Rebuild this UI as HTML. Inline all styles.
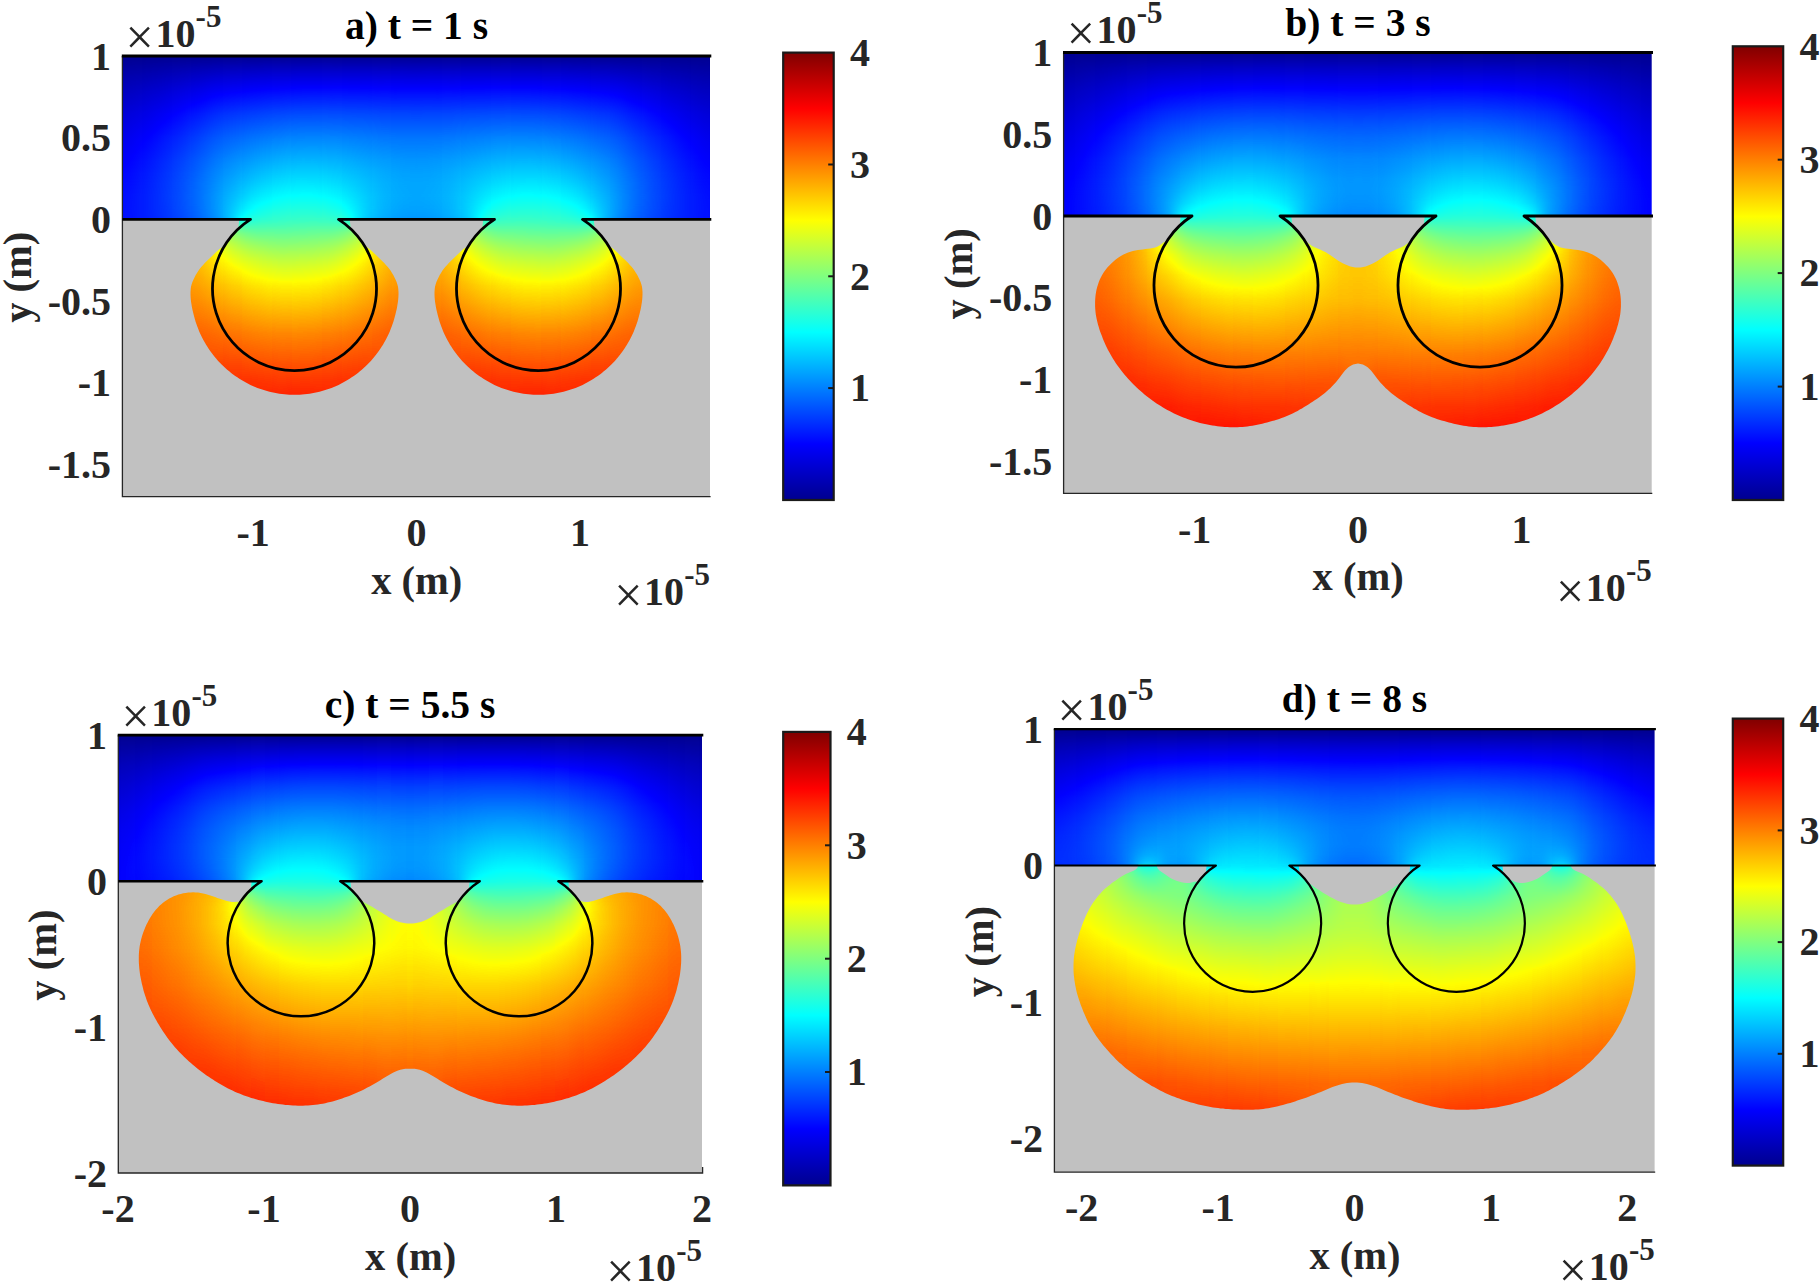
<!DOCTYPE html><html><head><meta charset="utf-8"><title>figure</title><style>html,body{margin:0;padding:0;background:#fff}svg{display:block}text{font-family:"Liberation Serif",serif;font-weight:bold;fill:#262626}</style></head><body>
<svg width="1820" height="1284" viewBox="0 0 1820 1284">
<defs><filter id="jt" x="-5%" y="-5%" width="110%" height="110%" color-interpolation-filters="sRGB"><feGaussianBlur stdDeviation="4 0"/><feComponentTransfer><feFuncR type="table" tableValues="0 0 0 0 .5"/><feFuncG type="table" tableValues="0 0 .5 1 1"/><feFuncB type="table" tableValues=".56 1 1 1 .5"/></feComponentTransfer></filter><filter id="jl" x="-5%" y="-5%" width="110%" height="110%" color-interpolation-filters="sRGB"><feGaussianBlur stdDeviation="5 0"/><feComponentTransfer><feFuncR type="table" tableValues="0 0 .5 1 1 1 .5"/><feFuncG type="table" tableValues=".5 1 1 1 .5 0 0"/><feFuncB type="table" tableValues="1 1 .5 0 0 0 0"/></feComponentTransfer></filter><linearGradient id="cbg" x1="0" x2="0" y1="1" y2="0"><stop offset="0" stop-color="#00008f"/><stop offset=".125" stop-color="#0000ff"/><stop offset=".375" stop-color="#00ffff"/><stop offset=".625" stop-color="#ffff00"/><stop offset=".875" stop-color="#ff0000"/><stop offset="1" stop-color="#800000"/></linearGradient></defs>
<rect width="1820" height="1284" fill="#fff"/>
<g id="panel-a">
<defs><linearGradient id="a0" x2="0" y2="1"><stop offset="0" stop-color="#000000"/><stop offset=".002" stop-color="#010101"/><stop offset=".039" stop-color="#060606"/><stop offset=".1" stop-color="#0e0e0e"/><stop offset=".162" stop-color="#161616"/><stop offset=".223" stop-color="#1d1d1d"/><stop offset=".357" stop-color="#2a2a2a"/><stop offset=".504" stop-color="#363636"/><stop offset=".639" stop-color="#3e3e3e"/><stop offset=".712" stop-color="#424242"/><stop offset=".774" stop-color="#444444"/><stop offset=".859" stop-color="#464646"/><stop offset=".933" stop-color="#474747"/><stop offset=".969" stop-color="#474747"/><stop offset="1" stop-color="#474747"/></linearGradient><linearGradient id="a1" x2="0" y2="1"><stop offset="0" stop-color="#000000"/><stop offset=".002" stop-color="#010101"/><stop offset=".039" stop-color="#060606"/><stop offset=".1" stop-color="#0f0f0f"/><stop offset=".162" stop-color="#161616"/><stop offset=".223" stop-color="#1d1d1d"/><stop offset=".357" stop-color="#2a2a2a"/><stop offset=".504" stop-color="#363636"/><stop offset=".639" stop-color="#3e3e3e"/><stop offset=".712" stop-color="#414141"/><stop offset=".774" stop-color="#444444"/><stop offset=".859" stop-color="#464646"/><stop offset=".933" stop-color="#474747"/><stop offset=".969" stop-color="#484848"/><stop offset="1" stop-color="#484848"/></linearGradient><linearGradient id="a2" x2="0" y2="1"><stop offset="0" stop-color="#000000"/><stop offset=".002" stop-color="#010101"/><stop offset=".039" stop-color="#070707"/><stop offset=".1" stop-color="#0e0e0e"/><stop offset=".162" stop-color="#161616"/><stop offset=".223" stop-color="#1d1d1d"/><stop offset=".357" stop-color="#2a2a2a"/><stop offset=".504" stop-color="#353535"/><stop offset=".639" stop-color="#3e3e3e"/><stop offset=".712" stop-color="#424242"/><stop offset=".774" stop-color="#444444"/><stop offset=".859" stop-color="#464646"/><stop offset=".933" stop-color="#474747"/><stop offset=".969" stop-color="#474747"/><stop offset="1" stop-color="#474747"/></linearGradient><linearGradient id="a3" x2="0" y2="1"><stop offset="0" stop-color="#000000"/><stop offset=".002" stop-color="#010101"/><stop offset=".039" stop-color="#060606"/><stop offset=".1" stop-color="#101010"/><stop offset=".162" stop-color="#171717"/><stop offset=".223" stop-color="#1e1e1e"/><stop offset=".357" stop-color="#2d2d2d"/><stop offset=".504" stop-color="#393939"/><stop offset=".639" stop-color="#414141"/><stop offset=".712" stop-color="#444444"/><stop offset=".774" stop-color="#464646"/><stop offset=".859" stop-color="#494949"/><stop offset=".933" stop-color="#4a4a4a"/><stop offset=".969" stop-color="#494949"/><stop offset="1" stop-color="#494949"/></linearGradient><linearGradient id="a4" x2="0" y2="1"><stop offset="0" stop-color="#000000"/><stop offset=".002" stop-color="#010101"/><stop offset=".039" stop-color="#070707"/><stop offset=".1" stop-color="#101010"/><stop offset=".162" stop-color="#191919"/><stop offset=".223" stop-color="#202020"/><stop offset=".357" stop-color="#2f2f2f"/><stop offset=".504" stop-color="#3c3c3c"/><stop offset=".639" stop-color="#444444"/><stop offset=".712" stop-color="#484848"/><stop offset=".774" stop-color="#4a4a4a"/><stop offset=".859" stop-color="#4c4c4c"/><stop offset=".933" stop-color="#4c4c4c"/><stop offset=".969" stop-color="#4c4c4c"/><stop offset="1" stop-color="#4c4c4c"/></linearGradient><linearGradient id="a5" x2="0" y2="1"><stop offset="0" stop-color="#000000"/><stop offset=".002" stop-color="#010101"/><stop offset=".039" stop-color="#070707"/><stop offset=".1" stop-color="#111111"/><stop offset=".162" stop-color="#191919"/><stop offset=".223" stop-color="#222222"/><stop offset=".357" stop-color="#313131"/><stop offset=".504" stop-color="#3e3e3e"/><stop offset=".639" stop-color="#474747"/><stop offset=".712" stop-color="#4a4a4a"/><stop offset=".774" stop-color="#4c4c4c"/><stop offset=".859" stop-color="#4e4e4e"/><stop offset=".933" stop-color="#4e4e4e"/><stop offset=".969" stop-color="#4e4e4e"/><stop offset="1" stop-color="#4d4d4d"/></linearGradient><linearGradient id="a6" x2="0" y2="1"><stop offset="0" stop-color="#000000"/><stop offset=".002" stop-color="#010101"/><stop offset=".039" stop-color="#080808"/><stop offset=".1" stop-color="#121212"/><stop offset=".162" stop-color="#1c1c1c"/><stop offset=".223" stop-color="#242424"/><stop offset=".357" stop-color="#333333"/><stop offset=".504" stop-color="#414141"/><stop offset=".639" stop-color="#4a4a4a"/><stop offset=".712" stop-color="#4e4e4e"/><stop offset=".774" stop-color="#505050"/><stop offset=".859" stop-color="#515151"/><stop offset=".933" stop-color="#515151"/><stop offset=".969" stop-color="#515151"/><stop offset="1" stop-color="#505050"/></linearGradient><linearGradient id="a7" x2="0" y2="1"><stop offset="0" stop-color="#000000"/><stop offset=".002" stop-color="#010101"/><stop offset=".039" stop-color="#080808"/><stop offset=".1" stop-color="#131313"/><stop offset=".162" stop-color="#1d1d1d"/><stop offset=".223" stop-color="#262626"/><stop offset=".357" stop-color="#373737"/><stop offset=".504" stop-color="#444444"/><stop offset=".639" stop-color="#4e4e4e"/><stop offset=".712" stop-color="#515151"/><stop offset=".774" stop-color="#535353"/><stop offset=".859" stop-color="#555555"/><stop offset=".933" stop-color="#555555"/><stop offset=".969" stop-color="#535353"/><stop offset="1" stop-color="#535353"/></linearGradient><linearGradient id="a8" x2="0" y2="1"><stop offset="0" stop-color="#000000"/><stop offset=".002" stop-color="#010101"/><stop offset=".039" stop-color="#090909"/><stop offset=".1" stop-color="#141414"/><stop offset=".162" stop-color="#1e1e1e"/><stop offset=".223" stop-color="#272727"/><stop offset=".357" stop-color="#393939"/><stop offset=".504" stop-color="#484848"/><stop offset=".639" stop-color="#525252"/><stop offset=".712" stop-color="#555555"/><stop offset=".774" stop-color="#585858"/><stop offset=".859" stop-color="#585858"/><stop offset=".933" stop-color="#585858"/><stop offset=".969" stop-color="#585858"/><stop offset="1" stop-color="#565656"/></linearGradient><linearGradient id="a9" x2="0" y2="1"><stop offset="0" stop-color="#000000"/><stop offset=".002" stop-color="#010101"/><stop offset=".039" stop-color="#090909"/><stop offset=".1" stop-color="#151515"/><stop offset=".162" stop-color="#202020"/><stop offset=".223" stop-color="#2a2a2a"/><stop offset=".357" stop-color="#3c3c3c"/><stop offset=".504" stop-color="#4c4c4c"/><stop offset=".639" stop-color="#555555"/><stop offset=".712" stop-color="#5a5a5a"/><stop offset=".774" stop-color="#5b5b5b"/><stop offset=".859" stop-color="#5d5d5d"/><stop offset=".933" stop-color="#5b5b5b"/><stop offset=".969" stop-color="#5a5a5a"/><stop offset="1" stop-color="#595959"/></linearGradient><linearGradient id="a10" x2="0" y2="1"><stop offset="0" stop-color="#000000"/><stop offset=".002" stop-color="#010101"/><stop offset=".039" stop-color="#0a0a0a"/><stop offset=".1" stop-color="#161616"/><stop offset=".162" stop-color="#222222"/><stop offset=".223" stop-color="#2c2c2c"/><stop offset=".357" stop-color="#3f3f3f"/><stop offset=".504" stop-color="#4f4f4f"/><stop offset=".639" stop-color="#5a5a5a"/><stop offset=".712" stop-color="#5d5d5d"/><stop offset=".774" stop-color="#606060"/><stop offset=".859" stop-color="#616161"/><stop offset=".933" stop-color="#606060"/><stop offset=".969" stop-color="#5f5f5f"/><stop offset="1" stop-color="#5e5e5e"/></linearGradient><linearGradient id="a11" x2="0" y2="1"><stop offset="0" stop-color="#000000"/><stop offset=".002" stop-color="#020202"/><stop offset=".039" stop-color="#0a0a0a"/><stop offset=".1" stop-color="#181818"/><stop offset=".162" stop-color="#232323"/><stop offset=".223" stop-color="#2e2e2e"/><stop offset=".357" stop-color="#424242"/><stop offset=".504" stop-color="#535353"/><stop offset=".639" stop-color="#5e5e5e"/><stop offset=".712" stop-color="#626262"/><stop offset=".774" stop-color="#646464"/><stop offset=".859" stop-color="#656565"/><stop offset=".933" stop-color="#656565"/><stop offset=".969" stop-color="#636363"/><stop offset="1" stop-color="#616161"/></linearGradient><linearGradient id="a12" x2="0" y2="1"><stop offset="0" stop-color="#000000"/><stop offset=".002" stop-color="#010101"/><stop offset=".039" stop-color="#0a0a0a"/><stop offset=".1" stop-color="#181818"/><stop offset=".162" stop-color="#252525"/><stop offset=".223" stop-color="#313131"/><stop offset=".357" stop-color="#454545"/><stop offset=".504" stop-color="#565656"/><stop offset=".639" stop-color="#626262"/><stop offset=".712" stop-color="#676767"/><stop offset=".774" stop-color="#696969"/><stop offset=".859" stop-color="#6a6a6a"/><stop offset=".933" stop-color="#696969"/><stop offset=".969" stop-color="#676767"/><stop offset="1" stop-color="#666666"/></linearGradient><linearGradient id="a13" x2="0" y2="1"><stop offset="0" stop-color="#000000"/><stop offset=".002" stop-color="#010101"/><stop offset=".039" stop-color="#0b0b0b"/><stop offset=".1" stop-color="#1a1a1a"/><stop offset=".162" stop-color="#272727"/><stop offset=".223" stop-color="#323232"/><stop offset=".357" stop-color="#494949"/><stop offset=".504" stop-color="#5b5b5b"/><stop offset=".639" stop-color="#676767"/><stop offset=".712" stop-color="#6b6b6b"/><stop offset=".774" stop-color="#6e6e6e"/><stop offset=".859" stop-color="#707070"/><stop offset=".933" stop-color="#6e6e6e"/><stop offset=".969" stop-color="#6d6d6d"/><stop offset="1" stop-color="#6a6a6a"/></linearGradient><linearGradient id="a14" x2="0" y2="1"><stop offset="0" stop-color="#000000"/><stop offset=".002" stop-color="#020202"/><stop offset=".039" stop-color="#0c0c0c"/><stop offset=".1" stop-color="#1b1b1b"/><stop offset=".162" stop-color="#282828"/><stop offset=".223" stop-color="#353535"/><stop offset=".357" stop-color="#4b4b4b"/><stop offset=".504" stop-color="#5e5e5e"/><stop offset=".639" stop-color="#6b6b6b"/><stop offset=".712" stop-color="#707070"/><stop offset=".774" stop-color="#737373"/><stop offset=".859" stop-color="#747474"/><stop offset=".933" stop-color="#737373"/><stop offset=".969" stop-color="#727272"/><stop offset="1" stop-color="#707070"/></linearGradient><linearGradient id="a15" x2="0" y2="1"><stop offset="0" stop-color="#000000"/><stop offset=".002" stop-color="#010101"/><stop offset=".039" stop-color="#0c0c0c"/><stop offset=".1" stop-color="#1c1c1c"/><stop offset=".162" stop-color="#2a2a2a"/><stop offset=".223" stop-color="#363636"/><stop offset=".357" stop-color="#4e4e4e"/><stop offset=".504" stop-color="#626262"/><stop offset=".639" stop-color="#707070"/><stop offset=".712" stop-color="#757575"/><stop offset=".774" stop-color="#797979"/><stop offset=".859" stop-color="#7b7b7b"/><stop offset=".933" stop-color="#7a7a7a"/><stop offset=".969" stop-color="#787878"/><stop offset="1" stop-color="#767676"/></linearGradient><linearGradient id="a16" x2="0" y2="1"><stop offset="0" stop-color="#000000"/><stop offset=".002" stop-color="#020202"/><stop offset=".039" stop-color="#0c0c0c"/><stop offset=".1" stop-color="#1d1d1d"/><stop offset=".162" stop-color="#2c2c2c"/><stop offset=".223" stop-color="#393939"/><stop offset=".357" stop-color="#515151"/><stop offset=".504" stop-color="#676767"/><stop offset=".639" stop-color="#747474"/><stop offset=".712" stop-color="#7b7b7b"/><stop offset=".774" stop-color="#7e7e7e"/><stop offset=".859" stop-color="#818181"/><stop offset=".933" stop-color="#818181"/><stop offset=".969" stop-color="#7f7f7f"/><stop offset="1" stop-color="#7d7d7d"/></linearGradient><linearGradient id="a17" x2="0" y2="1"><stop offset="0" stop-color="#000000"/><stop offset=".002" stop-color="#020202"/><stop offset=".039" stop-color="#0d0d0d"/><stop offset=".1" stop-color="#1e1e1e"/><stop offset=".162" stop-color="#2e2e2e"/><stop offset=".223" stop-color="#3c3c3c"/><stop offset=".357" stop-color="#555555"/><stop offset=".504" stop-color="#6a6a6a"/><stop offset=".639" stop-color="#7a7a7a"/><stop offset=".712" stop-color="#808080"/><stop offset=".774" stop-color="#848484"/><stop offset=".859" stop-color="#888888"/><stop offset=".933" stop-color="#888888"/><stop offset=".969" stop-color="#868686"/><stop offset="1" stop-color="#848484"/></linearGradient><linearGradient id="a18" x2="0" y2="1"><stop offset="0" stop-color="#000000"/><stop offset=".002" stop-color="#010101"/><stop offset=".039" stop-color="#0e0e0e"/><stop offset=".1" stop-color="#1f1f1f"/><stop offset=".162" stop-color="#2f2f2f"/><stop offset=".223" stop-color="#3d3d3d"/><stop offset=".357" stop-color="#575757"/><stop offset=".504" stop-color="#6e6e6e"/><stop offset=".639" stop-color="#7e7e7e"/><stop offset=".712" stop-color="#858585"/><stop offset=".774" stop-color="#8a8a8a"/><stop offset=".859" stop-color="#8f8f8f"/><stop offset=".933" stop-color="#909090"/><stop offset=".969" stop-color="#8f8f8f"/><stop offset="1" stop-color="#8d8d8d"/></linearGradient><linearGradient id="a19" x2="0" y2="1"><stop offset="0" stop-color="#000000"/><stop offset=".002" stop-color="#020202"/><stop offset=".039" stop-color="#0e0e0e"/><stop offset=".1" stop-color="#202020"/><stop offset=".162" stop-color="#303030"/><stop offset=".223" stop-color="#3e3e3e"/><stop offset=".357" stop-color="#5a5a5a"/><stop offset=".504" stop-color="#707070"/><stop offset=".639" stop-color="#818181"/><stop offset=".712" stop-color="#898989"/><stop offset=".774" stop-color="#8f8f8f"/><stop offset=".859" stop-color="#969696"/><stop offset=".933" stop-color="#999999"/><stop offset=".969" stop-color="#999999"/><stop offset="1" stop-color="#979797"/></linearGradient><linearGradient id="a20" x2="0" y2="1"><stop offset="0" stop-color="#000000"/><stop offset=".002" stop-color="#020202"/><stop offset=".039" stop-color="#0e0e0e"/><stop offset=".1" stop-color="#212121"/><stop offset=".162" stop-color="#313131"/><stop offset=".223" stop-color="#404040"/><stop offset=".357" stop-color="#5a5a5a"/><stop offset=".504" stop-color="#737373"/><stop offset=".639" stop-color="#858585"/><stop offset=".712" stop-color="#8d8d8d"/><stop offset=".774" stop-color="#939393"/><stop offset=".859" stop-color="#9c9c9c"/><stop offset=".933" stop-color="#a2a2a2"/><stop offset=".969" stop-color="#a4a4a4"/><stop offset="1" stop-color="#a3a3a3"/></linearGradient><linearGradient id="a21" x2="0" y2="1"><stop offset="0" stop-color="#000000"/><stop offset=".002" stop-color="#020202"/><stop offset=".039" stop-color="#0e0e0e"/><stop offset=".1" stop-color="#212121"/><stop offset=".162" stop-color="#313131"/><stop offset=".223" stop-color="#404040"/><stop offset=".357" stop-color="#5c5c5c"/><stop offset=".504" stop-color="#747474"/><stop offset=".639" stop-color="#878787"/><stop offset=".712" stop-color="#909090"/><stop offset=".774" stop-color="#989898"/><stop offset=".859" stop-color="#a1a1a1"/><stop offset=".933" stop-color="#aaaaaa"/><stop offset=".969" stop-color="#afafaf"/><stop offset="1" stop-color="#b4b4b4"/></linearGradient><linearGradient id="a22" x2="0" y2="1"><stop offset="0" stop-color="#000000"/><stop offset=".002" stop-color="#020202"/><stop offset=".039" stop-color="#0f0f0f"/><stop offset=".1" stop-color="#212121"/><stop offset=".162" stop-color="#323232"/><stop offset=".223" stop-color="#414141"/><stop offset=".357" stop-color="#5d5d5d"/><stop offset=".504" stop-color="#767676"/><stop offset=".639" stop-color="#8a8a8a"/><stop offset=".712" stop-color="#949494"/><stop offset=".774" stop-color="#9c9c9c"/><stop offset=".859" stop-color="#a7a7a7"/><stop offset=".933" stop-color="#b4b4b4"/><stop offset=".969" stop-color="#bdbdbd"/><stop offset="1" stop-color="#c8c8c8"/></linearGradient><linearGradient id="a23" x2="0" y2="1"><stop offset="0" stop-color="#000000"/><stop offset=".002" stop-color="#010101"/><stop offset=".039" stop-color="#0e0e0e"/><stop offset=".1" stop-color="#222222"/><stop offset=".162" stop-color="#333333"/><stop offset=".223" stop-color="#424242"/><stop offset=".357" stop-color="#5f5f5f"/><stop offset=".504" stop-color="#797979"/><stop offset=".639" stop-color="#8d8d8d"/><stop offset=".712" stop-color="#979797"/><stop offset=".774" stop-color="#a0a0a0"/><stop offset=".859" stop-color="#aeaeae"/><stop offset=".933" stop-color="#bbbbbb"/><stop offset=".969" stop-color="#c5c5c5"/><stop offset="1" stop-color="#cecece"/></linearGradient><linearGradient id="a24" x2="0" y2="1"><stop offset="0" stop-color="#000000"/><stop offset=".002" stop-color="#020202"/><stop offset=".039" stop-color="#0f0f0f"/><stop offset=".1" stop-color="#222222"/><stop offset=".162" stop-color="#343434"/><stop offset=".223" stop-color="#434343"/><stop offset=".357" stop-color="#5f5f5f"/><stop offset=".504" stop-color="#7a7a7a"/><stop offset=".639" stop-color="#8f8f8f"/><stop offset=".712" stop-color="#9b9b9b"/><stop offset=".774" stop-color="#a4a4a4"/><stop offset=".859" stop-color="#b2b2b2"/><stop offset=".933" stop-color="#c1c1c1"/><stop offset=".969" stop-color="#c9c9c9"/><stop offset="1" stop-color="#d2d2d2"/></linearGradient><linearGradient id="a25" x2="0" y2="1"><stop offset="0" stop-color="#000000"/><stop offset=".002" stop-color="#020202"/><stop offset=".039" stop-color="#0f0f0f"/><stop offset=".1" stop-color="#232323"/><stop offset=".162" stop-color="#343434"/><stop offset=".223" stop-color="#434343"/><stop offset=".357" stop-color="#616161"/><stop offset=".504" stop-color="#7c7c7c"/><stop offset=".639" stop-color="#929292"/><stop offset=".712" stop-color="#9d9d9d"/><stop offset=".774" stop-color="#a7a7a7"/><stop offset=".859" stop-color="#b6b6b6"/><stop offset=".933" stop-color="#c5c5c5"/><stop offset=".969" stop-color="#cdcdcd"/><stop offset="1" stop-color="#d4d4d4"/></linearGradient><linearGradient id="a26" x2="0" y2="1"><stop offset="0" stop-color="#000000"/><stop offset=".002" stop-color="#020202"/><stop offset=".039" stop-color="#101010"/><stop offset=".1" stop-color="#232323"/><stop offset=".162" stop-color="#343434"/><stop offset=".223" stop-color="#454545"/><stop offset=".357" stop-color="#626262"/><stop offset=".504" stop-color="#7d7d7d"/><stop offset=".639" stop-color="#949494"/><stop offset=".712" stop-color="#a0a0a0"/><stop offset=".774" stop-color="#aaaaaa"/><stop offset=".859" stop-color="#b9b9b9"/><stop offset=".933" stop-color="#c7c7c7"/><stop offset=".969" stop-color="#cfcfcf"/><stop offset="1" stop-color="#d6d6d6"/></linearGradient><linearGradient id="a27" x2="0" y2="1"><stop offset="0" stop-color="#000000"/><stop offset=".002" stop-color="#020202"/><stop offset=".039" stop-color="#0f0f0f"/><stop offset=".1" stop-color="#242424"/><stop offset=".162" stop-color="#363636"/><stop offset=".223" stop-color="#454545"/><stop offset=".357" stop-color="#636363"/><stop offset=".504" stop-color="#7f7f7f"/><stop offset=".639" stop-color="#959595"/><stop offset=".712" stop-color="#a2a2a2"/><stop offset=".774" stop-color="#acacac"/><stop offset=".859" stop-color="#bbbbbb"/><stop offset=".933" stop-color="#cacaca"/><stop offset=".969" stop-color="#d2d2d2"/><stop offset="1" stop-color="#d8d8d8"/></linearGradient><linearGradient id="a28" x2="0" y2="1"><stop offset="0" stop-color="#000000"/><stop offset=".002" stop-color="#020202"/><stop offset=".039" stop-color="#101010"/><stop offset=".1" stop-color="#242424"/><stop offset=".162" stop-color="#353535"/><stop offset=".223" stop-color="#454545"/><stop offset=".357" stop-color="#646464"/><stop offset=".504" stop-color="#7f7f7f"/><stop offset=".639" stop-color="#979797"/><stop offset=".712" stop-color="#a3a3a3"/><stop offset=".774" stop-color="#aeaeae"/><stop offset=".859" stop-color="#bebebe"/><stop offset=".933" stop-color="#cbcbcb"/><stop offset=".969" stop-color="#d2d2d2"/><stop offset="1" stop-color="#d8d8d8"/></linearGradient><linearGradient id="a29" x2="0" y2="1"><stop offset="0" stop-color="#000000"/><stop offset=".002" stop-color="#020202"/><stop offset=".039" stop-color="#0f0f0f"/><stop offset=".1" stop-color="#242424"/><stop offset=".162" stop-color="#363636"/><stop offset=".223" stop-color="#464646"/><stop offset=".357" stop-color="#646464"/><stop offset=".504" stop-color="#818181"/><stop offset=".639" stop-color="#999999"/><stop offset=".712" stop-color="#a5a5a5"/><stop offset=".774" stop-color="#b0b0b0"/><stop offset=".859" stop-color="#bfbfbf"/><stop offset=".933" stop-color="#cdcdcd"/><stop offset=".969" stop-color="#d4d4d4"/><stop offset="1" stop-color="#dadada"/></linearGradient><linearGradient id="a30" x2="0" y2="1"><stop offset="0" stop-color="#000000"/><stop offset=".002" stop-color="#020202"/><stop offset=".039" stop-color="#101010"/><stop offset=".1" stop-color="#242424"/><stop offset=".162" stop-color="#363636"/><stop offset=".223" stop-color="#464646"/><stop offset=".357" stop-color="#656565"/><stop offset=".504" stop-color="#828282"/><stop offset=".639" stop-color="#999999"/><stop offset=".712" stop-color="#a6a6a6"/><stop offset=".774" stop-color="#b0b0b0"/><stop offset=".859" stop-color="#c0c0c0"/><stop offset=".933" stop-color="#cdcdcd"/><stop offset=".969" stop-color="#d4d4d4"/><stop offset="1" stop-color="#dadada"/></linearGradient><linearGradient id="a31" x2="0" y2="1"><stop offset="0" stop-color="#000000"/><stop offset=".002" stop-color="#020202"/><stop offset=".039" stop-color="#101010"/><stop offset=".1" stop-color="#242424"/><stop offset=".162" stop-color="#373737"/><stop offset=".223" stop-color="#474747"/><stop offset=".357" stop-color="#666666"/><stop offset=".504" stop-color="#828282"/><stop offset=".639" stop-color="#9a9a9a"/><stop offset=".712" stop-color="#a7a7a7"/><stop offset=".774" stop-color="#b2b2b2"/><stop offset=".859" stop-color="#c0c0c0"/><stop offset=".933" stop-color="#cfcfcf"/><stop offset=".969" stop-color="#d5d5d5"/><stop offset="1" stop-color="#dadada"/></linearGradient><linearGradient id="a32" x2="0" y2="1"><stop offset="0" stop-color="#000000"/><stop offset=".002" stop-color="#020202"/><stop offset=".039" stop-color="#101010"/><stop offset=".1" stop-color="#252525"/><stop offset=".162" stop-color="#373737"/><stop offset=".223" stop-color="#474747"/><stop offset=".357" stop-color="#666666"/><stop offset=".504" stop-color="#828282"/><stop offset=".639" stop-color="#9b9b9b"/><stop offset=".712" stop-color="#a7a7a7"/><stop offset=".774" stop-color="#b2b2b2"/><stop offset=".859" stop-color="#c1c1c1"/><stop offset=".933" stop-color="#cecece"/><stop offset=".969" stop-color="#d5d5d5"/><stop offset="1" stop-color="#dbdbdb"/></linearGradient><linearGradient id="a33" x2="0" y2="1"><stop offset="0" stop-color="#000000"/><stop offset=".002" stop-color="#030303"/><stop offset=".039" stop-color="#101010"/><stop offset=".1" stop-color="#252525"/><stop offset=".162" stop-color="#373737"/><stop offset=".223" stop-color="#474747"/><stop offset=".357" stop-color="#666666"/><stop offset=".504" stop-color="#838383"/><stop offset=".639" stop-color="#9a9a9a"/><stop offset=".712" stop-color="#a7a7a7"/><stop offset=".774" stop-color="#b1b1b1"/><stop offset=".859" stop-color="#c1c1c1"/><stop offset=".933" stop-color="#cecece"/><stop offset=".969" stop-color="#d6d6d6"/><stop offset="1" stop-color="#dbdbdb"/></linearGradient><linearGradient id="a34" x2="0" y2="1"><stop offset="0" stop-color="#000000"/><stop offset=".002" stop-color="#020202"/><stop offset=".039" stop-color="#101010"/><stop offset=".1" stop-color="#252525"/><stop offset=".162" stop-color="#373737"/><stop offset=".223" stop-color="#484848"/><stop offset=".357" stop-color="#666666"/><stop offset=".504" stop-color="#838383"/><stop offset=".639" stop-color="#9b9b9b"/><stop offset=".712" stop-color="#a7a7a7"/><stop offset=".774" stop-color="#b2b2b2"/><stop offset=".859" stop-color="#c1c1c1"/><stop offset=".933" stop-color="#cecece"/><stop offset=".969" stop-color="#d5d5d5"/><stop offset="1" stop-color="#dbdbdb"/></linearGradient><linearGradient id="a35" x2="0" y2="1"><stop offset="0" stop-color="#000000"/><stop offset=".002" stop-color="#020202"/><stop offset=".039" stop-color="#101010"/><stop offset=".1" stop-color="#252525"/><stop offset=".162" stop-color="#373737"/><stop offset=".223" stop-color="#474747"/><stop offset=".357" stop-color="#666666"/><stop offset=".504" stop-color="#838383"/><stop offset=".639" stop-color="#9a9a9a"/><stop offset=".712" stop-color="#a7a7a7"/><stop offset=".774" stop-color="#b0b0b0"/><stop offset=".859" stop-color="#bfbfbf"/><stop offset=".933" stop-color="#cecece"/><stop offset=".969" stop-color="#d4d4d4"/><stop offset="1" stop-color="#dbdbdb"/></linearGradient><linearGradient id="a36" x2="0" y2="1"><stop offset="0" stop-color="#000000"/><stop offset=".002" stop-color="#020202"/><stop offset=".039" stop-color="#111111"/><stop offset=".1" stop-color="#252525"/><stop offset=".162" stop-color="#373737"/><stop offset=".223" stop-color="#484848"/><stop offset=".357" stop-color="#676767"/><stop offset=".504" stop-color="#828282"/><stop offset=".639" stop-color="#999999"/><stop offset=".712" stop-color="#a5a5a5"/><stop offset=".774" stop-color="#b0b0b0"/><stop offset=".859" stop-color="#bebebe"/><stop offset=".933" stop-color="#cccccc"/><stop offset=".969" stop-color="#d4d4d4"/><stop offset="1" stop-color="#dadada"/></linearGradient><linearGradient id="a37" x2="0" y2="1"><stop offset="0" stop-color="#000000"/><stop offset=".002" stop-color="#020202"/><stop offset=".039" stop-color="#101010"/><stop offset=".1" stop-color="#252525"/><stop offset=".162" stop-color="#373737"/><stop offset=".223" stop-color="#474747"/><stop offset=".357" stop-color="#666666"/><stop offset=".504" stop-color="#838383"/><stop offset=".639" stop-color="#999999"/><stop offset=".712" stop-color="#a5a5a5"/><stop offset=".774" stop-color="#aeaeae"/><stop offset=".859" stop-color="#bdbdbd"/><stop offset=".933" stop-color="#cacaca"/><stop offset=".969" stop-color="#d2d2d2"/><stop offset="1" stop-color="#dadada"/></linearGradient><linearGradient id="a38" x2="0" y2="1"><stop offset="0" stop-color="#000000"/><stop offset=".002" stop-color="#020202"/><stop offset=".039" stop-color="#101010"/><stop offset=".1" stop-color="#242424"/><stop offset=".162" stop-color="#383838"/><stop offset=".223" stop-color="#484848"/><stop offset=".357" stop-color="#666666"/><stop offset=".504" stop-color="#828282"/><stop offset=".639" stop-color="#989898"/><stop offset=".712" stop-color="#a3a3a3"/><stop offset=".774" stop-color="#adadad"/><stop offset=".859" stop-color="#bababa"/><stop offset=".933" stop-color="#c8c8c8"/><stop offset=".969" stop-color="#d0d0d0"/><stop offset="1" stop-color="#d8d8d8"/></linearGradient><linearGradient id="a39" x2="0" y2="1"><stop offset="0" stop-color="#000000"/><stop offset=".002" stop-color="#020202"/><stop offset=".039" stop-color="#101010"/><stop offset=".1" stop-color="#252525"/><stop offset=".162" stop-color="#373737"/><stop offset=".223" stop-color="#474747"/><stop offset=".357" stop-color="#666666"/><stop offset=".504" stop-color="#818181"/><stop offset=".639" stop-color="#979797"/><stop offset=".712" stop-color="#a2a2a2"/><stop offset=".774" stop-color="#aaaaaa"/><stop offset=".859" stop-color="#b7b7b7"/><stop offset=".933" stop-color="#c4c4c4"/><stop offset=".969" stop-color="#cccccc"/><stop offset="1" stop-color="#d5d5d5"/></linearGradient><linearGradient id="a40" x2="0" y2="1"><stop offset="0" stop-color="#000000"/><stop offset=".002" stop-color="#020202"/><stop offset=".039" stop-color="#101010"/><stop offset=".1" stop-color="#252525"/><stop offset=".162" stop-color="#373737"/><stop offset=".223" stop-color="#474747"/><stop offset=".357" stop-color="#656565"/><stop offset=".504" stop-color="#818181"/><stop offset=".639" stop-color="#969696"/><stop offset=".712" stop-color="#9f9f9f"/><stop offset=".774" stop-color="#a8a8a8"/><stop offset=".859" stop-color="#b3b3b3"/><stop offset=".933" stop-color="#bdbdbd"/><stop offset=".969" stop-color="#c5c5c5"/><stop offset="1" stop-color="#cdcdcd"/></linearGradient><linearGradient id="a41" x2="0" y2="1"><stop offset="0" stop-color="#000000"/><stop offset=".002" stop-color="#020202"/><stop offset=".039" stop-color="#101010"/><stop offset=".1" stop-color="#252525"/><stop offset=".162" stop-color="#373737"/><stop offset=".223" stop-color="#474747"/><stop offset=".357" stop-color="#656565"/><stop offset=".504" stop-color="#7f7f7f"/><stop offset=".639" stop-color="#949494"/><stop offset=".712" stop-color="#9e9e9e"/><stop offset=".774" stop-color="#a5a5a5"/><stop offset=".859" stop-color="#aeaeae"/><stop offset=".933" stop-color="#b6b6b6"/><stop offset=".969" stop-color="#b9b9b9"/><stop offset="1" stop-color="#bbbbbb"/></linearGradient><linearGradient id="a42" x2="0" y2="1"><stop offset="0" stop-color="#000000"/><stop offset=".002" stop-color="#020202"/><stop offset=".039" stop-color="#101010"/><stop offset=".1" stop-color="#252525"/><stop offset=".162" stop-color="#363636"/><stop offset=".223" stop-color="#474747"/><stop offset=".357" stop-color="#656565"/><stop offset=".504" stop-color="#808080"/><stop offset=".639" stop-color="#929292"/><stop offset=".712" stop-color="#9c9c9c"/><stop offset=".774" stop-color="#a2a2a2"/><stop offset=".859" stop-color="#aaaaaa"/><stop offset=".933" stop-color="#aeaeae"/><stop offset=".969" stop-color="#afafaf"/><stop offset="1" stop-color="#adadad"/></linearGradient><linearGradient id="a43" x2="0" y2="1"><stop offset="0" stop-color="#000000"/><stop offset=".002" stop-color="#020202"/><stop offset=".039" stop-color="#101010"/><stop offset=".1" stop-color="#242424"/><stop offset=".162" stop-color="#373737"/><stop offset=".223" stop-color="#474747"/><stop offset=".357" stop-color="#656565"/><stop offset=".504" stop-color="#7e7e7e"/><stop offset=".639" stop-color="#929292"/><stop offset=".712" stop-color="#999999"/><stop offset=".774" stop-color="#9f9f9f"/><stop offset=".859" stop-color="#a5a5a5"/><stop offset=".933" stop-color="#a7a7a7"/><stop offset=".969" stop-color="#a6a6a6"/><stop offset="1" stop-color="#a4a4a4"/></linearGradient><linearGradient id="a44" x2="0" y2="1"><stop offset="0" stop-color="#000000"/><stop offset=".002" stop-color="#030303"/><stop offset=".039" stop-color="#101010"/><stop offset=".1" stop-color="#252525"/><stop offset=".162" stop-color="#373737"/><stop offset=".223" stop-color="#464646"/><stop offset=".357" stop-color="#646464"/><stop offset=".504" stop-color="#7e7e7e"/><stop offset=".639" stop-color="#8f8f8f"/><stop offset=".712" stop-color="#989898"/><stop offset=".774" stop-color="#9d9d9d"/><stop offset=".859" stop-color="#a1a1a1"/><stop offset=".933" stop-color="#a2a2a2"/><stop offset=".969" stop-color="#a0a0a0"/><stop offset="1" stop-color="#9e9e9e"/></linearGradient><linearGradient id="a45" x2="0" y2="1"><stop offset="0" stop-color="#000000"/><stop offset=".002" stop-color="#020202"/><stop offset=".039" stop-color="#101010"/><stop offset=".1" stop-color="#242424"/><stop offset=".162" stop-color="#363636"/><stop offset=".223" stop-color="#464646"/><stop offset=".357" stop-color="#646464"/><stop offset=".504" stop-color="#7d7d7d"/><stop offset=".639" stop-color="#8f8f8f"/><stop offset=".712" stop-color="#969696"/><stop offset=".774" stop-color="#9a9a9a"/><stop offset=".859" stop-color="#9e9e9e"/><stop offset=".933" stop-color="#9d9d9d"/><stop offset=".969" stop-color="#9b9b9b"/><stop offset="1" stop-color="#989898"/></linearGradient><linearGradient id="a46" x2="0" y2="1"><stop offset="0" stop-color="#000000"/><stop offset=".002" stop-color="#020202"/><stop offset=".039" stop-color="#101010"/><stop offset=".1" stop-color="#252525"/><stop offset=".162" stop-color="#363636"/><stop offset=".223" stop-color="#474747"/><stop offset=".357" stop-color="#636363"/><stop offset=".504" stop-color="#7c7c7c"/><stop offset=".639" stop-color="#8d8d8d"/><stop offset=".712" stop-color="#949494"/><stop offset=".774" stop-color="#989898"/><stop offset=".859" stop-color="#9a9a9a"/><stop offset=".933" stop-color="#999999"/><stop offset=".969" stop-color="#979797"/><stop offset="1" stop-color="#949494"/></linearGradient><linearGradient id="a47" x2="0" y2="1"><stop offset="0" stop-color="#000000"/><stop offset=".002" stop-color="#020202"/><stop offset=".039" stop-color="#101010"/><stop offset=".1" stop-color="#242424"/><stop offset=".162" stop-color="#373737"/><stop offset=".223" stop-color="#464646"/><stop offset=".357" stop-color="#636363"/><stop offset=".504" stop-color="#7c7c7c"/><stop offset=".639" stop-color="#8d8d8d"/><stop offset=".712" stop-color="#929292"/><stop offset=".774" stop-color="#969696"/><stop offset=".859" stop-color="#989898"/><stop offset=".933" stop-color="#969696"/><stop offset=".969" stop-color="#949494"/><stop offset="1" stop-color="#929292"/></linearGradient><linearGradient id="a48" x2="0" y2="1"><stop offset="0" stop-color="#000000"/><stop offset=".002" stop-color="#020202"/><stop offset=".039" stop-color="#101010"/><stop offset=".1" stop-color="#242424"/><stop offset=".162" stop-color="#363636"/><stop offset=".223" stop-color="#454545"/><stop offset=".357" stop-color="#636363"/><stop offset=".504" stop-color="#7b7b7b"/><stop offset=".639" stop-color="#8b8b8b"/><stop offset=".712" stop-color="#929292"/><stop offset=".774" stop-color="#959595"/><stop offset=".859" stop-color="#969696"/><stop offset=".933" stop-color="#949494"/><stop offset=".969" stop-color="#919191"/><stop offset="1" stop-color="#8e8e8e"/></linearGradient><linearGradient id="a49" x2="0" y2="1"><stop offset="0" stop-color="#000000"/><stop offset=".002" stop-color="#020202"/><stop offset=".039" stop-color="#101010"/><stop offset=".1" stop-color="#252525"/><stop offset=".162" stop-color="#363636"/><stop offset=".223" stop-color="#464646"/><stop offset=".357" stop-color="#636363"/><stop offset=".504" stop-color="#7b7b7b"/><stop offset=".639" stop-color="#8b8b8b"/><stop offset=".712" stop-color="#909090"/><stop offset=".774" stop-color="#939393"/><stop offset=".859" stop-color="#959595"/><stop offset=".933" stop-color="#929292"/><stop offset=".969" stop-color="#909090"/><stop offset="1" stop-color="#8d8d8d"/></linearGradient><linearGradient id="a50" x2="0" y2="1"><stop offset="0" stop-color="#000000"/><stop offset=".002" stop-color="#020202"/><stop offset=".039" stop-color="#101010"/><stop offset=".1" stop-color="#242424"/><stop offset=".162" stop-color="#363636"/><stop offset=".223" stop-color="#464646"/><stop offset=".357" stop-color="#636363"/><stop offset=".504" stop-color="#7b7b7b"/><stop offset=".639" stop-color="#8a8a8a"/><stop offset=".712" stop-color="#909090"/><stop offset=".774" stop-color="#939393"/><stop offset=".859" stop-color="#949494"/><stop offset=".933" stop-color="#919191"/><stop offset=".969" stop-color="#8e8e8e"/><stop offset="1" stop-color="#8c8c8c"/></linearGradient><linearGradient id="a51" x2="0" y2="1"><stop offset="0" stop-color="#000000"/><stop offset=".002" stop-color="#020202"/><stop offset=".039" stop-color="#0f0f0f"/><stop offset=".1" stop-color="#242424"/><stop offset=".162" stop-color="#363636"/><stop offset=".223" stop-color="#464646"/><stop offset=".357" stop-color="#626262"/><stop offset=".504" stop-color="#7b7b7b"/><stop offset=".639" stop-color="#8a8a8a"/><stop offset=".712" stop-color="#909090"/><stop offset=".774" stop-color="#939393"/><stop offset=".859" stop-color="#939393"/><stop offset=".933" stop-color="#919191"/><stop offset=".969" stop-color="#8e8e8e"/><stop offset="1" stop-color="#8b8b8b"/></linearGradient><linearGradient id="a11b" x2="0" y2="1"><stop offset=".018" stop-color="#868686"/><stop offset=".045" stop-color="#898989"/><stop offset=".062" stop-color="#8b8b8b"/><stop offset=".08" stop-color="#8c8c8c"/><stop offset=".098" stop-color="#8e8e8e"/><stop offset=".116" stop-color="#8e8e8e"/><stop offset=".151" stop-color="#919191"/><stop offset=".187" stop-color="#939393"/><stop offset=".205" stop-color="#949494"/><stop offset=".24" stop-color="#969696"/><stop offset=".294" stop-color="#979797"/><stop offset=".347" stop-color="#989898"/><stop offset=".383" stop-color="#9c9c9c"/><stop offset=".419" stop-color="#9c9c9c"/><stop offset=".615" stop-color="#a2a2a2"/><stop offset="1" stop-color="#b0b0b0"/></linearGradient><linearGradient id="a12b" x2="0" y2="1"><stop offset=".016" stop-color="#828282"/><stop offset=".04" stop-color="#848484"/><stop offset=".055" stop-color="#868686"/><stop offset=".071" stop-color="#878787"/><stop offset=".087" stop-color="#888888"/><stop offset=".103" stop-color="#8b8b8b"/><stop offset=".135" stop-color="#8d8d8d"/><stop offset=".166" stop-color="#909090"/><stop offset=".182" stop-color="#919191"/><stop offset=".214" stop-color="#939393"/><stop offset=".261" stop-color="#979797"/><stop offset=".309" stop-color="#979797"/><stop offset=".34" stop-color="#989898"/><stop offset=".372" stop-color="#9c9c9c"/><stop offset=".546" stop-color="#a2a2a2"/><stop offset=".926" stop-color="#b2b2b2"/><stop offset="1" stop-color="#b4b4b4"/></linearGradient><linearGradient id="a13b" x2="0" y2="1"><stop offset=".015" stop-color="#7e7e7e"/><stop offset=".036" stop-color="#7f7f7f"/><stop offset=".051" stop-color="#808080"/><stop offset=".065" stop-color="#828282"/><stop offset=".08" stop-color="#848484"/><stop offset=".095" stop-color="#858585"/><stop offset=".124" stop-color="#898989"/><stop offset=".153" stop-color="#8c8c8c"/><stop offset=".167" stop-color="#8d8d8d"/><stop offset=".196" stop-color="#909090"/><stop offset=".24" stop-color="#939393"/><stop offset=".284" stop-color="#979797"/><stop offset=".313" stop-color="#979797"/><stop offset=".342" stop-color="#989898"/><stop offset=".502" stop-color="#a2a2a2"/><stop offset=".851" stop-color="#b2b2b2"/><stop offset="1" stop-color="#b8b8b8"/></linearGradient><linearGradient id="a14b" x2="0" y2="1"><stop offset=".014" stop-color="#7a7a7a"/><stop offset=".034" stop-color="#7f7f7f"/><stop offset=".048" stop-color="#7f7f7f"/><stop offset=".062" stop-color="#7f7f7f"/><stop offset=".076" stop-color="#808080"/><stop offset=".089" stop-color="#818181"/><stop offset=".117" stop-color="#848484"/><stop offset=".144" stop-color="#878787"/><stop offset=".158" stop-color="#898989"/><stop offset=".185" stop-color="#8c8c8c"/><stop offset=".227" stop-color="#909090"/><stop offset=".268" stop-color="#939393"/><stop offset=".295" stop-color="#969696"/><stop offset=".323" stop-color="#979797"/><stop offset=".474" stop-color="#a0a0a0"/><stop offset=".803" stop-color="#b4b4b4"/><stop offset="1" stop-color="#bbbbbb"/></linearGradient><linearGradient id="a15b" x2="0" y2="1"><stop offset=".013" stop-color="#676767"/><stop offset=".033" stop-color="#6d6d6d"/><stop offset=".046" stop-color="#747474"/><stop offset=".059" stop-color="#7b7b7b"/><stop offset=".073" stop-color="#7f7f7f"/><stop offset=".086" stop-color="#7f7f7f"/><stop offset=".112" stop-color="#7f7f7f"/><stop offset=".139" stop-color="#828282"/><stop offset=".152" stop-color="#848484"/><stop offset=".178" stop-color="#878787"/><stop offset=".218" stop-color="#8c8c8c"/><stop offset=".257" stop-color="#909090"/><stop offset=".284" stop-color="#929292"/><stop offset=".31" stop-color="#959595"/><stop offset=".456" stop-color="#9e9e9e"/><stop offset=".772" stop-color="#b3b3b3"/><stop offset=".997" stop-color="#bcbcbc"/><stop offset="1" stop-color="#bcbcbc"/></linearGradient><linearGradient id="a16b" x2="0" y2="1"><stop offset=".013" stop-color="#676767"/><stop offset=".032" stop-color="#696969"/><stop offset=".044" stop-color="#696969"/><stop offset=".057" stop-color="#696969"/><stop offset=".069" stop-color="#6c6c6c"/><stop offset=".082" stop-color="#747474"/><stop offset=".107" stop-color="#7f7f7f"/><stop offset=".132" stop-color="#7f7f7f"/><stop offset=".145" stop-color="#808080"/><stop offset=".17" stop-color="#838383"/><stop offset=".208" stop-color="#878787"/><stop offset=".246" stop-color="#8c8c8c"/><stop offset=".271" stop-color="#8e8e8e"/><stop offset=".296" stop-color="#909090"/><stop offset=".435" stop-color="#9b9b9b"/><stop offset=".738" stop-color="#b3b3b3"/><stop offset=".952" stop-color="#bdbdbd"/><stop offset="1" stop-color="#bebebe"/></linearGradient><linearGradient id="a17b" x2="0" y2="1"><stop offset=".012" stop-color="#5a5a5a"/><stop offset=".031" stop-color="#646464"/><stop offset=".043" stop-color="#666666"/><stop offset=".055" stop-color="#686868"/><stop offset=".067" stop-color="#696969"/><stop offset=".08" stop-color="#686868"/><stop offset=".104" stop-color="#6d6d6d"/><stop offset=".128" stop-color="#7c7c7c"/><stop offset=".141" stop-color="#7c7c7c"/><stop offset=".165" stop-color="#7f7f7f"/><stop offset=".202" stop-color="#838383"/><stop offset=".239" stop-color="#878787"/><stop offset=".263" stop-color="#8a8a8a"/><stop offset=".288" stop-color="#8c8c8c"/><stop offset=".422" stop-color="#989898"/><stop offset=".716" stop-color="#b1b1b1"/><stop offset=".924" stop-color="#bebebe"/><stop offset=".997" stop-color="#c0c0c0"/><stop offset="1" stop-color="#c0c0c0"/></linearGradient><linearGradient id="a18b" x2="0" y2="1"><stop offset=".012" stop-color="#4b4b4b"/><stop offset=".03" stop-color="#515151"/><stop offset=".042" stop-color="#5c5c5c"/><stop offset=".054" stop-color="#626262"/><stop offset=".066" stop-color="#646464"/><stop offset=".078" stop-color="#676767"/><stop offset=".102" stop-color="#696969"/><stop offset=".126" stop-color="#6b6b6b"/><stop offset=".138" stop-color="#727272"/><stop offset=".162" stop-color="#767676"/><stop offset=".198" stop-color="#7d7d7d"/><stop offset=".234" stop-color="#818181"/><stop offset=".258" stop-color="#848484"/><stop offset=".282" stop-color="#878787"/><stop offset=".414" stop-color="#959595"/><stop offset=".703" stop-color="#b0b0b0"/><stop offset=".907" stop-color="#bfbfbf"/><stop offset=".979" stop-color="#c1c1c1"/><stop offset="1" stop-color="#c1c1c1"/></linearGradient><linearGradient id="a19b" x2="0" y2="1"><stop offset=".012" stop-color="#424242"/><stop offset=".029" stop-color="#494949"/><stop offset=".041" stop-color="#515151"/><stop offset=".053" stop-color="#525252"/><stop offset=".064" stop-color="#5a5a5a"/><stop offset=".076" stop-color="#606060"/><stop offset=".1" stop-color="#646464"/><stop offset=".123" stop-color="#686868"/><stop offset=".135" stop-color="#696969"/><stop offset=".158" stop-color="#707070"/><stop offset=".193" stop-color="#767676"/><stop offset=".229" stop-color="#7d7d7d"/><stop offset=".252" stop-color="#808080"/><stop offset=".275" stop-color="#838383"/><stop offset=".404" stop-color="#939393"/><stop offset=".686" stop-color="#afafaf"/><stop offset=".885" stop-color="#c0c0c0"/><stop offset=".955" stop-color="#c2c2c2"/><stop offset="1" stop-color="#c2c2c2"/></linearGradient><linearGradient id="a20b" x2="0" y2="1"><stop offset=".011" stop-color="#2f2f2f"/><stop offset=".029" stop-color="#454545"/><stop offset=".04" stop-color="#454545"/><stop offset=".052" stop-color="#515151"/><stop offset=".063" stop-color="#525252"/><stop offset=".075" stop-color="#565656"/><stop offset=".098" stop-color="#5f5f5f"/><stop offset=".12" stop-color="#646464"/><stop offset=".132" stop-color="#666666"/><stop offset=".155" stop-color="#6b6b6b"/><stop offset=".189" stop-color="#737373"/><stop offset=".224" stop-color="#787878"/><stop offset=".247" stop-color="#7d7d7d"/><stop offset=".27" stop-color="#808080"/><stop offset=".396" stop-color="#909090"/><stop offset=".671" stop-color="#aeaeae"/><stop offset=".866" stop-color="#bfbfbf"/><stop offset=".935" stop-color="#c2c2c2"/><stop offset="1" stop-color="#c4c4c4"/></linearGradient><linearGradient id="a21b" x2="0" y2="1"><stop offset=".011" stop-color="#2c2c2c"/><stop offset=".028" stop-color="#3c3c3c"/><stop offset=".04" stop-color="#434343"/><stop offset=".051" stop-color="#444444"/><stop offset=".062" stop-color="#4d4d4d"/><stop offset=".074" stop-color="#505050"/><stop offset=".096" stop-color="#585858"/><stop offset=".119" stop-color="#5f5f5f"/><stop offset=".13" stop-color="#626262"/><stop offset=".153" stop-color="#686868"/><stop offset=".187" stop-color="#6e6e6e"/><stop offset=".221" stop-color="#757575"/><stop offset=".244" stop-color="#797979"/><stop offset=".266" stop-color="#7d7d7d"/><stop offset=".391" stop-color="#8f8f8f"/><stop offset=".663" stop-color="#adadad"/><stop offset=".855" stop-color="#bfbfbf"/><stop offset=".923" stop-color="#c3c3c3"/><stop offset="1" stop-color="#c4c4c4"/></linearGradient><linearGradient id="a22b" x2="0" y2="1"><stop offset=".011" stop-color="#303030"/><stop offset=".028" stop-color="#383838"/><stop offset=".039" stop-color="#3e3e3e"/><stop offset=".05" stop-color="#434343"/><stop offset=".061" stop-color="#484848"/><stop offset=".072" stop-color="#4c4c4c"/><stop offset=".095" stop-color="#545454"/><stop offset=".117" stop-color="#5a5a5a"/><stop offset=".128" stop-color="#5d5d5d"/><stop offset=".151" stop-color="#626262"/><stop offset=".184" stop-color="#6b6b6b"/><stop offset=".217" stop-color="#727272"/><stop offset=".24" stop-color="#757575"/><stop offset=".262" stop-color="#7a7a7a"/><stop offset=".385" stop-color="#8d8d8d"/><stop offset=".652" stop-color="#acacac"/><stop offset=".842" stop-color="#bfbfbf"/><stop offset=".909" stop-color="#c4c4c4"/><stop offset=".987" stop-color="#c5c5c5"/><stop offset="1" stop-color="#c5c5c5"/></linearGradient><linearGradient id="a23b" x2="0" y2="1"><stop offset=".011" stop-color="#343434"/><stop offset=".028" stop-color="#3a3a3a"/><stop offset=".039" stop-color="#3e3e3e"/><stop offset=".05" stop-color="#424242"/><stop offset=".061" stop-color="#464646"/><stop offset=".072" stop-color="#4a4a4a"/><stop offset=".094" stop-color="#515151"/><stop offset=".116" stop-color="#575757"/><stop offset=".127" stop-color="#5a5a5a"/><stop offset=".149" stop-color="#606060"/><stop offset=".182" stop-color="#676767"/><stop offset=".216" stop-color="#6e6e6e"/><stop offset=".238" stop-color="#737373"/><stop offset=".26" stop-color="#777777"/><stop offset=".381" stop-color="#8a8a8a"/><stop offset=".647" stop-color="#ababab"/><stop offset=".835" stop-color="#bdbdbd"/><stop offset=".901" stop-color="#c4c4c4"/><stop offset=".978" stop-color="#c5c5c5"/><stop offset="1" stop-color="#c6c6c6"/></linearGradient><linearGradient id="a24b" x2="0" y2="1"><stop offset=".011" stop-color="#373737"/><stop offset=".027" stop-color="#3c3c3c"/><stop offset=".038" stop-color="#3f3f3f"/><stop offset=".049" stop-color="#434343"/><stop offset=".06" stop-color="#464646"/><stop offset=".071" stop-color="#494949"/><stop offset=".093" stop-color="#4f4f4f"/><stop offset=".115" stop-color="#555555"/><stop offset=".126" stop-color="#585858"/><stop offset=".148" stop-color="#5e5e5e"/><stop offset=".18" stop-color="#656565"/><stop offset=".213" stop-color="#6c6c6c"/><stop offset=".235" stop-color="#717171"/><stop offset=".257" stop-color="#757575"/><stop offset=".377" stop-color="#898989"/><stop offset=".64" stop-color="#aaaaaa"/><stop offset=".826" stop-color="#bdbdbd"/><stop offset=".891" stop-color="#c3c3c3"/><stop offset=".968" stop-color="#c7c7c7"/><stop offset="1" stop-color="#c6c6c6"/></linearGradient><linearGradient id="a25b" x2="0" y2="1"><stop offset=".011" stop-color="#393939"/><stop offset=".027" stop-color="#3d3d3d"/><stop offset=".038" stop-color="#404040"/><stop offset=".049" stop-color="#434343"/><stop offset=".06" stop-color="#464646"/><stop offset=".071" stop-color="#484848"/><stop offset=".092" stop-color="#4e4e4e"/><stop offset=".114" stop-color="#545454"/><stop offset=".125" stop-color="#575757"/><stop offset=".147" stop-color="#5c5c5c"/><stop offset=".179" stop-color="#646464"/><stop offset=".212" stop-color="#6b6b6b"/><stop offset=".234" stop-color="#6f6f6f"/><stop offset=".256" stop-color="#737373"/><stop offset=".375" stop-color="#888888"/><stop offset=".636" stop-color="#a9a9a9"/><stop offset=".821" stop-color="#bdbdbd"/><stop offset=".886" stop-color="#c3c3c3"/><stop offset=".963" stop-color="#c7c7c7"/><stop offset="1" stop-color="#c7c7c7"/></linearGradient><linearGradient id="a26b" x2="0" y2="1"><stop offset=".011" stop-color="#393939"/><stop offset=".027" stop-color="#3e3e3e"/><stop offset=".038" stop-color="#414141"/><stop offset=".049" stop-color="#434343"/><stop offset=".06" stop-color="#454545"/><stop offset=".07" stop-color="#494949"/><stop offset=".092" stop-color="#4e4e4e"/><stop offset=".114" stop-color="#535353"/><stop offset=".125" stop-color="#565656"/><stop offset=".146" stop-color="#5b5b5b"/><stop offset=".179" stop-color="#626262"/><stop offset=".211" stop-color="#696969"/><stop offset=".233" stop-color="#6d6d6d"/><stop offset=".255" stop-color="#717171"/><stop offset=".374" stop-color="#868686"/><stop offset=".634" stop-color="#a9a9a9"/><stop offset=".818" stop-color="#bcbcbc"/><stop offset=".883" stop-color="#c2c2c2"/><stop offset=".959" stop-color="#c7c7c7"/><stop offset="1" stop-color="#c7c7c7"/></linearGradient><linearGradient id="a27b" x2="0" y2="1"><stop offset=".011" stop-color="#3b3b3b"/><stop offset=".027" stop-color="#3e3e3e"/><stop offset=".038" stop-color="#414141"/><stop offset=".049" stop-color="#434343"/><stop offset=".059" stop-color="#474747"/><stop offset=".07" stop-color="#494949"/><stop offset=".092" stop-color="#4e4e4e"/><stop offset=".113" stop-color="#535353"/><stop offset=".124" stop-color="#555555"/><stop offset=".146" stop-color="#5a5a5a"/><stop offset=".178" stop-color="#616161"/><stop offset=".21" stop-color="#686868"/><stop offset=".232" stop-color="#6d6d6d"/><stop offset=".254" stop-color="#717171"/><stop offset=".372" stop-color="#858585"/><stop offset=".631" stop-color="#a8a8a8"/><stop offset=".815" stop-color="#bcbcbc"/><stop offset=".88" stop-color="#c3c3c3"/><stop offset=".955" stop-color="#c8c8c8"/><stop offset="1" stop-color="#c8c8c8"/></linearGradient><linearGradient id="a28b" x2="0" y2="1"><stop offset=".011" stop-color="#3b3b3b"/><stop offset=".027" stop-color="#3f3f3f"/><stop offset=".038" stop-color="#414141"/><stop offset=".049" stop-color="#444444"/><stop offset=".059" stop-color="#464646"/><stop offset=".07" stop-color="#494949"/><stop offset=".092" stop-color="#4e4e4e"/><stop offset=".113" stop-color="#535353"/><stop offset=".124" stop-color="#555555"/><stop offset=".146" stop-color="#5a5a5a"/><stop offset=".178" stop-color="#616161"/><stop offset=".21" stop-color="#676767"/><stop offset=".232" stop-color="#6b6b6b"/><stop offset=".254" stop-color="#707070"/><stop offset=".372" stop-color="#858585"/><stop offset=".631" stop-color="#a8a8a8"/><stop offset=".814" stop-color="#bcbcbc"/><stop offset=".879" stop-color="#c1c1c1"/><stop offset=".955" stop-color="#c8c8c8"/><stop offset="1" stop-color="#c8c8c8"/></linearGradient><linearGradient id="a29b" x2="0" y2="1"><stop offset=".011" stop-color="#3c3c3c"/><stop offset=".027" stop-color="#404040"/><stop offset=".038" stop-color="#424242"/><stop offset=".049" stop-color="#454545"/><stop offset=".059" stop-color="#474747"/><stop offset=".07" stop-color="#494949"/><stop offset=".092" stop-color="#4e4e4e"/><stop offset=".113" stop-color="#525252"/><stop offset=".124" stop-color="#555555"/><stop offset=".146" stop-color="#595959"/><stop offset=".178" stop-color="#606060"/><stop offset=".21" stop-color="#676767"/><stop offset=".232" stop-color="#6c6c6c"/><stop offset=".254" stop-color="#6f6f6f"/><stop offset=".372" stop-color="#848484"/><stop offset=".631" stop-color="#a8a8a8"/><stop offset=".814" stop-color="#bbbbbb"/><stop offset=".879" stop-color="#c2c2c2"/><stop offset=".955" stop-color="#c8c8c8"/><stop offset="1" stop-color="#c8c8c8"/></linearGradient><linearGradient id="a30b" x2="0" y2="1"><stop offset=".011" stop-color="#3d3d3d"/><stop offset=".027" stop-color="#404040"/><stop offset=".038" stop-color="#424242"/><stop offset=".049" stop-color="#444444"/><stop offset=".059" stop-color="#474747"/><stop offset=".07" stop-color="#494949"/><stop offset=".092" stop-color="#4e4e4e"/><stop offset=".113" stop-color="#535353"/><stop offset=".124" stop-color="#555555"/><stop offset=".146" stop-color="#5a5a5a"/><stop offset=".178" stop-color="#616161"/><stop offset=".21" stop-color="#676767"/><stop offset=".232" stop-color="#6b6b6b"/><stop offset=".254" stop-color="#6f6f6f"/><stop offset=".372" stop-color="#848484"/><stop offset=".631" stop-color="#a8a8a8"/><stop offset=".814" stop-color="#bcbcbc"/><stop offset=".879" stop-color="#c2c2c2"/><stop offset=".955" stop-color="#c9c9c9"/><stop offset="1" stop-color="#c9c9c9"/></linearGradient><linearGradient id="a31b" x2="0" y2="1"><stop offset=".011" stop-color="#3c3c3c"/><stop offset=".027" stop-color="#404040"/><stop offset=".038" stop-color="#434343"/><stop offset=".049" stop-color="#454545"/><stop offset=".059" stop-color="#474747"/><stop offset=".07" stop-color="#494949"/><stop offset=".092" stop-color="#4e4e4e"/><stop offset=".113" stop-color="#535353"/><stop offset=".124" stop-color="#555555"/><stop offset=".146" stop-color="#595959"/><stop offset=".178" stop-color="#606060"/><stop offset=".21" stop-color="#676767"/><stop offset=".232" stop-color="#6b6b6b"/><stop offset=".254" stop-color="#707070"/><stop offset=".372" stop-color="#848484"/><stop offset=".631" stop-color="#a7a7a7"/><stop offset=".814" stop-color="#bbbbbb"/><stop offset=".879" stop-color="#c2c2c2"/><stop offset=".955" stop-color="#c9c9c9"/><stop offset="1" stop-color="#c9c9c9"/></linearGradient><linearGradient id="a32b" x2="0" y2="1"><stop offset=".011" stop-color="#3d3d3d"/><stop offset=".027" stop-color="#404040"/><stop offset=".038" stop-color="#434343"/><stop offset=".049" stop-color="#454545"/><stop offset=".059" stop-color="#474747"/><stop offset=".07" stop-color="#4a4a4a"/><stop offset=".092" stop-color="#4e4e4e"/><stop offset=".113" stop-color="#535353"/><stop offset=".124" stop-color="#555555"/><stop offset=".146" stop-color="#5b5b5b"/><stop offset=".178" stop-color="#616161"/><stop offset=".21" stop-color="#686868"/><stop offset=".232" stop-color="#6c6c6c"/><stop offset=".254" stop-color="#6f6f6f"/><stop offset=".372" stop-color="#858585"/><stop offset=".631" stop-color="#a8a8a8"/><stop offset=".814" stop-color="#bcbcbc"/><stop offset=".879" stop-color="#c2c2c2"/><stop offset=".955" stop-color="#c8c8c8"/><stop offset="1" stop-color="#c9c9c9"/></linearGradient><linearGradient id="a33b" x2="0" y2="1"><stop offset=".011" stop-color="#3d3d3d"/><stop offset=".027" stop-color="#414141"/><stop offset=".038" stop-color="#434343"/><stop offset=".049" stop-color="#454545"/><stop offset=".059" stop-color="#484848"/><stop offset=".07" stop-color="#4a4a4a"/><stop offset=".092" stop-color="#4f4f4f"/><stop offset=".113" stop-color="#545454"/><stop offset=".124" stop-color="#565656"/><stop offset=".146" stop-color="#5a5a5a"/><stop offset=".178" stop-color="#616161"/><stop offset=".21" stop-color="#686868"/><stop offset=".232" stop-color="#6c6c6c"/><stop offset=".254" stop-color="#717171"/><stop offset=".372" stop-color="#848484"/><stop offset=".631" stop-color="#a8a8a8"/><stop offset=".814" stop-color="#bbbbbb"/><stop offset=".879" stop-color="#c2c2c2"/><stop offset=".955" stop-color="#c9c9c9"/><stop offset="1" stop-color="#c8c8c8"/></linearGradient><linearGradient id="a34b" x2="0" y2="1"><stop offset=".011" stop-color="#3d3d3d"/><stop offset=".027" stop-color="#414141"/><stop offset=".038" stop-color="#434343"/><stop offset=".049" stop-color="#464646"/><stop offset=".059" stop-color="#484848"/><stop offset=".07" stop-color="#4b4b4b"/><stop offset=".092" stop-color="#4f4f4f"/><stop offset=".113" stop-color="#545454"/><stop offset=".124" stop-color="#575757"/><stop offset=".146" stop-color="#5b5b5b"/><stop offset=".178" stop-color="#626262"/><stop offset=".21" stop-color="#686868"/><stop offset=".232" stop-color="#6d6d6d"/><stop offset=".254" stop-color="#717171"/><stop offset=".372" stop-color="#868686"/><stop offset=".631" stop-color="#a8a8a8"/><stop offset=".815" stop-color="#bcbcbc"/><stop offset=".879" stop-color="#c2c2c2"/><stop offset=".955" stop-color="#c8c8c8"/><stop offset="1" stop-color="#c8c8c8"/></linearGradient><linearGradient id="a35b" x2="0" y2="1"><stop offset=".011" stop-color="#3d3d3d"/><stop offset=".027" stop-color="#404040"/><stop offset=".038" stop-color="#434343"/><stop offset=".049" stop-color="#464646"/><stop offset=".059" stop-color="#484848"/><stop offset=".07" stop-color="#4b4b4b"/><stop offset=".092" stop-color="#505050"/><stop offset=".113" stop-color="#555555"/><stop offset=".124" stop-color="#575757"/><stop offset=".146" stop-color="#5c5c5c"/><stop offset=".178" stop-color="#636363"/><stop offset=".211" stop-color="#6a6a6a"/><stop offset=".232" stop-color="#6e6e6e"/><stop offset=".254" stop-color="#727272"/><stop offset=".373" stop-color="#868686"/><stop offset=".632" stop-color="#a9a9a9"/><stop offset=".816" stop-color="#bdbdbd"/><stop offset=".88" stop-color="#c2c2c2"/><stop offset=".956" stop-color="#c7c7c7"/><stop offset="1" stop-color="#c8c8c8"/></linearGradient><linearGradient id="a36b" x2="0" y2="1"><stop offset=".011" stop-color="#3d3d3d"/><stop offset=".027" stop-color="#414141"/><stop offset=".038" stop-color="#434343"/><stop offset=".049" stop-color="#464646"/><stop offset=".06" stop-color="#494949"/><stop offset=".071" stop-color="#4b4b4b"/><stop offset=".092" stop-color="#515151"/><stop offset=".114" stop-color="#555555"/><stop offset=".125" stop-color="#585858"/><stop offset=".147" stop-color="#5e5e5e"/><stop offset=".179" stop-color="#656565"/><stop offset=".212" stop-color="#6b6b6b"/><stop offset=".233" stop-color="#6f6f6f"/><stop offset=".255" stop-color="#737373"/><stop offset=".374" stop-color="#888888"/><stop offset=".635" stop-color="#aaaaaa"/><stop offset=".819" stop-color="#bcbcbc"/><stop offset=".885" stop-color="#c3c3c3"/><stop offset=".96" stop-color="#c8c8c8"/><stop offset="1" stop-color="#c8c8c8"/></linearGradient><linearGradient id="a37b" x2="0" y2="1"><stop offset=".011" stop-color="#3c3c3c"/><stop offset=".027" stop-color="#404040"/><stop offset=".038" stop-color="#434343"/><stop offset=".049" stop-color="#464646"/><stop offset=".06" stop-color="#484848"/><stop offset=".071" stop-color="#4b4b4b"/><stop offset=".093" stop-color="#515151"/><stop offset=".114" stop-color="#575757"/><stop offset=".125" stop-color="#5a5a5a"/><stop offset=".147" stop-color="#5e5e5e"/><stop offset=".18" stop-color="#656565"/><stop offset=".213" stop-color="#6c6c6c"/><stop offset=".234" stop-color="#707070"/><stop offset=".256" stop-color="#757575"/><stop offset=".376" stop-color="#888888"/><stop offset=".638" stop-color="#aaaaaa"/><stop offset=".823" stop-color="#bdbdbd"/><stop offset=".889" stop-color="#c3c3c3"/><stop offset=".965" stop-color="#c7c7c7"/><stop offset="1" stop-color="#c7c7c7"/></linearGradient><linearGradient id="a38b" x2="0" y2="1"><stop offset=".011" stop-color="#3b3b3b"/><stop offset=".027" stop-color="#404040"/><stop offset=".038" stop-color="#434343"/><stop offset=".049" stop-color="#464646"/><stop offset=".06" stop-color="#4a4a4a"/><stop offset=".071" stop-color="#4d4d4d"/><stop offset=".093" stop-color="#525252"/><stop offset=".115" stop-color="#585858"/><stop offset=".126" stop-color="#5b5b5b"/><stop offset=".148" stop-color="#606060"/><stop offset=".181" stop-color="#686868"/><stop offset=".214" stop-color="#6f6f6f"/><stop offset=".236" stop-color="#737373"/><stop offset=".258" stop-color="#777777"/><stop offset=".379" stop-color="#8b8b8b"/><stop offset=".642" stop-color="#ababab"/><stop offset=".828" stop-color="#bebebe"/><stop offset=".894" stop-color="#c4c4c4"/><stop offset=".971" stop-color="#c6c6c6"/><stop offset="1" stop-color="#c6c6c6"/></linearGradient><linearGradient id="a39b" x2="0" y2="1"><stop offset=".011" stop-color="#393939"/><stop offset=".028" stop-color="#3e3e3e"/><stop offset=".039" stop-color="#434343"/><stop offset=".05" stop-color="#464646"/><stop offset=".061" stop-color="#4a4a4a"/><stop offset=".072" stop-color="#4e4e4e"/><stop offset=".094" stop-color="#555555"/><stop offset=".117" stop-color="#5b5b5b"/><stop offset=".128" stop-color="#5d5d5d"/><stop offset=".15" stop-color="#636363"/><stop offset=".183" stop-color="#6a6a6a"/><stop offset=".216" stop-color="#717171"/><stop offset=".239" stop-color="#757575"/><stop offset=".261" stop-color="#797979"/><stop offset=".383" stop-color="#8c8c8c"/><stop offset=".649" stop-color="#ababab"/><stop offset=".838" stop-color="#bebebe"/><stop offset=".905" stop-color="#c4c4c4"/><stop offset=".982" stop-color="#c6c6c6"/><stop offset="1" stop-color="#c6c6c6"/></linearGradient><linearGradient id="a40b" x2="0" y2="1"><stop offset=".011" stop-color="#353535"/><stop offset=".028" stop-color="#3f3f3f"/><stop offset=".039" stop-color="#424242"/><stop offset=".05" stop-color="#484848"/><stop offset=".062" stop-color="#4c4c4c"/><stop offset=".073" stop-color="#515151"/><stop offset=".095" stop-color="#585858"/><stop offset=".118" stop-color="#5e5e5e"/><stop offset=".129" stop-color="#616161"/><stop offset=".151" stop-color="#676767"/><stop offset=".185" stop-color="#6e6e6e"/><stop offset=".219" stop-color="#747474"/><stop offset=".241" stop-color="#797979"/><stop offset=".263" stop-color="#7c7c7c"/><stop offset=".387" stop-color="#8e8e8e"/><stop offset=".656" stop-color="#adadad"/><stop offset=".846" stop-color="#bfbfbf"/><stop offset=".913" stop-color="#c4c4c4"/><stop offset=".992" stop-color="#c5c5c5"/><stop offset="1" stop-color="#c5c5c5"/></linearGradient><linearGradient id="a41b" x2="0" y2="1"><stop offset=".011" stop-color="#3d3d3d"/><stop offset=".028" stop-color="#424242"/><stop offset=".04" stop-color="#434343"/><stop offset=".051" stop-color="#4c4c4c"/><stop offset=".063" stop-color="#555555"/><stop offset=".074" stop-color="#575757"/><stop offset=".097" stop-color="#5e5e5e"/><stop offset=".12" stop-color="#646464"/><stop offset=".131" stop-color="#666666"/><stop offset=".154" stop-color="#6b6b6b"/><stop offset=".188" stop-color="#727272"/><stop offset=".222" stop-color="#787878"/><stop offset=".245" stop-color="#7b7b7b"/><stop offset=".268" stop-color="#7f7f7f"/><stop offset=".393" stop-color="#909090"/><stop offset=".667" stop-color="#aeaeae"/><stop offset=".861" stop-color="#bfbfbf"/><stop offset=".929" stop-color="#c3c3c3"/><stop offset="1" stop-color="#c4c4c4"/></linearGradient><linearGradient id="a42b" x2="0" y2="1"><stop offset=".012" stop-color="#424242"/><stop offset=".029" stop-color="#434343"/><stop offset=".04" stop-color="#4e4e4e"/><stop offset=".052" stop-color="#5a5a5a"/><stop offset=".064" stop-color="#5b5b5b"/><stop offset=".075" stop-color="#5b5b5b"/><stop offset=".098" stop-color="#656565"/><stop offset=".121" stop-color="#686868"/><stop offset=".133" stop-color="#6b6b6b"/><stop offset=".156" stop-color="#6f6f6f"/><stop offset=".191" stop-color="#767676"/><stop offset=".225" stop-color="#7c7c7c"/><stop offset=".248" stop-color="#808080"/><stop offset=".271" stop-color="#838383"/><stop offset=".398" stop-color="#939393"/><stop offset=".676" stop-color="#afafaf"/><stop offset=".872" stop-color="#c0c0c0"/><stop offset=".941" stop-color="#c2c2c2"/><stop offset="1" stop-color="#c3c3c3"/></linearGradient><linearGradient id="a43b" x2="0" y2="1"><stop offset=".012" stop-color="#3f3f3f"/><stop offset=".03" stop-color="#575757"/><stop offset=".041" stop-color="#5b5b5b"/><stop offset=".053" stop-color="#5b5b5b"/><stop offset=".065" stop-color="#5e5e5e"/><stop offset=".077" stop-color="#676767"/><stop offset=".1" stop-color="#6b6b6b"/><stop offset=".124" stop-color="#6f6f6f"/><stop offset=".136" stop-color="#707070"/><stop offset=".159" stop-color="#787878"/><stop offset=".195" stop-color="#7d7d7d"/><stop offset=".23" stop-color="#828282"/><stop offset=".254" stop-color="#848484"/><stop offset=".278" stop-color="#878787"/><stop offset=".407" stop-color="#959595"/><stop offset=".691" stop-color="#b0b0b0"/><stop offset=".892" stop-color="#c0c0c0"/><stop offset=".963" stop-color="#c1c1c1"/><stop offset="1" stop-color="#c2c2c2"/></linearGradient><linearGradient id="a44b" x2="0" y2="1"><stop offset=".012" stop-color="#5b5b5b"/><stop offset=".03" stop-color="#5a5a5a"/><stop offset=".042" stop-color="#5f5f5f"/><stop offset=".055" stop-color="#696969"/><stop offset=".067" stop-color="#6c6c6c"/><stop offset=".079" stop-color="#6d6d6d"/><stop offset=".103" stop-color="#6f6f6f"/><stop offset=".127" stop-color="#767676"/><stop offset=".139" stop-color="#7a7a7a"/><stop offset=".164" stop-color="#7d7d7d"/><stop offset=".2" stop-color="#828282"/><stop offset=".236" stop-color="#868686"/><stop offset=".261" stop-color="#898989"/><stop offset=".285" stop-color="#8c8c8c"/><stop offset=".418" stop-color="#989898"/><stop offset=".709" stop-color="#b1b1b1"/><stop offset=".915" stop-color="#bfbfbf"/><stop offset=".988" stop-color="#c1c1c1"/><stop offset="1" stop-color="#c1c1c1"/></linearGradient><linearGradient id="a45b" x2="0" y2="1"><stop offset=".012" stop-color="#5a5a5a"/><stop offset=".031" stop-color="#6b6b6b"/><stop offset=".044" stop-color="#6e6e6e"/><stop offset=".056" stop-color="#6e6e6e"/><stop offset=".069" stop-color="#6f6f6f"/><stop offset=".081" stop-color="#717171"/><stop offset=".106" stop-color="#7a7a7a"/><stop offset=".131" stop-color="#7d7d7d"/><stop offset=".144" stop-color="#7e7e7e"/><stop offset=".168" stop-color="#828282"/><stop offset=".206" stop-color="#878787"/><stop offset=".243" stop-color="#8c8c8c"/><stop offset=".268" stop-color="#8e8e8e"/><stop offset=".293" stop-color="#909090"/><stop offset=".431" stop-color="#9b9b9b"/><stop offset=".73" stop-color="#b3b3b3"/><stop offset=".942" stop-color="#bebebe"/><stop offset="1" stop-color="#bfbfbf"/></linearGradient><linearGradient id="a46b" x2="0" y2="1"><stop offset=".013" stop-color="#6e6e6e"/><stop offset=".032" stop-color="#6f6f6f"/><stop offset=".045" stop-color="#717171"/><stop offset=".058" stop-color="#767676"/><stop offset=".071" stop-color="#7a7a7a"/><stop offset=".084" stop-color="#7d7d7d"/><stop offset=".11" stop-color="#7f7f7f"/><stop offset=".135" stop-color="#828282"/><stop offset=".148" stop-color="#848484"/><stop offset=".174" stop-color="#878787"/><stop offset=".213" stop-color="#8b8b8b"/><stop offset=".251" stop-color="#8f8f8f"/><stop offset=".277" stop-color="#939393"/><stop offset=".303" stop-color="#949494"/><stop offset=".445" stop-color="#9e9e9e"/><stop offset=".754" stop-color="#b4b4b4"/><stop offset=".973" stop-color="#bcbcbc"/><stop offset="1" stop-color="#bebebe"/></linearGradient><linearGradient id="a47b" x2="0" y2="1"><stop offset=".013" stop-color="#747474"/><stop offset=".033" stop-color="#7b7b7b"/><stop offset=".047" stop-color="#7d7d7d"/><stop offset=".06" stop-color="#7d7d7d"/><stop offset=".074" stop-color="#7f7f7f"/><stop offset=".087" stop-color="#808080"/><stop offset=".114" stop-color="#838383"/><stop offset=".14" stop-color="#878787"/><stop offset=".154" stop-color="#898989"/><stop offset=".181" stop-color="#8c8c8c"/><stop offset=".221" stop-color="#909090"/><stop offset=".261" stop-color="#949494"/><stop offset=".287" stop-color="#959595"/><stop offset=".314" stop-color="#989898"/><stop offset=".461" stop-color="#a0a0a0"/><stop offset=".782" stop-color="#b5b5b5"/><stop offset="1" stop-color="#bcbcbc"/></linearGradient><linearGradient id="a48b" x2="0" y2="1"><stop offset=".014" stop-color="#7d7d7d"/><stop offset=".035" stop-color="#7e7e7e"/><stop offset=".049" stop-color="#808080"/><stop offset=".064" stop-color="#828282"/><stop offset=".078" stop-color="#838383"/><stop offset=".092" stop-color="#868686"/><stop offset=".12" stop-color="#898989"/><stop offset=".148" stop-color="#8c8c8c"/><stop offset=".162" stop-color="#8d8d8d"/><stop offset=".191" stop-color="#8f8f8f"/><stop offset=".233" stop-color="#939393"/><stop offset=".275" stop-color="#969696"/><stop offset=".304" stop-color="#999999"/><stop offset=".332" stop-color="#9a9a9a"/><stop offset=".487" stop-color="#a3a3a3"/><stop offset=".826" stop-color="#b4b4b4"/><stop offset="1" stop-color="#bababa"/></linearGradient><linearGradient id="a49b" x2="0" y2="1"><stop offset=".015" stop-color="#818181"/><stop offset=".038" stop-color="#848484"/><stop offset=".053" stop-color="#858585"/><stop offset=".068" stop-color="#878787"/><stop offset=".083" stop-color="#898989"/><stop offset=".098" stop-color="#8a8a8a"/><stop offset=".128" stop-color="#8d8d8d"/><stop offset=".158" stop-color="#8f8f8f"/><stop offset=".173" stop-color="#919191"/><stop offset=".203" stop-color="#949494"/><stop offset=".248" stop-color="#979797"/><stop offset=".293" stop-color="#9a9a9a"/><stop offset=".323" stop-color="#9a9a9a"/><stop offset=".353" stop-color="#9a9a9a"/><stop offset=".518" stop-color="#a4a4a4"/><stop offset=".879" stop-color="#b3b3b3"/><stop offset="1" stop-color="#b6b6b6"/></linearGradient><linearGradient id="a50b" x2="0" y2="1"><stop offset=".017" stop-color="#868686"/><stop offset=".042" stop-color="#898989"/><stop offset=".059" stop-color="#8a8a8a"/><stop offset=".075" stop-color="#8c8c8c"/><stop offset=".092" stop-color="#8d8d8d"/><stop offset=".109" stop-color="#8e8e8e"/><stop offset=".142" stop-color="#919191"/><stop offset=".176" stop-color="#949494"/><stop offset=".193" stop-color="#949494"/><stop offset=".226" stop-color="#969696"/><stop offset=".276" stop-color="#999999"/><stop offset=".327" stop-color="#9a9a9a"/><stop offset=".36" stop-color="#9b9b9b"/><stop offset=".394" stop-color="#9d9d9d"/><stop offset=".578" stop-color="#a4a4a4"/><stop offset=".98" stop-color="#b1b1b1"/><stop offset="1" stop-color="#b2b2b2"/></linearGradient><linearGradient id="a51b" x2="0" y2="1"><stop offset=".02" stop-color="#8a8a8a"/><stop offset=".049" stop-color="#8c8c8c"/><stop offset=".068" stop-color="#8e8e8e"/><stop offset=".088" stop-color="#8f8f8f"/><stop offset=".107" stop-color="#909090"/><stop offset=".127" stop-color="#919191"/><stop offset=".166" stop-color="#949494"/><stop offset=".205" stop-color="#969696"/><stop offset=".224" stop-color="#979797"/><stop offset=".263" stop-color="#999999"/><stop offset=".322" stop-color="#9b9b9b"/><stop offset=".38" stop-color="#9b9b9b"/><stop offset=".419" stop-color="#9a9a9a"/><stop offset=".458" stop-color="#9d9d9d"/><stop offset=".673" stop-color="#a4a4a4"/><stop offset="1" stop-color="#adadad"/></linearGradient><clipPath id="cla"><path d="M221.5,247.6L219.5,249.1L217.6,250.8L215.7,252.4L213.9,254.2L212.1,256.0L210.3,257.8L208.4,259.5L206.6,261.3L204.8,263.1L203.1,264.9L201.4,266.8L199.8,268.7L198.4,270.8L197.0,272.9L195.7,275.1L194.5,277.4L193.4,279.7L192.4,282.0L191.6,284.4L191.0,286.8L190.7,289.3L190.5,291.9L190.5,294.4L190.6,296.9L190.8,299.5L191.1,302.0L191.5,304.5L191.9,307.0L192.4,309.4L193.0,311.9L193.6,314.4L194.2,316.8L194.9,319.3L195.6,321.7L196.4,324.1L197.3,326.5L198.2,328.8L199.1,331.2L200.1,333.5L201.2,335.8L202.3,338.0L203.5,340.3L204.8,342.5L206.1,344.7L207.4,346.8L208.8,348.9L210.2,351.0L211.7,353.1L213.2,355.1L214.8,357.0L216.5,359.0L218.1,360.9L219.9,362.7L221.6,364.5L223.5,366.3L225.3,368.0L227.2,369.7L229.2,371.3L231.1,372.9L233.1,374.4L235.2,375.9L237.3,377.3L239.4,378.7L241.5,380.1L243.7,381.3L245.9,382.6L248.2,383.7L250.4,384.9L252.7,385.9L255.1,386.9L257.4,387.9L259.8,388.7L262.2,389.6L264.6,390.3L267.0,391.0L269.5,391.7L271.9,392.3L274.4,392.8L276.9,393.3L279.4,393.7L281.9,394.0L284.4,394.3L286.9,394.5L289.4,394.7L292.0,394.8L294.5,394.8L297.0,394.8L299.6,394.7L302.1,394.5L304.6,394.3L307.1,394.0L309.6,393.7L312.1,393.3L314.6,392.8L317.1,392.3L319.5,391.7L322.0,391.0L324.4,390.3L326.8,389.6L329.2,388.7L331.6,387.9L333.9,386.9L336.3,385.9L338.6,384.9L340.8,383.7L343.1,382.6L345.3,381.3L347.5,380.1L349.6,378.7L351.7,377.3L353.8,375.9L355.9,374.4L357.9,372.9L359.9,371.3L361.8,369.7L363.7,368.0L365.6,366.3L367.4,364.5L369.1,362.7L370.9,360.9L372.5,359.0L374.2,357.0L375.8,355.1L377.3,353.1L378.8,351.0L380.2,348.9L381.6,346.8L383.0,344.7L384.2,342.5L385.5,340.3L386.7,338.0L387.8,335.8L388.9,333.5L389.9,331.2L390.8,328.8L391.7,326.5L392.6,324.1L393.4,321.7L394.1,319.3L394.8,316.8L395.4,314.4L396.0,311.9L396.6,309.4L397.1,307.0L397.5,304.5L397.9,302.0L398.2,299.5L398.4,296.9L398.5,294.4L398.5,291.9L398.3,289.3L398.0,286.8L397.4,284.4L396.6,282.0L395.6,279.7L394.5,277.4L393.3,275.1L392.0,272.9L390.7,270.8L389.2,268.7L387.6,266.8L385.9,264.9L384.2,263.1L382.4,261.3L380.6,259.5L378.8,257.8L377.0,256.0L375.2,254.2L373.3,252.4L371.5,250.8L369.5,249.1L367.5,247.6L364.6,246.1L363.2,243.7L361.6,241.4L360.0,239.2L358.3,237.0L356.5,234.9L354.7,232.9L352.8,230.9L350.8,228.9L349.6,218.2L239.4,218.2L238.2,228.9L236.2,230.9L234.3,232.9L232.5,234.9L230.7,237.0L229.0,239.2L227.4,241.4L225.8,243.7L224.4,246.1L223.0,248.4Z M465.5,247.6L463.5,249.1L461.5,250.8L459.7,252.4L457.8,254.2L456.0,256.0L454.2,257.8L452.4,259.5L450.6,261.3L448.8,263.1L447.1,264.9L445.4,266.8L443.8,268.7L442.3,270.8L441.0,272.9L439.7,275.1L438.5,277.4L437.4,279.7L436.4,282.0L435.6,284.4L435.0,286.8L434.7,289.3L434.5,291.9L434.5,294.4L434.6,296.9L434.8,299.5L435.1,302.0L435.5,304.5L435.9,307.0L436.4,309.4L437.0,311.9L437.6,314.4L438.2,316.8L438.9,319.3L439.6,321.7L440.4,324.1L441.3,326.5L442.2,328.8L443.1,331.2L444.1,333.5L445.2,335.8L446.3,338.0L447.5,340.3L448.8,342.5L450.0,344.7L451.4,346.8L452.8,348.9L454.2,351.0L455.7,353.1L457.2,355.1L458.8,357.0L460.5,359.0L462.1,360.9L463.9,362.7L465.6,364.5L467.4,366.3L469.3,368.0L471.2,369.7L473.1,371.3L475.1,372.9L477.1,374.4L479.2,375.9L481.3,377.3L483.4,378.7L485.5,380.1L487.7,381.3L489.9,382.6L492.2,383.7L494.4,384.9L496.7,385.9L499.1,386.9L501.4,387.9L503.8,388.7L506.2,389.6L508.6,390.3L511.0,391.0L513.5,391.7L515.9,392.3L518.4,392.8L520.9,393.3L523.4,393.7L525.9,394.0L528.4,394.3L530.9,394.5L533.4,394.7L536.0,394.8L538.5,394.8L541.0,394.8L543.6,394.7L546.1,394.5L548.6,394.3L551.1,394.0L553.6,393.7L556.1,393.3L558.6,392.8L561.1,392.3L563.5,391.7L566.0,391.0L568.4,390.3L570.8,389.6L573.2,388.7L575.6,387.9L577.9,386.9L580.3,385.9L582.6,384.9L584.8,383.7L587.1,382.6L589.3,381.3L591.5,380.1L593.6,378.7L595.7,377.3L597.8,375.9L599.9,374.4L601.9,372.9L603.8,371.3L605.8,369.7L607.7,368.0L609.5,366.3L611.4,364.5L613.1,362.7L614.9,360.9L616.5,359.0L618.2,357.0L619.8,355.1L621.3,353.1L622.8,351.0L624.2,348.9L625.6,346.8L626.9,344.7L628.2,342.5L629.5,340.3L630.7,338.0L631.8,335.8L632.9,333.5L633.9,331.2L634.8,328.8L635.7,326.5L636.6,324.1L637.4,321.7L638.1,319.3L638.8,316.8L639.4,314.4L640.0,311.9L640.6,309.4L641.1,307.0L641.5,304.5L641.9,302.0L642.2,299.5L642.4,296.9L642.5,294.4L642.5,291.9L642.3,289.3L642.0,286.8L641.4,284.4L640.6,282.0L639.6,279.7L638.5,277.4L637.3,275.1L636.0,272.9L634.6,270.8L633.2,268.7L631.6,266.8L629.9,264.9L628.2,263.1L626.4,261.3L624.6,259.5L622.7,257.8L620.9,256.0L619.1,254.2L617.3,252.4L615.4,250.8L613.5,249.1L611.5,247.6L608.6,246.1L607.2,243.7L605.6,241.4L604.0,239.2L602.3,237.0L600.5,234.9L598.7,232.9L596.8,230.9L594.8,228.9L593.6,218.2L483.4,218.2L482.2,228.9L480.2,230.9L478.3,232.9L476.5,234.9L474.7,237.0L473.0,239.2L471.4,241.4L469.8,243.7L468.4,246.1L467.0,248.4Z"/></clipPath><clipPath id="cta"><rect x="122.4" y="56" width="587.6" height="163.4"/></clipPath></defs>
<rect x="122.4" y="219.4" width="587.6" height="277.3" fill="#c1c1c1"/>
<g clip-path="url(#cta)"><g filter="url(#jt)"><g id="Ta"><rect x="110.63" y="56" width="6.48" height="163.4" fill="url(#a0)"/><rect x="116.51" y="56" width="6.48" height="163.4" fill="url(#a1)"/><rect x="122.40" y="56" width="6.48" height="163.4" fill="url(#a2)"/><rect x="128.28" y="56" width="6.48" height="163.4" fill="url(#a3)"/><rect x="134.16" y="56" width="6.48" height="163.4" fill="url(#a4)"/><rect x="140.04" y="56" width="6.48" height="163.4" fill="url(#a5)"/><rect x="145.92" y="56" width="6.48" height="163.4" fill="url(#a6)"/><rect x="151.81" y="56" width="6.48" height="163.4" fill="url(#a7)"/><rect x="157.69" y="56" width="6.48" height="163.4" fill="url(#a8)"/><rect x="163.57" y="56" width="6.48" height="163.4" fill="url(#a9)"/><rect x="169.45" y="56" width="6.48" height="163.4" fill="url(#a10)"/><rect x="175.33" y="56" width="6.48" height="163.4" fill="url(#a11)"/><rect x="181.22" y="56" width="6.48" height="163.4" fill="url(#a12)"/><rect x="187.10" y="56" width="6.48" height="163.4" fill="url(#a13)"/><rect x="192.98" y="56" width="6.48" height="163.4" fill="url(#a14)"/><rect x="198.86" y="56" width="6.48" height="163.4" fill="url(#a15)"/><rect x="204.75" y="56" width="6.48" height="163.4" fill="url(#a16)"/><rect x="210.63" y="56" width="6.48" height="163.4" fill="url(#a17)"/><rect x="216.51" y="56" width="6.48" height="163.4" fill="url(#a18)"/><rect x="222.39" y="56" width="6.48" height="163.4" fill="url(#a19)"/><rect x="228.27" y="56" width="6.48" height="163.4" fill="url(#a20)"/><rect x="234.16" y="56" width="6.48" height="163.4" fill="url(#a21)"/><rect x="240.04" y="56" width="6.48" height="163.4" fill="url(#a22)"/><rect x="245.92" y="56" width="6.48" height="163.4" fill="url(#a23)"/><rect x="251.80" y="56" width="6.48" height="163.4" fill="url(#a24)"/><rect x="257.68" y="56" width="6.48" height="163.4" fill="url(#a25)"/><rect x="263.57" y="56" width="6.48" height="163.4" fill="url(#a26)"/><rect x="269.45" y="56" width="6.48" height="163.4" fill="url(#a27)"/><rect x="275.33" y="56" width="6.48" height="163.4" fill="url(#a28)"/><rect x="281.21" y="56" width="6.48" height="163.4" fill="url(#a29)"/><rect x="287.09" y="56" width="6.48" height="163.4" fill="url(#a30)"/><rect x="292.98" y="56" width="6.48" height="163.4" fill="url(#a31)"/><rect x="298.86" y="56" width="6.48" height="163.4" fill="url(#a32)"/><rect x="304.74" y="56" width="6.48" height="163.4" fill="url(#a33)"/><rect x="310.62" y="56" width="6.48" height="163.4" fill="url(#a34)"/><rect x="316.50" y="56" width="6.48" height="163.4" fill="url(#a35)"/><rect x="322.39" y="56" width="6.48" height="163.4" fill="url(#a36)"/><rect x="328.27" y="56" width="6.48" height="163.4" fill="url(#a37)"/><rect x="334.15" y="56" width="6.48" height="163.4" fill="url(#a38)"/><rect x="340.03" y="56" width="6.48" height="163.4" fill="url(#a39)"/><rect x="345.92" y="56" width="6.48" height="163.4" fill="url(#a40)"/><rect x="351.80" y="56" width="6.48" height="163.4" fill="url(#a41)"/><rect x="357.68" y="56" width="6.48" height="163.4" fill="url(#a42)"/><rect x="363.56" y="56" width="6.48" height="163.4" fill="url(#a43)"/><rect x="369.44" y="56" width="6.48" height="163.4" fill="url(#a44)"/><rect x="375.33" y="56" width="6.48" height="163.4" fill="url(#a45)"/><rect x="381.21" y="56" width="6.48" height="163.4" fill="url(#a46)"/><rect x="387.09" y="56" width="6.48" height="163.4" fill="url(#a47)"/><rect x="392.97" y="56" width="6.48" height="163.4" fill="url(#a48)"/><rect x="398.85" y="56" width="6.48" height="163.4" fill="url(#a49)"/><rect x="404.74" y="56" width="6.48" height="163.4" fill="url(#a50)"/><rect x="410.62" y="56" width="6.48" height="163.4" fill="url(#a51)"/></g><use href="#Ta" transform="translate(833.00,0) scale(-1,1)"/></g></g>
<g clip-path="url(#cla)"><g filter="url(#jl)"><g id="La"><rect x="175.33" y="217.4" width="6.48" height="112.3" fill="url(#a11b)"/><rect x="181.22" y="217.4" width="6.48" height="126.4" fill="url(#a12b)"/><rect x="187.10" y="217.4" width="6.48" height="137.4" fill="url(#a13b)"/><rect x="192.98" y="217.4" width="6.48" height="145.7" fill="url(#a14b)"/><rect x="198.86" y="217.4" width="6.48" height="151.5" fill="url(#a15b)"/><rect x="204.75" y="217.4" width="6.48" height="158.6" fill="url(#a16b)"/><rect x="210.63" y="217.4" width="6.48" height="163.5" fill="url(#a17b)"/><rect x="216.51" y="217.4" width="6.48" height="166.5" fill="url(#a18b)"/><rect x="222.39" y="217.4" width="6.48" height="170.7" fill="url(#a19b)"/><rect x="228.27" y="217.4" width="6.48" height="174.3" fill="url(#a20b)"/><rect x="234.16" y="217.4" width="6.48" height="176.5" fill="url(#a21b)"/><rect x="240.04" y="217.4" width="6.48" height="179.3" fill="url(#a22b)"/><rect x="245.92" y="217.4" width="6.48" height="180.9" fill="url(#a23b)"/><rect x="251.80" y="217.4" width="6.48" height="182.9" fill="url(#a24b)"/><rect x="257.68" y="217.4" width="6.48" height="183.9" fill="url(#a25b)"/><rect x="263.57" y="217.4" width="6.48" height="184.6" fill="url(#a26b)"/><rect x="269.45" y="217.4" width="6.48" height="185.3" fill="url(#a27b)"/><rect x="275.33" y="217.4" width="6.48" height="185.4" fill="url(#a28b)"/><rect x="281.21" y="217.4" width="6.48" height="185.4" fill="url(#a29b)"/><rect x="287.09" y="217.4" width="6.48" height="185.4" fill="url(#a30b)"/><rect x="292.98" y="217.4" width="6.48" height="185.4" fill="url(#a31b)"/><rect x="298.86" y="217.4" width="6.48" height="185.4" fill="url(#a32b)"/><rect x="304.74" y="217.4" width="6.48" height="185.4" fill="url(#a33b)"/><rect x="310.62" y="217.4" width="6.48" height="185.4" fill="url(#a34b)"/><rect x="316.50" y="217.4" width="6.48" height="185.1" fill="url(#a35b)"/><rect x="322.39" y="217.4" width="6.48" height="184.3" fill="url(#a36b)"/><rect x="328.27" y="217.4" width="6.48" height="183.4" fill="url(#a37b)"/><rect x="334.15" y="217.4" width="6.48" height="182.3" fill="url(#a38b)"/><rect x="340.03" y="217.4" width="6.48" height="180.2" fill="url(#a39b)"/><rect x="345.92" y="217.4" width="6.48" height="178.5" fill="url(#a40b)"/><rect x="351.80" y="217.4" width="6.48" height="175.5" fill="url(#a41b)"/><rect x="357.68" y="217.4" width="6.48" height="173.2" fill="url(#a42b)"/><rect x="363.56" y="217.4" width="6.48" height="169.3" fill="url(#a43b)"/><rect x="369.44" y="217.4" width="6.48" height="165" fill="url(#a44b)"/><rect x="375.33" y="217.4" width="6.48" height="160.3" fill="url(#a45b)"/><rect x="381.21" y="217.4" width="6.48" height="155.1" fill="url(#a46b)"/><rect x="387.09" y="217.4" width="6.48" height="149.6" fill="url(#a47b)"/><rect x="392.97" y="217.4" width="6.48" height="141.6" fill="url(#a48b)"/><rect x="398.85" y="217.4" width="6.48" height="133.1" fill="url(#a49b)"/><rect x="404.74" y="217.4" width="6.48" height="119.4" fill="url(#a50b)"/><rect x="410.62" y="217.4" width="6.48" height="102.5" fill="url(#a51b)"/></g><use href="#La" transform="translate(833.00,0) scale(-1,1)"/></g></g>
<path d="M122.4,56.0V496.7H710.6" fill="none" stroke="#262626" stroke-width="1.3"/>
<path d="M121.8,56.0H711.3" stroke="#000" stroke-width="3.0" fill="none"/>
<path d="M122.4,219.4L250.5,219.4A82.0,82.0 0 1 0 338.5,219.4L494.5,219.4A82.0,82.0 0 1 0 582.5,219.4L711.3,219.4" stroke="#000" stroke-width="2.8" fill="none" stroke-linejoin="round"/>
<rect x="783.2" y="52.6" width="50.5" height="447.4" fill="url(#cbg)" stroke="#1a1a1a" stroke-width="2.2"/><path d="M828.2,388.1H833.7" stroke="#1a1a1a" stroke-width="2"/><path d="M828.2,276.3H833.7" stroke="#1a1a1a" stroke-width="2"/><path d="M828.2,164.5H833.7" stroke="#1a1a1a" stroke-width="2"/>
</g>
<g id="panel-b">
<defs><linearGradient id="b0" x2="0" y2="1"><stop offset="0" stop-color="#000000"/><stop offset=".002" stop-color="#010101"/><stop offset=".039" stop-color="#050505"/><stop offset=".1" stop-color="#0c0c0c"/><stop offset=".162" stop-color="#131313"/><stop offset=".235" stop-color="#1a1a1a"/><stop offset=".37" stop-color="#262626"/><stop offset=".443" stop-color="#2c2c2c"/><stop offset=".517" stop-color="#313131"/><stop offset=".651" stop-color="#383838"/><stop offset=".774" stop-color="#3d3d3d"/><stop offset=".847" stop-color="#3f3f3f"/><stop offset=".92" stop-color="#404040"/><stop offset=".969" stop-color="#404040"/><stop offset="1" stop-color="#404040"/></linearGradient><linearGradient id="b1" x2="0" y2="1"><stop offset="0" stop-color="#000000"/><stop offset=".002" stop-color="#010101"/><stop offset=".039" stop-color="#050505"/><stop offset=".1" stop-color="#0d0d0d"/><stop offset=".162" stop-color="#131313"/><stop offset=".235" stop-color="#1a1a1a"/><stop offset=".37" stop-color="#262626"/><stop offset=".443" stop-color="#2b2b2b"/><stop offset=".517" stop-color="#303030"/><stop offset=".651" stop-color="#383838"/><stop offset=".774" stop-color="#3d3d3d"/><stop offset=".847" stop-color="#3f3f3f"/><stop offset=".92" stop-color="#404040"/><stop offset=".969" stop-color="#414141"/><stop offset="1" stop-color="#414141"/></linearGradient><linearGradient id="b2" x2="0" y2="1"><stop offset="0" stop-color="#000000"/><stop offset=".002" stop-color="#000000"/><stop offset=".039" stop-color="#060606"/><stop offset=".1" stop-color="#0c0c0c"/><stop offset=".162" stop-color="#131313"/><stop offset=".235" stop-color="#1a1a1a"/><stop offset=".37" stop-color="#262626"/><stop offset=".443" stop-color="#2c2c2c"/><stop offset=".517" stop-color="#313131"/><stop offset=".651" stop-color="#383838"/><stop offset=".774" stop-color="#3d3d3d"/><stop offset=".847" stop-color="#3f3f3f"/><stop offset=".92" stop-color="#404040"/><stop offset=".969" stop-color="#404040"/><stop offset="1" stop-color="#404040"/></linearGradient><linearGradient id="b3" x2="0" y2="1"><stop offset="0" stop-color="#000000"/><stop offset=".002" stop-color="#010101"/><stop offset=".039" stop-color="#050505"/><stop offset=".1" stop-color="#0d0d0d"/><stop offset=".162" stop-color="#141414"/><stop offset=".235" stop-color="#1c1c1c"/><stop offset=".37" stop-color="#282828"/><stop offset=".443" stop-color="#2e2e2e"/><stop offset=".517" stop-color="#333333"/><stop offset=".651" stop-color="#3c3c3c"/><stop offset=".774" stop-color="#404040"/><stop offset=".847" stop-color="#424242"/><stop offset=".92" stop-color="#434343"/><stop offset=".969" stop-color="#434343"/><stop offset="1" stop-color="#434343"/></linearGradient><linearGradient id="b4" x2="0" y2="1"><stop offset="0" stop-color="#000000"/><stop offset=".002" stop-color="#010101"/><stop offset=".039" stop-color="#060606"/><stop offset=".1" stop-color="#0e0e0e"/><stop offset=".162" stop-color="#151515"/><stop offset=".235" stop-color="#1e1e1e"/><stop offset=".37" stop-color="#2b2b2b"/><stop offset=".443" stop-color="#313131"/><stop offset=".517" stop-color="#373737"/><stop offset=".651" stop-color="#3e3e3e"/><stop offset=".774" stop-color="#434343"/><stop offset=".847" stop-color="#444444"/><stop offset=".92" stop-color="#454545"/><stop offset=".969" stop-color="#454545"/><stop offset="1" stop-color="#444444"/></linearGradient><linearGradient id="b5" x2="0" y2="1"><stop offset="0" stop-color="#000000"/><stop offset=".002" stop-color="#010101"/><stop offset=".039" stop-color="#070707"/><stop offset=".1" stop-color="#0f0f0f"/><stop offset=".162" stop-color="#171717"/><stop offset=".235" stop-color="#202020"/><stop offset=".37" stop-color="#2e2e2e"/><stop offset=".443" stop-color="#343434"/><stop offset=".517" stop-color="#393939"/><stop offset=".651" stop-color="#414141"/><stop offset=".774" stop-color="#464646"/><stop offset=".847" stop-color="#484848"/><stop offset=".92" stop-color="#484848"/><stop offset=".969" stop-color="#474747"/><stop offset="1" stop-color="#474747"/></linearGradient><linearGradient id="b6" x2="0" y2="1"><stop offset="0" stop-color="#000000"/><stop offset=".002" stop-color="#010101"/><stop offset=".039" stop-color="#070707"/><stop offset=".1" stop-color="#101010"/><stop offset=".162" stop-color="#191919"/><stop offset=".235" stop-color="#222222"/><stop offset=".37" stop-color="#303030"/><stop offset=".443" stop-color="#373737"/><stop offset=".517" stop-color="#3d3d3d"/><stop offset=".651" stop-color="#464646"/><stop offset=".774" stop-color="#4a4a4a"/><stop offset=".847" stop-color="#4b4b4b"/><stop offset=".92" stop-color="#4b4b4b"/><stop offset=".969" stop-color="#4b4b4b"/><stop offset="1" stop-color="#4a4a4a"/></linearGradient><linearGradient id="b7" x2="0" y2="1"><stop offset="0" stop-color="#000000"/><stop offset=".002" stop-color="#010101"/><stop offset=".039" stop-color="#070707"/><stop offset=".1" stop-color="#111111"/><stop offset=".162" stop-color="#1a1a1a"/><stop offset=".235" stop-color="#232323"/><stop offset=".37" stop-color="#333333"/><stop offset=".443" stop-color="#3a3a3a"/><stop offset=".517" stop-color="#404040"/><stop offset=".651" stop-color="#484848"/><stop offset=".774" stop-color="#4d4d4d"/><stop offset=".847" stop-color="#4e4e4e"/><stop offset=".92" stop-color="#4f4f4f"/><stop offset=".969" stop-color="#4d4d4d"/><stop offset="1" stop-color="#4d4d4d"/></linearGradient><linearGradient id="b8" x2="0" y2="1"><stop offset="0" stop-color="#000000"/><stop offset=".002" stop-color="#010101"/><stop offset=".039" stop-color="#070707"/><stop offset=".1" stop-color="#121212"/><stop offset=".162" stop-color="#1b1b1b"/><stop offset=".235" stop-color="#262626"/><stop offset=".37" stop-color="#353535"/><stop offset=".443" stop-color="#3d3d3d"/><stop offset=".517" stop-color="#434343"/><stop offset=".651" stop-color="#4d4d4d"/><stop offset=".774" stop-color="#525252"/><stop offset=".847" stop-color="#535353"/><stop offset=".92" stop-color="#515151"/><stop offset=".969" stop-color="#515151"/><stop offset="1" stop-color="#4f4f4f"/></linearGradient><linearGradient id="b9" x2="0" y2="1"><stop offset="0" stop-color="#000000"/><stop offset=".002" stop-color="#010101"/><stop offset=".039" stop-color="#090909"/><stop offset=".1" stop-color="#131313"/><stop offset=".162" stop-color="#1d1d1d"/><stop offset=".235" stop-color="#282828"/><stop offset=".37" stop-color="#393939"/><stop offset=".443" stop-color="#404040"/><stop offset=".517" stop-color="#474747"/><stop offset=".651" stop-color="#505050"/><stop offset=".774" stop-color="#555555"/><stop offset=".847" stop-color="#565656"/><stop offset=".92" stop-color="#565656"/><stop offset=".969" stop-color="#545454"/><stop offset="1" stop-color="#535353"/></linearGradient><linearGradient id="b10" x2="0" y2="1"><stop offset="0" stop-color="#000000"/><stop offset=".002" stop-color="#010101"/><stop offset=".039" stop-color="#080808"/><stop offset=".1" stop-color="#141414"/><stop offset=".162" stop-color="#1f1f1f"/><stop offset=".235" stop-color="#292929"/><stop offset=".37" stop-color="#3b3b3b"/><stop offset=".443" stop-color="#434343"/><stop offset=".517" stop-color="#4b4b4b"/><stop offset=".651" stop-color="#545454"/><stop offset=".774" stop-color="#595959"/><stop offset=".847" stop-color="#5b5b5b"/><stop offset=".92" stop-color="#5a5a5a"/><stop offset=".969" stop-color="#595959"/><stop offset="1" stop-color="#575757"/></linearGradient><linearGradient id="b11" x2="0" y2="1"><stop offset="0" stop-color="#000000"/><stop offset=".002" stop-color="#010101"/><stop offset=".039" stop-color="#090909"/><stop offset=".1" stop-color="#151515"/><stop offset=".162" stop-color="#202020"/><stop offset=".235" stop-color="#2c2c2c"/><stop offset=".37" stop-color="#3f3f3f"/><stop offset=".443" stop-color="#474747"/><stop offset=".517" stop-color="#4e4e4e"/><stop offset=".651" stop-color="#595959"/><stop offset=".774" stop-color="#5e5e5e"/><stop offset=".847" stop-color="#5f5f5f"/><stop offset=".92" stop-color="#5e5e5e"/><stop offset=".969" stop-color="#5c5c5c"/><stop offset="1" stop-color="#5b5b5b"/></linearGradient><linearGradient id="b12" x2="0" y2="1"><stop offset="0" stop-color="#000000"/><stop offset=".002" stop-color="#010101"/><stop offset=".039" stop-color="#0a0a0a"/><stop offset=".1" stop-color="#171717"/><stop offset=".162" stop-color="#212121"/><stop offset=".235" stop-color="#2f2f2f"/><stop offset=".37" stop-color="#414141"/><stop offset=".443" stop-color="#4b4b4b"/><stop offset=".517" stop-color="#525252"/><stop offset=".651" stop-color="#5d5d5d"/><stop offset=".774" stop-color="#636363"/><stop offset=".847" stop-color="#636363"/><stop offset=".92" stop-color="#636363"/><stop offset=".969" stop-color="#616161"/><stop offset="1" stop-color="#5f5f5f"/></linearGradient><linearGradient id="b13" x2="0" y2="1"><stop offset="0" stop-color="#000000"/><stop offset=".002" stop-color="#010101"/><stop offset=".039" stop-color="#0a0a0a"/><stop offset=".1" stop-color="#171717"/><stop offset=".162" stop-color="#242424"/><stop offset=".235" stop-color="#303030"/><stop offset=".37" stop-color="#454545"/><stop offset=".443" stop-color="#4d4d4d"/><stop offset=".517" stop-color="#555555"/><stop offset=".651" stop-color="#616161"/><stop offset=".774" stop-color="#686868"/><stop offset=".847" stop-color="#696969"/><stop offset=".92" stop-color="#686868"/><stop offset=".969" stop-color="#666666"/><stop offset="1" stop-color="#656565"/></linearGradient><linearGradient id="b14" x2="0" y2="1"><stop offset="0" stop-color="#000000"/><stop offset=".002" stop-color="#020202"/><stop offset=".039" stop-color="#0a0a0a"/><stop offset=".1" stop-color="#181818"/><stop offset=".162" stop-color="#252525"/><stop offset=".235" stop-color="#323232"/><stop offset=".37" stop-color="#474747"/><stop offset=".443" stop-color="#515151"/><stop offset=".517" stop-color="#5a5a5a"/><stop offset=".651" stop-color="#666666"/><stop offset=".774" stop-color="#6c6c6c"/><stop offset=".847" stop-color="#6f6f6f"/><stop offset=".92" stop-color="#6e6e6e"/><stop offset=".969" stop-color="#6c6c6c"/><stop offset="1" stop-color="#696969"/></linearGradient><linearGradient id="b15" x2="0" y2="1"><stop offset="0" stop-color="#000000"/><stop offset=".002" stop-color="#010101"/><stop offset=".039" stop-color="#0b0b0b"/><stop offset=".1" stop-color="#191919"/><stop offset=".162" stop-color="#262626"/><stop offset=".235" stop-color="#353535"/><stop offset=".37" stop-color="#4b4b4b"/><stop offset=".443" stop-color="#555555"/><stop offset=".517" stop-color="#5e5e5e"/><stop offset=".651" stop-color="#6a6a6a"/><stop offset=".774" stop-color="#737373"/><stop offset=".847" stop-color="#747474"/><stop offset=".92" stop-color="#747474"/><stop offset=".969" stop-color="#727272"/><stop offset="1" stop-color="#707070"/></linearGradient><linearGradient id="b16" x2="0" y2="1"><stop offset="0" stop-color="#000000"/><stop offset=".002" stop-color="#010101"/><stop offset=".039" stop-color="#0b0b0b"/><stop offset=".1" stop-color="#1b1b1b"/><stop offset=".162" stop-color="#282828"/><stop offset=".235" stop-color="#373737"/><stop offset=".37" stop-color="#4d4d4d"/><stop offset=".443" stop-color="#585858"/><stop offset=".517" stop-color="#616161"/><stop offset=".651" stop-color="#6f6f6f"/><stop offset=".774" stop-color="#777777"/><stop offset=".847" stop-color="#7b7b7b"/><stop offset=".92" stop-color="#7b7b7b"/><stop offset=".969" stop-color="#787878"/><stop offset="1" stop-color="#767676"/></linearGradient><linearGradient id="b17" x2="0" y2="1"><stop offset="0" stop-color="#000000"/><stop offset=".002" stop-color="#020202"/><stop offset=".039" stop-color="#0c0c0c"/><stop offset=".1" stop-color="#1b1b1b"/><stop offset=".162" stop-color="#2a2a2a"/><stop offset=".235" stop-color="#393939"/><stop offset=".37" stop-color="#515151"/><stop offset=".443" stop-color="#5c5c5c"/><stop offset=".517" stop-color="#656565"/><stop offset=".651" stop-color="#747474"/><stop offset=".774" stop-color="#7e7e7e"/><stop offset=".847" stop-color="#818181"/><stop offset=".92" stop-color="#828282"/><stop offset=".969" stop-color="#818181"/><stop offset="1" stop-color="#7e7e7e"/></linearGradient><linearGradient id="b18" x2="0" y2="1"><stop offset="0" stop-color="#000000"/><stop offset=".002" stop-color="#010101"/><stop offset=".039" stop-color="#0c0c0c"/><stop offset=".1" stop-color="#1d1d1d"/><stop offset=".162" stop-color="#2b2b2b"/><stop offset=".235" stop-color="#3a3a3a"/><stop offset=".37" stop-color="#535353"/><stop offset=".443" stop-color="#5e5e5e"/><stop offset=".517" stop-color="#696969"/><stop offset=".651" stop-color="#787878"/><stop offset=".774" stop-color="#838383"/><stop offset=".847" stop-color="#878787"/><stop offset=".92" stop-color="#898989"/><stop offset=".969" stop-color="#888888"/><stop offset="1" stop-color="#868686"/></linearGradient><linearGradient id="b19" x2="0" y2="1"><stop offset="0" stop-color="#000000"/><stop offset=".002" stop-color="#020202"/><stop offset=".039" stop-color="#0c0c0c"/><stop offset=".1" stop-color="#1d1d1d"/><stop offset=".162" stop-color="#2c2c2c"/><stop offset=".235" stop-color="#3c3c3c"/><stop offset=".37" stop-color="#555555"/><stop offset=".443" stop-color="#616161"/><stop offset=".517" stop-color="#6a6a6a"/><stop offset=".651" stop-color="#7b7b7b"/><stop offset=".774" stop-color="#878787"/><stop offset=".847" stop-color="#8d8d8d"/><stop offset=".92" stop-color="#909090"/><stop offset=".969" stop-color="#909090"/><stop offset="1" stop-color="#8e8e8e"/></linearGradient><linearGradient id="b20" x2="0" y2="1"><stop offset="0" stop-color="#000000"/><stop offset=".002" stop-color="#010101"/><stop offset=".039" stop-color="#0d0d0d"/><stop offset=".1" stop-color="#1d1d1d"/><stop offset=".162" stop-color="#2c2c2c"/><stop offset=".235" stop-color="#3d3d3d"/><stop offset=".37" stop-color="#565656"/><stop offset=".443" stop-color="#626262"/><stop offset=".517" stop-color="#6d6d6d"/><stop offset=".651" stop-color="#7f7f7f"/><stop offset=".774" stop-color="#8b8b8b"/><stop offset=".847" stop-color="#939393"/><stop offset=".92" stop-color="#9a9a9a"/><stop offset=".969" stop-color="#9c9c9c"/><stop offset="1" stop-color="#9c9c9c"/></linearGradient><linearGradient id="b21" x2="0" y2="1"><stop offset="0" stop-color="#000000"/><stop offset=".002" stop-color="#020202"/><stop offset=".039" stop-color="#0d0d0d"/><stop offset=".1" stop-color="#1e1e1e"/><stop offset=".162" stop-color="#2d2d2d"/><stop offset=".235" stop-color="#3d3d3d"/><stop offset=".37" stop-color="#585858"/><stop offset=".443" stop-color="#646464"/><stop offset=".517" stop-color="#707070"/><stop offset=".651" stop-color="#818181"/><stop offset=".774" stop-color="#919191"/><stop offset=".847" stop-color="#999999"/><stop offset=".92" stop-color="#a3a3a3"/><stop offset=".969" stop-color="#ababab"/><stop offset="1" stop-color="#b2b2b2"/></linearGradient><linearGradient id="b22" x2="0" y2="1"><stop offset="0" stop-color="#000000"/><stop offset=".002" stop-color="#010101"/><stop offset=".039" stop-color="#0d0d0d"/><stop offset=".1" stop-color="#1e1e1e"/><stop offset=".162" stop-color="#2e2e2e"/><stop offset=".235" stop-color="#3f3f3f"/><stop offset=".37" stop-color="#595959"/><stop offset=".443" stop-color="#656565"/><stop offset=".517" stop-color="#717171"/><stop offset=".651" stop-color="#858585"/><stop offset=".774" stop-color="#959595"/><stop offset=".847" stop-color="#9f9f9f"/><stop offset=".92" stop-color="#ababab"/><stop offset=".969" stop-color="#b7b7b7"/><stop offset="1" stop-color="#c2c2c2"/></linearGradient><linearGradient id="b23" x2="0" y2="1"><stop offset="0" stop-color="#000000"/><stop offset=".002" stop-color="#020202"/><stop offset=".039" stop-color="#0d0d0d"/><stop offset=".1" stop-color="#1f1f1f"/><stop offset=".162" stop-color="#2e2e2e"/><stop offset=".235" stop-color="#3f3f3f"/><stop offset=".37" stop-color="#5a5a5a"/><stop offset=".443" stop-color="#676767"/><stop offset=".517" stop-color="#737373"/><stop offset=".651" stop-color="#878787"/><stop offset=".774" stop-color="#999999"/><stop offset=".847" stop-color="#a5a5a5"/><stop offset=".92" stop-color="#b2b2b2"/><stop offset=".969" stop-color="#bfbfbf"/><stop offset="1" stop-color="#c8c8c8"/></linearGradient><linearGradient id="b24" x2="0" y2="1"><stop offset="0" stop-color="#000000"/><stop offset=".002" stop-color="#020202"/><stop offset=".039" stop-color="#0d0d0d"/><stop offset=".1" stop-color="#1f1f1f"/><stop offset=".162" stop-color="#2f2f2f"/><stop offset=".235" stop-color="#404040"/><stop offset=".37" stop-color="#5b5b5b"/><stop offset=".443" stop-color="#696969"/><stop offset=".517" stop-color="#757575"/><stop offset=".651" stop-color="#8a8a8a"/><stop offset=".774" stop-color="#9c9c9c"/><stop offset=".847" stop-color="#a9a9a9"/><stop offset=".92" stop-color="#b7b7b7"/><stop offset=".969" stop-color="#c3c3c3"/><stop offset="1" stop-color="#cbcbcb"/></linearGradient><linearGradient id="b25" x2="0" y2="1"><stop offset="0" stop-color="#000000"/><stop offset=".002" stop-color="#010101"/><stop offset=".039" stop-color="#0e0e0e"/><stop offset=".1" stop-color="#1f1f1f"/><stop offset=".162" stop-color="#303030"/><stop offset=".235" stop-color="#414141"/><stop offset=".37" stop-color="#5d5d5d"/><stop offset=".443" stop-color="#6a6a6a"/><stop offset=".517" stop-color="#767676"/><stop offset=".651" stop-color="#8c8c8c"/><stop offset=".774" stop-color="#a0a0a0"/><stop offset=".847" stop-color="#acacac"/><stop offset=".92" stop-color="#bbbbbb"/><stop offset=".969" stop-color="#c6c6c6"/><stop offset="1" stop-color="#cecece"/></linearGradient><linearGradient id="b26" x2="0" y2="1"><stop offset="0" stop-color="#000000"/><stop offset=".002" stop-color="#020202"/><stop offset=".039" stop-color="#0d0d0d"/><stop offset=".1" stop-color="#202020"/><stop offset=".162" stop-color="#2f2f2f"/><stop offset=".235" stop-color="#414141"/><stop offset=".37" stop-color="#5d5d5d"/><stop offset=".443" stop-color="#6b6b6b"/><stop offset=".517" stop-color="#787878"/><stop offset=".651" stop-color="#8e8e8e"/><stop offset=".774" stop-color="#a2a2a2"/><stop offset=".847" stop-color="#afafaf"/><stop offset=".92" stop-color="#bebebe"/><stop offset=".969" stop-color="#c8c8c8"/><stop offset="1" stop-color="#cfcfcf"/></linearGradient><linearGradient id="b27" x2="0" y2="1"><stop offset="0" stop-color="#000000"/><stop offset=".002" stop-color="#020202"/><stop offset=".039" stop-color="#0e0e0e"/><stop offset=".1" stop-color="#202020"/><stop offset=".162" stop-color="#313131"/><stop offset=".235" stop-color="#424242"/><stop offset=".37" stop-color="#5f5f5f"/><stop offset=".443" stop-color="#6c6c6c"/><stop offset=".517" stop-color="#7a7a7a"/><stop offset=".651" stop-color="#909090"/><stop offset=".774" stop-color="#a5a5a5"/><stop offset=".847" stop-color="#b2b2b2"/><stop offset=".92" stop-color="#bfbfbf"/><stop offset=".969" stop-color="#c9c9c9"/><stop offset="1" stop-color="#cfcfcf"/></linearGradient><linearGradient id="b28" x2="0" y2="1"><stop offset="0" stop-color="#000000"/><stop offset=".002" stop-color="#020202"/><stop offset=".039" stop-color="#0e0e0e"/><stop offset=".1" stop-color="#202020"/><stop offset=".162" stop-color="#313131"/><stop offset=".235" stop-color="#434343"/><stop offset=".37" stop-color="#5f5f5f"/><stop offset=".443" stop-color="#6d6d6d"/><stop offset=".517" stop-color="#7a7a7a"/><stop offset=".651" stop-color="#919191"/><stop offset=".774" stop-color="#a6a6a6"/><stop offset=".847" stop-color="#b3b3b3"/><stop offset=".92" stop-color="#c1c1c1"/><stop offset=".969" stop-color="#cacaca"/><stop offset="1" stop-color="#d0d0d0"/></linearGradient><linearGradient id="b29" x2="0" y2="1"><stop offset="0" stop-color="#000000"/><stop offset=".002" stop-color="#010101"/><stop offset=".039" stop-color="#0e0e0e"/><stop offset=".1" stop-color="#212121"/><stop offset=".162" stop-color="#313131"/><stop offset=".235" stop-color="#434343"/><stop offset=".37" stop-color="#606060"/><stop offset=".443" stop-color="#6e6e6e"/><stop offset=".517" stop-color="#7b7b7b"/><stop offset=".651" stop-color="#939393"/><stop offset=".774" stop-color="#a7a7a7"/><stop offset=".847" stop-color="#b4b4b4"/><stop offset=".92" stop-color="#c2c2c2"/><stop offset=".969" stop-color="#cbcbcb"/><stop offset="1" stop-color="#d1d1d1"/></linearGradient><linearGradient id="b30" x2="0" y2="1"><stop offset="0" stop-color="#000000"/><stop offset=".002" stop-color="#020202"/><stop offset=".039" stop-color="#0e0e0e"/><stop offset=".1" stop-color="#202020"/><stop offset=".162" stop-color="#313131"/><stop offset=".235" stop-color="#434343"/><stop offset=".37" stop-color="#606060"/><stop offset=".443" stop-color="#6f6f6f"/><stop offset=".517" stop-color="#7c7c7c"/><stop offset=".651" stop-color="#939393"/><stop offset=".774" stop-color="#a9a9a9"/><stop offset=".847" stop-color="#b6b6b6"/><stop offset=".92" stop-color="#c3c3c3"/><stop offset=".969" stop-color="#cccccc"/><stop offset="1" stop-color="#d1d1d1"/></linearGradient><linearGradient id="b31" x2="0" y2="1"><stop offset="0" stop-color="#000000"/><stop offset=".002" stop-color="#020202"/><stop offset=".039" stop-color="#0e0e0e"/><stop offset=".1" stop-color="#212121"/><stop offset=".162" stop-color="#323232"/><stop offset=".235" stop-color="#444444"/><stop offset=".37" stop-color="#616161"/><stop offset=".443" stop-color="#6f6f6f"/><stop offset=".517" stop-color="#7c7c7c"/><stop offset=".651" stop-color="#949494"/><stop offset=".774" stop-color="#a8a8a8"/><stop offset=".847" stop-color="#b5b5b5"/><stop offset=".92" stop-color="#c3c3c3"/><stop offset=".969" stop-color="#cccccc"/><stop offset="1" stop-color="#d2d2d2"/></linearGradient><linearGradient id="b32" x2="0" y2="1"><stop offset="0" stop-color="#000000"/><stop offset=".002" stop-color="#020202"/><stop offset=".039" stop-color="#0e0e0e"/><stop offset=".1" stop-color="#212121"/><stop offset=".162" stop-color="#313131"/><stop offset=".235" stop-color="#444444"/><stop offset=".37" stop-color="#616161"/><stop offset=".443" stop-color="#6f6f6f"/><stop offset=".517" stop-color="#7d7d7d"/><stop offset=".651" stop-color="#949494"/><stop offset=".774" stop-color="#a9a9a9"/><stop offset=".847" stop-color="#b6b6b6"/><stop offset=".92" stop-color="#c2c2c2"/><stop offset=".969" stop-color="#cbcbcb"/><stop offset="1" stop-color="#d1d1d1"/></linearGradient><linearGradient id="b33" x2="0" y2="1"><stop offset="0" stop-color="#000000"/><stop offset=".002" stop-color="#020202"/><stop offset=".039" stop-color="#0f0f0f"/><stop offset=".1" stop-color="#212121"/><stop offset=".162" stop-color="#323232"/><stop offset=".235" stop-color="#444444"/><stop offset=".37" stop-color="#616161"/><stop offset=".443" stop-color="#707070"/><stop offset=".517" stop-color="#7d7d7d"/><stop offset=".651" stop-color="#949494"/><stop offset=".774" stop-color="#a9a9a9"/><stop offset=".847" stop-color="#b6b6b6"/><stop offset=".92" stop-color="#c3c3c3"/><stop offset=".969" stop-color="#cccccc"/><stop offset="1" stop-color="#d1d1d1"/></linearGradient><linearGradient id="b34" x2="0" y2="1"><stop offset="0" stop-color="#000000"/><stop offset=".002" stop-color="#010101"/><stop offset=".039" stop-color="#0e0e0e"/><stop offset=".1" stop-color="#212121"/><stop offset=".162" stop-color="#323232"/><stop offset=".235" stop-color="#444444"/><stop offset=".37" stop-color="#626262"/><stop offset=".443" stop-color="#6f6f6f"/><stop offset=".517" stop-color="#7d7d7d"/><stop offset=".651" stop-color="#949494"/><stop offset=".774" stop-color="#a8a8a8"/><stop offset=".847" stop-color="#b4b4b4"/><stop offset=".92" stop-color="#c2c2c2"/><stop offset=".969" stop-color="#cbcbcb"/><stop offset="1" stop-color="#d1d1d1"/></linearGradient><linearGradient id="b35" x2="0" y2="1"><stop offset="0" stop-color="#000000"/><stop offset=".002" stop-color="#020202"/><stop offset=".039" stop-color="#0e0e0e"/><stop offset=".1" stop-color="#212121"/><stop offset=".162" stop-color="#323232"/><stop offset=".235" stop-color="#454545"/><stop offset=".37" stop-color="#616161"/><stop offset=".443" stop-color="#707070"/><stop offset=".517" stop-color="#7d7d7d"/><stop offset=".651" stop-color="#949494"/><stop offset=".774" stop-color="#a8a8a8"/><stop offset=".847" stop-color="#b4b4b4"/><stop offset=".92" stop-color="#c1c1c1"/><stop offset=".969" stop-color="#cacaca"/><stop offset="1" stop-color="#d0d0d0"/></linearGradient><linearGradient id="b36" x2="0" y2="1"><stop offset="0" stop-color="#000000"/><stop offset=".002" stop-color="#020202"/><stop offset=".039" stop-color="#0f0f0f"/><stop offset=".1" stop-color="#222222"/><stop offset=".162" stop-color="#323232"/><stop offset=".235" stop-color="#444444"/><stop offset=".37" stop-color="#616161"/><stop offset=".443" stop-color="#6f6f6f"/><stop offset=".517" stop-color="#7d7d7d"/><stop offset=".651" stop-color="#939393"/><stop offset=".774" stop-color="#a6a6a6"/><stop offset=".847" stop-color="#b3b3b3"/><stop offset=".92" stop-color="#c0c0c0"/><stop offset=".969" stop-color="#cacaca"/><stop offset="1" stop-color="#d0d0d0"/></linearGradient><linearGradient id="b37" x2="0" y2="1"><stop offset="0" stop-color="#000000"/><stop offset=".002" stop-color="#020202"/><stop offset=".039" stop-color="#0e0e0e"/><stop offset=".1" stop-color="#212121"/><stop offset=".162" stop-color="#333333"/><stop offset=".235" stop-color="#444444"/><stop offset=".37" stop-color="#626262"/><stop offset=".443" stop-color="#707070"/><stop offset=".517" stop-color="#7c7c7c"/><stop offset=".651" stop-color="#929292"/><stop offset=".774" stop-color="#a5a5a5"/><stop offset=".847" stop-color="#b0b0b0"/><stop offset=".92" stop-color="#bdbdbd"/><stop offset=".969" stop-color="#c7c7c7"/><stop offset="1" stop-color="#cecece"/></linearGradient><linearGradient id="b38" x2="0" y2="1"><stop offset="0" stop-color="#000000"/><stop offset=".002" stop-color="#020202"/><stop offset=".039" stop-color="#0e0e0e"/><stop offset=".1" stop-color="#212121"/><stop offset=".162" stop-color="#323232"/><stop offset=".235" stop-color="#444444"/><stop offset=".37" stop-color="#616161"/><stop offset=".443" stop-color="#6e6e6e"/><stop offset=".517" stop-color="#7b7b7b"/><stop offset=".651" stop-color="#909090"/><stop offset=".774" stop-color="#a3a3a3"/><stop offset=".847" stop-color="#aeaeae"/><stop offset=".92" stop-color="#bbbbbb"/><stop offset=".969" stop-color="#c5c5c5"/><stop offset="1" stop-color="#cdcdcd"/></linearGradient><linearGradient id="b39" x2="0" y2="1"><stop offset="0" stop-color="#000000"/><stop offset=".002" stop-color="#010101"/><stop offset=".039" stop-color="#0e0e0e"/><stop offset=".1" stop-color="#212121"/><stop offset=".162" stop-color="#323232"/><stop offset=".235" stop-color="#444444"/><stop offset=".37" stop-color="#606060"/><stop offset=".443" stop-color="#6f6f6f"/><stop offset=".517" stop-color="#7b7b7b"/><stop offset=".651" stop-color="#909090"/><stop offset=".774" stop-color="#a1a1a1"/><stop offset=".847" stop-color="#ababab"/><stop offset=".92" stop-color="#b6b6b6"/><stop offset=".969" stop-color="#c1c1c1"/><stop offset="1" stop-color="#c9c9c9"/></linearGradient><linearGradient id="b40" x2="0" y2="1"><stop offset="0" stop-color="#000000"/><stop offset=".002" stop-color="#020202"/><stop offset=".039" stop-color="#0f0f0f"/><stop offset=".1" stop-color="#212121"/><stop offset=".162" stop-color="#313131"/><stop offset=".235" stop-color="#444444"/><stop offset=".37" stop-color="#616161"/><stop offset=".443" stop-color="#6e6e6e"/><stop offset=".517" stop-color="#7b7b7b"/><stop offset=".651" stop-color="#8e8e8e"/><stop offset=".774" stop-color="#9e9e9e"/><stop offset=".847" stop-color="#a7a7a7"/><stop offset=".92" stop-color="#b0b0b0"/><stop offset=".969" stop-color="#b8b8b8"/><stop offset="1" stop-color="#c0c0c0"/></linearGradient><linearGradient id="b41" x2="0" y2="1"><stop offset="0" stop-color="#000000"/><stop offset=".002" stop-color="#020202"/><stop offset=".039" stop-color="#0e0e0e"/><stop offset=".1" stop-color="#212121"/><stop offset=".162" stop-color="#323232"/><stop offset=".235" stop-color="#444444"/><stop offset=".37" stop-color="#606060"/><stop offset=".443" stop-color="#6d6d6d"/><stop offset=".517" stop-color="#797979"/><stop offset=".651" stop-color="#8d8d8d"/><stop offset=".774" stop-color="#9b9b9b"/><stop offset=".847" stop-color="#a3a3a3"/><stop offset=".92" stop-color="#aaaaaa"/><stop offset=".969" stop-color="#adadad"/><stop offset="1" stop-color="#aeaeae"/></linearGradient><linearGradient id="b42" x2="0" y2="1"><stop offset="0" stop-color="#000000"/><stop offset=".002" stop-color="#020202"/><stop offset=".039" stop-color="#0e0e0e"/><stop offset=".1" stop-color="#212121"/><stop offset=".162" stop-color="#323232"/><stop offset=".235" stop-color="#444444"/><stop offset=".37" stop-color="#5f5f5f"/><stop offset=".443" stop-color="#6d6d6d"/><stop offset=".517" stop-color="#797979"/><stop offset=".651" stop-color="#8b8b8b"/><stop offset=".774" stop-color="#999999"/><stop offset=".847" stop-color="#9e9e9e"/><stop offset=".92" stop-color="#a3a3a3"/><stop offset=".969" stop-color="#a3a3a3"/><stop offset="1" stop-color="#a2a2a2"/></linearGradient><linearGradient id="b43" x2="0" y2="1"><stop offset="0" stop-color="#000000"/><stop offset=".002" stop-color="#020202"/><stop offset=".039" stop-color="#0e0e0e"/><stop offset=".1" stop-color="#212121"/><stop offset=".162" stop-color="#313131"/><stop offset=".235" stop-color="#434343"/><stop offset=".37" stop-color="#606060"/><stop offset=".443" stop-color="#6c6c6c"/><stop offset=".517" stop-color="#787878"/><stop offset=".651" stop-color="#8a8a8a"/><stop offset=".774" stop-color="#959595"/><stop offset=".847" stop-color="#9b9b9b"/><stop offset=".92" stop-color="#9c9c9c"/><stop offset=".969" stop-color="#9c9c9c"/><stop offset="1" stop-color="#999999"/></linearGradient><linearGradient id="b44" x2="0" y2="1"><stop offset="0" stop-color="#000000"/><stop offset=".002" stop-color="#010101"/><stop offset=".039" stop-color="#0f0f0f"/><stop offset=".1" stop-color="#212121"/><stop offset=".162" stop-color="#323232"/><stop offset=".235" stop-color="#434343"/><stop offset=".37" stop-color="#5e5e5e"/><stop offset=".443" stop-color="#6c6c6c"/><stop offset=".517" stop-color="#777777"/><stop offset=".651" stop-color="#888888"/><stop offset=".774" stop-color="#939393"/><stop offset=".847" stop-color="#979797"/><stop offset=".92" stop-color="#989898"/><stop offset=".969" stop-color="#969696"/><stop offset="1" stop-color="#939393"/></linearGradient><linearGradient id="b45" x2="0" y2="1"><stop offset="0" stop-color="#000000"/><stop offset=".002" stop-color="#020202"/><stop offset=".039" stop-color="#0e0e0e"/><stop offset=".1" stop-color="#212121"/><stop offset=".162" stop-color="#313131"/><stop offset=".235" stop-color="#434343"/><stop offset=".37" stop-color="#5f5f5f"/><stop offset=".443" stop-color="#6b6b6b"/><stop offset=".517" stop-color="#767676"/><stop offset=".651" stop-color="#878787"/><stop offset=".774" stop-color="#919191"/><stop offset=".847" stop-color="#939393"/><stop offset=".92" stop-color="#939393"/><stop offset=".969" stop-color="#909090"/><stop offset="1" stop-color="#8e8e8e"/></linearGradient><linearGradient id="b46" x2="0" y2="1"><stop offset="0" stop-color="#000000"/><stop offset=".002" stop-color="#020202"/><stop offset=".039" stop-color="#0e0e0e"/><stop offset=".1" stop-color="#202020"/><stop offset=".162" stop-color="#313131"/><stop offset=".235" stop-color="#434343"/><stop offset=".37" stop-color="#5e5e5e"/><stop offset=".443" stop-color="#6b6b6b"/><stop offset=".517" stop-color="#767676"/><stop offset=".651" stop-color="#868686"/><stop offset=".774" stop-color="#8f8f8f"/><stop offset=".847" stop-color="#919191"/><stop offset=".92" stop-color="#909090"/><stop offset=".969" stop-color="#8d8d8d"/><stop offset="1" stop-color="#8a8a8a"/></linearGradient><linearGradient id="b47" x2="0" y2="1"><stop offset="0" stop-color="#000000"/><stop offset=".002" stop-color="#020202"/><stop offset=".039" stop-color="#0e0e0e"/><stop offset=".1" stop-color="#212121"/><stop offset=".162" stop-color="#313131"/><stop offset=".235" stop-color="#434343"/><stop offset=".37" stop-color="#5e5e5e"/><stop offset=".443" stop-color="#6a6a6a"/><stop offset=".517" stop-color="#757575"/><stop offset=".651" stop-color="#848484"/><stop offset=".774" stop-color="#8c8c8c"/><stop offset=".847" stop-color="#8f8f8f"/><stop offset=".92" stop-color="#8d8d8d"/><stop offset=".969" stop-color="#8a8a8a"/><stop offset="1" stop-color="#888888"/></linearGradient><linearGradient id="b48" x2="0" y2="1"><stop offset="0" stop-color="#000000"/><stop offset=".002" stop-color="#010101"/><stop offset=".039" stop-color="#0e0e0e"/><stop offset=".1" stop-color="#202020"/><stop offset=".162" stop-color="#313131"/><stop offset=".235" stop-color="#424242"/><stop offset=".37" stop-color="#5e5e5e"/><stop offset=".443" stop-color="#6a6a6a"/><stop offset=".517" stop-color="#757575"/><stop offset=".651" stop-color="#848484"/><stop offset=".774" stop-color="#8c8c8c"/><stop offset=".847" stop-color="#8c8c8c"/><stop offset=".92" stop-color="#8b8b8b"/><stop offset=".969" stop-color="#888888"/><stop offset="1" stop-color="#858585"/></linearGradient><linearGradient id="b49" x2="0" y2="1"><stop offset="0" stop-color="#000000"/><stop offset=".002" stop-color="#020202"/><stop offset=".039" stop-color="#0e0e0e"/><stop offset=".1" stop-color="#212121"/><stop offset=".162" stop-color="#313131"/><stop offset=".235" stop-color="#434343"/><stop offset=".37" stop-color="#5d5d5d"/><stop offset=".443" stop-color="#6a6a6a"/><stop offset=".517" stop-color="#747474"/><stop offset=".651" stop-color="#838383"/><stop offset=".774" stop-color="#8a8a8a"/><stop offset=".847" stop-color="#8c8c8c"/><stop offset=".92" stop-color="#898989"/><stop offset=".969" stop-color="#868686"/><stop offset="1" stop-color="#838383"/></linearGradient><linearGradient id="b50" x2="0" y2="1"><stop offset="0" stop-color="#000000"/><stop offset=".002" stop-color="#020202"/><stop offset=".039" stop-color="#0e0e0e"/><stop offset=".1" stop-color="#202020"/><stop offset=".162" stop-color="#313131"/><stop offset=".235" stop-color="#424242"/><stop offset=".37" stop-color="#5e5e5e"/><stop offset=".443" stop-color="#6a6a6a"/><stop offset=".517" stop-color="#747474"/><stop offset=".651" stop-color="#838383"/><stop offset=".774" stop-color="#8a8a8a"/><stop offset=".847" stop-color="#8a8a8a"/><stop offset=".92" stop-color="#898989"/><stop offset=".969" stop-color="#858585"/><stop offset="1" stop-color="#838383"/></linearGradient><linearGradient id="b51" x2="0" y2="1"><stop offset="0" stop-color="#000000"/><stop offset=".002" stop-color="#020202"/><stop offset=".039" stop-color="#0e0e0e"/><stop offset=".1" stop-color="#212121"/><stop offset=".162" stop-color="#313131"/><stop offset=".235" stop-color="#424242"/><stop offset=".37" stop-color="#5d5d5d"/><stop offset=".443" stop-color="#696969"/><stop offset=".517" stop-color="#747474"/><stop offset=".651" stop-color="#838383"/><stop offset=".774" stop-color="#8a8a8a"/><stop offset=".847" stop-color="#8b8b8b"/><stop offset=".92" stop-color="#888888"/><stop offset=".969" stop-color="#858585"/><stop offset="1" stop-color="#828282"/></linearGradient><linearGradient id="b4b" x2="0" y2="1"><stop offset=".018" stop-color="#aaaaaa"/><stop offset=".046" stop-color="#ababab"/><stop offset=".065" stop-color="#ababab"/><stop offset=".083" stop-color="#ababab"/><stop offset=".102" stop-color="#aaaaaa"/><stop offset=".12" stop-color="#ababab"/><stop offset=".138" stop-color="#ababab"/><stop offset=".157" stop-color="#ababab"/><stop offset=".194" stop-color="#acacac"/><stop offset=".231" stop-color="#acacac"/><stop offset=".268" stop-color="#ababab"/><stop offset=".378" stop-color="#afafaf"/><stop offset=".563" stop-color="#b2b2b2"/><stop offset=".784" stop-color="#b6b6b6"/><stop offset="1" stop-color="#bababa"/></linearGradient><linearGradient id="b5b" x2="0" y2="1"><stop offset=".015" stop-color="#a7a7a7"/><stop offset=".038" stop-color="#a9a9a9"/><stop offset=".054" stop-color="#aaaaaa"/><stop offset=".069" stop-color="#aaaaaa"/><stop offset=".085" stop-color="#ababab"/><stop offset=".1" stop-color="#aaaaaa"/><stop offset=".115" stop-color="#aaaaaa"/><stop offset=".131" stop-color="#ababab"/><stop offset=".161" stop-color="#aaaaaa"/><stop offset=".192" stop-color="#ababab"/><stop offset=".223" stop-color="#acacac"/><stop offset=".315" stop-color="#afafaf"/><stop offset=".469" stop-color="#b2b2b2"/><stop offset=".653" stop-color="#b6b6b6"/><stop offset="1" stop-color="#bebebe"/></linearGradient><linearGradient id="b6b" x2="0" y2="1"><stop offset=".014" stop-color="#a6a6a6"/><stop offset=".035" stop-color="#a6a6a6"/><stop offset=".049" stop-color="#a6a6a6"/><stop offset=".064" stop-color="#a7a7a7"/><stop offset=".078" stop-color="#a7a7a7"/><stop offset=".092" stop-color="#a9a9a9"/><stop offset=".106" stop-color="#aaaaaa"/><stop offset=".12" stop-color="#aaaaaa"/><stop offset=".148" stop-color="#ababab"/><stop offset=".176" stop-color="#ababab"/><stop offset=".205" stop-color="#ababab"/><stop offset=".289" stop-color="#acacac"/><stop offset=".431" stop-color="#b1b1b1"/><stop offset=".6" stop-color="#b5b5b5"/><stop offset=".981" stop-color="#bfbfbf"/><stop offset="1" stop-color="#c0c0c0"/></linearGradient><linearGradient id="b7b" x2="0" y2="1"><stop offset=".013" stop-color="#a7a7a7"/><stop offset=".033" stop-color="#a7a7a7"/><stop offset=".046" stop-color="#a7a7a7"/><stop offset=".059" stop-color="#a7a7a7"/><stop offset=".072" stop-color="#a7a7a7"/><stop offset=".085" stop-color="#a6a6a6"/><stop offset=".098" stop-color="#a7a7a7"/><stop offset=".111" stop-color="#a8a8a8"/><stop offset=".138" stop-color="#a9a9a9"/><stop offset=".164" stop-color="#aaaaaa"/><stop offset=".19" stop-color="#aaaaaa"/><stop offset=".269" stop-color="#acacac"/><stop offset=".4" stop-color="#b0b0b0"/><stop offset=".557" stop-color="#b6b6b6"/><stop offset=".91" stop-color="#c0c0c0"/><stop offset="1" stop-color="#c2c2c2"/></linearGradient><linearGradient id="b8b" x2="0" y2="1"><stop offset=".012" stop-color="#a6a6a6"/><stop offset=".031" stop-color="#a5a5a5"/><stop offset=".043" stop-color="#a6a6a6"/><stop offset=".056" stop-color="#a6a6a6"/><stop offset=".068" stop-color="#a6a6a6"/><stop offset=".081" stop-color="#a7a7a7"/><stop offset=".093" stop-color="#a7a7a7"/><stop offset=".106" stop-color="#a6a6a6"/><stop offset=".13" stop-color="#a6a6a6"/><stop offset=".155" stop-color="#a7a7a7"/><stop offset=".18" stop-color="#a9a9a9"/><stop offset=".255" stop-color="#ababab"/><stop offset=".379" stop-color="#afafaf"/><stop offset=".528" stop-color="#b3b3b3"/><stop offset=".863" stop-color="#c0c0c0"/><stop offset="1" stop-color="#c4c4c4"/></linearGradient><linearGradient id="b9b" x2="0" y2="1"><stop offset=".012" stop-color="#a2a2a2"/><stop offset=".03" stop-color="#a4a4a4"/><stop offset=".041" stop-color="#a4a4a4"/><stop offset=".053" stop-color="#a4a4a4"/><stop offset=".065" stop-color="#a5a5a5"/><stop offset=".077" stop-color="#a5a5a5"/><stop offset=".089" stop-color="#a5a5a5"/><stop offset=".101" stop-color="#a6a6a6"/><stop offset=".124" stop-color="#a7a7a7"/><stop offset=".148" stop-color="#a7a7a7"/><stop offset=".172" stop-color="#a7a7a7"/><stop offset=".243" stop-color="#aaaaaa"/><stop offset=".361" stop-color="#adadad"/><stop offset=".503" stop-color="#b2b2b2"/><stop offset=".823" stop-color="#c1c1c1"/><stop offset=".965" stop-color="#c4c4c4"/><stop offset="1" stop-color="#c5c5c5"/></linearGradient><linearGradient id="b10b" x2="0" y2="1"><stop offset=".011" stop-color="#a2a2a2"/><stop offset=".029" stop-color="#a2a2a2"/><stop offset=".04" stop-color="#a2a2a2"/><stop offset=".052" stop-color="#a3a3a3"/><stop offset=".063" stop-color="#a2a2a2"/><stop offset=".074" stop-color="#a3a3a3"/><stop offset=".086" stop-color="#a3a3a3"/><stop offset=".097" stop-color="#a3a3a3"/><stop offset=".12" stop-color="#a4a4a4"/><stop offset=".143" stop-color="#a5a5a5"/><stop offset=".166" stop-color="#a5a5a5"/><stop offset=".235" stop-color="#a7a7a7"/><stop offset=".349" stop-color="#ababab"/><stop offset=".487" stop-color="#b0b0b0"/><stop offset=".796" stop-color="#c0c0c0"/><stop offset=".934" stop-color="#c5c5c5"/><stop offset=".98" stop-color="#c6c6c6"/><stop offset="1" stop-color="#c6c6c6"/></linearGradient><linearGradient id="b11b" x2="0" y2="1"><stop offset=".011" stop-color="#a2a2a2"/><stop offset=".028" stop-color="#a2a2a2"/><stop offset=".039" stop-color="#a3a3a3"/><stop offset=".05" stop-color="#a2a2a2"/><stop offset=".061" stop-color="#a3a3a3"/><stop offset=".072" stop-color="#a2a2a2"/><stop offset=".083" stop-color="#a2a2a2"/><stop offset=".094" stop-color="#a3a3a3"/><stop offset=".116" stop-color="#a2a2a2"/><stop offset=".138" stop-color="#a3a3a3"/><stop offset=".16" stop-color="#a4a4a4"/><stop offset=".226" stop-color="#a6a6a6"/><stop offset=".336" stop-color="#a8a8a8"/><stop offset=".468" stop-color="#adadad"/><stop offset=".765" stop-color="#bebebe"/><stop offset=".897" stop-color="#c5c5c5"/><stop offset=".941" stop-color="#c5c5c5"/><stop offset="1" stop-color="#c7c7c7"/></linearGradient><linearGradient id="b12b" x2="0" y2="1"><stop offset=".011" stop-color="#9e9e9e"/><stop offset=".027" stop-color="#9d9d9d"/><stop offset=".037" stop-color="#9e9e9e"/><stop offset=".048" stop-color="#9f9f9f"/><stop offset=".059" stop-color="#9e9e9e"/><stop offset=".07" stop-color="#9e9e9e"/><stop offset=".08" stop-color="#a0a0a0"/><stop offset=".091" stop-color="#a0a0a0"/><stop offset=".112" stop-color="#a0a0a0"/><stop offset=".134" stop-color="#a1a1a1"/><stop offset=".155" stop-color="#a1a1a1"/><stop offset=".22" stop-color="#a3a3a3"/><stop offset=".327" stop-color="#a5a5a5"/><stop offset=".455" stop-color="#ababab"/><stop offset=".744" stop-color="#bebebe"/><stop offset=".873" stop-color="#c5c5c5"/><stop offset=".916" stop-color="#c7c7c7"/><stop offset="1" stop-color="#c8c8c8"/></linearGradient><linearGradient id="b13b" x2="0" y2="1"><stop offset=".01" stop-color="#9c9c9c"/><stop offset=".026" stop-color="#9c9c9c"/><stop offset=".037" stop-color="#9c9c9c"/><stop offset=".047" stop-color="#9c9c9c"/><stop offset=".057" stop-color="#9c9c9c"/><stop offset=".068" stop-color="#9e9e9e"/><stop offset=".078" stop-color="#9e9e9e"/><stop offset=".089" stop-color="#9d9d9d"/><stop offset=".11" stop-color="#9e9e9e"/><stop offset=".131" stop-color="#9e9e9e"/><stop offset=".151" stop-color="#9f9f9f"/><stop offset=".214" stop-color="#9f9f9f"/><stop offset=".319" stop-color="#a2a2a2"/><stop offset=".444" stop-color="#a9a9a9"/><stop offset=".726" stop-color="#bbbbbb"/><stop offset=".851" stop-color="#c5c5c5"/><stop offset=".893" stop-color="#c6c6c6"/><stop offset="1" stop-color="#c9c9c9"/></linearGradient><linearGradient id="b14b" x2="0" y2="1"><stop offset=".01" stop-color="#959595"/><stop offset=".026" stop-color="#969696"/><stop offset=".036" stop-color="#959595"/><stop offset=".046" stop-color="#959595"/><stop offset=".056" stop-color="#979797"/><stop offset=".066" stop-color="#969696"/><stop offset=".077" stop-color="#969696"/><stop offset=".087" stop-color="#979797"/><stop offset=".107" stop-color="#989898"/><stop offset=".128" stop-color="#999999"/><stop offset=".148" stop-color="#9a9a9a"/><stop offset=".209" stop-color="#9b9b9b"/><stop offset=".311" stop-color="#9f9f9f"/><stop offset=".434" stop-color="#a6a6a6"/><stop offset=".709" stop-color="#bbbbbb"/><stop offset=".832" stop-color="#c4c4c4"/><stop offset=".873" stop-color="#c7c7c7"/><stop offset=".985" stop-color="#cacaca"/><stop offset="1" stop-color="#cacaca"/></linearGradient><linearGradient id="b15b" x2="0" y2="1"><stop offset=".01" stop-color="#7d7d7d"/><stop offset=".025" stop-color="#858585"/><stop offset=".035" stop-color="#8a8a8a"/><stop offset=".045" stop-color="#919191"/><stop offset=".055" stop-color="#939393"/><stop offset=".065" stop-color="#939393"/><stop offset=".075" stop-color="#939393"/><stop offset=".086" stop-color="#939393"/><stop offset=".106" stop-color="#959595"/><stop offset=".126" stop-color="#959595"/><stop offset=".146" stop-color="#959595"/><stop offset=".206" stop-color="#979797"/><stop offset=".307" stop-color="#9b9b9b"/><stop offset=".428" stop-color="#a4a4a4"/><stop offset=".699" stop-color="#b9b9b9"/><stop offset=".82" stop-color="#c2c2c2"/><stop offset=".86" stop-color="#c6c6c6"/><stop offset=".971" stop-color="#cacaca"/><stop offset="1" stop-color="#cacaca"/></linearGradient><linearGradient id="b16b" x2="0" y2="1"><stop offset=".01" stop-color="#666666"/><stop offset=".025" stop-color="#686868"/><stop offset=".035" stop-color="#6f6f6f"/><stop offset=".044" stop-color="#727272"/><stop offset=".054" stop-color="#797979"/><stop offset=".064" stop-color="#7e7e7e"/><stop offset=".074" stop-color="#818181"/><stop offset=".084" stop-color="#848484"/><stop offset=".104" stop-color="#8a8a8a"/><stop offset=".123" stop-color="#8a8a8a"/><stop offset=".143" stop-color="#8c8c8c"/><stop offset=".202" stop-color="#909090"/><stop offset=".301" stop-color="#979797"/><stop offset=".419" stop-color="#a1a1a1"/><stop offset=".686" stop-color="#b8b8b8"/><stop offset=".804" stop-color="#c2c2c2"/><stop offset=".844" stop-color="#c5c5c5"/><stop offset=".952" stop-color="#cacaca"/><stop offset="1" stop-color="#cbcbcb"/></linearGradient><linearGradient id="b17b" x2="0" y2="1"><stop offset=".01" stop-color="#575757"/><stop offset=".024" stop-color="#636363"/><stop offset=".034" stop-color="#646464"/><stop offset=".044" stop-color="#676767"/><stop offset=".053" stop-color="#676767"/><stop offset=".063" stop-color="#6c6c6c"/><stop offset=".073" stop-color="#707070"/><stop offset=".082" stop-color="#747474"/><stop offset=".102" stop-color="#797979"/><stop offset=".121" stop-color="#818181"/><stop offset=".141" stop-color="#858585"/><stop offset=".199" stop-color="#8a8a8a"/><stop offset=".296" stop-color="#939393"/><stop offset=".412" stop-color="#9f9f9f"/><stop offset=".674" stop-color="#b7b7b7"/><stop offset=".79" stop-color="#c0c0c0"/><stop offset=".829" stop-color="#c3c3c3"/><stop offset=".936" stop-color="#cccccc"/><stop offset="1" stop-color="#cccccc"/></linearGradient><linearGradient id="b18b" x2="0" y2="1"><stop offset=".01" stop-color="#3a3a3a"/><stop offset=".024" stop-color="#4f4f4f"/><stop offset=".034" stop-color="#5e5e5e"/><stop offset=".043" stop-color="#606060"/><stop offset=".053" stop-color="#646464"/><stop offset=".062" stop-color="#666666"/><stop offset=".072" stop-color="#676767"/><stop offset=".082" stop-color="#686868"/><stop offset=".101" stop-color="#737373"/><stop offset=".12" stop-color="#767676"/><stop offset=".139" stop-color="#7b7b7b"/><stop offset=".197" stop-color="#858585"/><stop offset=".293" stop-color="#909090"/><stop offset=".408" stop-color="#9c9c9c"/><stop offset=".667" stop-color="#b5b5b5"/><stop offset=".782" stop-color="#c0c0c0"/><stop offset=".82" stop-color="#c3c3c3"/><stop offset=".926" stop-color="#cbcbcb"/><stop offset="1" stop-color="#cccccc"/></linearGradient><linearGradient id="b19b" x2="0" y2="1"><stop offset=".009" stop-color="#414141"/><stop offset=".024" stop-color="#414141"/><stop offset=".033" stop-color="#4a4a4a"/><stop offset=".043" stop-color="#575757"/><stop offset=".052" stop-color="#5d5d5d"/><stop offset=".061" stop-color="#5f5f5f"/><stop offset=".071" stop-color="#636363"/><stop offset=".08" stop-color="#656565"/><stop offset=".099" stop-color="#686868"/><stop offset=".118" stop-color="#707070"/><stop offset=".137" stop-color="#747474"/><stop offset=".194" stop-color="#7f7f7f"/><stop offset=".289" stop-color="#8d8d8d"/><stop offset=".402" stop-color="#9b9b9b"/><stop offset=".657" stop-color="#b5b5b5"/><stop offset=".771" stop-color="#bfbfbf"/><stop offset=".809" stop-color="#c3c3c3"/><stop offset=".913" stop-color="#cbcbcb"/><stop offset="1" stop-color="#cdcdcd"/></linearGradient><linearGradient id="b20b" x2="0" y2="1"><stop offset=".009" stop-color="#2c2c2c"/><stop offset=".023" stop-color="#414141"/><stop offset=".033" stop-color="#414141"/><stop offset=".042" stop-color="#454545"/><stop offset=".052" stop-color="#535353"/><stop offset=".061" stop-color="#575757"/><stop offset=".07" stop-color="#595959"/><stop offset=".08" stop-color="#5d5d5d"/><stop offset=".098" stop-color="#626262"/><stop offset=".117" stop-color="#686868"/><stop offset=".136" stop-color="#6d6d6d"/><stop offset=".192" stop-color="#7a7a7a"/><stop offset=".286" stop-color="#8a8a8a"/><stop offset=".399" stop-color="#989898"/><stop offset=".652" stop-color="#b3b3b3"/><stop offset=".765" stop-color="#bebebe"/><stop offset=".802" stop-color="#c1c1c1"/><stop offset=".905" stop-color="#cbcbcb"/><stop offset=".999" stop-color="#cccccc"/><stop offset="1" stop-color="#cdcdcd"/></linearGradient><linearGradient id="b21b" x2="0" y2="1"><stop offset=".009" stop-color="#282828"/><stop offset=".023" stop-color="#363636"/><stop offset=".032" stop-color="#3f3f3f"/><stop offset=".042" stop-color="#414141"/><stop offset=".051" stop-color="#464646"/><stop offset=".06" stop-color="#4e4e4e"/><stop offset=".07" stop-color="#525252"/><stop offset=".079" stop-color="#555555"/><stop offset=".097" stop-color="#5c5c5c"/><stop offset=".116" stop-color="#626262"/><stop offset=".135" stop-color="#686868"/><stop offset=".19" stop-color="#757575"/><stop offset=".283" stop-color="#868686"/><stop offset=".394" stop-color="#969696"/><stop offset=".645" stop-color="#b2b2b2"/><stop offset=".756" stop-color="#bdbdbd"/><stop offset=".793" stop-color="#c0c0c0"/><stop offset=".895" stop-color="#c9c9c9"/><stop offset=".988" stop-color="#cecece"/><stop offset="1" stop-color="#cdcdcd"/></linearGradient><linearGradient id="b22b" x2="0" y2="1"><stop offset=".009" stop-color="#2d2d2d"/><stop offset=".023" stop-color="#343434"/><stop offset=".032" stop-color="#393939"/><stop offset=".042" stop-color="#3e3e3e"/><stop offset=".051" stop-color="#444444"/><stop offset=".06" stop-color="#484848"/><stop offset=".069" stop-color="#4c4c4c"/><stop offset=".078" stop-color="#505050"/><stop offset=".097" stop-color="#575757"/><stop offset=".115" stop-color="#5d5d5d"/><stop offset=".134" stop-color="#626262"/><stop offset=".189" stop-color="#717171"/><stop offset=".281" stop-color="#828282"/><stop offset=".392" stop-color="#939393"/><stop offset=".641" stop-color="#b1b1b1"/><stop offset=".752" stop-color="#bcbcbc"/><stop offset=".789" stop-color="#c0c0c0"/><stop offset=".89" stop-color="#c9c9c9"/><stop offset=".982" stop-color="#cecece"/><stop offset="1" stop-color="#cecece"/></linearGradient><linearGradient id="b23b" x2="0" y2="1"><stop offset=".009" stop-color="#313131"/><stop offset=".023" stop-color="#373737"/><stop offset=".032" stop-color="#3b3b3b"/><stop offset=".041" stop-color="#3e3e3e"/><stop offset=".05" stop-color="#424242"/><stop offset=".059" stop-color="#464646"/><stop offset=".069" stop-color="#4a4a4a"/><stop offset=".078" stop-color="#4d4d4d"/><stop offset=".096" stop-color="#535353"/><stop offset=".114" stop-color="#595959"/><stop offset=".133" stop-color="#5f5f5f"/><stop offset=".188" stop-color="#6d6d6d"/><stop offset=".279" stop-color="#808080"/><stop offset=".389" stop-color="#929292"/><stop offset=".636" stop-color="#b0b0b0"/><stop offset=".746" stop-color="#bbbbbb"/><stop offset=".782" stop-color="#bfbfbf"/><stop offset=".883" stop-color="#c9c9c9"/><stop offset=".975" stop-color="#cdcdcd"/><stop offset="1" stop-color="#cecece"/></linearGradient><linearGradient id="b24b" x2="0" y2="1"><stop offset=".009" stop-color="#323232"/><stop offset=".023" stop-color="#373737"/><stop offset=".032" stop-color="#3a3a3a"/><stop offset=".041" stop-color="#3e3e3e"/><stop offset=".05" stop-color="#414141"/><stop offset=".059" stop-color="#444444"/><stop offset=".068" stop-color="#474747"/><stop offset=".077" stop-color="#4b4b4b"/><stop offset=".096" stop-color="#515151"/><stop offset=".114" stop-color="#575757"/><stop offset=".132" stop-color="#5c5c5c"/><stop offset=".187" stop-color="#6a6a6a"/><stop offset=".278" stop-color="#7e7e7e"/><stop offset=".387" stop-color="#8f8f8f"/><stop offset=".633" stop-color="#afafaf"/><stop offset=".743" stop-color="#bbbbbb"/><stop offset=".779" stop-color="#bebebe"/><stop offset=".88" stop-color="#c8c8c8"/><stop offset=".971" stop-color="#cecece"/><stop offset="1" stop-color="#cecece"/></linearGradient><linearGradient id="b25b" x2="0" y2="1"><stop offset=".009" stop-color="#343434"/><stop offset=".023" stop-color="#383838"/><stop offset=".032" stop-color="#3c3c3c"/><stop offset=".041" stop-color="#3f3f3f"/><stop offset=".05" stop-color="#414141"/><stop offset=".059" stop-color="#444444"/><stop offset=".068" stop-color="#474747"/><stop offset=".077" stop-color="#4a4a4a"/><stop offset=".095" stop-color="#505050"/><stop offset=".114" stop-color="#545454"/><stop offset=".132" stop-color="#5a5a5a"/><stop offset=".186" stop-color="#686868"/><stop offset=".277" stop-color="#7b7b7b"/><stop offset=".386" stop-color="#8e8e8e"/><stop offset=".631" stop-color="#aeaeae"/><stop offset=".74" stop-color="#b9b9b9"/><stop offset=".777" stop-color="#bebebe"/><stop offset=".877" stop-color="#c7c7c7"/><stop offset=".967" stop-color="#cfcfcf"/><stop offset="1" stop-color="#cecece"/></linearGradient><linearGradient id="b26b" x2="0" y2="1"><stop offset=".009" stop-color="#353535"/><stop offset=".023" stop-color="#393939"/><stop offset=".032" stop-color="#3b3b3b"/><stop offset=".041" stop-color="#3e3e3e"/><stop offset=".05" stop-color="#414141"/><stop offset=".059" stop-color="#444444"/><stop offset=".068" stop-color="#474747"/><stop offset=".077" stop-color="#494949"/><stop offset=".095" stop-color="#4e4e4e"/><stop offset=".113" stop-color="#545454"/><stop offset=".131" stop-color="#585858"/><stop offset=".186" stop-color="#666666"/><stop offset=".276" stop-color="#7a7a7a"/><stop offset=".385" stop-color="#8d8d8d"/><stop offset=".629" stop-color="#adadad"/><stop offset=".738" stop-color="#b9b9b9"/><stop offset=".774" stop-color="#bcbcbc"/><stop offset=".873" stop-color="#c7c7c7"/><stop offset=".964" stop-color="#cecece"/><stop offset="1" stop-color="#cecece"/></linearGradient><linearGradient id="b27b" x2="0" y2="1"><stop offset=".009" stop-color="#353535"/><stop offset=".023" stop-color="#393939"/><stop offset=".032" stop-color="#3c3c3c"/><stop offset=".041" stop-color="#3e3e3e"/><stop offset=".05" stop-color="#414141"/><stop offset=".059" stop-color="#444444"/><stop offset=".068" stop-color="#464646"/><stop offset=".077" stop-color="#484848"/><stop offset=".095" stop-color="#4e4e4e"/><stop offset=".113" stop-color="#525252"/><stop offset=".131" stop-color="#575757"/><stop offset=".185" stop-color="#656565"/><stop offset=".276" stop-color="#787878"/><stop offset=".384" stop-color="#8b8b8b"/><stop offset=".628" stop-color="#acacac"/><stop offset=".737" stop-color="#b9b9b9"/><stop offset=".773" stop-color="#bdbdbd"/><stop offset=".872" stop-color="#c6c6c6"/><stop offset=".963" stop-color="#cecece"/><stop offset="1" stop-color="#cecece"/></linearGradient><linearGradient id="b28b" x2="0" y2="1"><stop offset=".009" stop-color="#363636"/><stop offset=".023" stop-color="#3a3a3a"/><stop offset=".032" stop-color="#3c3c3c"/><stop offset=".041" stop-color="#3f3f3f"/><stop offset=".05" stop-color="#414141"/><stop offset=".059" stop-color="#434343"/><stop offset=".068" stop-color="#454545"/><stop offset=".077" stop-color="#484848"/><stop offset=".095" stop-color="#4d4d4d"/><stop offset=".113" stop-color="#525252"/><stop offset=".131" stop-color="#575757"/><stop offset=".185" stop-color="#646464"/><stop offset=".276" stop-color="#777777"/><stop offset=".384" stop-color="#8b8b8b"/><stop offset=".628" stop-color="#acacac"/><stop offset=".737" stop-color="#b8b8b8"/><stop offset=".773" stop-color="#bbbbbb"/><stop offset=".872" stop-color="#c6c6c6"/><stop offset=".963" stop-color="#cdcdcd"/><stop offset="1" stop-color="#cecece"/></linearGradient><linearGradient id="b29b" x2="0" y2="1"><stop offset=".009" stop-color="#363636"/><stop offset=".023" stop-color="#3a3a3a"/><stop offset=".032" stop-color="#3c3c3c"/><stop offset=".041" stop-color="#3e3e3e"/><stop offset=".05" stop-color="#414141"/><stop offset=".059" stop-color="#434343"/><stop offset=".068" stop-color="#464646"/><stop offset=".077" stop-color="#484848"/><stop offset=".095" stop-color="#4c4c4c"/><stop offset=".113" stop-color="#515151"/><stop offset=".131" stop-color="#565656"/><stop offset=".185" stop-color="#636363"/><stop offset=".276" stop-color="#767676"/><stop offset=".384" stop-color="#898989"/><stop offset=".628" stop-color="#ababab"/><stop offset=".737" stop-color="#b7b7b7"/><stop offset=".773" stop-color="#bbbbbb"/><stop offset=".872" stop-color="#c5c5c5"/><stop offset=".963" stop-color="#cecece"/><stop offset="1" stop-color="#cecece"/></linearGradient><linearGradient id="b30b" x2="0" y2="1"><stop offset=".009" stop-color="#373737"/><stop offset=".023" stop-color="#3a3a3a"/><stop offset=".032" stop-color="#3c3c3c"/><stop offset=".041" stop-color="#3f3f3f"/><stop offset=".05" stop-color="#404040"/><stop offset=".059" stop-color="#434343"/><stop offset=".068" stop-color="#454545"/><stop offset=".077" stop-color="#484848"/><stop offset=".095" stop-color="#4d4d4d"/><stop offset=".113" stop-color="#515151"/><stop offset=".131" stop-color="#555555"/><stop offset=".185" stop-color="#626262"/><stop offset=".276" stop-color="#767676"/><stop offset=".384" stop-color="#898989"/><stop offset=".628" stop-color="#aaaaaa"/><stop offset=".737" stop-color="#b7b7b7"/><stop offset=".773" stop-color="#bbbbbb"/><stop offset=".872" stop-color="#c5c5c5"/><stop offset=".963" stop-color="#cecece"/><stop offset="1" stop-color="#cecece"/></linearGradient><linearGradient id="b31b" x2="0" y2="1"><stop offset=".009" stop-color="#363636"/><stop offset=".023" stop-color="#393939"/><stop offset=".032" stop-color="#3c3c3c"/><stop offset=".041" stop-color="#3e3e3e"/><stop offset=".05" stop-color="#414141"/><stop offset=".059" stop-color="#434343"/><stop offset=".068" stop-color="#464646"/><stop offset=".077" stop-color="#484848"/><stop offset=".095" stop-color="#4c4c4c"/><stop offset=".113" stop-color="#515151"/><stop offset=".131" stop-color="#555555"/><stop offset=".185" stop-color="#626262"/><stop offset=".276" stop-color="#757575"/><stop offset=".384" stop-color="#898989"/><stop offset=".628" stop-color="#ababab"/><stop offset=".737" stop-color="#b6b6b6"/><stop offset=".773" stop-color="#bbbbbb"/><stop offset=".872" stop-color="#c5c5c5"/><stop offset=".963" stop-color="#cecece"/><stop offset="1" stop-color="#cdcdcd"/></linearGradient><linearGradient id="b32b" x2="0" y2="1"><stop offset=".009" stop-color="#373737"/><stop offset=".023" stop-color="#3a3a3a"/><stop offset=".032" stop-color="#3c3c3c"/><stop offset=".041" stop-color="#3f3f3f"/><stop offset=".05" stop-color="#414141"/><stop offset=".059" stop-color="#444444"/><stop offset=".068" stop-color="#454545"/><stop offset=".077" stop-color="#484848"/><stop offset=".095" stop-color="#4c4c4c"/><stop offset=".113" stop-color="#515151"/><stop offset=".131" stop-color="#565656"/><stop offset=".185" stop-color="#626262"/><stop offset=".276" stop-color="#757575"/><stop offset=".384" stop-color="#888888"/><stop offset=".628" stop-color="#a9a9a9"/><stop offset=".737" stop-color="#b7b7b7"/><stop offset=".773" stop-color="#bababa"/><stop offset=".872" stop-color="#c4c4c4"/><stop offset=".963" stop-color="#cccccc"/><stop offset="1" stop-color="#cdcdcd"/></linearGradient><linearGradient id="b33b" x2="0" y2="1"><stop offset=".009" stop-color="#363636"/><stop offset=".023" stop-color="#3a3a3a"/><stop offset=".032" stop-color="#3d3d3d"/><stop offset=".041" stop-color="#3e3e3e"/><stop offset=".05" stop-color="#414141"/><stop offset=".059" stop-color="#434343"/><stop offset=".068" stop-color="#464646"/><stop offset=".077" stop-color="#474747"/><stop offset=".095" stop-color="#4d4d4d"/><stop offset=".113" stop-color="#515151"/><stop offset=".131" stop-color="#555555"/><stop offset=".185" stop-color="#626262"/><stop offset=".276" stop-color="#757575"/><stop offset=".384" stop-color="#888888"/><stop offset=".628" stop-color="#aaaaaa"/><stop offset=".737" stop-color="#b5b5b5"/><stop offset=".773" stop-color="#b9b9b9"/><stop offset=".872" stop-color="#c4c4c4"/><stop offset=".963" stop-color="#cccccc"/><stop offset="1" stop-color="#cccccc"/></linearGradient><linearGradient id="b34b" x2="0" y2="1"><stop offset=".009" stop-color="#363636"/><stop offset=".023" stop-color="#3a3a3a"/><stop offset=".032" stop-color="#3c3c3c"/><stop offset=".041" stop-color="#3f3f3f"/><stop offset=".05" stop-color="#414141"/><stop offset=".059" stop-color="#434343"/><stop offset=".068" stop-color="#464646"/><stop offset=".077" stop-color="#484848"/><stop offset=".095" stop-color="#4c4c4c"/><stop offset=".113" stop-color="#515151"/><stop offset=".131" stop-color="#565656"/><stop offset=".185" stop-color="#636363"/><stop offset=".276" stop-color="#757575"/><stop offset=".384" stop-color="#888888"/><stop offset=".628" stop-color="#a9a9a9"/><stop offset=".737" stop-color="#b6b6b6"/><stop offset=".773" stop-color="#bababa"/><stop offset=".872" stop-color="#c4c4c4"/><stop offset=".963" stop-color="#cccccc"/><stop offset="1" stop-color="#cccccc"/></linearGradient><linearGradient id="b35b" x2="0" y2="1"><stop offset=".009" stop-color="#363636"/><stop offset=".023" stop-color="#3a3a3a"/><stop offset=".032" stop-color="#3c3c3c"/><stop offset=".041" stop-color="#3e3e3e"/><stop offset=".05" stop-color="#414141"/><stop offset=".059" stop-color="#444444"/><stop offset=".068" stop-color="#454545"/><stop offset=".077" stop-color="#494949"/><stop offset=".095" stop-color="#4e4e4e"/><stop offset=".113" stop-color="#525252"/><stop offset=".131" stop-color="#565656"/><stop offset=".186" stop-color="#636363"/><stop offset=".276" stop-color="#767676"/><stop offset=".385" stop-color="#888888"/><stop offset=".63" stop-color="#a9a9a9"/><stop offset=".738" stop-color="#b6b6b6"/><stop offset=".775" stop-color="#bababa"/><stop offset=".874" stop-color="#c4c4c4"/><stop offset=".965" stop-color="#cbcbcb"/><stop offset="1" stop-color="#cbcbcb"/></linearGradient><linearGradient id="b36b" x2="0" y2="1"><stop offset=".009" stop-color="#363636"/><stop offset=".023" stop-color="#393939"/><stop offset=".032" stop-color="#3c3c3c"/><stop offset=".041" stop-color="#3f3f3f"/><stop offset=".05" stop-color="#414141"/><stop offset=".059" stop-color="#434343"/><stop offset=".068" stop-color="#474747"/><stop offset=".077" stop-color="#494949"/><stop offset=".095" stop-color="#4d4d4d"/><stop offset=".114" stop-color="#535353"/><stop offset=".132" stop-color="#585858"/><stop offset=".186" stop-color="#646464"/><stop offset=".277" stop-color="#777777"/><stop offset=".386" stop-color="#898989"/><stop offset=".631" stop-color="#a9a9a9"/><stop offset=".74" stop-color="#b5b5b5"/><stop offset=".777" stop-color="#b9b9b9"/><stop offset=".877" stop-color="#c3c3c3"/><stop offset=".968" stop-color="#cbcbcb"/><stop offset="1" stop-color="#cbcbcb"/></linearGradient><linearGradient id="b37b" x2="0" y2="1"><stop offset=".009" stop-color="#343434"/><stop offset=".023" stop-color="#393939"/><stop offset=".032" stop-color="#3b3b3b"/><stop offset=".041" stop-color="#3e3e3e"/><stop offset=".05" stop-color="#414141"/><stop offset=".059" stop-color="#444444"/><stop offset=".069" stop-color="#474747"/><stop offset=".078" stop-color="#494949"/><stop offset=".096" stop-color="#4f4f4f"/><stop offset=".114" stop-color="#535353"/><stop offset=".133" stop-color="#585858"/><stop offset=".187" stop-color="#666666"/><stop offset=".279" stop-color="#777777"/><stop offset=".388" stop-color="#898989"/><stop offset=".635" stop-color="#a9a9a9"/><stop offset=".745" stop-color="#b5b5b5"/><stop offset=".781" stop-color="#b9b9b9"/><stop offset=".882" stop-color="#c4c4c4"/><stop offset=".973" stop-color="#cacaca"/><stop offset="1" stop-color="#cacaca"/></linearGradient><linearGradient id="b38b" x2="0" y2="1"><stop offset=".009" stop-color="#343434"/><stop offset=".023" stop-color="#383838"/><stop offset=".032" stop-color="#3c3c3c"/><stop offset=".041" stop-color="#3f3f3f"/><stop offset=".051" stop-color="#424242"/><stop offset=".06" stop-color="#454545"/><stop offset=".069" stop-color="#474747"/><stop offset=".078" stop-color="#4b4b4b"/><stop offset=".096" stop-color="#515151"/><stop offset=".115" stop-color="#565656"/><stop offset=".133" stop-color="#5b5b5b"/><stop offset=".188" stop-color="#676767"/><stop offset=".28" stop-color="#797979"/><stop offset=".39" stop-color="#8a8a8a"/><stop offset=".638" stop-color="#a9a9a9"/><stop offset=".749" stop-color="#b6b6b6"/><stop offset=".785" stop-color="#b9b9b9"/><stop offset=".886" stop-color="#c4c4c4"/><stop offset=".978" stop-color="#c9c9c9"/><stop offset="1" stop-color="#c9c9c9"/></linearGradient><linearGradient id="b39b" x2="0" y2="1"><stop offset=".009" stop-color="#313131"/><stop offset=".023" stop-color="#373737"/><stop offset=".032" stop-color="#3b3b3b"/><stop offset=".042" stop-color="#3e3e3e"/><stop offset=".051" stop-color="#434343"/><stop offset=".06" stop-color="#464646"/><stop offset=".069" stop-color="#4a4a4a"/><stop offset=".079" stop-color="#4d4d4d"/><stop offset=".097" stop-color="#525252"/><stop offset=".115" stop-color="#585858"/><stop offset=".134" stop-color="#5d5d5d"/><stop offset=".189" stop-color="#6a6a6a"/><stop offset=".282" stop-color="#7b7b7b"/><stop offset=".393" stop-color="#8b8b8b"/><stop offset=".642" stop-color="#aaaaaa"/><stop offset=".753" stop-color="#b5b5b5"/><stop offset=".79" stop-color="#b9b9b9"/><stop offset=".891" stop-color="#c3c3c3"/><stop offset=".984" stop-color="#c8c8c8"/><stop offset="1" stop-color="#c8c8c8"/></linearGradient><linearGradient id="b40b" x2="0" y2="1"><stop offset=".009" stop-color="#2d2d2d"/><stop offset=".023" stop-color="#373737"/><stop offset=".033" stop-color="#3b3b3b"/><stop offset=".042" stop-color="#414141"/><stop offset=".051" stop-color="#464646"/><stop offset=".061" stop-color="#4a4a4a"/><stop offset=".07" stop-color="#4d4d4d"/><stop offset=".079" stop-color="#505050"/><stop offset=".098" stop-color="#575757"/><stop offset=".117" stop-color="#5c5c5c"/><stop offset=".135" stop-color="#606060"/><stop offset=".191" stop-color="#6d6d6d"/><stop offset=".284" stop-color="#7c7c7c"/><stop offset=".396" stop-color="#8c8c8c"/><stop offset=".648" stop-color="#a9a9a9"/><stop offset=".76" stop-color="#b5b5b5"/><stop offset=".797" stop-color="#bababa"/><stop offset=".9" stop-color="#c4c4c4"/><stop offset=".993" stop-color="#c8c8c8"/><stop offset="1" stop-color="#c8c8c8"/></linearGradient><linearGradient id="b41b" x2="0" y2="1"><stop offset=".009" stop-color="#383838"/><stop offset=".023" stop-color="#3b3b3b"/><stop offset=".033" stop-color="#3a3a3a"/><stop offset=".042" stop-color="#464646"/><stop offset=".052" stop-color="#4b4b4b"/><stop offset=".061" stop-color="#4d4d4d"/><stop offset=".07" stop-color="#545454"/><stop offset=".08" stop-color="#565656"/><stop offset=".099" stop-color="#5b5b5b"/><stop offset=".117" stop-color="#606060"/><stop offset=".136" stop-color="#656565"/><stop offset=".193" stop-color="#707070"/><stop offset=".287" stop-color="#7f7f7f"/><stop offset=".399" stop-color="#8d8d8d"/><stop offset=".653" stop-color="#aaaaaa"/><stop offset=".766" stop-color="#b6b6b6"/><stop offset=".803" stop-color="#b9b9b9"/><stop offset=".907" stop-color="#c3c3c3"/><stop offset="1" stop-color="#c7c7c7"/></linearGradient><linearGradient id="b42b" x2="0" y2="1"><stop offset=".01" stop-color="#3b3b3b"/><stop offset=".024" stop-color="#3b3b3b"/><stop offset=".033" stop-color="#474747"/><stop offset=".043" stop-color="#4c4c4c"/><stop offset=".052" stop-color="#525252"/><stop offset=".062" stop-color="#595959"/><stop offset=".071" stop-color="#5b5b5b"/><stop offset=".081" stop-color="#5e5e5e"/><stop offset=".1" stop-color="#606060"/><stop offset=".119" stop-color="#666666"/><stop offset=".138" stop-color="#696969"/><stop offset=".195" stop-color="#747474"/><stop offset=".29" stop-color="#818181"/><stop offset=".404" stop-color="#8e8e8e"/><stop offset=".661" stop-color="#a9a9a9"/><stop offset=".775" stop-color="#b5b5b5"/><stop offset=".813" stop-color="#b9b9b9"/><stop offset=".918" stop-color="#c4c4c4"/><stop offset="1" stop-color="#c5c5c5"/></linearGradient><linearGradient id="b43b" x2="0" y2="1"><stop offset=".01" stop-color="#353535"/><stop offset=".024" stop-color="#474747"/><stop offset=".034" stop-color="#545454"/><stop offset=".043" stop-color="#595959"/><stop offset=".053" stop-color="#5d5d5d"/><stop offset=".062" stop-color="#5f5f5f"/><stop offset=".072" stop-color="#606060"/><stop offset=".082" stop-color="#616161"/><stop offset=".101" stop-color="#686868"/><stop offset=".12" stop-color="#6c6c6c"/><stop offset=".139" stop-color="#707070"/><stop offset=".197" stop-color="#787878"/><stop offset=".293" stop-color="#838383"/><stop offset=".408" stop-color="#8f8f8f"/><stop offset=".667" stop-color="#aaaaaa"/><stop offset=".783" stop-color="#b6b6b6"/><stop offset=".821" stop-color="#bababa"/><stop offset=".927" stop-color="#c3c3c3"/><stop offset="1" stop-color="#c4c4c4"/></linearGradient><linearGradient id="b44b" x2="0" y2="1"><stop offset=".01" stop-color="#494949"/><stop offset=".024" stop-color="#5b5b5b"/><stop offset=".034" stop-color="#5e5e5e"/><stop offset=".044" stop-color="#616161"/><stop offset=".054" stop-color="#616161"/><stop offset=".063" stop-color="#656565"/><stop offset=".073" stop-color="#686868"/><stop offset=".083" stop-color="#6b6b6b"/><stop offset=".103" stop-color="#6f6f6f"/><stop offset=".122" stop-color="#747474"/><stop offset=".142" stop-color="#787878"/><stop offset=".2" stop-color="#7d7d7d"/><stop offset=".298" stop-color="#868686"/><stop offset=".415" stop-color="#919191"/><stop offset=".678" stop-color="#aaaaaa"/><stop offset=".796" stop-color="#b6b6b6"/><stop offset=".835" stop-color="#bababa"/><stop offset=".942" stop-color="#c1c1c1"/><stop offset="1" stop-color="#c3c3c3"/></linearGradient><linearGradient id="b45b" x2="0" y2="1"><stop offset=".01" stop-color="#606060"/><stop offset=".025" stop-color="#616161"/><stop offset=".035" stop-color="#656565"/><stop offset=".045" stop-color="#686868"/><stop offset=".055" stop-color="#6c6c6c"/><stop offset=".065" stop-color="#6d6d6d"/><stop offset=".075" stop-color="#727272"/><stop offset=".085" stop-color="#737373"/><stop offset=".104" stop-color="#7a7a7a"/><stop offset=".124" stop-color="#7b7b7b"/><stop offset=".144" stop-color="#7d7d7d"/><stop offset=".204" stop-color="#828282"/><stop offset=".303" stop-color="#888888"/><stop offset=".423" stop-color="#919191"/><stop offset=".691" stop-color="#ababab"/><stop offset=".811" stop-color="#b6b6b6"/><stop offset=".85" stop-color="#bababa"/><stop offset=".96" stop-color="#c1c1c1"/><stop offset="1" stop-color="#c1c1c1"/></linearGradient><linearGradient id="b46b" x2="0" y2="1"><stop offset=".01" stop-color="#686868"/><stop offset=".025" stop-color="#6d6d6d"/><stop offset=".035" stop-color="#737373"/><stop offset=".045" stop-color="#777777"/><stop offset=".055" stop-color="#797979"/><stop offset=".066" stop-color="#7c7c7c"/><stop offset=".076" stop-color="#7d7d7d"/><stop offset=".086" stop-color="#7e7e7e"/><stop offset=".106" stop-color="#7f7f7f"/><stop offset=".126" stop-color="#818181"/><stop offset=".146" stop-color="#838383"/><stop offset=".207" stop-color="#868686"/><stop offset=".307" stop-color="#8a8a8a"/><stop offset=".428" stop-color="#939393"/><stop offset=".7" stop-color="#aaaaaa"/><stop offset=".821" stop-color="#b6b6b6"/><stop offset=".862" stop-color="#bababa"/><stop offset=".973" stop-color="#bfbfbf"/><stop offset="1" stop-color="#c0c0c0"/></linearGradient><linearGradient id="b47b" x2="0" y2="1"><stop offset=".01" stop-color="#797979"/><stop offset=".026" stop-color="#7d7d7d"/><stop offset=".036" stop-color="#7e7e7e"/><stop offset=".046" stop-color="#7f7f7f"/><stop offset=".057" stop-color="#7f7f7f"/><stop offset=".067" stop-color="#818181"/><stop offset=".077" stop-color="#828282"/><stop offset=".087" stop-color="#828282"/><stop offset=".108" stop-color="#848484"/><stop offset=".129" stop-color="#858585"/><stop offset=".149" stop-color="#868686"/><stop offset=".211" stop-color="#898989"/><stop offset=".314" stop-color="#8d8d8d"/><stop offset=".437" stop-color="#949494"/><stop offset=".715" stop-color="#ababab"/><stop offset=".839" stop-color="#b7b7b7"/><stop offset=".88" stop-color="#bababa"/><stop offset=".993" stop-color="#bebebe"/><stop offset="1" stop-color="#bfbfbf"/></linearGradient><linearGradient id="b48b" x2="0" y2="1"><stop offset=".011" stop-color="#818181"/><stop offset=".026" stop-color="#838383"/><stop offset=".037" stop-color="#838383"/><stop offset=".047" stop-color="#848484"/><stop offset=".058" stop-color="#858585"/><stop offset=".068" stop-color="#848484"/><stop offset=".079" stop-color="#858585"/><stop offset=".089" stop-color="#868686"/><stop offset=".111" stop-color="#878787"/><stop offset=".132" stop-color="#888888"/><stop offset=".153" stop-color="#888888"/><stop offset=".216" stop-color="#8b8b8b"/><stop offset=".321" stop-color="#8f8f8f"/><stop offset=".447" stop-color="#959595"/><stop offset=".732" stop-color="#ababab"/><stop offset=".858" stop-color="#b7b7b7"/><stop offset=".9" stop-color="#b9b9b9"/><stop offset="1" stop-color="#bdbdbd"/></linearGradient><linearGradient id="b49b" x2="0" y2="1"><stop offset=".011" stop-color="#858585"/><stop offset=".027" stop-color="#868686"/><stop offset=".038" stop-color="#878787"/><stop offset=".049" stop-color="#878787"/><stop offset=".059" stop-color="#878787"/><stop offset=".07" stop-color="#888888"/><stop offset=".081" stop-color="#888888"/><stop offset=".092" stop-color="#888888"/><stop offset=".113" stop-color="#888888"/><stop offset=".135" stop-color="#888888"/><stop offset=".157" stop-color="#8a8a8a"/><stop offset=".221" stop-color="#8f8f8f"/><stop offset=".329" stop-color="#919191"/><stop offset=".459" stop-color="#959595"/><stop offset=".75" stop-color="#ababab"/><stop offset=".88" stop-color="#b6b6b6"/><stop offset=".923" stop-color="#b8b8b8"/><stop offset="1" stop-color="#bbbbbb"/></linearGradient><linearGradient id="b50b" x2="0" y2="1"><stop offset=".011" stop-color="#878787"/><stop offset=".028" stop-color="#888888"/><stop offset=".039" stop-color="#878787"/><stop offset=".05" stop-color="#888888"/><stop offset=".061" stop-color="#888888"/><stop offset=".072" stop-color="#888888"/><stop offset=".083" stop-color="#888888"/><stop offset=".094" stop-color="#888888"/><stop offset=".117" stop-color="#8b8b8b"/><stop offset=".139" stop-color="#8d8d8d"/><stop offset=".161" stop-color="#8f8f8f"/><stop offset=".228" stop-color="#919191"/><stop offset=".339" stop-color="#919191"/><stop offset=".472" stop-color="#959595"/><stop offset=".772" stop-color="#ababab"/><stop offset=".905" stop-color="#b3b3b3"/><stop offset=".949" stop-color="#b7b7b7"/><stop offset="1" stop-color="#b9b9b9"/></linearGradient><linearGradient id="b51b" x2="0" y2="1"><stop offset=".012" stop-color="#888888"/><stop offset=".029" stop-color="#888888"/><stop offset=".041" stop-color="#888888"/><stop offset=".052" stop-color="#878787"/><stop offset=".064" stop-color="#888888"/><stop offset=".075" stop-color="#8a8a8a"/><stop offset=".087" stop-color="#8c8c8c"/><stop offset=".099" stop-color="#8d8d8d"/><stop offset=".122" stop-color="#8f8f8f"/><stop offset=".145" stop-color="#909090"/><stop offset=".168" stop-color="#919191"/><stop offset=".238" stop-color="#929292"/><stop offset=".354" stop-color="#929292"/><stop offset=".493" stop-color="#969696"/><stop offset=".806" stop-color="#ababab"/><stop offset=".945" stop-color="#b1b1b1"/><stop offset=".991" stop-color="#b7b7b7"/><stop offset="1" stop-color="#b7b7b7"/></linearGradient><clipPath id="clb"><path d="M1180.9,214.8L1179.7,225.5L1177.9,227.3L1176.1,229.1L1174.4,231.0L1172.8,232.9L1171.2,234.9L1169.7,236.9L1168.2,239.0L1166.8,241.1L1163.8,242.2L1161.9,243.8L1159.8,245.3L1157.6,246.4L1155.3,247.4L1152.9,248.0L1150.4,248.5L1147.9,248.8L1145.4,249.1L1142.9,249.4L1140.4,249.7L1137.9,250.1L1135.4,250.5L1132.9,251.1L1130.5,251.7L1128.1,252.5L1125.8,253.5L1123.5,254.5L1121.3,255.8L1119.2,257.1L1117.1,258.6L1115.1,260.1L1113.2,261.7L1111.3,263.5L1109.6,265.2L1107.8,267.1L1106.2,269.0L1104.7,271.0L1103.3,273.1L1102.0,275.3L1100.8,277.5L1099.7,279.8L1098.8,282.1L1098.0,284.5L1097.2,286.9L1096.6,289.3L1096.1,291.8L1095.7,294.3L1095.4,296.8L1095.2,299.3L1095.1,301.8L1095.1,304.3L1095.1,306.8L1095.3,309.4L1095.5,311.9L1095.8,314.4L1096.2,316.8L1096.7,319.3L1097.3,321.8L1097.9,324.2L1098.6,326.6L1099.3,329.0L1100.1,331.4L1101.0,333.8L1101.9,336.1L1102.8,338.5L1103.7,340.8L1104.7,343.1L1105.8,345.4L1106.9,347.7L1108.0,349.9L1109.2,352.1L1110.4,354.3L1111.7,356.5L1113.0,358.7L1114.3,360.8L1115.7,362.9L1117.1,365.0L1118.6,367.0L1120.1,369.0L1121.6,371.0L1123.2,373.0L1124.8,374.9L1126.4,376.8L1128.1,378.7L1129.8,380.6L1131.6,382.4L1133.3,384.2L1135.1,386.0L1136.9,387.7L1138.8,389.4L1140.6,391.1L1142.6,392.7L1144.5,394.4L1146.4,395.9L1148.4,397.5L1150.4,399.0L1152.4,400.5L1154.5,402.0L1156.6,403.4L1158.7,404.8L1160.8,406.1L1163.0,407.4L1165.1,408.7L1167.3,409.9L1169.5,411.1L1171.8,412.3L1174.0,413.4L1176.3,414.5L1178.6,415.5L1180.9,416.5L1183.3,417.4L1185.6,418.3L1188.0,419.2L1190.3,420.0L1192.7,420.8L1195.1,421.5L1197.6,422.2L1200.0,422.9L1202.4,423.5L1204.9,424.0L1207.4,424.5L1209.8,425.0L1212.3,425.4L1214.8,425.8L1217.3,426.2L1219.8,426.5L1222.3,426.7L1224.8,427.0L1227.3,427.1L1229.8,427.2L1232.3,427.3L1234.8,427.3L1237.4,427.2L1239.9,427.1L1242.4,427.0L1244.9,426.7L1247.4,426.5L1249.9,426.1L1252.4,425.7L1254.9,425.3L1257.3,424.8L1259.8,424.3L1262.2,423.7L1264.7,423.1L1267.1,422.5L1269.5,421.8L1272.0,421.1L1274.4,420.4L1276.8,419.7L1279.2,418.9L1281.6,418.1L1283.9,417.2L1286.3,416.3L1288.6,415.3L1290.9,414.3L1293.1,413.2L1295.4,412.1L1297.6,410.9L1299.8,409.6L1302.0,408.4L1304.1,407.1L1306.3,405.8L1308.4,404.4L1310.5,403.1L1312.6,401.7L1314.7,400.3L1316.8,398.9L1318.9,397.5L1320.9,396.0L1322.9,394.5L1324.9,392.9L1326.8,391.3L1328.7,389.6L1330.5,387.9L1332.3,386.1L1334.0,384.3L1335.7,382.4L1337.3,380.5L1338.9,378.5L1340.4,376.5L1341.9,374.5L1343.4,372.5L1345.0,370.5L1346.8,368.7L1348.7,367.1L1350.8,365.7L1353.1,364.6L1355.5,363.9L1358.0,363.6L1360.5,363.9L1362.9,364.6L1365.2,365.7L1367.3,367.1L1369.2,368.7L1371.0,370.5L1372.6,372.5L1374.1,374.5L1375.6,376.5L1377.1,378.5L1378.7,380.5L1380.3,382.4L1382.0,384.3L1383.7,386.1L1385.5,387.9L1387.3,389.6L1389.2,391.3L1391.1,392.9L1393.1,394.5L1395.1,396.0L1397.1,397.5L1399.2,398.9L1401.3,400.3L1403.4,401.7L1405.5,403.1L1407.6,404.4L1409.7,405.8L1411.9,407.1L1414.0,408.4L1416.2,409.6L1418.4,410.9L1420.6,412.1L1422.9,413.2L1425.1,414.3L1427.4,415.3L1429.7,416.3L1432.1,417.2L1434.4,418.1L1436.8,418.9L1439.2,419.7L1441.6,420.4L1444.0,421.1L1446.5,421.8L1448.9,422.5L1451.3,423.1L1453.8,423.7L1456.2,424.3L1458.7,424.8L1461.1,425.3L1463.6,425.7L1466.1,426.1L1468.6,426.5L1471.1,426.7L1473.6,427.0L1476.1,427.1L1478.6,427.2L1481.2,427.3L1483.7,427.3L1486.2,427.2L1488.7,427.1L1491.2,427.0L1493.7,426.7L1496.2,426.5L1498.7,426.2L1501.2,425.8L1503.7,425.4L1506.2,425.0L1508.6,424.5L1511.1,424.0L1513.6,423.5L1516.0,422.9L1518.4,422.2L1520.9,421.5L1523.3,420.8L1525.7,420.0L1528.0,419.2L1530.4,418.3L1532.7,417.4L1535.1,416.5L1537.4,415.5L1539.7,414.5L1542.0,413.4L1544.2,412.3L1546.5,411.1L1548.7,409.9L1550.9,408.7L1553.0,407.4L1555.2,406.1L1557.3,404.8L1559.4,403.4L1561.5,402.0L1563.6,400.5L1565.6,399.0L1567.6,397.5L1569.6,395.9L1571.5,394.4L1573.4,392.7L1575.4,391.1L1577.2,389.4L1579.1,387.7L1580.9,386.0L1582.7,384.2L1584.4,382.4L1586.2,380.6L1587.9,378.7L1589.6,376.8L1591.2,374.9L1592.8,373.0L1594.4,371.0L1595.9,369.0L1597.4,367.0L1598.9,365.0L1600.3,362.9L1601.7,360.8L1603.0,358.7L1604.3,356.5L1605.6,354.3L1606.8,352.1L1608.0,349.9L1609.1,347.7L1610.2,345.4L1611.3,343.1L1612.3,340.8L1613.2,338.5L1614.1,336.1L1615.0,333.8L1615.9,331.4L1616.7,329.0L1617.4,326.6L1618.1,324.2L1618.7,321.8L1619.3,319.3L1619.8,316.8L1620.2,314.4L1620.5,311.9L1620.7,309.4L1620.9,306.8L1620.9,304.3L1620.9,301.8L1620.8,299.3L1620.6,296.8L1620.3,294.3L1619.9,291.8L1619.4,289.3L1618.8,286.9L1618.0,284.5L1617.2,282.1L1616.3,279.8L1615.2,277.5L1614.0,275.3L1612.7,273.1L1611.3,271.0L1609.8,269.0L1608.2,267.1L1606.4,265.2L1604.7,263.5L1602.8,261.7L1600.9,260.1L1598.9,258.6L1596.8,257.1L1594.7,255.8L1592.5,254.5L1590.2,253.5L1587.9,252.5L1585.5,251.7L1583.1,251.1L1580.6,250.5L1578.1,250.1L1575.6,249.7L1573.1,249.4L1570.6,249.1L1568.1,248.8L1565.6,248.5L1563.1,248.0L1560.7,247.4L1558.4,246.4L1556.2,245.3L1554.1,243.8L1552.2,242.2L1550.5,240.3L1547.8,239.0L1546.3,236.9L1544.8,234.9L1543.2,232.9L1541.6,231.0L1539.9,229.1L1538.1,227.3L1536.3,225.5L1535.1,214.8L1424.9,214.8L1423.7,225.5L1421.9,227.3L1420.1,229.1L1418.4,231.0L1416.8,233.0L1415.2,234.9L1413.6,237.0L1412.2,239.0L1410.8,241.2L1408.4,242.7L1406.3,244.3L1404.2,245.7L1401.9,246.9L1399.6,248.1L1397.2,249.1L1394.9,250.1L1392.5,251.2L1390.2,252.3L1388.0,253.7L1385.9,255.1L1383.8,256.6L1381.6,258.1L1379.5,259.6L1377.3,260.9L1375.1,262.2L1372.8,263.5L1370.5,264.6L1368.1,265.6L1365.7,266.5L1363.2,267.1L1360.6,267.5L1358.0,267.5L1355.4,267.5L1352.8,267.1L1350.3,266.5L1347.9,265.6L1345.5,264.6L1343.2,263.5L1340.9,262.2L1338.7,260.9L1336.5,259.6L1334.4,258.1L1332.2,256.6L1330.1,255.1L1328.0,253.7L1325.8,252.3L1323.5,251.2L1321.1,250.1L1318.8,249.1L1316.4,248.1L1314.1,246.9L1311.8,245.7L1309.7,244.3L1307.6,242.7L1305.8,240.8L1303.8,239.0L1302.4,237.0L1300.8,234.9L1299.2,233.0L1297.6,231.0L1295.9,229.1L1294.1,227.3L1292.3,225.5L1291.1,214.8Z"/></clipPath><clipPath id="ctb"><rect x="1063.6" y="52.6" width="588.1" height="163.4"/></clipPath></defs>
<rect x="1063.6" y="216" width="588.1" height="277.3" fill="#c1c1c1"/>
<g clip-path="url(#ctb)"><g filter="url(#jt)"><g id="Tb"><rect x="1051.83" y="52.6" width="6.49" height="163.4" fill="url(#b0)"/><rect x="1057.71" y="52.6" width="6.49" height="163.4" fill="url(#b1)"/><rect x="1063.60" y="52.6" width="6.49" height="163.4" fill="url(#b2)"/><rect x="1069.49" y="52.6" width="6.49" height="163.4" fill="url(#b3)"/><rect x="1075.38" y="52.6" width="6.49" height="163.4" fill="url(#b4)"/><rect x="1081.27" y="52.6" width="6.49" height="163.4" fill="url(#b5)"/><rect x="1087.15" y="52.6" width="6.49" height="163.4" fill="url(#b6)"/><rect x="1093.04" y="52.6" width="6.49" height="163.4" fill="url(#b7)"/><rect x="1098.93" y="52.6" width="6.49" height="163.4" fill="url(#b8)"/><rect x="1104.82" y="52.6" width="6.49" height="163.4" fill="url(#b9)"/><rect x="1110.71" y="52.6" width="6.49" height="163.4" fill="url(#b10)"/><rect x="1116.59" y="52.6" width="6.49" height="163.4" fill="url(#b11)"/><rect x="1122.48" y="52.6" width="6.49" height="163.4" fill="url(#b12)"/><rect x="1128.37" y="52.6" width="6.49" height="163.4" fill="url(#b13)"/><rect x="1134.26" y="52.6" width="6.49" height="163.4" fill="url(#b14)"/><rect x="1140.15" y="52.6" width="6.49" height="163.4" fill="url(#b15)"/><rect x="1146.03" y="52.6" width="6.49" height="163.4" fill="url(#b16)"/><rect x="1151.92" y="52.6" width="6.49" height="163.4" fill="url(#b17)"/><rect x="1157.81" y="52.6" width="6.49" height="163.4" fill="url(#b18)"/><rect x="1163.70" y="52.6" width="6.49" height="163.4" fill="url(#b19)"/><rect x="1169.59" y="52.6" width="6.49" height="163.4" fill="url(#b20)"/><rect x="1175.47" y="52.6" width="6.49" height="163.4" fill="url(#b21)"/><rect x="1181.36" y="52.6" width="6.49" height="163.4" fill="url(#b22)"/><rect x="1187.25" y="52.6" width="6.49" height="163.4" fill="url(#b23)"/><rect x="1193.14" y="52.6" width="6.49" height="163.4" fill="url(#b24)"/><rect x="1199.03" y="52.6" width="6.49" height="163.4" fill="url(#b25)"/><rect x="1204.91" y="52.6" width="6.49" height="163.4" fill="url(#b26)"/><rect x="1210.80" y="52.6" width="6.49" height="163.4" fill="url(#b27)"/><rect x="1216.69" y="52.6" width="6.49" height="163.4" fill="url(#b28)"/><rect x="1222.58" y="52.6" width="6.49" height="163.4" fill="url(#b29)"/><rect x="1228.46" y="52.6" width="6.49" height="163.4" fill="url(#b30)"/><rect x="1234.35" y="52.6" width="6.49" height="163.4" fill="url(#b31)"/><rect x="1240.24" y="52.6" width="6.49" height="163.4" fill="url(#b32)"/><rect x="1246.13" y="52.6" width="6.49" height="163.4" fill="url(#b33)"/><rect x="1252.02" y="52.6" width="6.49" height="163.4" fill="url(#b34)"/><rect x="1257.90" y="52.6" width="6.49" height="163.4" fill="url(#b35)"/><rect x="1263.79" y="52.6" width="6.49" height="163.4" fill="url(#b36)"/><rect x="1269.68" y="52.6" width="6.49" height="163.4" fill="url(#b37)"/><rect x="1275.57" y="52.6" width="6.49" height="163.4" fill="url(#b38)"/><rect x="1281.46" y="52.6" width="6.49" height="163.4" fill="url(#b39)"/><rect x="1287.34" y="52.6" width="6.49" height="163.4" fill="url(#b40)"/><rect x="1293.23" y="52.6" width="6.49" height="163.4" fill="url(#b41)"/><rect x="1299.12" y="52.6" width="6.49" height="163.4" fill="url(#b42)"/><rect x="1305.01" y="52.6" width="6.49" height="163.4" fill="url(#b43)"/><rect x="1310.90" y="52.6" width="6.49" height="163.4" fill="url(#b44)"/><rect x="1316.78" y="52.6" width="6.49" height="163.4" fill="url(#b45)"/><rect x="1322.67" y="52.6" width="6.49" height="163.4" fill="url(#b46)"/><rect x="1328.56" y="52.6" width="6.49" height="163.4" fill="url(#b47)"/><rect x="1334.45" y="52.6" width="6.49" height="163.4" fill="url(#b48)"/><rect x="1340.34" y="52.6" width="6.49" height="163.4" fill="url(#b49)"/><rect x="1346.22" y="52.6" width="6.49" height="163.4" fill="url(#b50)"/><rect x="1352.11" y="52.6" width="6.49" height="163.4" fill="url(#b51)"/></g><use href="#Tb" transform="translate(2716.00,0) scale(-1,1)"/></g></g>
<g clip-path="url(#clb)"><g filter="url(#jl)"><g id="Lb"><rect x="1075.38" y="214" width="6.49" height="108.4" fill="url(#b4b)"/><rect x="1081.27" y="214" width="6.49" height="130.1" fill="url(#b5b)"/><rect x="1087.15" y="214" width="6.49" height="141.7" fill="url(#b6b)"/><rect x="1093.04" y="214" width="6.49" height="152.7" fill="url(#b7b)"/><rect x="1098.93" y="214" width="6.49" height="161" fill="url(#b8b)"/><rect x="1104.82" y="214" width="6.49" height="168.9" fill="url(#b9b)"/><rect x="1110.71" y="214" width="6.49" height="174.6" fill="url(#b10b)"/><rect x="1116.59" y="214" width="6.49" height="181.7" fill="url(#b11b)"/><rect x="1122.48" y="214" width="6.49" height="186.7" fill="url(#b12b)"/><rect x="1128.37" y="214" width="6.49" height="191.5" fill="url(#b13b)"/><rect x="1134.26" y="214" width="6.49" height="196" fill="url(#b14b)"/><rect x="1140.15" y="214" width="6.49" height="198.8" fill="url(#b15b)"/><rect x="1146.03" y="214" width="6.49" height="202.7" fill="url(#b16b)"/><rect x="1151.92" y="214" width="6.49" height="206.3" fill="url(#b17b)"/><rect x="1157.81" y="214" width="6.49" height="208.5" fill="url(#b18b)"/><rect x="1163.70" y="214" width="6.49" height="211.4" fill="url(#b19b)"/><rect x="1169.59" y="214" width="6.49" height="213.2" fill="url(#b20b)"/><rect x="1175.47" y="214" width="6.49" height="215.5" fill="url(#b21b)"/><rect x="1181.36" y="214" width="6.49" height="216.9" fill="url(#b22b)"/><rect x="1187.25" y="214" width="6.49" height="218.5" fill="url(#b23b)"/><rect x="1193.14" y="214" width="6.49" height="219.4" fill="url(#b24b)"/><rect x="1199.03" y="214" width="6.49" height="220.2" fill="url(#b25b)"/><rect x="1204.91" y="214" width="6.49" height="221" fill="url(#b26b)"/><rect x="1210.80" y="214" width="6.49" height="221.2" fill="url(#b27b)"/><rect x="1216.69" y="214" width="6.49" height="221.3" fill="url(#b28b)"/><rect x="1222.58" y="214" width="6.49" height="221.3" fill="url(#b29b)"/><rect x="1228.46" y="214" width="6.49" height="221.3" fill="url(#b30b)"/><rect x="1234.35" y="214" width="6.49" height="221.3" fill="url(#b31b)"/><rect x="1240.24" y="214" width="6.49" height="221.3" fill="url(#b32b)"/><rect x="1246.13" y="214" width="6.49" height="221.3" fill="url(#b33b)"/><rect x="1252.02" y="214" width="6.49" height="221.2" fill="url(#b34b)"/><rect x="1257.90" y="214" width="6.49" height="220.7" fill="url(#b35b)"/><rect x="1263.79" y="214" width="6.49" height="220.1" fill="url(#b36b)"/><rect x="1269.68" y="214" width="6.49" height="218.8" fill="url(#b37b)"/><rect x="1275.57" y="214" width="6.49" height="217.7" fill="url(#b38b)"/><rect x="1281.46" y="214" width="6.49" height="216.5" fill="url(#b39b)"/><rect x="1287.34" y="214" width="6.49" height="214.4" fill="url(#b40b)"/><rect x="1293.23" y="214" width="6.49" height="212.9" fill="url(#b41b)"/><rect x="1299.12" y="214" width="6.49" height="210.3" fill="url(#b42b)"/><rect x="1305.01" y="214" width="6.49" height="208.3" fill="url(#b43b)"/><rect x="1310.90" y="214" width="6.49" height="204.9" fill="url(#b44b)"/><rect x="1316.78" y="214" width="6.49" height="201.1" fill="url(#b45b)"/><rect x="1322.67" y="214" width="6.49" height="198.4" fill="url(#b46b)"/><rect x="1328.56" y="214" width="6.49" height="194.3" fill="url(#b47b)"/><rect x="1334.45" y="214" width="6.49" height="190" fill="url(#b48b)"/><rect x="1340.34" y="214" width="6.49" height="185.3" fill="url(#b49b)"/><rect x="1346.22" y="214" width="6.49" height="180.1" fill="url(#b50b)"/><rect x="1352.11" y="214" width="6.49" height="172.5" fill="url(#b51b)"/></g><use href="#Lb" transform="translate(2716.00,0) scale(-1,1)"/></g></g>
<path d="M1063.6,52.6V493.3H1652.3" fill="none" stroke="#262626" stroke-width="1.3"/>
<path d="M1063.0,52.6H1653.0" stroke="#000" stroke-width="3.0" fill="none"/>
<path d="M1063.6,216.0L1192.0,216.0A82.0,82.0 0 1 0 1280.0,216.0L1436.0,216.0A82.0,82.0 0 1 0 1524.0,216.0L1653.0,216.0" stroke="#000" stroke-width="2.8" fill="none" stroke-linejoin="round"/>
<rect x="1732.8" y="46.3" width="50.4" height="453.7" fill="url(#cbg)" stroke="#1a1a1a" stroke-width="2.2"/><path d="M1777.7,386.6H1783.2" stroke="#1a1a1a" stroke-width="2"/><path d="M1777.7,273.1H1783.2" stroke="#1a1a1a" stroke-width="2"/><path d="M1777.7,159.7H1783.2" stroke="#1a1a1a" stroke-width="2"/>
</g>
<g id="panel-c">
<defs><linearGradient id="c0" x2="0" y2="1"><stop offset="0" stop-color="#000000"/><stop offset=".048" stop-color="#060606"/><stop offset=".103" stop-color="#0d0d0d"/><stop offset=".158" stop-color="#131313"/><stop offset=".226" stop-color="#1a1a1a"/><stop offset=".295" stop-color="#212121"/><stop offset=".363" stop-color="#262626"/><stop offset=".5" stop-color="#303030"/><stop offset=".568" stop-color="#343434"/><stop offset=".637" stop-color="#373737"/><stop offset=".76" stop-color="#3c3c3c"/><stop offset=".842" stop-color="#3e3e3e"/><stop offset=".911" stop-color="#3e3e3e"/><stop offset=".966" stop-color="#3f3f3f"/><stop offset="1" stop-color="#3f3f3f"/></linearGradient><linearGradient id="c1" x2="0" y2="1"><stop offset="0" stop-color="#000000"/><stop offset=".048" stop-color="#060606"/><stop offset=".103" stop-color="#0d0d0d"/><stop offset=".158" stop-color="#131313"/><stop offset=".226" stop-color="#1a1a1a"/><stop offset=".295" stop-color="#202020"/><stop offset=".363" stop-color="#272727"/><stop offset=".5" stop-color="#303030"/><stop offset=".568" stop-color="#343434"/><stop offset=".637" stop-color="#373737"/><stop offset=".76" stop-color="#3b3b3b"/><stop offset=".842" stop-color="#3d3d3d"/><stop offset=".911" stop-color="#3f3f3f"/><stop offset=".966" stop-color="#3e3e3e"/><stop offset="1" stop-color="#3e3e3e"/></linearGradient><linearGradient id="c2" x2="0" y2="1"><stop offset="0" stop-color="#000000"/><stop offset=".048" stop-color="#070707"/><stop offset=".103" stop-color="#0d0d0d"/><stop offset=".158" stop-color="#131313"/><stop offset=".226" stop-color="#1a1a1a"/><stop offset=".295" stop-color="#212121"/><stop offset=".363" stop-color="#262626"/><stop offset=".5" stop-color="#303030"/><stop offset=".568" stop-color="#343434"/><stop offset=".637" stop-color="#383838"/><stop offset=".76" stop-color="#3c3c3c"/><stop offset=".842" stop-color="#3e3e3e"/><stop offset=".911" stop-color="#3e3e3e"/><stop offset=".966" stop-color="#3f3f3f"/><stop offset="1" stop-color="#3f3f3f"/></linearGradient><linearGradient id="c3" x2="0" y2="1"><stop offset="0" stop-color="#000000"/><stop offset=".048" stop-color="#060606"/><stop offset=".103" stop-color="#0d0d0d"/><stop offset=".158" stop-color="#151515"/><stop offset=".226" stop-color="#1c1c1c"/><stop offset=".295" stop-color="#222222"/><stop offset=".363" stop-color="#282828"/><stop offset=".5" stop-color="#323232"/><stop offset=".568" stop-color="#363636"/><stop offset=".637" stop-color="#3a3a3a"/><stop offset=".76" stop-color="#3e3e3e"/><stop offset=".842" stop-color="#3f3f3f"/><stop offset=".911" stop-color="#404040"/><stop offset=".966" stop-color="#404040"/><stop offset="1" stop-color="#404040"/></linearGradient><linearGradient id="c4" x2="0" y2="1"><stop offset="0" stop-color="#000000"/><stop offset=".048" stop-color="#070707"/><stop offset=".103" stop-color="#0f0f0f"/><stop offset=".158" stop-color="#151515"/><stop offset=".226" stop-color="#1e1e1e"/><stop offset=".295" stop-color="#252525"/><stop offset=".363" stop-color="#2c2c2c"/><stop offset=".5" stop-color="#363636"/><stop offset=".568" stop-color="#3a3a3a"/><stop offset=".637" stop-color="#3c3c3c"/><stop offset=".76" stop-color="#414141"/><stop offset=".842" stop-color="#424242"/><stop offset=".911" stop-color="#434343"/><stop offset=".966" stop-color="#424242"/><stop offset="1" stop-color="#414141"/></linearGradient><linearGradient id="c5" x2="0" y2="1"><stop offset="0" stop-color="#000000"/><stop offset=".048" stop-color="#080808"/><stop offset=".103" stop-color="#101010"/><stop offset=".158" stop-color="#171717"/><stop offset=".226" stop-color="#1f1f1f"/><stop offset=".295" stop-color="#272727"/><stop offset=".363" stop-color="#2d2d2d"/><stop offset=".5" stop-color="#383838"/><stop offset=".568" stop-color="#3c3c3c"/><stop offset=".637" stop-color="#404040"/><stop offset=".76" stop-color="#434343"/><stop offset=".842" stop-color="#454545"/><stop offset=".911" stop-color="#444444"/><stop offset=".966" stop-color="#434343"/><stop offset="1" stop-color="#434343"/></linearGradient><linearGradient id="c6" x2="0" y2="1"><stop offset="0" stop-color="#000000"/><stop offset=".048" stop-color="#080808"/><stop offset=".103" stop-color="#101010"/><stop offset=".158" stop-color="#191919"/><stop offset=".226" stop-color="#222222"/><stop offset=".295" stop-color="#292929"/><stop offset=".363" stop-color="#303030"/><stop offset=".5" stop-color="#3b3b3b"/><stop offset=".568" stop-color="#404040"/><stop offset=".637" stop-color="#434343"/><stop offset=".76" stop-color="#474747"/><stop offset=".842" stop-color="#474747"/><stop offset=".911" stop-color="#474747"/><stop offset=".966" stop-color="#464646"/><stop offset="1" stop-color="#454545"/></linearGradient><linearGradient id="c7" x2="0" y2="1"><stop offset="0" stop-color="#000000"/><stop offset=".048" stop-color="#090909"/><stop offset=".103" stop-color="#121212"/><stop offset=".158" stop-color="#1a1a1a"/><stop offset=".226" stop-color="#232323"/><stop offset=".295" stop-color="#2c2c2c"/><stop offset=".363" stop-color="#333333"/><stop offset=".5" stop-color="#3f3f3f"/><stop offset=".568" stop-color="#424242"/><stop offset=".637" stop-color="#464646"/><stop offset=".76" stop-color="#4a4a4a"/><stop offset=".842" stop-color="#4a4a4a"/><stop offset=".911" stop-color="#494949"/><stop offset=".966" stop-color="#484848"/><stop offset="1" stop-color="#464646"/></linearGradient><linearGradient id="c8" x2="0" y2="1"><stop offset="0" stop-color="#000000"/><stop offset=".048" stop-color="#090909"/><stop offset=".103" stop-color="#131313"/><stop offset=".158" stop-color="#1b1b1b"/><stop offset=".226" stop-color="#262626"/><stop offset=".295" stop-color="#2e2e2e"/><stop offset=".363" stop-color="#363636"/><stop offset=".5" stop-color="#424242"/><stop offset=".568" stop-color="#474747"/><stop offset=".637" stop-color="#4a4a4a"/><stop offset=".76" stop-color="#4d4d4d"/><stop offset=".842" stop-color="#4e4e4e"/><stop offset=".911" stop-color="#4d4d4d"/><stop offset=".966" stop-color="#4b4b4b"/><stop offset="1" stop-color="#4a4a4a"/></linearGradient><linearGradient id="c9" x2="0" y2="1"><stop offset="0" stop-color="#000000"/><stop offset=".048" stop-color="#0a0a0a"/><stop offset=".103" stop-color="#141414"/><stop offset=".158" stop-color="#1e1e1e"/><stop offset=".226" stop-color="#272727"/><stop offset=".295" stop-color="#313131"/><stop offset=".363" stop-color="#393939"/><stop offset=".5" stop-color="#454545"/><stop offset=".568" stop-color="#494949"/><stop offset=".637" stop-color="#4d4d4d"/><stop offset=".76" stop-color="#505050"/><stop offset=".842" stop-color="#515151"/><stop offset=".911" stop-color="#4f4f4f"/><stop offset=".966" stop-color="#4e4e4e"/><stop offset="1" stop-color="#4c4c4c"/></linearGradient><linearGradient id="c10" x2="0" y2="1"><stop offset="0" stop-color="#000000"/><stop offset=".048" stop-color="#0a0a0a"/><stop offset=".103" stop-color="#151515"/><stop offset=".158" stop-color="#1e1e1e"/><stop offset=".226" stop-color="#2a2a2a"/><stop offset=".295" stop-color="#333333"/><stop offset=".363" stop-color="#3b3b3b"/><stop offset=".5" stop-color="#484848"/><stop offset=".568" stop-color="#4e4e4e"/><stop offset=".637" stop-color="#515151"/><stop offset=".76" stop-color="#555555"/><stop offset=".842" stop-color="#545454"/><stop offset=".911" stop-color="#535353"/><stop offset=".966" stop-color="#505050"/><stop offset="1" stop-color="#4e4e4e"/></linearGradient><linearGradient id="c11" x2="0" y2="1"><stop offset="0" stop-color="#000000"/><stop offset=".048" stop-color="#0b0b0b"/><stop offset=".103" stop-color="#161616"/><stop offset=".158" stop-color="#212121"/><stop offset=".226" stop-color="#2b2b2b"/><stop offset=".295" stop-color="#363636"/><stop offset=".363" stop-color="#3e3e3e"/><stop offset=".5" stop-color="#4c4c4c"/><stop offset=".568" stop-color="#515151"/><stop offset=".637" stop-color="#545454"/><stop offset=".76" stop-color="#585858"/><stop offset=".842" stop-color="#585858"/><stop offset=".911" stop-color="#565656"/><stop offset=".966" stop-color="#535353"/><stop offset="1" stop-color="#515151"/></linearGradient><linearGradient id="c12" x2="0" y2="1"><stop offset="0" stop-color="#000000"/><stop offset=".048" stop-color="#0b0b0b"/><stop offset=".103" stop-color="#171717"/><stop offset=".158" stop-color="#212121"/><stop offset=".226" stop-color="#2e2e2e"/><stop offset=".295" stop-color="#373737"/><stop offset=".363" stop-color="#414141"/><stop offset=".5" stop-color="#4f4f4f"/><stop offset=".568" stop-color="#545454"/><stop offset=".637" stop-color="#585858"/><stop offset=".76" stop-color="#5b5b5b"/><stop offset=".842" stop-color="#5b5b5b"/><stop offset=".911" stop-color="#595959"/><stop offset=".966" stop-color="#575757"/><stop offset="1" stop-color="#555555"/></linearGradient><linearGradient id="c13" x2="0" y2="1"><stop offset="0" stop-color="#000000"/><stop offset=".048" stop-color="#0c0c0c"/><stop offset=".103" stop-color="#181818"/><stop offset=".158" stop-color="#242424"/><stop offset=".226" stop-color="#303030"/><stop offset=".295" stop-color="#3b3b3b"/><stop offset=".363" stop-color="#444444"/><stop offset=".5" stop-color="#535353"/><stop offset=".568" stop-color="#585858"/><stop offset=".637" stop-color="#5c5c5c"/><stop offset=".76" stop-color="#606060"/><stop offset=".842" stop-color="#5f5f5f"/><stop offset=".911" stop-color="#5d5d5d"/><stop offset=".966" stop-color="#5a5a5a"/><stop offset="1" stop-color="#575757"/></linearGradient><linearGradient id="c14" x2="0" y2="1"><stop offset="0" stop-color="#000000"/><stop offset=".048" stop-color="#0c0c0c"/><stop offset=".103" stop-color="#1a1a1a"/><stop offset=".158" stop-color="#252525"/><stop offset=".226" stop-color="#323232"/><stop offset=".295" stop-color="#3e3e3e"/><stop offset=".363" stop-color="#484848"/><stop offset=".5" stop-color="#575757"/><stop offset=".568" stop-color="#5c5c5c"/><stop offset=".637" stop-color="#616161"/><stop offset=".76" stop-color="#646464"/><stop offset=".842" stop-color="#646464"/><stop offset=".911" stop-color="#626262"/><stop offset=".966" stop-color="#5e5e5e"/><stop offset="1" stop-color="#5c5c5c"/></linearGradient><linearGradient id="c15" x2="0" y2="1"><stop offset="0" stop-color="#000000"/><stop offset=".048" stop-color="#0e0e0e"/><stop offset=".103" stop-color="#1b1b1b"/><stop offset=".158" stop-color="#272727"/><stop offset=".226" stop-color="#353535"/><stop offset=".295" stop-color="#404040"/><stop offset=".363" stop-color="#4b4b4b"/><stop offset=".5" stop-color="#5b5b5b"/><stop offset=".568" stop-color="#616161"/><stop offset=".637" stop-color="#656565"/><stop offset=".76" stop-color="#696969"/><stop offset=".842" stop-color="#696969"/><stop offset=".911" stop-color="#666666"/><stop offset=".966" stop-color="#636363"/><stop offset="1" stop-color="#606060"/></linearGradient><linearGradient id="c16" x2="0" y2="1"><stop offset="0" stop-color="#000000"/><stop offset=".048" stop-color="#0d0d0d"/><stop offset=".103" stop-color="#1c1c1c"/><stop offset=".158" stop-color="#292929"/><stop offset=".226" stop-color="#373737"/><stop offset=".295" stop-color="#444444"/><stop offset=".363" stop-color="#4e4e4e"/><stop offset=".5" stop-color="#5e5e5e"/><stop offset=".568" stop-color="#656565"/><stop offset=".637" stop-color="#6a6a6a"/><stop offset=".76" stop-color="#6f6f6f"/><stop offset=".842" stop-color="#6e6e6e"/><stop offset=".911" stop-color="#6c6c6c"/><stop offset=".966" stop-color="#686868"/><stop offset="1" stop-color="#656565"/></linearGradient><linearGradient id="c17" x2="0" y2="1"><stop offset="0" stop-color="#000000"/><stop offset=".048" stop-color="#0f0f0f"/><stop offset=".103" stop-color="#1c1c1c"/><stop offset=".158" stop-color="#2a2a2a"/><stop offset=".226" stop-color="#383838"/><stop offset=".295" stop-color="#454545"/><stop offset=".363" stop-color="#505050"/><stop offset=".5" stop-color="#626262"/><stop offset=".568" stop-color="#686868"/><stop offset=".637" stop-color="#6d6d6d"/><stop offset=".76" stop-color="#727272"/><stop offset=".842" stop-color="#737373"/><stop offset=".911" stop-color="#707070"/><stop offset=".966" stop-color="#6d6d6d"/><stop offset="1" stop-color="#6a6a6a"/></linearGradient><linearGradient id="c18" x2="0" y2="1"><stop offset="0" stop-color="#000000"/><stop offset=".048" stop-color="#0e0e0e"/><stop offset=".103" stop-color="#1e1e1e"/><stop offset=".158" stop-color="#2b2b2b"/><stop offset=".226" stop-color="#3a3a3a"/><stop offset=".295" stop-color="#474747"/><stop offset=".363" stop-color="#525252"/><stop offset=".5" stop-color="#646464"/><stop offset=".568" stop-color="#6b6b6b"/><stop offset=".637" stop-color="#717171"/><stop offset=".76" stop-color="#777777"/><stop offset=".842" stop-color="#787878"/><stop offset=".911" stop-color="#777777"/><stop offset=".966" stop-color="#737373"/><stop offset="1" stop-color="#707070"/></linearGradient><linearGradient id="c19" x2="0" y2="1"><stop offset="0" stop-color="#000000"/><stop offset=".048" stop-color="#0f0f0f"/><stop offset=".103" stop-color="#1e1e1e"/><stop offset=".158" stop-color="#2c2c2c"/><stop offset=".226" stop-color="#3b3b3b"/><stop offset=".295" stop-color="#484848"/><stop offset=".363" stop-color="#545454"/><stop offset=".5" stop-color="#676767"/><stop offset=".568" stop-color="#6f6f6f"/><stop offset=".637" stop-color="#747474"/><stop offset=".76" stop-color="#7c7c7c"/><stop offset=".842" stop-color="#7d7d7d"/><stop offset=".911" stop-color="#7c7c7c"/><stop offset=".966" stop-color="#7a7a7a"/><stop offset="1" stop-color="#777777"/></linearGradient><linearGradient id="c20" x2="0" y2="1"><stop offset="0" stop-color="#000000"/><stop offset=".048" stop-color="#0f0f0f"/><stop offset=".103" stop-color="#1f1f1f"/><stop offset=".158" stop-color="#2c2c2c"/><stop offset=".226" stop-color="#3c3c3c"/><stop offset=".295" stop-color="#4a4a4a"/><stop offset=".363" stop-color="#565656"/><stop offset=".5" stop-color="#6a6a6a"/><stop offset=".568" stop-color="#717171"/><stop offset=".637" stop-color="#787878"/><stop offset=".76" stop-color="#808080"/><stop offset=".842" stop-color="#848484"/><stop offset=".911" stop-color="#848484"/><stop offset=".966" stop-color="#818181"/><stop offset="1" stop-color="#7e7e7e"/></linearGradient><linearGradient id="c21" x2="0" y2="1"><stop offset="0" stop-color="#000000"/><stop offset=".048" stop-color="#101010"/><stop offset=".103" stop-color="#1f1f1f"/><stop offset=".158" stop-color="#2e2e2e"/><stop offset=".226" stop-color="#3e3e3e"/><stop offset=".295" stop-color="#4b4b4b"/><stop offset=".363" stop-color="#575757"/><stop offset=".5" stop-color="#6b6b6b"/><stop offset=".568" stop-color="#747474"/><stop offset=".637" stop-color="#7b7b7b"/><stop offset=".76" stop-color="#868686"/><stop offset=".842" stop-color="#898989"/><stop offset=".911" stop-color="#8b8b8b"/><stop offset=".966" stop-color="#8a8a8a"/><stop offset="1" stop-color="#878787"/></linearGradient><linearGradient id="c22" x2="0" y2="1"><stop offset="0" stop-color="#000000"/><stop offset=".048" stop-color="#0f0f0f"/><stop offset=".103" stop-color="#202020"/><stop offset=".158" stop-color="#2e2e2e"/><stop offset=".226" stop-color="#3e3e3e"/><stop offset=".295" stop-color="#4d4d4d"/><stop offset=".363" stop-color="#595959"/><stop offset=".5" stop-color="#6e6e6e"/><stop offset=".568" stop-color="#767676"/><stop offset=".637" stop-color="#7f7f7f"/><stop offset=".76" stop-color="#8a8a8a"/><stop offset=".842" stop-color="#919191"/><stop offset=".911" stop-color="#949494"/><stop offset=".966" stop-color="#949494"/><stop offset="1" stop-color="#939393"/></linearGradient><linearGradient id="c23" x2="0" y2="1"><stop offset="0" stop-color="#000000"/><stop offset=".048" stop-color="#111111"/><stop offset=".103" stop-color="#212121"/><stop offset=".158" stop-color="#303030"/><stop offset=".226" stop-color="#404040"/><stop offset=".295" stop-color="#4e4e4e"/><stop offset=".363" stop-color="#5b5b5b"/><stop offset=".5" stop-color="#717171"/><stop offset=".568" stop-color="#7a7a7a"/><stop offset=".637" stop-color="#818181"/><stop offset=".76" stop-color="#8f8f8f"/><stop offset=".842" stop-color="#969696"/><stop offset=".911" stop-color="#9d9d9d"/><stop offset=".966" stop-color="#a2a2a2"/><stop offset="1" stop-color="#a2a2a2"/></linearGradient><linearGradient id="c24" x2="0" y2="1"><stop offset="0" stop-color="#000000"/><stop offset=".048" stop-color="#101010"/><stop offset=".103" stop-color="#212121"/><stop offset=".158" stop-color="#303030"/><stop offset=".226" stop-color="#404040"/><stop offset=".295" stop-color="#4f4f4f"/><stop offset=".363" stop-color="#5c5c5c"/><stop offset=".5" stop-color="#727272"/><stop offset=".568" stop-color="#7c7c7c"/><stop offset=".637" stop-color="#858585"/><stop offset=".76" stop-color="#939393"/><stop offset=".842" stop-color="#9d9d9d"/><stop offset=".911" stop-color="#a6a6a6"/><stop offset=".966" stop-color="#afafaf"/><stop offset="1" stop-color="#b9b9b9"/></linearGradient><linearGradient id="c25" x2="0" y2="1"><stop offset="0" stop-color="#000000"/><stop offset=".048" stop-color="#111111"/><stop offset=".103" stop-color="#222222"/><stop offset=".158" stop-color="#303030"/><stop offset=".226" stop-color="#424242"/><stop offset=".295" stop-color="#505050"/><stop offset=".363" stop-color="#5e5e5e"/><stop offset=".5" stop-color="#757575"/><stop offset=".568" stop-color="#7f7f7f"/><stop offset=".637" stop-color="#888888"/><stop offset=".76" stop-color="#989898"/><stop offset=".842" stop-color="#a3a3a3"/><stop offset=".911" stop-color="#adadad"/><stop offset=".966" stop-color="#b9b9b9"/><stop offset="1" stop-color="#c4c4c4"/></linearGradient><linearGradient id="c26" x2="0" y2="1"><stop offset="0" stop-color="#000000"/><stop offset=".048" stop-color="#111111"/><stop offset=".103" stop-color="#222222"/><stop offset=".158" stop-color="#323232"/><stop offset=".226" stop-color="#434343"/><stop offset=".295" stop-color="#525252"/><stop offset=".363" stop-color="#5f5f5f"/><stop offset=".5" stop-color="#767676"/><stop offset=".568" stop-color="#818181"/><stop offset=".637" stop-color="#8b8b8b"/><stop offset=".76" stop-color="#9c9c9c"/><stop offset=".842" stop-color="#a8a8a8"/><stop offset=".911" stop-color="#b3b3b3"/><stop offset=".966" stop-color="#bfbfbf"/><stop offset="1" stop-color="#c8c8c8"/></linearGradient><linearGradient id="c27" x2="0" y2="1"><stop offset="0" stop-color="#000000"/><stop offset=".048" stop-color="#111111"/><stop offset=".103" stop-color="#222222"/><stop offset=".158" stop-color="#323232"/><stop offset=".226" stop-color="#434343"/><stop offset=".295" stop-color="#535353"/><stop offset=".363" stop-color="#616161"/><stop offset=".5" stop-color="#787878"/><stop offset=".568" stop-color="#828282"/><stop offset=".637" stop-color="#8d8d8d"/><stop offset=".76" stop-color="#9e9e9e"/><stop offset=".842" stop-color="#ababab"/><stop offset=".911" stop-color="#b7b7b7"/><stop offset=".966" stop-color="#c2c2c2"/><stop offset="1" stop-color="#c9c9c9"/></linearGradient><linearGradient id="c28" x2="0" y2="1"><stop offset="0" stop-color="#000000"/><stop offset=".048" stop-color="#111111"/><stop offset=".103" stop-color="#232323"/><stop offset=".158" stop-color="#333333"/><stop offset=".226" stop-color="#444444"/><stop offset=".295" stop-color="#535353"/><stop offset=".363" stop-color="#616161"/><stop offset=".5" stop-color="#7a7a7a"/><stop offset=".568" stop-color="#858585"/><stop offset=".637" stop-color="#8f8f8f"/><stop offset=".76" stop-color="#a1a1a1"/><stop offset=".842" stop-color="#aeaeae"/><stop offset=".911" stop-color="#bababa"/><stop offset=".966" stop-color="#c4c4c4"/><stop offset="1" stop-color="#cbcbcb"/></linearGradient><linearGradient id="c29" x2="0" y2="1"><stop offset="0" stop-color="#000000"/><stop offset=".048" stop-color="#121212"/><stop offset=".103" stop-color="#242424"/><stop offset=".158" stop-color="#333333"/><stop offset=".226" stop-color="#454545"/><stop offset=".295" stop-color="#545454"/><stop offset=".363" stop-color="#626262"/><stop offset=".5" stop-color="#7b7b7b"/><stop offset=".568" stop-color="#868686"/><stop offset=".637" stop-color="#909090"/><stop offset=".76" stop-color="#a4a4a4"/><stop offset=".842" stop-color="#b0b0b0"/><stop offset=".911" stop-color="#bcbcbc"/><stop offset=".966" stop-color="#c6c6c6"/><stop offset="1" stop-color="#cccccc"/></linearGradient><linearGradient id="c30" x2="0" y2="1"><stop offset="0" stop-color="#000000"/><stop offset=".048" stop-color="#111111"/><stop offset=".103" stop-color="#232323"/><stop offset=".158" stop-color="#343434"/><stop offset=".226" stop-color="#454545"/><stop offset=".295" stop-color="#555555"/><stop offset=".363" stop-color="#636363"/><stop offset=".5" stop-color="#7c7c7c"/><stop offset=".568" stop-color="#878787"/><stop offset=".637" stop-color="#929292"/><stop offset=".76" stop-color="#a5a5a5"/><stop offset=".842" stop-color="#b2b2b2"/><stop offset=".911" stop-color="#bdbdbd"/><stop offset=".966" stop-color="#c6c6c6"/><stop offset="1" stop-color="#cccccc"/></linearGradient><linearGradient id="c31" x2="0" y2="1"><stop offset="0" stop-color="#000000"/><stop offset=".048" stop-color="#121212"/><stop offset=".103" stop-color="#242424"/><stop offset=".158" stop-color="#343434"/><stop offset=".226" stop-color="#464646"/><stop offset=".295" stop-color="#565656"/><stop offset=".363" stop-color="#646464"/><stop offset=".5" stop-color="#7d7d7d"/><stop offset=".568" stop-color="#888888"/><stop offset=".637" stop-color="#939393"/><stop offset=".76" stop-color="#a6a6a6"/><stop offset=".842" stop-color="#b3b3b3"/><stop offset=".911" stop-color="#bebebe"/><stop offset=".966" stop-color="#c7c7c7"/><stop offset="1" stop-color="#cccccc"/></linearGradient><linearGradient id="c32" x2="0" y2="1"><stop offset="0" stop-color="#000000"/><stop offset=".048" stop-color="#121212"/><stop offset=".103" stop-color="#252525"/><stop offset=".158" stop-color="#343434"/><stop offset=".226" stop-color="#464646"/><stop offset=".295" stop-color="#565656"/><stop offset=".363" stop-color="#646464"/><stop offset=".5" stop-color="#7d7d7d"/><stop offset=".568" stop-color="#898989"/><stop offset=".637" stop-color="#949494"/><stop offset=".76" stop-color="#a6a6a6"/><stop offset=".842" stop-color="#b3b3b3"/><stop offset=".911" stop-color="#bebebe"/><stop offset=".966" stop-color="#c6c6c6"/><stop offset="1" stop-color="#cccccc"/></linearGradient><linearGradient id="c33" x2="0" y2="1"><stop offset="0" stop-color="#000000"/><stop offset=".048" stop-color="#121212"/><stop offset=".103" stop-color="#242424"/><stop offset=".158" stop-color="#343434"/><stop offset=".226" stop-color="#464646"/><stop offset=".295" stop-color="#565656"/><stop offset=".363" stop-color="#656565"/><stop offset=".5" stop-color="#7e7e7e"/><stop offset=".568" stop-color="#898989"/><stop offset=".637" stop-color="#949494"/><stop offset=".76" stop-color="#a7a7a7"/><stop offset=".842" stop-color="#b4b4b4"/><stop offset=".911" stop-color="#bebebe"/><stop offset=".966" stop-color="#c7c7c7"/><stop offset="1" stop-color="#cccccc"/></linearGradient><linearGradient id="c34" x2="0" y2="1"><stop offset="0" stop-color="#000000"/><stop offset=".048" stop-color="#131313"/><stop offset=".103" stop-color="#242424"/><stop offset=".158" stop-color="#353535"/><stop offset=".226" stop-color="#474747"/><stop offset=".295" stop-color="#575757"/><stop offset=".363" stop-color="#656565"/><stop offset=".5" stop-color="#7e7e7e"/><stop offset=".568" stop-color="#8a8a8a"/><stop offset=".637" stop-color="#949494"/><stop offset=".76" stop-color="#a7a7a7"/><stop offset=".842" stop-color="#b3b3b3"/><stop offset=".911" stop-color="#bebebe"/><stop offset=".966" stop-color="#c7c7c7"/><stop offset="1" stop-color="#cccccc"/></linearGradient><linearGradient id="c35" x2="0" y2="1"><stop offset="0" stop-color="#000000"/><stop offset=".048" stop-color="#121212"/><stop offset=".103" stop-color="#252525"/><stop offset=".158" stop-color="#353535"/><stop offset=".226" stop-color="#474747"/><stop offset=".295" stop-color="#575757"/><stop offset=".363" stop-color="#656565"/><stop offset=".5" stop-color="#7e7e7e"/><stop offset=".568" stop-color="#898989"/><stop offset=".637" stop-color="#949494"/><stop offset=".76" stop-color="#a7a7a7"/><stop offset=".842" stop-color="#b3b3b3"/><stop offset=".911" stop-color="#bdbdbd"/><stop offset=".966" stop-color="#c6c6c6"/><stop offset="1" stop-color="#cbcbcb"/></linearGradient><linearGradient id="c36" x2="0" y2="1"><stop offset="0" stop-color="#000000"/><stop offset=".048" stop-color="#121212"/><stop offset=".103" stop-color="#252525"/><stop offset=".158" stop-color="#353535"/><stop offset=".226" stop-color="#474747"/><stop offset=".295" stop-color="#565656"/><stop offset=".363" stop-color="#656565"/><stop offset=".5" stop-color="#7e7e7e"/><stop offset=".568" stop-color="#898989"/><stop offset=".637" stop-color="#949494"/><stop offset=".76" stop-color="#a5a5a5"/><stop offset=".842" stop-color="#b2b2b2"/><stop offset=".911" stop-color="#bdbdbd"/><stop offset=".966" stop-color="#c5c5c5"/><stop offset="1" stop-color="#cacaca"/></linearGradient><linearGradient id="c37" x2="0" y2="1"><stop offset="0" stop-color="#000000"/><stop offset=".048" stop-color="#121212"/><stop offset=".103" stop-color="#242424"/><stop offset=".158" stop-color="#353535"/><stop offset=".226" stop-color="#474747"/><stop offset=".295" stop-color="#575757"/><stop offset=".363" stop-color="#656565"/><stop offset=".5" stop-color="#7e7e7e"/><stop offset=".568" stop-color="#898989"/><stop offset=".637" stop-color="#939393"/><stop offset=".76" stop-color="#a5a5a5"/><stop offset=".842" stop-color="#b0b0b0"/><stop offset=".911" stop-color="#bababa"/><stop offset=".966" stop-color="#c3c3c3"/><stop offset="1" stop-color="#cacaca"/></linearGradient><linearGradient id="c38" x2="0" y2="1"><stop offset="0" stop-color="#000000"/><stop offset=".048" stop-color="#131313"/><stop offset=".103" stop-color="#252525"/><stop offset=".158" stop-color="#353535"/><stop offset=".226" stop-color="#464646"/><stop offset=".295" stop-color="#575757"/><stop offset=".363" stop-color="#656565"/><stop offset=".5" stop-color="#7d7d7d"/><stop offset=".568" stop-color="#888888"/><stop offset=".637" stop-color="#929292"/><stop offset=".76" stop-color="#a2a2a2"/><stop offset=".842" stop-color="#adadad"/><stop offset=".911" stop-color="#b8b8b8"/><stop offset=".966" stop-color="#c2c2c2"/><stop offset="1" stop-color="#c8c8c8"/></linearGradient><linearGradient id="c39" x2="0" y2="1"><stop offset="0" stop-color="#000000"/><stop offset=".048" stop-color="#121212"/><stop offset=".103" stop-color="#242424"/><stop offset=".158" stop-color="#343434"/><stop offset=".226" stop-color="#474747"/><stop offset=".295" stop-color="#565656"/><stop offset=".363" stop-color="#646464"/><stop offset=".5" stop-color="#7d7d7d"/><stop offset=".568" stop-color="#878787"/><stop offset=".637" stop-color="#909090"/><stop offset=".76" stop-color="#a1a1a1"/><stop offset=".842" stop-color="#ababab"/><stop offset=".911" stop-color="#b4b4b4"/><stop offset=".966" stop-color="#bdbdbd"/><stop offset="1" stop-color="#c6c6c6"/></linearGradient><linearGradient id="c40" x2="0" y2="1"><stop offset="0" stop-color="#000000"/><stop offset=".048" stop-color="#121212"/><stop offset=".103" stop-color="#252525"/><stop offset=".158" stop-color="#353535"/><stop offset=".226" stop-color="#474747"/><stop offset=".295" stop-color="#565656"/><stop offset=".363" stop-color="#656565"/><stop offset=".5" stop-color="#7c7c7c"/><stop offset=".568" stop-color="#868686"/><stop offset=".637" stop-color="#909090"/><stop offset=".76" stop-color="#9e9e9e"/><stop offset=".842" stop-color="#a8a8a8"/><stop offset=".911" stop-color="#afafaf"/><stop offset=".966" stop-color="#b8b8b8"/><stop offset="1" stop-color="#c0c0c0"/></linearGradient><linearGradient id="c41" x2="0" y2="1"><stop offset="0" stop-color="#000000"/><stop offset=".048" stop-color="#121212"/><stop offset=".103" stop-color="#242424"/><stop offset=".158" stop-color="#353535"/><stop offset=".226" stop-color="#464646"/><stop offset=".295" stop-color="#565656"/><stop offset=".363" stop-color="#636363"/><stop offset=".5" stop-color="#7b7b7b"/><stop offset=".568" stop-color="#858585"/><stop offset=".637" stop-color="#8e8e8e"/><stop offset=".76" stop-color="#9c9c9c"/><stop offset=".842" stop-color="#a3a3a3"/><stop offset=".911" stop-color="#aaaaaa"/><stop offset=".966" stop-color="#aeaeae"/><stop offset="1" stop-color="#b0b0b0"/></linearGradient><linearGradient id="c42" x2="0" y2="1"><stop offset="0" stop-color="#000000"/><stop offset=".048" stop-color="#121212"/><stop offset=".103" stop-color="#252525"/><stop offset=".158" stop-color="#343434"/><stop offset=".226" stop-color="#464646"/><stop offset=".295" stop-color="#565656"/><stop offset=".363" stop-color="#646464"/><stop offset=".5" stop-color="#7a7a7a"/><stop offset=".568" stop-color="#848484"/><stop offset=".637" stop-color="#8c8c8c"/><stop offset=".76" stop-color="#989898"/><stop offset=".842" stop-color="#9f9f9f"/><stop offset=".911" stop-color="#a2a2a2"/><stop offset=".966" stop-color="#a3a3a3"/><stop offset="1" stop-color="#a2a2a2"/></linearGradient><linearGradient id="c43" x2="0" y2="1"><stop offset="0" stop-color="#000000"/><stop offset=".048" stop-color="#121212"/><stop offset=".103" stop-color="#242424"/><stop offset=".158" stop-color="#343434"/><stop offset=".226" stop-color="#464646"/><stop offset=".295" stop-color="#555555"/><stop offset=".363" stop-color="#636363"/><stop offset=".5" stop-color="#7a7a7a"/><stop offset=".568" stop-color="#838383"/><stop offset=".637" stop-color="#8b8b8b"/><stop offset=".76" stop-color="#979797"/><stop offset=".842" stop-color="#9b9b9b"/><stop offset=".911" stop-color="#9d9d9d"/><stop offset=".966" stop-color="#9b9b9b"/><stop offset="1" stop-color="#989898"/></linearGradient><linearGradient id="c44" x2="0" y2="1"><stop offset="0" stop-color="#000000"/><stop offset=".048" stop-color="#121212"/><stop offset=".103" stop-color="#242424"/><stop offset=".158" stop-color="#343434"/><stop offset=".226" stop-color="#464646"/><stop offset=".295" stop-color="#555555"/><stop offset=".363" stop-color="#626262"/><stop offset=".5" stop-color="#797979"/><stop offset=".568" stop-color="#828282"/><stop offset=".637" stop-color="#898989"/><stop offset=".76" stop-color="#939393"/><stop offset=".842" stop-color="#979797"/><stop offset=".911" stop-color="#979797"/><stop offset=".966" stop-color="#969696"/><stop offset="1" stop-color="#939393"/></linearGradient><linearGradient id="c45" x2="0" y2="1"><stop offset="0" stop-color="#000000"/><stop offset=".048" stop-color="#121212"/><stop offset=".103" stop-color="#242424"/><stop offset=".158" stop-color="#343434"/><stop offset=".226" stop-color="#454545"/><stop offset=".295" stop-color="#555555"/><stop offset=".363" stop-color="#626262"/><stop offset=".5" stop-color="#787878"/><stop offset=".568" stop-color="#808080"/><stop offset=".637" stop-color="#898989"/><stop offset=".76" stop-color="#929292"/><stop offset=".842" stop-color="#949494"/><stop offset=".911" stop-color="#949494"/><stop offset=".966" stop-color="#919191"/><stop offset="1" stop-color="#8e8e8e"/></linearGradient><linearGradient id="c46" x2="0" y2="1"><stop offset="0" stop-color="#000000"/><stop offset=".048" stop-color="#121212"/><stop offset=".103" stop-color="#242424"/><stop offset=".158" stop-color="#343434"/><stop offset=".226" stop-color="#454545"/><stop offset=".295" stop-color="#555555"/><stop offset=".363" stop-color="#626262"/><stop offset=".5" stop-color="#777777"/><stop offset=".568" stop-color="#808080"/><stop offset=".637" stop-color="#878787"/><stop offset=".76" stop-color="#8f8f8f"/><stop offset=".842" stop-color="#919191"/><stop offset=".911" stop-color="#909090"/><stop offset=".966" stop-color="#8d8d8d"/><stop offset="1" stop-color="#8a8a8a"/></linearGradient><linearGradient id="c47" x2="0" y2="1"><stop offset="0" stop-color="#000000"/><stop offset=".048" stop-color="#121212"/><stop offset=".103" stop-color="#242424"/><stop offset=".158" stop-color="#343434"/><stop offset=".226" stop-color="#454545"/><stop offset=".295" stop-color="#545454"/><stop offset=".363" stop-color="#626262"/><stop offset=".5" stop-color="#777777"/><stop offset=".568" stop-color="#808080"/><stop offset=".637" stop-color="#868686"/><stop offset=".76" stop-color="#8e8e8e"/><stop offset=".842" stop-color="#909090"/><stop offset=".911" stop-color="#8e8e8e"/><stop offset=".966" stop-color="#8a8a8a"/><stop offset="1" stop-color="#878787"/></linearGradient><linearGradient id="c48" x2="0" y2="1"><stop offset="0" stop-color="#000000"/><stop offset=".048" stop-color="#121212"/><stop offset=".103" stop-color="#232323"/><stop offset=".158" stop-color="#343434"/><stop offset=".226" stop-color="#454545"/><stop offset=".295" stop-color="#545454"/><stop offset=".363" stop-color="#616161"/><stop offset=".5" stop-color="#777777"/><stop offset=".568" stop-color="#7f7f7f"/><stop offset=".637" stop-color="#858585"/><stop offset=".76" stop-color="#8c8c8c"/><stop offset=".842" stop-color="#8d8d8d"/><stop offset=".911" stop-color="#8c8c8c"/><stop offset=".966" stop-color="#888888"/><stop offset="1" stop-color="#868686"/></linearGradient><linearGradient id="c49" x2="0" y2="1"><stop offset="0" stop-color="#000000"/><stop offset=".048" stop-color="#121212"/><stop offset=".103" stop-color="#242424"/><stop offset=".158" stop-color="#333333"/><stop offset=".226" stop-color="#454545"/><stop offset=".295" stop-color="#545454"/><stop offset=".363" stop-color="#616161"/><stop offset=".5" stop-color="#767676"/><stop offset=".568" stop-color="#7e7e7e"/><stop offset=".637" stop-color="#858585"/><stop offset=".76" stop-color="#8c8c8c"/><stop offset=".842" stop-color="#8d8d8d"/><stop offset=".911" stop-color="#8a8a8a"/><stop offset=".966" stop-color="#888888"/><stop offset="1" stop-color="#848484"/></linearGradient><linearGradient id="c50" x2="0" y2="1"><stop offset="0" stop-color="#000000"/><stop offset=".048" stop-color="#111111"/><stop offset=".103" stop-color="#242424"/><stop offset=".158" stop-color="#343434"/><stop offset=".226" stop-color="#454545"/><stop offset=".295" stop-color="#545454"/><stop offset=".363" stop-color="#616161"/><stop offset=".5" stop-color="#767676"/><stop offset=".568" stop-color="#7e7e7e"/><stop offset=".637" stop-color="#858585"/><stop offset=".76" stop-color="#8c8c8c"/><stop offset=".842" stop-color="#8c8c8c"/><stop offset=".911" stop-color="#8b8b8b"/><stop offset=".966" stop-color="#868686"/><stop offset="1" stop-color="#838383"/></linearGradient><linearGradient id="c2b" x2="0" y2="1"><stop offset=".021" stop-color="#aaaaaa"/><stop offset=".053" stop-color="#aaaaaa"/><stop offset=".074" stop-color="#aaaaaa"/><stop offset=".095" stop-color="#aaaaaa"/><stop offset=".116" stop-color="#aaaaaa"/><stop offset=".137" stop-color="#aaaaaa"/><stop offset=".158" stop-color="#aaaaaa"/><stop offset=".2" stop-color="#acacac"/><stop offset=".242" stop-color="#acacac"/><stop offset=".306" stop-color="#acacac"/><stop offset=".474" stop-color="#afafaf"/><stop offset=".727" stop-color="#b0b0b0"/><stop offset="1" stop-color="#b5b5b5"/></linearGradient><linearGradient id="c3b" x2="0" y2="1"><stop offset=".016" stop-color="#a9a9a9"/><stop offset=".041" stop-color="#a9a9a9"/><stop offset=".057" stop-color="#a9a9a9"/><stop offset=".074" stop-color="#a9a9a9"/><stop offset=".09" stop-color="#a9a9a9"/><stop offset=".107" stop-color="#a9a9a9"/><stop offset=".123" stop-color="#aaaaaa"/><stop offset=".156" stop-color="#aaaaaa"/><stop offset=".189" stop-color="#ababab"/><stop offset=".238" stop-color="#ababab"/><stop offset=".369" stop-color="#adadad"/><stop offset=".566" stop-color="#b1b1b1"/><stop offset=".878" stop-color="#b6b6b6"/><stop offset="1" stop-color="#b8b8b8"/></linearGradient><linearGradient id="c4b" x2="0" y2="1"><stop offset=".014" stop-color="#a8a8a8"/><stop offset=".036" stop-color="#a9a9a9"/><stop offset=".051" stop-color="#a9a9a9"/><stop offset=".065" stop-color="#aaaaaa"/><stop offset=".08" stop-color="#aaaaaa"/><stop offset=".094" stop-color="#aaaaaa"/><stop offset=".109" stop-color="#aaaaaa"/><stop offset=".137" stop-color="#aaaaaa"/><stop offset=".166" stop-color="#aaaaaa"/><stop offset=".21" stop-color="#ababab"/><stop offset=".326" stop-color="#adadad"/><stop offset=".499" stop-color="#b1b1b1"/><stop offset=".774" stop-color="#b7b7b7"/><stop offset="1" stop-color="#bababa"/></linearGradient><linearGradient id="c5b" x2="0" y2="1"><stop offset=".013" stop-color="#a7a7a7"/><stop offset=".033" stop-color="#a7a7a7"/><stop offset=".047" stop-color="#a8a8a8"/><stop offset=".06" stop-color="#a8a8a8"/><stop offset=".074" stop-color="#a9a9a9"/><stop offset=".087" stop-color="#a9a9a9"/><stop offset=".1" stop-color="#a9a9a9"/><stop offset=".127" stop-color="#a9a9a9"/><stop offset=".154" stop-color="#aaaaaa"/><stop offset=".194" stop-color="#ababab"/><stop offset=".301" stop-color="#adadad"/><stop offset=".462" stop-color="#b0b0b0"/><stop offset=".717" stop-color="#b6b6b6"/><stop offset="1" stop-color="#bcbcbc"/></linearGradient><linearGradient id="c6b" x2="0" y2="1"><stop offset=".013" stop-color="#a8a8a8"/><stop offset=".031" stop-color="#a8a8a8"/><stop offset=".044" stop-color="#a8a8a8"/><stop offset=".056" stop-color="#a8a8a8"/><stop offset=".069" stop-color="#a7a7a7"/><stop offset=".081" stop-color="#a8a8a8"/><stop offset=".094" stop-color="#a8a8a8"/><stop offset=".119" stop-color="#a9a9a9"/><stop offset=".144" stop-color="#a9a9a9"/><stop offset=".181" stop-color="#aaaaaa"/><stop offset=".281" stop-color="#adadad"/><stop offset=".431" stop-color="#b0b0b0"/><stop offset=".669" stop-color="#b6b6b6"/><stop offset=".956" stop-color="#bdbdbd"/><stop offset="1" stop-color="#bdbdbd"/></linearGradient><linearGradient id="c7b" x2="0" y2="1"><stop offset=".012" stop-color="#a6a6a6"/><stop offset=".03" stop-color="#a7a7a7"/><stop offset=".042" stop-color="#a7a7a7"/><stop offset=".054" stop-color="#a7a7a7"/><stop offset=".065" stop-color="#a8a8a8"/><stop offset=".077" stop-color="#a8a8a8"/><stop offset=".089" stop-color="#a8a8a8"/><stop offset=".113" stop-color="#a8a8a8"/><stop offset=".137" stop-color="#a9a9a9"/><stop offset=".172" stop-color="#a9a9a9"/><stop offset=".268" stop-color="#ababab"/><stop offset=".41" stop-color="#adadad"/><stop offset=".636" stop-color="#b5b5b5"/><stop offset=".91" stop-color="#bcbcbc"/><stop offset="1" stop-color="#bebebe"/></linearGradient><linearGradient id="c8b" x2="0" y2="1"><stop offset=".011" stop-color="#a5a5a5"/><stop offset=".029" stop-color="#a5a5a5"/><stop offset=".04" stop-color="#a6a6a6"/><stop offset=".052" stop-color="#a6a6a6"/><stop offset=".063" stop-color="#a6a6a6"/><stop offset=".075" stop-color="#a7a7a7"/><stop offset=".086" stop-color="#a7a7a7"/><stop offset=".109" stop-color="#a8a8a8"/><stop offset=".132" stop-color="#a8a8a8"/><stop offset=".167" stop-color="#a9a9a9"/><stop offset=".259" stop-color="#a9a9a9"/><stop offset=".396" stop-color="#acacac"/><stop offset=".615" stop-color="#b3b3b3"/><stop offset=".879" stop-color="#bdbdbd"/><stop offset=".971" stop-color="#bebebe"/><stop offset="1" stop-color="#bfbfbf"/></linearGradient><linearGradient id="c9b" x2="0" y2="1"><stop offset=".011" stop-color="#a5a5a5"/><stop offset=".028" stop-color="#a6a6a6"/><stop offset=".039" stop-color="#a5a5a5"/><stop offset=".05" stop-color="#a5a5a5"/><stop offset=".061" stop-color="#a6a6a6"/><stop offset=".072" stop-color="#a5a5a5"/><stop offset=".083" stop-color="#a5a5a5"/><stop offset=".105" stop-color="#a6a6a6"/><stop offset=".127" stop-color="#a7a7a7"/><stop offset=".16" stop-color="#a7a7a7"/><stop offset=".248" stop-color="#a8a8a8"/><stop offset=".38" stop-color="#ababab"/><stop offset=".59" stop-color="#b2b2b2"/><stop offset=".843" stop-color="#bebebe"/><stop offset=".931" stop-color="#bfbfbf"/><stop offset="1" stop-color="#c0c0c0"/></linearGradient><linearGradient id="c10b" x2="0" y2="1"><stop offset=".011" stop-color="#a4a4a4"/><stop offset=".027" stop-color="#a4a4a4"/><stop offset=".037" stop-color="#a4a4a4"/><stop offset=".048" stop-color="#a5a5a5"/><stop offset=".059" stop-color="#a4a4a4"/><stop offset=".07" stop-color="#a5a5a5"/><stop offset=".08" stop-color="#a6a6a6"/><stop offset=".102" stop-color="#a5a5a5"/><stop offset=".123" stop-color="#a5a5a5"/><stop offset=".155" stop-color="#a5a5a5"/><stop offset=".241" stop-color="#a5a5a5"/><stop offset=".369" stop-color="#a8a8a8"/><stop offset=".573" stop-color="#b0b0b0"/><stop offset=".819" stop-color="#bcbcbc"/><stop offset=".905" stop-color="#bfbfbf"/><stop offset="1" stop-color="#c1c1c1"/></linearGradient><linearGradient id="c11b" x2="0" y2="1"><stop offset=".01" stop-color="#a2a2a2"/><stop offset=".026" stop-color="#a2a2a2"/><stop offset=".036" stop-color="#a3a3a3"/><stop offset=".047" stop-color="#a3a3a3"/><stop offset=".057" stop-color="#a3a3a3"/><stop offset=".068" stop-color="#a3a3a3"/><stop offset=".078" stop-color="#a3a3a3"/><stop offset=".099" stop-color="#a4a4a4"/><stop offset=".12" stop-color="#a4a4a4"/><stop offset=".151" stop-color="#a4a4a4"/><stop offset=".235" stop-color="#a5a5a5"/><stop offset=".36" stop-color="#a7a7a7"/><stop offset=".558" stop-color="#afafaf"/><stop offset=".798" stop-color="#bcbcbc"/><stop offset=".881" stop-color="#c0c0c0"/><stop offset=".985" stop-color="#c1c1c1"/><stop offset="1" stop-color="#c1c1c1"/></linearGradient><linearGradient id="c12b" x2="0" y2="1"><stop offset=".01" stop-color="#a3a3a3"/><stop offset=".025" stop-color="#a3a3a3"/><stop offset=".035" stop-color="#a2a2a2"/><stop offset=".045" stop-color="#a2a2a2"/><stop offset=".055" stop-color="#a3a3a3"/><stop offset=".066" stop-color="#a3a3a3"/><stop offset=".076" stop-color="#a3a3a3"/><stop offset=".096" stop-color="#a2a2a2"/><stop offset=".116" stop-color="#a2a2a2"/><stop offset=".146" stop-color="#a2a2a2"/><stop offset=".227" stop-color="#a2a2a2"/><stop offset=".348" stop-color="#a5a5a5"/><stop offset=".54" stop-color="#aeaeae"/><stop offset=".772" stop-color="#bababa"/><stop offset=".853" stop-color="#c0c0c0"/><stop offset=".953" stop-color="#c2c2c2"/><stop offset="1" stop-color="#c2c2c2"/></linearGradient><linearGradient id="c13b" x2="0" y2="1"><stop offset=".01" stop-color="#a0a0a0"/><stop offset=".025" stop-color="#a0a0a0"/><stop offset=".035" stop-color="#a1a1a1"/><stop offset=".044" stop-color="#a1a1a1"/><stop offset=".054" stop-color="#a0a0a0"/><stop offset=".064" stop-color="#a0a0a0"/><stop offset=".074" stop-color="#a0a0a0"/><stop offset=".094" stop-color="#a1a1a1"/><stop offset=".113" stop-color="#a0a0a0"/><stop offset=".143" stop-color="#9f9f9f"/><stop offset=".222" stop-color="#a0a0a0"/><stop offset=".34" stop-color="#a3a3a3"/><stop offset=".528" stop-color="#acacac"/><stop offset=".755" stop-color="#bababa"/><stop offset=".834" stop-color="#bebebe"/><stop offset=".932" stop-color="#c2c2c2"/><stop offset="1" stop-color="#c3c3c3"/></linearGradient><linearGradient id="c14b" x2="0" y2="1"><stop offset=".01" stop-color="#9f9f9f"/><stop offset=".024" stop-color="#9f9f9f"/><stop offset=".034" stop-color="#9e9e9e"/><stop offset=".044" stop-color="#9e9e9e"/><stop offset=".053" stop-color="#9f9f9f"/><stop offset=".063" stop-color="#9f9f9f"/><stop offset=".073" stop-color="#9f9f9f"/><stop offset=".092" stop-color="#9e9e9e"/><stop offset=".112" stop-color="#9d9d9d"/><stop offset=".141" stop-color="#9d9d9d"/><stop offset=".219" stop-color="#9d9d9d"/><stop offset=".336" stop-color="#a1a1a1"/><stop offset=".52" stop-color="#aaaaaa"/><stop offset=".744" stop-color="#b8b8b8"/><stop offset=".822" stop-color="#bdbdbd"/><stop offset=".919" stop-color="#c2c2c2"/><stop offset="1" stop-color="#c3c3c3"/></linearGradient><linearGradient id="c15b" x2="0" y2="1"><stop offset=".01" stop-color="#9c9c9c"/><stop offset=".024" stop-color="#9c9c9c"/><stop offset=".033" stop-color="#9d9d9d"/><stop offset=".043" stop-color="#9d9d9d"/><stop offset=".052" stop-color="#9c9c9c"/><stop offset=".062" stop-color="#9c9c9c"/><stop offset=".072" stop-color="#9c9c9c"/><stop offset=".091" stop-color="#9b9b9b"/><stop offset=".11" stop-color="#9b9b9b"/><stop offset=".138" stop-color="#9b9b9b"/><stop offset=".215" stop-color="#9b9b9b"/><stop offset=".329" stop-color="#9f9f9f"/><stop offset=".51" stop-color="#a8a8a8"/><stop offset=".729" stop-color="#b7b7b7"/><stop offset=".806" stop-color="#bcbcbc"/><stop offset=".901" stop-color="#c2c2c2"/><stop offset=".987" stop-color="#c4c4c4"/><stop offset="1" stop-color="#c4c4c4"/></linearGradient><linearGradient id="c16b" x2="0" y2="1"><stop offset=".009" stop-color="#9a9a9a"/><stop offset=".023" stop-color="#9a9a9a"/><stop offset=".033" stop-color="#9a9a9a"/><stop offset=".042" stop-color="#999999"/><stop offset=".051" stop-color="#9a9a9a"/><stop offset=".061" stop-color="#9a9a9a"/><stop offset=".07" stop-color="#9a9a9a"/><stop offset=".089" stop-color="#999999"/><stop offset=".108" stop-color="#989898"/><stop offset=".136" stop-color="#979797"/><stop offset=".211" stop-color="#979797"/><stop offset=".323" stop-color="#9b9b9b"/><stop offset=".501" stop-color="#a7a7a7"/><stop offset=".716" stop-color="#b6b6b6"/><stop offset=".791" stop-color="#bcbcbc"/><stop offset=".885" stop-color="#c2c2c2"/><stop offset=".969" stop-color="#c4c4c4"/><stop offset="1" stop-color="#c4c4c4"/></linearGradient><linearGradient id="c17b" x2="0" y2="1"><stop offset=".009" stop-color="#999999"/><stop offset=".023" stop-color="#999999"/><stop offset=".032" stop-color="#989898"/><stop offset=".041" stop-color="#989898"/><stop offset=".051" stop-color="#989898"/><stop offset=".06" stop-color="#979797"/><stop offset=".069" stop-color="#979797"/><stop offset=".087" stop-color="#969696"/><stop offset=".106" stop-color="#959595"/><stop offset=".134" stop-color="#949494"/><stop offset=".207" stop-color="#949494"/><stop offset=".318" stop-color="#999999"/><stop offset=".493" stop-color="#a5a5a5"/><stop offset=".704" stop-color="#b4b4b4"/><stop offset=".778" stop-color="#bababa"/><stop offset=".87" stop-color="#c1c1c1"/><stop offset=".953" stop-color="#c4c4c4"/><stop offset=".999" stop-color="#c5c5c5"/><stop offset="1" stop-color="#c4c4c4"/></linearGradient><linearGradient id="c18b" x2="0" y2="1"><stop offset=".009" stop-color="#959595"/><stop offset=".023" stop-color="#969696"/><stop offset=".032" stop-color="#959595"/><stop offset=".041" stop-color="#959595"/><stop offset=".05" stop-color="#949494"/><stop offset=".059" stop-color="#949494"/><stop offset=".068" stop-color="#929292"/><stop offset=".087" stop-color="#929292"/><stop offset=".105" stop-color="#919191"/><stop offset=".132" stop-color="#8f8f8f"/><stop offset=".205" stop-color="#909090"/><stop offset=".314" stop-color="#979797"/><stop offset=".488" stop-color="#a4a4a4"/><stop offset=".697" stop-color="#b4b4b4"/><stop offset=".77" stop-color="#b9b9b9"/><stop offset=".861" stop-color="#c0c0c0"/><stop offset=".943" stop-color="#c4c4c4"/><stop offset=".989" stop-color="#c5c5c5"/><stop offset="1" stop-color="#c5c5c5"/></linearGradient><linearGradient id="c19b" x2="0" y2="1"><stop offset=".009" stop-color="#929292"/><stop offset=".022" stop-color="#909090"/><stop offset=".031" stop-color="#919191"/><stop offset=".04" stop-color="#909090"/><stop offset=".049" stop-color="#8f8f8f"/><stop offset=".058" stop-color="#8e8e8e"/><stop offset=".067" stop-color="#8f8f8f"/><stop offset=".085" stop-color="#8d8d8d"/><stop offset=".103" stop-color="#8b8b8b"/><stop offset=".13" stop-color="#8b8b8b"/><stop offset=".202" stop-color="#8c8c8c"/><stop offset=".31" stop-color="#939393"/><stop offset=".481" stop-color="#a1a1a1"/><stop offset=".688" stop-color="#b2b2b2"/><stop offset=".76" stop-color="#b8b8b8"/><stop offset=".85" stop-color="#bfbfbf"/><stop offset=".931" stop-color="#c5c5c5"/><stop offset=".976" stop-color="#c5c5c5"/><stop offset="1" stop-color="#c5c5c5"/></linearGradient><linearGradient id="c20b" x2="0" y2="1"><stop offset=".009" stop-color="#8d8d8d"/><stop offset=".022" stop-color="#8c8c8c"/><stop offset=".031" stop-color="#8a8a8a"/><stop offset=".04" stop-color="#8b8b8b"/><stop offset=".049" stop-color="#8b8b8b"/><stop offset=".058" stop-color="#898989"/><stop offset=".067" stop-color="#878787"/><stop offset=".085" stop-color="#858585"/><stop offset=".103" stop-color="#858585"/><stop offset=".129" stop-color="#848484"/><stop offset=".201" stop-color="#878787"/><stop offset=".308" stop-color="#909090"/><stop offset=".477" stop-color="#a0a0a0"/><stop offset=".682" stop-color="#b2b2b2"/><stop offset=".754" stop-color="#b7b7b7"/><stop offset=".843" stop-color="#bebebe"/><stop offset=".923" stop-color="#c5c5c5"/><stop offset=".968" stop-color="#c5c5c5"/><stop offset="1" stop-color="#c5c5c5"/></linearGradient><linearGradient id="c21b" x2="0" y2="1"><stop offset=".009" stop-color="#3c3c3c"/><stop offset=".022" stop-color="#646464"/><stop offset=".031" stop-color="#686868"/><stop offset=".04" stop-color="#727272"/><stop offset=".049" stop-color="#737373"/><stop offset=".057" stop-color="#787878"/><stop offset=".066" stop-color="#7b7b7b"/><stop offset=".084" stop-color="#7b7b7b"/><stop offset=".101" stop-color="#7b7b7b"/><stop offset=".128" stop-color="#7c7c7c"/><stop offset=".199" stop-color="#838383"/><stop offset=".304" stop-color="#8e8e8e"/><stop offset=".472" stop-color="#9e9e9e"/><stop offset=".675" stop-color="#b0b0b0"/><stop offset=".746" stop-color="#b6b6b6"/><stop offset=".834" stop-color="#bebebe"/><stop offset=".913" stop-color="#c4c4c4"/><stop offset=".957" stop-color="#c6c6c6"/><stop offset=".993" stop-color="#c5c5c5"/><stop offset="1" stop-color="#c6c6c6"/></linearGradient><linearGradient id="c22b" x2="0" y2="1"><stop offset=".009" stop-color="#1e1e1e"/><stop offset=".022" stop-color="#444444"/><stop offset=".031" stop-color="#484848"/><stop offset=".039" stop-color="#545454"/><stop offset=".048" stop-color="#5b5b5b"/><stop offset=".057" stop-color="#5e5e5e"/><stop offset=".066" stop-color="#616161"/><stop offset=".083" stop-color="#6b6b6b"/><stop offset=".101" stop-color="#6f6f6f"/><stop offset=".127" stop-color="#737373"/><stop offset=".197" stop-color="#7d7d7d"/><stop offset=".303" stop-color="#8a8a8a"/><stop offset=".469" stop-color="#9c9c9c"/><stop offset=".671" stop-color="#afafaf"/><stop offset=".741" stop-color="#b6b6b6"/><stop offset=".829" stop-color="#bcbcbc"/><stop offset=".908" stop-color="#c3c3c3"/><stop offset=".951" stop-color="#c6c6c6"/><stop offset=".987" stop-color="#c6c6c6"/><stop offset="1" stop-color="#c6c6c6"/></linearGradient><linearGradient id="c23b" x2="0" y2="1"><stop offset=".009" stop-color="#272727"/><stop offset=".022" stop-color="#333333"/><stop offset=".03" stop-color="#434343"/><stop offset=".039" stop-color="#484848"/><stop offset=".048" stop-color="#4c4c4c"/><stop offset=".057" stop-color="#545454"/><stop offset=".065" stop-color="#585858"/><stop offset=".083" stop-color="#5e5e5e"/><stop offset=".1" stop-color="#646464"/><stop offset=".126" stop-color="#6c6c6c"/><stop offset=".196" stop-color="#797979"/><stop offset=".3" stop-color="#878787"/><stop offset=".465" stop-color="#9a9a9a"/><stop offset=".665" stop-color="#aeaeae"/><stop offset=".735" stop-color="#b4b4b4"/><stop offset=".822" stop-color="#bcbcbc"/><stop offset=".9" stop-color="#c2c2c2"/><stop offset=".944" stop-color="#c5c5c5"/><stop offset=".979" stop-color="#c6c6c6"/><stop offset="1" stop-color="#c6c6c6"/></linearGradient><linearGradient id="c24b" x2="0" y2="1"><stop offset=".009" stop-color="#292929"/><stop offset=".022" stop-color="#333333"/><stop offset=".03" stop-color="#3a3a3a"/><stop offset=".039" stop-color="#404040"/><stop offset=".048" stop-color="#464646"/><stop offset=".056" stop-color="#4a4a4a"/><stop offset=".065" stop-color="#4f4f4f"/><stop offset=".082" stop-color="#575757"/><stop offset=".1" stop-color="#5d5d5d"/><stop offset=".126" stop-color="#656565"/><stop offset=".195" stop-color="#747474"/><stop offset=".299" stop-color="#858585"/><stop offset=".463" stop-color="#999999"/><stop offset=".662" stop-color="#adadad"/><stop offset=".732" stop-color="#b3b3b3"/><stop offset=".818" stop-color="#bbbbbb"/><stop offset=".896" stop-color="#c2c2c2"/><stop offset=".939" stop-color="#c6c6c6"/><stop offset=".974" stop-color="#c6c6c6"/><stop offset="1" stop-color="#c6c6c6"/></linearGradient><linearGradient id="c25b" x2="0" y2="1"><stop offset=".009" stop-color="#2d2d2d"/><stop offset=".022" stop-color="#343434"/><stop offset=".03" stop-color="#393939"/><stop offset=".039" stop-color="#3e3e3e"/><stop offset=".047" stop-color="#424242"/><stop offset=".056" stop-color="#474747"/><stop offset=".065" stop-color="#4a4a4a"/><stop offset=".082" stop-color="#515151"/><stop offset=".099" stop-color="#575757"/><stop offset=".125" stop-color="#5f5f5f"/><stop offset=".194" stop-color="#707070"/><stop offset=".297" stop-color="#828282"/><stop offset=".46" stop-color="#979797"/><stop offset=".658" stop-color="#acacac"/><stop offset=".727" stop-color="#b3b3b3"/><stop offset=".813" stop-color="#bbbbbb"/><stop offset=".891" stop-color="#c1c1c1"/><stop offset=".934" stop-color="#c4c4c4"/><stop offset=".968" stop-color="#c6c6c6"/><stop offset="1" stop-color="#c6c6c6"/></linearGradient><linearGradient id="c26b" x2="0" y2="1"><stop offset=".009" stop-color="#303030"/><stop offset=".021" stop-color="#363636"/><stop offset=".03" stop-color="#393939"/><stop offset=".039" stop-color="#3d3d3d"/><stop offset=".047" stop-color="#404040"/><stop offset=".056" stop-color="#434343"/><stop offset=".064" stop-color="#474747"/><stop offset=".082" stop-color="#4d4d4d"/><stop offset=".099" stop-color="#545454"/><stop offset=".124" stop-color="#5c5c5c"/><stop offset=".193" stop-color="#6d6d6d"/><stop offset=".296" stop-color="#808080"/><stop offset=".459" stop-color="#969696"/><stop offset=".656" stop-color="#ababab"/><stop offset=".725" stop-color="#b1b1b1"/><stop offset=".811" stop-color="#b9b9b9"/><stop offset=".888" stop-color="#c0c0c0"/><stop offset=".931" stop-color="#c4c4c4"/><stop offset=".965" stop-color="#c6c6c6"/><stop offset="1" stop-color="#c6c6c6"/></linearGradient><linearGradient id="c27b" x2="0" y2="1"><stop offset=".009" stop-color="#323232"/><stop offset=".021" stop-color="#363636"/><stop offset=".03" stop-color="#393939"/><stop offset=".038" stop-color="#3c3c3c"/><stop offset=".047" stop-color="#404040"/><stop offset=".056" stop-color="#434343"/><stop offset=".064" stop-color="#464646"/><stop offset=".081" stop-color="#4c4c4c"/><stop offset=".098" stop-color="#515151"/><stop offset=".124" stop-color="#595959"/><stop offset=".192" stop-color="#6a6a6a"/><stop offset=".295" stop-color="#7d7d7d"/><stop offset=".457" stop-color="#949494"/><stop offset=".654" stop-color="#aaaaaa"/><stop offset=".722" stop-color="#b1b1b1"/><stop offset=".808" stop-color="#b9b9b9"/><stop offset=".885" stop-color="#c0c0c0"/><stop offset=".928" stop-color="#c4c4c4"/><stop offset=".962" stop-color="#c5c5c5"/><stop offset="1" stop-color="#c6c6c6"/></linearGradient><linearGradient id="c28b" x2="0" y2="1"><stop offset=".009" stop-color="#323232"/><stop offset=".021" stop-color="#363636"/><stop offset=".03" stop-color="#393939"/><stop offset=".038" stop-color="#3c3c3c"/><stop offset=".047" stop-color="#3f3f3f"/><stop offset=".055" stop-color="#424242"/><stop offset=".064" stop-color="#444444"/><stop offset=".081" stop-color="#4a4a4a"/><stop offset=".098" stop-color="#4f4f4f"/><stop offset=".124" stop-color="#565656"/><stop offset=".192" stop-color="#686868"/><stop offset=".295" stop-color="#7c7c7c"/><stop offset=".457" stop-color="#939393"/><stop offset=".653" stop-color="#a9a9a9"/><stop offset=".721" stop-color="#b0b0b0"/><stop offset=".807" stop-color="#b8b8b8"/><stop offset=".884" stop-color="#c0c0c0"/><stop offset=".926" stop-color="#c3c3c3"/><stop offset=".96" stop-color="#c6c6c6"/><stop offset="1" stop-color="#c5c5c5"/></linearGradient><linearGradient id="c29b" x2="0" y2="1"><stop offset=".009" stop-color="#333333"/><stop offset=".021" stop-color="#373737"/><stop offset=".03" stop-color="#3a3a3a"/><stop offset=".038" stop-color="#3c3c3c"/><stop offset=".047" stop-color="#3e3e3e"/><stop offset=".055" stop-color="#414141"/><stop offset=".064" stop-color="#444444"/><stop offset=".081" stop-color="#484848"/><stop offset=".098" stop-color="#4e4e4e"/><stop offset=".124" stop-color="#555555"/><stop offset=".192" stop-color="#666666"/><stop offset=".294" stop-color="#7a7a7a"/><stop offset=".456" stop-color="#929292"/><stop offset=".653" stop-color="#a9a9a9"/><stop offset=".721" stop-color="#b0b0b0"/><stop offset=".806" stop-color="#b8b8b8"/><stop offset=".883" stop-color="#bebebe"/><stop offset=".926" stop-color="#c3c3c3"/><stop offset=".96" stop-color="#c5c5c5"/><stop offset="1" stop-color="#c6c6c6"/></linearGradient><linearGradient id="c30b" x2="0" y2="1"><stop offset=".009" stop-color="#333333"/><stop offset=".021" stop-color="#373737"/><stop offset=".03" stop-color="#393939"/><stop offset=".038" stop-color="#3c3c3c"/><stop offset=".047" stop-color="#3e3e3e"/><stop offset=".055" stop-color="#404040"/><stop offset=".064" stop-color="#434343"/><stop offset=".081" stop-color="#484848"/><stop offset=".098" stop-color="#4d4d4d"/><stop offset=".124" stop-color="#545454"/><stop offset=".192" stop-color="#646464"/><stop offset=".294" stop-color="#787878"/><stop offset=".456" stop-color="#919191"/><stop offset=".652" stop-color="#a8a8a8"/><stop offset=".721" stop-color="#aeaeae"/><stop offset=".806" stop-color="#b7b7b7"/><stop offset=".883" stop-color="#bfbfbf"/><stop offset=".925" stop-color="#c2c2c2"/><stop offset=".96" stop-color="#c5c5c5"/><stop offset="1" stop-color="#c5c5c5"/></linearGradient><linearGradient id="c31b" x2="0" y2="1"><stop offset=".009" stop-color="#333333"/><stop offset=".021" stop-color="#363636"/><stop offset=".03" stop-color="#393939"/><stop offset=".038" stop-color="#3b3b3b"/><stop offset=".047" stop-color="#3e3e3e"/><stop offset=".055" stop-color="#404040"/><stop offset=".064" stop-color="#434343"/><stop offset=".081" stop-color="#484848"/><stop offset=".098" stop-color="#4b4b4b"/><stop offset=".124" stop-color="#525252"/><stop offset=".192" stop-color="#636363"/><stop offset=".294" stop-color="#777777"/><stop offset=".456" stop-color="#909090"/><stop offset=".652" stop-color="#a7a7a7"/><stop offset=".721" stop-color="#afafaf"/><stop offset=".806" stop-color="#b7b7b7"/><stop offset=".883" stop-color="#bdbdbd"/><stop offset=".925" stop-color="#c1c1c1"/><stop offset=".96" stop-color="#c5c5c5"/><stop offset="1" stop-color="#c5c5c5"/></linearGradient><linearGradient id="c32b" x2="0" y2="1"><stop offset=".009" stop-color="#333333"/><stop offset=".021" stop-color="#373737"/><stop offset=".03" stop-color="#393939"/><stop offset=".038" stop-color="#3b3b3b"/><stop offset=".047" stop-color="#3d3d3d"/><stop offset=".055" stop-color="#404040"/><stop offset=".064" stop-color="#424242"/><stop offset=".081" stop-color="#464646"/><stop offset=".098" stop-color="#4c4c4c"/><stop offset=".124" stop-color="#525252"/><stop offset=".192" stop-color="#626262"/><stop offset=".294" stop-color="#777777"/><stop offset=".456" stop-color="#8f8f8f"/><stop offset=".652" stop-color="#a6a6a6"/><stop offset=".721" stop-color="#adadad"/><stop offset=".806" stop-color="#b6b6b6"/><stop offset=".883" stop-color="#bdbdbd"/><stop offset=".925" stop-color="#c1c1c1"/><stop offset=".96" stop-color="#c4c4c4"/><stop offset="1" stop-color="#c4c4c4"/></linearGradient><linearGradient id="c33b" x2="0" y2="1"><stop offset=".009" stop-color="#333333"/><stop offset=".021" stop-color="#363636"/><stop offset=".03" stop-color="#383838"/><stop offset=".038" stop-color="#3b3b3b"/><stop offset=".047" stop-color="#3e3e3e"/><stop offset=".055" stop-color="#404040"/><stop offset=".064" stop-color="#424242"/><stop offset=".081" stop-color="#474747"/><stop offset=".098" stop-color="#4b4b4b"/><stop offset=".124" stop-color="#525252"/><stop offset=".192" stop-color="#626262"/><stop offset=".294" stop-color="#767676"/><stop offset=".456" stop-color="#8f8f8f"/><stop offset=".652" stop-color="#a6a6a6"/><stop offset=".721" stop-color="#adadad"/><stop offset=".806" stop-color="#b5b5b5"/><stop offset=".883" stop-color="#bdbdbd"/><stop offset=".925" stop-color="#c1c1c1"/><stop offset=".96" stop-color="#c4c4c4"/><stop offset="1" stop-color="#c4c4c4"/></linearGradient><linearGradient id="c34b" x2="0" y2="1"><stop offset=".009" stop-color="#333333"/><stop offset=".021" stop-color="#373737"/><stop offset=".03" stop-color="#393939"/><stop offset=".038" stop-color="#3b3b3b"/><stop offset=".047" stop-color="#3d3d3d"/><stop offset=".055" stop-color="#404040"/><stop offset=".064" stop-color="#424242"/><stop offset=".081" stop-color="#464646"/><stop offset=".098" stop-color="#4b4b4b"/><stop offset=".124" stop-color="#515151"/><stop offset=".192" stop-color="#616161"/><stop offset=".294" stop-color="#757575"/><stop offset=".456" stop-color="#8e8e8e"/><stop offset=".652" stop-color="#a5a5a5"/><stop offset=".721" stop-color="#adadad"/><stop offset=".806" stop-color="#b5b5b5"/><stop offset=".883" stop-color="#bdbdbd"/><stop offset=".925" stop-color="#c1c1c1"/><stop offset=".96" stop-color="#c4c4c4"/><stop offset="1" stop-color="#c4c4c4"/></linearGradient><linearGradient id="c35b" x2="0" y2="1"><stop offset=".009" stop-color="#323232"/><stop offset=".021" stop-color="#363636"/><stop offset=".03" stop-color="#383838"/><stop offset=".038" stop-color="#3b3b3b"/><stop offset=".047" stop-color="#3d3d3d"/><stop offset=".055" stop-color="#3f3f3f"/><stop offset=".064" stop-color="#414141"/><stop offset=".081" stop-color="#474747"/><stop offset=".098" stop-color="#4b4b4b"/><stop offset=".124" stop-color="#525252"/><stop offset=".192" stop-color="#626262"/><stop offset=".294" stop-color="#767676"/><stop offset=".456" stop-color="#8e8e8e"/><stop offset=".652" stop-color="#a5a5a5"/><stop offset=".721" stop-color="#acacac"/><stop offset=".806" stop-color="#b5b5b5"/><stop offset=".883" stop-color="#bcbcbc"/><stop offset=".925" stop-color="#c0c0c0"/><stop offset=".96" stop-color="#c3c3c3"/><stop offset="1" stop-color="#c3c3c3"/></linearGradient><linearGradient id="c36b" x2="0" y2="1"><stop offset=".009" stop-color="#323232"/><stop offset=".021" stop-color="#353535"/><stop offset=".03" stop-color="#393939"/><stop offset=".038" stop-color="#3b3b3b"/><stop offset=".047" stop-color="#3d3d3d"/><stop offset=".055" stop-color="#404040"/><stop offset=".064" stop-color="#424242"/><stop offset=".081" stop-color="#474747"/><stop offset=".098" stop-color="#4b4b4b"/><stop offset=".124" stop-color="#525252"/><stop offset=".192" stop-color="#626262"/><stop offset=".295" stop-color="#757575"/><stop offset=".457" stop-color="#8d8d8d"/><stop offset=".653" stop-color="#a4a4a4"/><stop offset=".721" stop-color="#ababab"/><stop offset=".807" stop-color="#b4b4b4"/><stop offset=".884" stop-color="#bbbbbb"/><stop offset=".926" stop-color="#bfbfbf"/><stop offset=".96" stop-color="#c2c2c2"/><stop offset="1" stop-color="#c2c2c2"/></linearGradient><linearGradient id="c37b" x2="0" y2="1"><stop offset=".009" stop-color="#323232"/><stop offset=".021" stop-color="#363636"/><stop offset=".03" stop-color="#383838"/><stop offset=".038" stop-color="#3a3a3a"/><stop offset=".047" stop-color="#3e3e3e"/><stop offset=".056" stop-color="#3f3f3f"/><stop offset=".064" stop-color="#434343"/><stop offset=".081" stop-color="#474747"/><stop offset=".098" stop-color="#4c4c4c"/><stop offset=".124" stop-color="#535353"/><stop offset=".192" stop-color="#636363"/><stop offset=".295" stop-color="#767676"/><stop offset=".457" stop-color="#8d8d8d"/><stop offset=".654" stop-color="#a4a4a4"/><stop offset=".723" stop-color="#ababab"/><stop offset=".808" stop-color="#b4b4b4"/><stop offset=".885" stop-color="#bcbcbc"/><stop offset=".928" stop-color="#c0c0c0"/><stop offset=".962" stop-color="#c1c1c1"/><stop offset="1" stop-color="#c2c2c2"/></linearGradient><linearGradient id="c38b" x2="0" y2="1"><stop offset=".009" stop-color="#303030"/><stop offset=".021" stop-color="#353535"/><stop offset=".03" stop-color="#373737"/><stop offset=".039" stop-color="#3b3b3b"/><stop offset=".047" stop-color="#3d3d3d"/><stop offset=".056" stop-color="#414141"/><stop offset=".064" stop-color="#434343"/><stop offset=".081" stop-color="#494949"/><stop offset=".099" stop-color="#4e4e4e"/><stop offset=".124" stop-color="#545454"/><stop offset=".193" stop-color="#646464"/><stop offset=".296" stop-color="#767676"/><stop offset=".459" stop-color="#8d8d8d"/><stop offset=".656" stop-color="#a4a4a4"/><stop offset=".724" stop-color="#ababab"/><stop offset=".81" stop-color="#b3b3b3"/><stop offset=".887" stop-color="#bbbbbb"/><stop offset=".93" stop-color="#bfbfbf"/><stop offset=".965" stop-color="#c1c1c1"/><stop offset="1" stop-color="#c1c1c1"/></linearGradient><linearGradient id="c39b" x2="0" y2="1"><stop offset=".009" stop-color="#2f2f2f"/><stop offset=".022" stop-color="#333333"/><stop offset=".03" stop-color="#383838"/><stop offset=".039" stop-color="#3b3b3b"/><stop offset=".047" stop-color="#3e3e3e"/><stop offset=".056" stop-color="#414141"/><stop offset=".065" stop-color="#454545"/><stop offset=".082" stop-color="#4a4a4a"/><stop offset=".099" stop-color="#4f4f4f"/><stop offset=".125" stop-color="#575757"/><stop offset=".194" stop-color="#656565"/><stop offset=".297" stop-color="#777777"/><stop offset=".461" stop-color="#8d8d8d"/><stop offset=".66" stop-color="#a3a3a3"/><stop offset=".729" stop-color="#ababab"/><stop offset=".815" stop-color="#b4b4b4"/><stop offset=".892" stop-color="#bbbbbb"/><stop offset=".935" stop-color="#bfbfbf"/><stop offset=".97" stop-color="#c0c0c0"/><stop offset="1" stop-color="#c0c0c0"/></linearGradient><linearGradient id="c40b" x2="0" y2="1"><stop offset=".009" stop-color="#2b2b2b"/><stop offset=".022" stop-color="#333333"/><stop offset=".03" stop-color="#373737"/><stop offset=".039" stop-color="#3c3c3c"/><stop offset=".048" stop-color="#404040"/><stop offset=".056" stop-color="#444444"/><stop offset=".065" stop-color="#474747"/><stop offset=".082" stop-color="#4d4d4d"/><stop offset=".1" stop-color="#535353"/><stop offset=".126" stop-color="#595959"/><stop offset=".195" stop-color="#686868"/><stop offset=".299" stop-color="#787878"/><stop offset=".463" stop-color="#8d8d8d"/><stop offset=".663" stop-color="#a4a4a4"/><stop offset=".732" stop-color="#aaaaaa"/><stop offset=".819" stop-color="#b3b3b3"/><stop offset=".897" stop-color="#bababa"/><stop offset=".94" stop-color="#bfbfbf"/><stop offset=".975" stop-color="#bfbfbf"/><stop offset="1" stop-color="#bfbfbf"/></linearGradient><linearGradient id="c41b" x2="0" y2="1"><stop offset=".009" stop-color="#292929"/><stop offset=".022" stop-color="#323232"/><stop offset=".031" stop-color="#3c3c3c"/><stop offset=".039" stop-color="#424242"/><stop offset=".048" stop-color="#444444"/><stop offset=".057" stop-color="#4a4a4a"/><stop offset=".066" stop-color="#4d4d4d"/><stop offset=".083" stop-color="#525252"/><stop offset=".101" stop-color="#575757"/><stop offset=".127" stop-color="#5d5d5d"/><stop offset=".197" stop-color="#6a6a6a"/><stop offset=".302" stop-color="#797979"/><stop offset=".468" stop-color="#8d8d8d"/><stop offset=".669" stop-color="#a3a3a3"/><stop offset=".739" stop-color="#aaaaaa"/><stop offset=".826" stop-color="#b2b2b2"/><stop offset=".905" stop-color="#bbbbbb"/><stop offset=".948" stop-color="#bdbdbd"/><stop offset=".983" stop-color="#bfbfbf"/><stop offset="1" stop-color="#bfbfbf"/></linearGradient><linearGradient id="c42b" x2="0" y2="1"><stop offset=".009" stop-color="#252525"/><stop offset=".022" stop-color="#3b3b3b"/><stop offset=".031" stop-color="#434343"/><stop offset=".04" stop-color="#474747"/><stop offset=".048" stop-color="#4e4e4e"/><stop offset=".057" stop-color="#515151"/><stop offset=".066" stop-color="#535353"/><stop offset=".084" stop-color="#585858"/><stop offset=".101" stop-color="#5c5c5c"/><stop offset=".128" stop-color="#626262"/><stop offset=".198" stop-color="#6c6c6c"/><stop offset=".304" stop-color="#7b7b7b"/><stop offset=".471" stop-color="#8e8e8e"/><stop offset=".673" stop-color="#a3a3a3"/><stop offset=".744" stop-color="#aaaaaa"/><stop offset=".832" stop-color="#b3b3b3"/><stop offset=".911" stop-color="#bababa"/><stop offset=".955" stop-color="#bdbdbd"/><stop offset=".99" stop-color="#bdbdbd"/><stop offset="1" stop-color="#bdbdbd"/></linearGradient><linearGradient id="c43b" x2="0" y2="1"><stop offset=".009" stop-color="#292929"/><stop offset=".022" stop-color="#484848"/><stop offset=".031" stop-color="#4d4d4d"/><stop offset=".04" stop-color="#545454"/><stop offset=".049" stop-color="#585858"/><stop offset=".058" stop-color="#595959"/><stop offset=".067" stop-color="#5d5d5d"/><stop offset=".085" stop-color="#616161"/><stop offset=".102" stop-color="#636363"/><stop offset=".129" stop-color="#676767"/><stop offset=".2" stop-color="#707070"/><stop offset=".307" stop-color="#7b7b7b"/><stop offset=".476" stop-color="#8d8d8d"/><stop offset=".681" stop-color="#a2a2a2"/><stop offset=".752" stop-color="#aaaaaa"/><stop offset=".841" stop-color="#b2b2b2"/><stop offset=".921" stop-color="#bababa"/><stop offset=".966" stop-color="#bbbbbb"/><stop offset="1" stop-color="#bcbcbc"/></linearGradient><linearGradient id="c44b" x2="0" y2="1"><stop offset=".009" stop-color="#4c4c4c"/><stop offset=".022" stop-color="#595959"/><stop offset=".031" stop-color="#5d5d5d"/><stop offset=".04" stop-color="#5f5f5f"/><stop offset=".049" stop-color="#616161"/><stop offset=".058" stop-color="#636363"/><stop offset=".067" stop-color="#656565"/><stop offset=".085" stop-color="#676767"/><stop offset=".103" stop-color="#6a6a6a"/><stop offset=".13" stop-color="#6c6c6c"/><stop offset=".202" stop-color="#727272"/><stop offset=".31" stop-color="#7d7d7d"/><stop offset=".48" stop-color="#8e8e8e"/><stop offset=".687" stop-color="#a3a3a3"/><stop offset=".759" stop-color="#aaaaaa"/><stop offset=".848" stop-color="#b2b2b2"/><stop offset=".929" stop-color="#b9b9b9"/><stop offset=".974" stop-color="#bbbbbb"/><stop offset="1" stop-color="#bbbbbb"/></linearGradient><linearGradient id="c45b" x2="0" y2="1"><stop offset=".009" stop-color="#616161"/><stop offset=".023" stop-color="#646464"/><stop offset=".032" stop-color="#666666"/><stop offset=".041" stop-color="#676767"/><stop offset=".05" stop-color="#686868"/><stop offset=".059" stop-color="#6b6b6b"/><stop offset=".068" stop-color="#6a6a6a"/><stop offset=".086" stop-color="#6d6d6d"/><stop offset=".105" stop-color="#6f6f6f"/><stop offset=".132" stop-color="#707070"/><stop offset=".205" stop-color="#757575"/><stop offset=".314" stop-color="#7e7e7e"/><stop offset=".487" stop-color="#8e8e8e"/><stop offset=".696" stop-color="#a2a2a2"/><stop offset=".769" stop-color="#a9a9a9"/><stop offset=".86" stop-color="#b2b2b2"/><stop offset=".942" stop-color="#b9b9b9"/><stop offset=".987" stop-color="#b9b9b9"/><stop offset="1" stop-color="#bababa"/></linearGradient><linearGradient id="c46b" x2="0" y2="1"><stop offset=".009" stop-color="#6b6b6b"/><stop offset=".023" stop-color="#6c6c6c"/><stop offset=".032" stop-color="#6c6c6c"/><stop offset=".042" stop-color="#6e6e6e"/><stop offset=".051" stop-color="#6f6f6f"/><stop offset=".06" stop-color="#6f6f6f"/><stop offset=".069" stop-color="#717171"/><stop offset=".088" stop-color="#717171"/><stop offset=".106" stop-color="#717171"/><stop offset=".134" stop-color="#747474"/><stop offset=".208" stop-color="#787878"/><stop offset=".319" stop-color="#7f7f7f"/><stop offset=".494" stop-color="#8f8f8f"/><stop offset=".707" stop-color="#a3a3a3"/><stop offset=".781" stop-color="#a9a9a9"/><stop offset=".873" stop-color="#b2b2b2"/><stop offset=".956" stop-color="#b7b7b7"/><stop offset="1" stop-color="#b9b9b9"/></linearGradient><linearGradient id="c47b" x2="0" y2="1"><stop offset=".009" stop-color="#707070"/><stop offset=".023" stop-color="#707070"/><stop offset=".033" stop-color="#717171"/><stop offset=".042" stop-color="#717171"/><stop offset=".051" stop-color="#717171"/><stop offset=".061" stop-color="#717171"/><stop offset=".07" stop-color="#717171"/><stop offset=".089" stop-color="#737373"/><stop offset=".107" stop-color="#767676"/><stop offset=".135" stop-color="#767676"/><stop offset=".21" stop-color="#7b7b7b"/><stop offset=".322" stop-color="#808080"/><stop offset=".5" stop-color="#8e8e8e"/><stop offset=".715" stop-color="#a2a2a2"/><stop offset=".79" stop-color="#a9a9a9"/><stop offset=".883" stop-color="#b1b1b1"/><stop offset=".967" stop-color="#b5b5b5"/><stop offset="1" stop-color="#b7b7b7"/></linearGradient><linearGradient id="c48b" x2="0" y2="1"><stop offset=".01" stop-color="#717171"/><stop offset=".024" stop-color="#717171"/><stop offset=".033" stop-color="#727272"/><stop offset=".043" stop-color="#737373"/><stop offset=".052" stop-color="#757575"/><stop offset=".062" stop-color="#757575"/><stop offset=".071" stop-color="#767676"/><stop offset=".09" stop-color="#767676"/><stop offset=".109" stop-color="#777777"/><stop offset=".138" stop-color="#7b7b7b"/><stop offset=".214" stop-color="#7d7d7d"/><stop offset=".328" stop-color="#818181"/><stop offset=".509" stop-color="#8f8f8f"/><stop offset=".728" stop-color="#a2a2a2"/><stop offset=".804" stop-color="#a9a9a9"/><stop offset=".899" stop-color="#b1b1b1"/><stop offset=".984" stop-color="#b4b4b4"/><stop offset="1" stop-color="#b5b5b5"/></linearGradient><linearGradient id="c49b" x2="0" y2="1"><stop offset=".01" stop-color="#747474"/><stop offset=".024" stop-color="#777777"/><stop offset=".034" stop-color="#767676"/><stop offset=".044" stop-color="#767676"/><stop offset=".053" stop-color="#767676"/><stop offset=".063" stop-color="#777777"/><stop offset=".073" stop-color="#797979"/><stop offset=".092" stop-color="#7b7b7b"/><stop offset=".111" stop-color="#7d7d7d"/><stop offset=".141" stop-color="#7e7e7e"/><stop offset=".218" stop-color="#7f7f7f"/><stop offset=".334" stop-color="#818181"/><stop offset=".519" stop-color="#8f8f8f"/><stop offset=".742" stop-color="#a2a2a2"/><stop offset=".819" stop-color="#a9a9a9"/><stop offset=".916" stop-color="#b1b1b1"/><stop offset="1" stop-color="#b2b2b2"/></linearGradient><linearGradient id="c50b" x2="0" y2="1"><stop offset=".01" stop-color="#767676"/><stop offset=".025" stop-color="#767676"/><stop offset=".035" stop-color="#787878"/><stop offset=".044" stop-color="#7c7c7c"/><stop offset=".054" stop-color="#7c7c7c"/><stop offset=".064" stop-color="#7d7d7d"/><stop offset=".074" stop-color="#7d7d7d"/><stop offset=".094" stop-color="#7e7e7e"/><stop offset=".114" stop-color="#7e7e7e"/><stop offset=".143" stop-color="#7e7e7e"/><stop offset=".222" stop-color="#7f7f7f"/><stop offset=".341" stop-color="#828282"/><stop offset=".528" stop-color="#8e8e8e"/><stop offset=".756" stop-color="#a3a3a3"/><stop offset=".835" stop-color="#a9a9a9"/><stop offset=".933" stop-color="#b1b1b1"/><stop offset="1" stop-color="#b1b1b1"/></linearGradient><clipPath id="clc"><path d="M251.8,880.0L250.7,889.7L248.8,891.6L247.0,893.5L245.2,895.5L243.6,897.5L242.0,899.6L240.4,901.8L236.8,901.8L234.3,902.1L231.9,902.0L229.4,901.6L227.0,901.1L224.6,900.3L222.2,899.6L219.8,898.8L217.4,897.9L215.1,897.1L212.7,896.3L210.3,895.5L207.9,894.8L205.5,894.1L203.1,893.5L200.6,893.0L198.2,892.6L195.7,892.4L193.2,892.3L190.7,892.4L188.2,892.6L185.7,892.9L183.2,893.3L180.8,893.9L178.4,894.6L176.0,895.4L173.7,896.3L171.4,897.4L169.2,898.6L167.0,899.9L165.0,901.3L163.0,902.8L161.0,904.4L159.2,906.1L157.5,907.9L155.8,909.8L154.2,911.8L152.7,913.8L151.3,915.9L150.0,918.0L148.7,920.2L147.6,922.4L146.5,924.6L145.4,926.9L144.5,929.2L143.6,931.6L142.7,933.9L142.0,936.3L141.3,938.8L140.7,941.2L140.2,943.6L139.7,946.1L139.4,948.6L139.1,951.1L138.9,953.6L138.8,956.1L138.8,958.6L138.8,961.1L138.9,963.6L139.1,966.1L139.3,968.6L139.6,971.1L139.9,973.5L140.3,976.0L140.8,978.5L141.3,980.9L141.8,983.4L142.4,985.8L143.0,988.2L143.6,990.7L144.3,993.1L145.1,995.4L145.9,997.8L146.7,1000.2L147.6,1002.5L148.5,1004.8L149.5,1007.1L150.6,1009.4L151.7,1011.7L152.8,1013.9L153.9,1016.1L155.1,1018.3L156.4,1020.5L157.6,1022.7L158.9,1024.8L160.2,1027.0L161.5,1029.1L162.9,1031.2L164.3,1033.3L165.7,1035.3L167.2,1037.4L168.7,1039.4L170.2,1041.4L171.7,1043.3L173.3,1045.3L174.9,1047.2L176.6,1049.0L178.3,1050.9L180.0,1052.7L181.8,1054.5L183.5,1056.3L185.3,1058.0L187.2,1059.7L189.0,1061.4L190.9,1063.0L192.8,1064.7L194.7,1066.3L196.7,1067.9L198.6,1069.4L200.6,1071.0L202.6,1072.5L204.6,1073.9L206.6,1075.4L208.7,1076.8L210.8,1078.2L212.9,1079.6L215.0,1081.0L217.1,1082.3L219.2,1083.6L221.4,1084.8L223.6,1086.1L225.8,1087.3L228.0,1088.4L230.2,1089.5L232.5,1090.6L234.8,1091.7L237.1,1092.7L239.4,1093.6L241.7,1094.6L244.0,1095.4L246.4,1096.3L248.8,1097.1L251.2,1097.9L253.6,1098.6L256.0,1099.3L258.4,1099.9L260.8,1100.6L263.2,1101.1L265.7,1101.7L268.1,1102.2L270.6,1102.7L273.0,1103.2L275.5,1103.6L278.0,1104.0L280.5,1104.3L282.9,1104.6L285.4,1104.9L287.9,1105.1L290.4,1105.3L292.9,1105.5L295.4,1105.6L297.9,1105.7L300.4,1105.7L302.9,1105.7L305.4,1105.6L307.9,1105.5L310.4,1105.3L312.9,1105.1L315.4,1104.8L317.9,1104.5L320.4,1104.1L322.8,1103.7L325.3,1103.2L327.7,1102.6L330.2,1102.1L332.6,1101.4L335.0,1100.8L337.4,1100.0L339.8,1099.3L342.2,1098.5L344.5,1097.6L346.9,1096.8L349.2,1095.9L351.5,1095.0L353.8,1094.0L356.1,1093.0L358.4,1092.0L360.7,1091.0L363.0,1089.9L365.2,1088.8L367.4,1087.6L369.6,1086.4L371.8,1085.2L374.0,1084.0L376.2,1082.7L378.3,1081.5L380.4,1080.2L382.6,1078.8L384.7,1077.5L386.8,1076.2L389.0,1074.9L391.1,1073.7L393.4,1072.5L395.6,1071.5L398.0,1070.5L400.3,1069.8L402.8,1069.2L405.2,1068.8L407.7,1068.7L410.3,1068.8L412.3,1068.7L414.8,1068.8L417.2,1069.2L419.7,1069.8L422.0,1070.5L424.4,1071.5L426.6,1072.5L428.9,1073.7L431.0,1074.9L433.2,1076.2L435.3,1077.5L437.4,1078.8L439.6,1080.2L441.7,1081.5L443.8,1082.7L446.0,1084.0L448.2,1085.2L450.4,1086.4L452.6,1087.6L454.8,1088.8L457.0,1089.9L459.3,1091.0L461.6,1092.0L463.9,1093.0L466.2,1094.0L468.5,1095.0L470.8,1095.9L473.1,1096.8L475.5,1097.6L477.8,1098.5L480.2,1099.3L482.6,1100.0L485.0,1100.8L487.4,1101.4L489.8,1102.1L492.3,1102.6L494.7,1103.2L497.2,1103.7L499.6,1104.1L502.1,1104.5L504.6,1104.8L507.1,1105.1L509.6,1105.3L512.1,1105.5L514.6,1105.6L517.1,1105.7L519.6,1105.7L522.1,1105.7L524.6,1105.6L527.1,1105.5L529.6,1105.3L532.1,1105.1L534.6,1104.9L537.1,1104.6L539.5,1104.3L542.0,1104.0L544.5,1103.6L547.0,1103.2L549.4,1102.7L551.9,1102.2L554.3,1101.7L556.8,1101.1L559.2,1100.6L561.6,1099.9L564.0,1099.3L566.4,1098.6L568.8,1097.9L571.2,1097.1L573.6,1096.3L576.0,1095.4L578.3,1094.6L580.6,1093.6L582.9,1092.7L585.2,1091.7L587.5,1090.6L589.8,1089.5L592.0,1088.4L594.2,1087.3L596.4,1086.1L598.6,1084.8L600.8,1083.6L602.9,1082.3L605.0,1081.0L607.1,1079.6L609.2,1078.2L611.3,1076.8L613.4,1075.4L615.4,1073.9L617.4,1072.5L619.4,1071.0L621.4,1069.4L623.3,1067.9L625.3,1066.3L627.2,1064.7L629.1,1063.0L631.0,1061.4L632.8,1059.7L634.7,1058.0L636.5,1056.3L638.2,1054.5L640.0,1052.7L641.7,1050.9L643.4,1049.0L645.1,1047.2L646.7,1045.3L648.3,1043.3L649.8,1041.4L651.3,1039.4L652.8,1037.4L654.3,1035.3L655.7,1033.3L657.1,1031.2L658.5,1029.1L659.8,1027.0L661.1,1024.8L662.4,1022.7L663.6,1020.5L664.9,1018.3L666.1,1016.1L667.2,1013.9L668.3,1011.7L669.4,1009.4L670.5,1007.1L671.5,1004.8L672.4,1002.5L673.3,1000.2L674.1,997.8L674.9,995.4L675.7,993.1L676.4,990.7L677.0,988.2L677.6,985.8L678.2,983.4L678.7,980.9L679.2,978.5L679.7,976.0L680.1,973.5L680.4,971.1L680.7,968.6L680.9,966.1L681.1,963.6L681.2,961.1L681.2,958.6L681.2,956.1L681.1,953.6L680.9,951.1L680.6,948.6L680.3,946.1L679.8,943.6L679.3,941.2L678.7,938.8L678.0,936.3L677.3,933.9L676.4,931.6L675.5,929.2L674.6,926.9L673.5,924.6L672.4,922.4L671.3,920.2L670.0,918.0L668.7,915.9L667.3,913.8L665.8,911.8L664.2,909.8L662.5,907.9L660.8,906.1L659.0,904.4L657.0,902.8L655.0,901.3L653.0,899.9L650.8,898.6L648.6,897.4L646.3,896.3L644.0,895.4L641.6,894.6L639.2,893.9L636.8,893.3L634.3,892.9L631.8,892.6L629.3,892.4L626.8,892.3L624.3,892.4L621.8,892.6L619.4,893.0L616.9,893.5L614.5,894.1L612.1,894.8L609.7,895.5L607.3,896.3L604.9,897.1L602.6,897.9L600.2,898.8L597.8,899.6L595.4,900.3L593.0,901.1L590.6,901.6L588.1,902.0L585.7,902.1L583.2,901.8L580.7,901.0L578.0,899.6L576.4,897.5L574.8,895.5L573.0,893.5L571.2,891.6L569.3,889.7L568.2,880.0L469.8,880.0L468.7,889.7L466.8,891.5L465.0,893.4L463.3,895.4L461.7,897.4L460.1,899.5L458.6,901.6L455.5,902.4L453.3,903.7L451.1,905.0L448.9,906.3L446.7,907.6L444.5,908.9L442.3,910.2L440.1,911.5L437.9,912.8L435.8,914.2L433.6,915.6L431.5,916.9L429.3,918.3L427.0,919.5L424.7,920.5L422.3,921.4L419.8,922.2L417.3,922.8L414.8,923.2L412.3,923.4L409.7,923.5L407.7,923.4L405.2,923.2L402.7,922.8L400.2,922.2L397.7,921.4L395.3,920.5L393.0,919.5L390.7,918.3L388.5,916.9L386.4,915.6L384.2,914.2L382.1,912.8L379.9,911.5L377.7,910.2L375.5,908.9L373.3,907.6L371.1,906.3L368.9,905.0L366.7,903.7L364.5,902.4L362.3,901.0L359.9,899.5L358.3,897.4L356.7,895.4L355.0,893.4L353.2,891.5L351.3,889.7L350.2,880.0Z"/></clipPath><clipPath id="ctc"><rect x="118.3" y="735.2" width="583.7" height="146"/></clipPath></defs>
<rect x="118.3" y="881.2" width="583.7" height="291.8" fill="#c1c1c1"/>
<g clip-path="url(#ctc)"><g filter="url(#jt)"><g id="Tc"><rect x="106.39" y="735.2" width="6.55" height="146" fill="url(#c0)"/><rect x="112.34" y="735.2" width="6.55" height="146" fill="url(#c1)"/><rect x="118.29" y="735.2" width="6.55" height="146" fill="url(#c2)"/><rect x="124.25" y="735.2" width="6.55" height="146" fill="url(#c3)"/><rect x="130.20" y="735.2" width="6.55" height="146" fill="url(#c4)"/><rect x="136.15" y="735.2" width="6.55" height="146" fill="url(#c5)"/><rect x="142.10" y="735.2" width="6.55" height="146" fill="url(#c6)"/><rect x="148.06" y="735.2" width="6.55" height="146" fill="url(#c7)"/><rect x="154.01" y="735.2" width="6.55" height="146" fill="url(#c8)"/><rect x="159.96" y="735.2" width="6.55" height="146" fill="url(#c9)"/><rect x="165.92" y="735.2" width="6.55" height="146" fill="url(#c10)"/><rect x="171.87" y="735.2" width="6.55" height="146" fill="url(#c11)"/><rect x="177.82" y="735.2" width="6.55" height="146" fill="url(#c12)"/><rect x="183.78" y="735.2" width="6.55" height="146" fill="url(#c13)"/><rect x="189.73" y="735.2" width="6.55" height="146" fill="url(#c14)"/><rect x="195.68" y="735.2" width="6.55" height="146" fill="url(#c15)"/><rect x="201.64" y="735.2" width="6.55" height="146" fill="url(#c16)"/><rect x="207.59" y="735.2" width="6.55" height="146" fill="url(#c17)"/><rect x="213.54" y="735.2" width="6.55" height="146" fill="url(#c18)"/><rect x="219.50" y="735.2" width="6.55" height="146" fill="url(#c19)"/><rect x="225.45" y="735.2" width="6.55" height="146" fill="url(#c20)"/><rect x="231.40" y="735.2" width="6.55" height="146" fill="url(#c21)"/><rect x="237.36" y="735.2" width="6.55" height="146" fill="url(#c22)"/><rect x="243.31" y="735.2" width="6.55" height="146" fill="url(#c23)"/><rect x="249.26" y="735.2" width="6.55" height="146" fill="url(#c24)"/><rect x="255.22" y="735.2" width="6.55" height="146" fill="url(#c25)"/><rect x="261.17" y="735.2" width="6.55" height="146" fill="url(#c26)"/><rect x="267.12" y="735.2" width="6.55" height="146" fill="url(#c27)"/><rect x="273.08" y="735.2" width="6.55" height="146" fill="url(#c28)"/><rect x="279.03" y="735.2" width="6.55" height="146" fill="url(#c29)"/><rect x="284.98" y="735.2" width="6.55" height="146" fill="url(#c30)"/><rect x="290.94" y="735.2" width="6.55" height="146" fill="url(#c31)"/><rect x="296.89" y="735.2" width="6.55" height="146" fill="url(#c32)"/><rect x="302.84" y="735.2" width="6.55" height="146" fill="url(#c33)"/><rect x="308.80" y="735.2" width="6.55" height="146" fill="url(#c34)"/><rect x="314.75" y="735.2" width="6.55" height="146" fill="url(#c35)"/><rect x="320.70" y="735.2" width="6.55" height="146" fill="url(#c36)"/><rect x="326.65" y="735.2" width="6.55" height="146" fill="url(#c37)"/><rect x="332.61" y="735.2" width="6.55" height="146" fill="url(#c38)"/><rect x="338.56" y="735.2" width="6.55" height="146" fill="url(#c39)"/><rect x="344.51" y="735.2" width="6.55" height="146" fill="url(#c40)"/><rect x="350.47" y="735.2" width="6.55" height="146" fill="url(#c41)"/><rect x="356.42" y="735.2" width="6.55" height="146" fill="url(#c42)"/><rect x="362.37" y="735.2" width="6.55" height="146" fill="url(#c43)"/><rect x="368.33" y="735.2" width="6.55" height="146" fill="url(#c44)"/><rect x="374.28" y="735.2" width="6.55" height="146" fill="url(#c45)"/><rect x="380.23" y="735.2" width="6.55" height="146" fill="url(#c46)"/><rect x="386.19" y="735.2" width="6.55" height="146" fill="url(#c47)"/><rect x="392.14" y="735.2" width="6.55" height="146" fill="url(#c48)"/><rect x="398.09" y="735.2" width="6.55" height="146" fill="url(#c49)"/><rect x="404.05" y="735.2" width="6.55" height="146" fill="url(#c50)"/></g><use href="#Tc" transform="translate(820.00,0) scale(-1,1)"/></g></g>
<g clip-path="url(#clc)"><g filter="url(#jl)"><g id="Lc"><rect x="118.29" y="879.2" width="6.55" height="94.9" fill="url(#c2b)"/><rect x="124.25" y="879.2" width="6.55" height="121.9" fill="url(#c3b)"/><rect x="130.20" y="879.2" width="6.55" height="138.2" fill="url(#c4b)"/><rect x="136.15" y="879.2" width="6.55" height="149.3" fill="url(#c5b)"/><rect x="142.10" y="879.2" width="6.55" height="160" fill="url(#c6b)"/><rect x="148.06" y="879.2" width="6.55" height="168.2" fill="url(#c7b)"/><rect x="154.01" y="879.2" width="6.55" height="174.1" fill="url(#c8b)"/><rect x="159.96" y="879.2" width="6.55" height="181.5" fill="url(#c9b)"/><rect x="165.92" y="879.2" width="6.55" height="186.8" fill="url(#c10b)"/><rect x="171.87" y="879.2" width="6.55" height="191.8" fill="url(#c11b)"/><rect x="177.82" y="879.2" width="6.55" height="198.2" fill="url(#c12b)"/><rect x="183.78" y="879.2" width="6.55" height="202.7" fill="url(#c13b)"/><rect x="189.73" y="879.2" width="6.55" height="205.6" fill="url(#c14b)"/><rect x="195.68" y="879.2" width="6.55" height="209.8" fill="url(#c15b)"/><rect x="201.64" y="879.2" width="6.55" height="213.6" fill="url(#c16b)"/><rect x="207.59" y="879.2" width="6.55" height="217.2" fill="url(#c17b)"/><rect x="213.54" y="879.2" width="6.55" height="219.4" fill="url(#c18b)"/><rect x="219.50" y="879.2" width="6.55" height="222.4" fill="url(#c19b)"/><rect x="225.45" y="879.2" width="6.55" height="224.2" fill="url(#c20b)"/><rect x="231.40" y="879.2" width="6.55" height="226.7" fill="url(#c21b)"/><rect x="237.36" y="879.2" width="6.55" height="228.1" fill="url(#c22b)"/><rect x="243.31" y="879.2" width="6.55" height="229.9" fill="url(#c23b)"/><rect x="249.26" y="879.2" width="6.55" height="231" fill="url(#c24b)"/><rect x="255.22" y="879.2" width="6.55" height="232.4" fill="url(#c25b)"/><rect x="261.17" y="879.2" width="6.55" height="233.1" fill="url(#c26b)"/><rect x="267.12" y="879.2" width="6.55" height="233.9" fill="url(#c27b)"/><rect x="273.08" y="879.2" width="6.55" height="234.3" fill="url(#c28b)"/><rect x="279.03" y="879.2" width="6.55" height="234.5" fill="url(#c29b)"/><rect x="284.98" y="879.2" width="6.55" height="234.5" fill="url(#c30b)"/><rect x="290.94" y="879.2" width="6.55" height="234.5" fill="url(#c31b)"/><rect x="296.89" y="879.2" width="6.55" height="234.5" fill="url(#c32b)"/><rect x="302.84" y="879.2" width="6.55" height="234.5" fill="url(#c33b)"/><rect x="308.80" y="879.2" width="6.55" height="234.5" fill="url(#c34b)"/><rect x="314.75" y="879.2" width="6.55" height="234.5" fill="url(#c35b)"/><rect x="320.70" y="879.2" width="6.55" height="234.3" fill="url(#c36b)"/><rect x="326.65" y="879.2" width="6.55" height="233.9" fill="url(#c37b)"/><rect x="332.61" y="879.2" width="6.55" height="233.3" fill="url(#c38b)"/><rect x="338.56" y="879.2" width="6.55" height="232" fill="url(#c39b)"/><rect x="344.51" y="879.2" width="6.55" height="230.9" fill="url(#c40b)"/><rect x="350.47" y="879.2" width="6.55" height="228.8" fill="url(#c41b)"/><rect x="356.42" y="879.2" width="6.55" height="227.3" fill="url(#c42b)"/><rect x="362.37" y="879.2" width="6.55" height="224.7" fill="url(#c43b)"/><rect x="368.33" y="879.2" width="6.55" height="222.8" fill="url(#c44b)"/><rect x="374.28" y="879.2" width="6.55" height="219.8" fill="url(#c45b)"/><rect x="380.23" y="879.2" width="6.55" height="216.4" fill="url(#c46b)"/><rect x="386.19" y="879.2" width="6.55" height="214" fill="url(#c47b)"/><rect x="392.14" y="879.2" width="6.55" height="210.3" fill="url(#c48b)"/><rect x="398.09" y="879.2" width="6.55" height="206.3" fill="url(#c49b)"/><rect x="404.05" y="879.2" width="6.55" height="202.5" fill="url(#c50b)"/></g><use href="#Lc" transform="translate(820.00,0) scale(-1,1)"/></g></g>
<path d="M118.3,735.2V1173.0H702.6V1167.0" fill="none" stroke="#262626" stroke-width="1.3"/>
<path d="M117.7,735.2H703.3" stroke="#000" stroke-width="2.7" fill="none"/>
<path d="M118.3,881.2L261.6,881.2A73.3,73.3 0 1 0 340.3,881.2L479.7,881.2A73.3,73.3 0 1 0 558.4,881.2L703.3,881.2" stroke="#000" stroke-width="2.5" fill="none" stroke-linejoin="round"/>
<rect x="783.2" y="731.9" width="47.3" height="453.5" fill="url(#cbg)" stroke="#1a1a1a" stroke-width="2.2"/><path d="M825.0,1072.0H830.5" stroke="#1a1a1a" stroke-width="2"/><path d="M825.0,958.7H830.5" stroke="#1a1a1a" stroke-width="2"/><path d="M825.0,845.3H830.5" stroke="#1a1a1a" stroke-width="2"/>
</g>
<g id="panel-d">
<defs><linearGradient id="d0" x2="0" y2="1"><stop offset="0" stop-color="#000000"/><stop offset=".113" stop-color="#121212"/><stop offset=".172" stop-color="#1b1b1b"/><stop offset=".23" stop-color="#232323"/><stop offset=".289" stop-color="#2a2a2a"/><stop offset=".362" stop-color="#323232"/><stop offset=".435" stop-color="#3a3a3a"/><stop offset=".509" stop-color="#404040"/><stop offset=".641" stop-color="#4a4a4a"/><stop offset=".714" stop-color="#4f4f4f"/><stop offset=".773" stop-color="#525252"/><stop offset=".846" stop-color="#545454"/><stop offset=".919" stop-color="#565656"/><stop offset=".963" stop-color="#565656"/><stop offset="1" stop-color="#565656"/></linearGradient><linearGradient id="d1" x2="0" y2="1"><stop offset="0" stop-color="#000000"/><stop offset=".113" stop-color="#131313"/><stop offset=".172" stop-color="#1b1b1b"/><stop offset=".23" stop-color="#232323"/><stop offset=".289" stop-color="#2a2a2a"/><stop offset=".362" stop-color="#333333"/><stop offset=".435" stop-color="#3a3a3a"/><stop offset=".509" stop-color="#414141"/><stop offset=".641" stop-color="#4b4b4b"/><stop offset=".714" stop-color="#4f4f4f"/><stop offset=".773" stop-color="#515151"/><stop offset=".846" stop-color="#555555"/><stop offset=".919" stop-color="#565656"/><stop offset=".963" stop-color="#565656"/><stop offset="1" stop-color="#575757"/></linearGradient><linearGradient id="d2" x2="0" y2="1"><stop offset="0" stop-color="#000000"/><stop offset=".113" stop-color="#121212"/><stop offset=".172" stop-color="#1b1b1b"/><stop offset=".23" stop-color="#232323"/><stop offset=".289" stop-color="#2a2a2a"/><stop offset=".362" stop-color="#323232"/><stop offset=".435" stop-color="#393939"/><stop offset=".509" stop-color="#404040"/><stop offset=".641" stop-color="#4a4a4a"/><stop offset=".714" stop-color="#4e4e4e"/><stop offset=".773" stop-color="#525252"/><stop offset=".846" stop-color="#545454"/><stop offset=".919" stop-color="#565656"/><stop offset=".963" stop-color="#575757"/><stop offset="1" stop-color="#565656"/></linearGradient><linearGradient id="d3" x2="0" y2="1"><stop offset="0" stop-color="#000000"/><stop offset=".113" stop-color="#141414"/><stop offset=".172" stop-color="#1c1c1c"/><stop offset=".23" stop-color="#242424"/><stop offset=".289" stop-color="#2c2c2c"/><stop offset=".362" stop-color="#343434"/><stop offset=".435" stop-color="#3c3c3c"/><stop offset=".509" stop-color="#434343"/><stop offset=".641" stop-color="#4d4d4d"/><stop offset=".714" stop-color="#515151"/><stop offset=".773" stop-color="#535353"/><stop offset=".846" stop-color="#565656"/><stop offset=".919" stop-color="#565656"/><stop offset=".963" stop-color="#575757"/><stop offset="1" stop-color="#565656"/></linearGradient><linearGradient id="d4" x2="0" y2="1"><stop offset="0" stop-color="#000000"/><stop offset=".113" stop-color="#141414"/><stop offset=".172" stop-color="#1e1e1e"/><stop offset=".23" stop-color="#262626"/><stop offset=".289" stop-color="#2e2e2e"/><stop offset=".362" stop-color="#373737"/><stop offset=".435" stop-color="#3e3e3e"/><stop offset=".509" stop-color="#454545"/><stop offset=".641" stop-color="#4e4e4e"/><stop offset=".714" stop-color="#535353"/><stop offset=".773" stop-color="#565656"/><stop offset=".846" stop-color="#575757"/><stop offset=".919" stop-color="#595959"/><stop offset=".963" stop-color="#585858"/><stop offset="1" stop-color="#585858"/></linearGradient><linearGradient id="d5" x2="0" y2="1"><stop offset="0" stop-color="#000000"/><stop offset=".113" stop-color="#151515"/><stop offset=".172" stop-color="#1e1e1e"/><stop offset=".23" stop-color="#272727"/><stop offset=".289" stop-color="#2f2f2f"/><stop offset=".362" stop-color="#383838"/><stop offset=".435" stop-color="#404040"/><stop offset=".509" stop-color="#474747"/><stop offset=".641" stop-color="#525252"/><stop offset=".714" stop-color="#555555"/><stop offset=".773" stop-color="#575757"/><stop offset=".846" stop-color="#595959"/><stop offset=".919" stop-color="#595959"/><stop offset=".963" stop-color="#595959"/><stop offset="1" stop-color="#595959"/></linearGradient><linearGradient id="d6" x2="0" y2="1"><stop offset="0" stop-color="#000000"/><stop offset=".113" stop-color="#161616"/><stop offset=".172" stop-color="#202020"/><stop offset=".23" stop-color="#292929"/><stop offset=".289" stop-color="#313131"/><stop offset=".362" stop-color="#3a3a3a"/><stop offset=".435" stop-color="#434343"/><stop offset=".509" stop-color="#4a4a4a"/><stop offset=".641" stop-color="#535353"/><stop offset=".714" stop-color="#585858"/><stop offset=".773" stop-color="#5a5a5a"/><stop offset=".846" stop-color="#5c5c5c"/><stop offset=".919" stop-color="#5d5d5d"/><stop offset=".963" stop-color="#5c5c5c"/><stop offset="1" stop-color="#5a5a5a"/></linearGradient><linearGradient id="d7" x2="0" y2="1"><stop offset="0" stop-color="#000000"/><stop offset=".113" stop-color="#171717"/><stop offset=".172" stop-color="#222222"/><stop offset=".23" stop-color="#2b2b2b"/><stop offset=".289" stop-color="#343434"/><stop offset=".362" stop-color="#3d3d3d"/><stop offset=".435" stop-color="#454545"/><stop offset=".509" stop-color="#4c4c4c"/><stop offset=".641" stop-color="#575757"/><stop offset=".714" stop-color="#5b5b5b"/><stop offset=".773" stop-color="#5e5e5e"/><stop offset=".846" stop-color="#5f5f5f"/><stop offset=".919" stop-color="#5e5e5e"/><stop offset=".963" stop-color="#5d5d5d"/><stop offset="1" stop-color="#5d5d5d"/></linearGradient><linearGradient id="d8" x2="0" y2="1"><stop offset="0" stop-color="#000000"/><stop offset=".113" stop-color="#181818"/><stop offset=".172" stop-color="#222222"/><stop offset=".23" stop-color="#2d2d2d"/><stop offset=".289" stop-color="#353535"/><stop offset=".362" stop-color="#404040"/><stop offset=".435" stop-color="#484848"/><stop offset=".509" stop-color="#505050"/><stop offset=".641" stop-color="#5a5a5a"/><stop offset=".714" stop-color="#5e5e5e"/><stop offset=".773" stop-color="#606060"/><stop offset=".846" stop-color="#626262"/><stop offset=".919" stop-color="#626262"/><stop offset=".963" stop-color="#616161"/><stop offset="1" stop-color="#5f5f5f"/></linearGradient><linearGradient id="d9" x2="0" y2="1"><stop offset="0" stop-color="#000000"/><stop offset=".113" stop-color="#181818"/><stop offset=".172" stop-color="#252525"/><stop offset=".23" stop-color="#2e2e2e"/><stop offset=".289" stop-color="#383838"/><stop offset=".362" stop-color="#414141"/><stop offset=".435" stop-color="#4b4b4b"/><stop offset=".509" stop-color="#525252"/><stop offset=".641" stop-color="#5e5e5e"/><stop offset=".714" stop-color="#626262"/><stop offset=".773" stop-color="#646464"/><stop offset=".846" stop-color="#666666"/><stop offset=".919" stop-color="#666666"/><stop offset=".963" stop-color="#646464"/><stop offset="1" stop-color="#626262"/></linearGradient><linearGradient id="d10" x2="0" y2="1"><stop offset="0" stop-color="#000000"/><stop offset=".113" stop-color="#1a1a1a"/><stop offset=".172" stop-color="#252525"/><stop offset=".23" stop-color="#303030"/><stop offset=".289" stop-color="#393939"/><stop offset=".362" stop-color="#444444"/><stop offset=".435" stop-color="#4d4d4d"/><stop offset=".509" stop-color="#555555"/><stop offset=".641" stop-color="#606060"/><stop offset=".714" stop-color="#656565"/><stop offset=".773" stop-color="#686868"/><stop offset=".846" stop-color="#696969"/><stop offset=".919" stop-color="#686868"/><stop offset=".963" stop-color="#686868"/><stop offset="1" stop-color="#666666"/></linearGradient><linearGradient id="d11" x2="0" y2="1"><stop offset="0" stop-color="#000000"/><stop offset=".113" stop-color="#1b1b1b"/><stop offset=".172" stop-color="#272727"/><stop offset=".23" stop-color="#323232"/><stop offset=".289" stop-color="#3b3b3b"/><stop offset=".362" stop-color="#474747"/><stop offset=".435" stop-color="#505050"/><stop offset=".509" stop-color="#585858"/><stop offset=".641" stop-color="#646464"/><stop offset=".714" stop-color="#686868"/><stop offset=".773" stop-color="#6b6b6b"/><stop offset=".846" stop-color="#6d6d6d"/><stop offset=".919" stop-color="#6d6d6d"/><stop offset=".963" stop-color="#6b6b6b"/><stop offset="1" stop-color="#696969"/></linearGradient><linearGradient id="d12" x2="0" y2="1"><stop offset="0" stop-color="#000000"/><stop offset=".113" stop-color="#1c1c1c"/><stop offset=".172" stop-color="#282828"/><stop offset=".23" stop-color="#333333"/><stop offset=".289" stop-color="#3e3e3e"/><stop offset=".362" stop-color="#484848"/><stop offset=".435" stop-color="#535353"/><stop offset=".509" stop-color="#5b5b5b"/><stop offset=".641" stop-color="#676767"/><stop offset=".714" stop-color="#6c6c6c"/><stop offset=".773" stop-color="#6f6f6f"/><stop offset=".846" stop-color="#727272"/><stop offset=".919" stop-color="#737373"/><stop offset=".963" stop-color="#717171"/><stop offset="1" stop-color="#6f6f6f"/></linearGradient><linearGradient id="d13" x2="0" y2="1"><stop offset="0" stop-color="#000000"/><stop offset=".113" stop-color="#1c1c1c"/><stop offset=".172" stop-color="#2a2a2a"/><stop offset=".23" stop-color="#363636"/><stop offset=".289" stop-color="#404040"/><stop offset=".362" stop-color="#4c4c4c"/><stop offset=".435" stop-color="#555555"/><stop offset=".509" stop-color="#5f5f5f"/><stop offset=".641" stop-color="#6b6b6b"/><stop offset=".714" stop-color="#717171"/><stop offset=".773" stop-color="#757575"/><stop offset=".846" stop-color="#787878"/><stop offset=".919" stop-color="#787878"/><stop offset=".963" stop-color="#787878"/><stop offset="1" stop-color="#757575"/></linearGradient><linearGradient id="d14" x2="0" y2="1"><stop offset="0" stop-color="#000000"/><stop offset=".113" stop-color="#1e1e1e"/><stop offset=".172" stop-color="#2b2b2b"/><stop offset=".23" stop-color="#373737"/><stop offset=".289" stop-color="#424242"/><stop offset=".362" stop-color="#4e4e4e"/><stop offset=".435" stop-color="#595959"/><stop offset=".509" stop-color="#616161"/><stop offset=".641" stop-color="#6f6f6f"/><stop offset=".714" stop-color="#757575"/><stop offset=".773" stop-color="#797979"/><stop offset=".846" stop-color="#7d7d7d"/><stop offset=".919" stop-color="#808080"/><stop offset=".963" stop-color="#7f7f7f"/><stop offset="1" stop-color="#7e7e7e"/></linearGradient><linearGradient id="d15" x2="0" y2="1"><stop offset="0" stop-color="#000000"/><stop offset=".113" stop-color="#1f1f1f"/><stop offset=".172" stop-color="#2d2d2d"/><stop offset=".23" stop-color="#393939"/><stop offset=".289" stop-color="#454545"/><stop offset=".362" stop-color="#515151"/><stop offset=".435" stop-color="#5c5c5c"/><stop offset=".509" stop-color="#666666"/><stop offset=".641" stop-color="#737373"/><stop offset=".714" stop-color="#797979"/><stop offset=".773" stop-color="#7d7d7d"/><stop offset=".846" stop-color="#838383"/><stop offset=".919" stop-color="#888888"/><stop offset=".963" stop-color="#8b8b8b"/><stop offset="1" stop-color="#8a8a8a"/></linearGradient><linearGradient id="d16" x2="0" y2="1"><stop offset="0" stop-color="#000000"/><stop offset=".113" stop-color="#202020"/><stop offset=".172" stop-color="#2e2e2e"/><stop offset=".23" stop-color="#3b3b3b"/><stop offset=".289" stop-color="#464646"/><stop offset=".362" stop-color="#535353"/><stop offset=".435" stop-color="#5e5e5e"/><stop offset=".509" stop-color="#676767"/><stop offset=".641" stop-color="#767676"/><stop offset=".714" stop-color="#7d7d7d"/><stop offset=".773" stop-color="#828282"/><stop offset=".846" stop-color="#878787"/><stop offset=".919" stop-color="#909090"/><stop offset=".963" stop-color="#979797"/><stop offset="1" stop-color="#a1a1a1"/></linearGradient><linearGradient id="d17" x2="0" y2="1"><stop offset="0" stop-color="#000000"/><stop offset=".113" stop-color="#202020"/><stop offset=".172" stop-color="#2f2f2f"/><stop offset=".23" stop-color="#3c3c3c"/><stop offset=".289" stop-color="#474747"/><stop offset=".362" stop-color="#545454"/><stop offset=".435" stop-color="#5f5f5f"/><stop offset=".509" stop-color="#696969"/><stop offset=".641" stop-color="#787878"/><stop offset=".714" stop-color="#7e7e7e"/><stop offset=".773" stop-color="#838383"/><stop offset=".846" stop-color="#8b8b8b"/><stop offset=".919" stop-color="#959595"/><stop offset=".963" stop-color="#9f9f9f"/><stop offset="1" stop-color="#acacac"/></linearGradient><linearGradient id="d18" x2="0" y2="1"><stop offset="0" stop-color="#000000"/><stop offset=".113" stop-color="#212121"/><stop offset=".172" stop-color="#2f2f2f"/><stop offset=".23" stop-color="#3c3c3c"/><stop offset=".289" stop-color="#484848"/><stop offset=".362" stop-color="#555555"/><stop offset=".435" stop-color="#606060"/><stop offset=".509" stop-color="#6a6a6a"/><stop offset=".641" stop-color="#797979"/><stop offset=".714" stop-color="#818181"/><stop offset=".773" stop-color="#868686"/><stop offset=".846" stop-color="#8d8d8d"/><stop offset=".919" stop-color="#969696"/><stop offset=".963" stop-color="#a0a0a0"/><stop offset="1" stop-color="#acacac"/></linearGradient><linearGradient id="d19" x2="0" y2="1"><stop offset="0" stop-color="#000000"/><stop offset=".113" stop-color="#212121"/><stop offset=".172" stop-color="#2f2f2f"/><stop offset=".23" stop-color="#3c3c3c"/><stop offset=".289" stop-color="#484848"/><stop offset=".362" stop-color="#555555"/><stop offset=".435" stop-color="#616161"/><stop offset=".509" stop-color="#6c6c6c"/><stop offset=".641" stop-color="#7b7b7b"/><stop offset=".714" stop-color="#828282"/><stop offset=".773" stop-color="#888888"/><stop offset=".846" stop-color="#8e8e8e"/><stop offset=".919" stop-color="#969696"/><stop offset=".963" stop-color="#9a9a9a"/><stop offset="1" stop-color="#9f9f9f"/></linearGradient><linearGradient id="d20" x2="0" y2="1"><stop offset="0" stop-color="#000000"/><stop offset=".113" stop-color="#212121"/><stop offset=".172" stop-color="#303030"/><stop offset=".23" stop-color="#3e3e3e"/><stop offset=".289" stop-color="#4a4a4a"/><stop offset=".362" stop-color="#575757"/><stop offset=".435" stop-color="#626262"/><stop offset=".509" stop-color="#6c6c6c"/><stop offset=".641" stop-color="#7c7c7c"/><stop offset=".714" stop-color="#838383"/><stop offset=".773" stop-color="#888888"/><stop offset=".846" stop-color="#8e8e8e"/><stop offset=".919" stop-color="#929292"/><stop offset=".963" stop-color="#949494"/><stop offset="1" stop-color="#929292"/></linearGradient><linearGradient id="d21" x2="0" y2="1"><stop offset="0" stop-color="#000000"/><stop offset=".113" stop-color="#222222"/><stop offset=".172" stop-color="#313131"/><stop offset=".23" stop-color="#3e3e3e"/><stop offset=".289" stop-color="#4a4a4a"/><stop offset=".362" stop-color="#575757"/><stop offset=".435" stop-color="#646464"/><stop offset=".509" stop-color="#6e6e6e"/><stop offset=".641" stop-color="#7d7d7d"/><stop offset=".714" stop-color="#848484"/><stop offset=".773" stop-color="#898989"/><stop offset=".846" stop-color="#8e8e8e"/><stop offset=".919" stop-color="#909090"/><stop offset=".963" stop-color="#8f8f8f"/><stop offset="1" stop-color="#8d8d8d"/></linearGradient><linearGradient id="d22" x2="0" y2="1"><stop offset="0" stop-color="#000000"/><stop offset=".113" stop-color="#212121"/><stop offset=".172" stop-color="#313131"/><stop offset=".23" stop-color="#3e3e3e"/><stop offset=".289" stop-color="#4a4a4a"/><stop offset=".362" stop-color="#595959"/><stop offset=".435" stop-color="#646464"/><stop offset=".509" stop-color="#6f6f6f"/><stop offset=".641" stop-color="#7f7f7f"/><stop offset=".714" stop-color="#868686"/><stop offset=".773" stop-color="#8b8b8b"/><stop offset=".846" stop-color="#8f8f8f"/><stop offset=".919" stop-color="#909090"/><stop offset=".963" stop-color="#8f8f8f"/><stop offset="1" stop-color="#8b8b8b"/></linearGradient><linearGradient id="d23" x2="0" y2="1"><stop offset="0" stop-color="#000000"/><stop offset=".113" stop-color="#232323"/><stop offset=".172" stop-color="#313131"/><stop offset=".23" stop-color="#3f3f3f"/><stop offset=".289" stop-color="#4c4c4c"/><stop offset=".362" stop-color="#595959"/><stop offset=".435" stop-color="#656565"/><stop offset=".509" stop-color="#707070"/><stop offset=".641" stop-color="#808080"/><stop offset=".714" stop-color="#878787"/><stop offset=".773" stop-color="#8c8c8c"/><stop offset=".846" stop-color="#8f8f8f"/><stop offset=".919" stop-color="#919191"/><stop offset=".963" stop-color="#8e8e8e"/><stop offset="1" stop-color="#8c8c8c"/></linearGradient><linearGradient id="d24" x2="0" y2="1"><stop offset="0" stop-color="#000000"/><stop offset=".113" stop-color="#222222"/><stop offset=".172" stop-color="#323232"/><stop offset=".23" stop-color="#404040"/><stop offset=".289" stop-color="#4b4b4b"/><stop offset=".362" stop-color="#595959"/><stop offset=".435" stop-color="#666666"/><stop offset=".509" stop-color="#717171"/><stop offset=".641" stop-color="#818181"/><stop offset=".714" stop-color="#898989"/><stop offset=".773" stop-color="#8d8d8d"/><stop offset=".846" stop-color="#929292"/><stop offset=".919" stop-color="#929292"/><stop offset=".963" stop-color="#919191"/><stop offset="1" stop-color="#8e8e8e"/></linearGradient><linearGradient id="d25" x2="0" y2="1"><stop offset="0" stop-color="#000000"/><stop offset=".113" stop-color="#232323"/><stop offset=".172" stop-color="#323232"/><stop offset=".23" stop-color="#404040"/><stop offset=".289" stop-color="#4d4d4d"/><stop offset=".362" stop-color="#5b5b5b"/><stop offset=".435" stop-color="#676767"/><stop offset=".509" stop-color="#727272"/><stop offset=".641" stop-color="#838383"/><stop offset=".714" stop-color="#8a8a8a"/><stop offset=".773" stop-color="#8f8f8f"/><stop offset=".846" stop-color="#949494"/><stop offset=".919" stop-color="#969696"/><stop offset=".963" stop-color="#959595"/><stop offset="1" stop-color="#939393"/></linearGradient><linearGradient id="d26" x2="0" y2="1"><stop offset="0" stop-color="#000000"/><stop offset=".113" stop-color="#232323"/><stop offset=".172" stop-color="#333333"/><stop offset=".23" stop-color="#404040"/><stop offset=".289" stop-color="#4d4d4d"/><stop offset=".362" stop-color="#5b5b5b"/><stop offset=".435" stop-color="#686868"/><stop offset=".509" stop-color="#727272"/><stop offset=".641" stop-color="#848484"/><stop offset=".714" stop-color="#8c8c8c"/><stop offset=".773" stop-color="#919191"/><stop offset=".846" stop-color="#969696"/><stop offset=".919" stop-color="#9a9a9a"/><stop offset=".963" stop-color="#9b9b9b"/><stop offset="1" stop-color="#9a9a9a"/></linearGradient><linearGradient id="d27" x2="0" y2="1"><stop offset="0" stop-color="#000000"/><stop offset=".113" stop-color="#232323"/><stop offset=".172" stop-color="#333333"/><stop offset=".23" stop-color="#414141"/><stop offset=".289" stop-color="#4d4d4d"/><stop offset=".362" stop-color="#5b5b5b"/><stop offset=".435" stop-color="#686868"/><stop offset=".509" stop-color="#747474"/><stop offset=".641" stop-color="#858585"/><stop offset=".714" stop-color="#8d8d8d"/><stop offset=".773" stop-color="#939393"/><stop offset=".846" stop-color="#999999"/><stop offset=".919" stop-color="#9f9f9f"/><stop offset=".963" stop-color="#a2a2a2"/><stop offset="1" stop-color="#a5a5a5"/></linearGradient><linearGradient id="d28" x2="0" y2="1"><stop offset="0" stop-color="#000000"/><stop offset=".113" stop-color="#232323"/><stop offset=".172" stop-color="#333333"/><stop offset=".23" stop-color="#414141"/><stop offset=".289" stop-color="#4e4e4e"/><stop offset=".362" stop-color="#5c5c5c"/><stop offset=".435" stop-color="#696969"/><stop offset=".509" stop-color="#747474"/><stop offset=".641" stop-color="#858585"/><stop offset=".714" stop-color="#8e8e8e"/><stop offset=".773" stop-color="#949494"/><stop offset=".846" stop-color="#9c9c9c"/><stop offset=".919" stop-color="#a2a2a2"/><stop offset=".963" stop-color="#a8a8a8"/><stop offset="1" stop-color="#aeaeae"/></linearGradient><linearGradient id="d29" x2="0" y2="1"><stop offset="0" stop-color="#000000"/><stop offset=".113" stop-color="#242424"/><stop offset=".172" stop-color="#333333"/><stop offset=".23" stop-color="#414141"/><stop offset=".289" stop-color="#4e4e4e"/><stop offset=".362" stop-color="#5d5d5d"/><stop offset=".435" stop-color="#696969"/><stop offset=".509" stop-color="#757575"/><stop offset=".641" stop-color="#878787"/><stop offset=".714" stop-color="#909090"/><stop offset=".773" stop-color="#969696"/><stop offset=".846" stop-color="#9e9e9e"/><stop offset=".919" stop-color="#a7a7a7"/><stop offset=".963" stop-color="#adadad"/><stop offset="1" stop-color="#b3b3b3"/></linearGradient><linearGradient id="d30" x2="0" y2="1"><stop offset="0" stop-color="#000000"/><stop offset=".113" stop-color="#242424"/><stop offset=".172" stop-color="#333333"/><stop offset=".23" stop-color="#424242"/><stop offset=".289" stop-color="#4f4f4f"/><stop offset=".362" stop-color="#5d5d5d"/><stop offset=".435" stop-color="#6a6a6a"/><stop offset=".509" stop-color="#757575"/><stop offset=".641" stop-color="#888888"/><stop offset=".714" stop-color="#919191"/><stop offset=".773" stop-color="#989898"/><stop offset=".846" stop-color="#a0a0a0"/><stop offset=".919" stop-color="#a9a9a9"/><stop offset=".963" stop-color="#aeaeae"/><stop offset="1" stop-color="#b4b4b4"/></linearGradient><linearGradient id="d31" x2="0" y2="1"><stop offset="0" stop-color="#000000"/><stop offset=".113" stop-color="#232323"/><stop offset=".172" stop-color="#343434"/><stop offset=".23" stop-color="#424242"/><stop offset=".289" stop-color="#4e4e4e"/><stop offset=".362" stop-color="#5d5d5d"/><stop offset=".435" stop-color="#6a6a6a"/><stop offset=".509" stop-color="#767676"/><stop offset=".641" stop-color="#898989"/><stop offset=".714" stop-color="#919191"/><stop offset=".773" stop-color="#999999"/><stop offset=".846" stop-color="#a1a1a1"/><stop offset=".919" stop-color="#aaaaaa"/><stop offset=".963" stop-color="#b0b0b0"/><stop offset="1" stop-color="#b4b4b4"/></linearGradient><linearGradient id="d32" x2="0" y2="1"><stop offset="0" stop-color="#000000"/><stop offset=".113" stop-color="#242424"/><stop offset=".172" stop-color="#343434"/><stop offset=".23" stop-color="#424242"/><stop offset=".289" stop-color="#4f4f4f"/><stop offset=".362" stop-color="#5e5e5e"/><stop offset=".435" stop-color="#6b6b6b"/><stop offset=".509" stop-color="#777777"/><stop offset=".641" stop-color="#898989"/><stop offset=".714" stop-color="#939393"/><stop offset=".773" stop-color="#9a9a9a"/><stop offset=".846" stop-color="#a3a3a3"/><stop offset=".919" stop-color="#ababab"/><stop offset=".963" stop-color="#b1b1b1"/><stop offset="1" stop-color="#b5b5b5"/></linearGradient><linearGradient id="d33" x2="0" y2="1"><stop offset="0" stop-color="#000000"/><stop offset=".113" stop-color="#242424"/><stop offset=".172" stop-color="#343434"/><stop offset=".23" stop-color="#424242"/><stop offset=".289" stop-color="#505050"/><stop offset=".362" stop-color="#5d5d5d"/><stop offset=".435" stop-color="#6a6a6a"/><stop offset=".509" stop-color="#777777"/><stop offset=".641" stop-color="#8a8a8a"/><stop offset=".714" stop-color="#939393"/><stop offset=".773" stop-color="#9a9a9a"/><stop offset=".846" stop-color="#a3a3a3"/><stop offset=".919" stop-color="#acacac"/><stop offset=".963" stop-color="#b1b1b1"/><stop offset="1" stop-color="#b5b5b5"/></linearGradient><linearGradient id="d34" x2="0" y2="1"><stop offset="0" stop-color="#000000"/><stop offset=".113" stop-color="#242424"/><stop offset=".172" stop-color="#333333"/><stop offset=".23" stop-color="#424242"/><stop offset=".289" stop-color="#4f4f4f"/><stop offset=".362" stop-color="#5e5e5e"/><stop offset=".435" stop-color="#6b6b6b"/><stop offset=".509" stop-color="#767676"/><stop offset=".641" stop-color="#8a8a8a"/><stop offset=".714" stop-color="#949494"/><stop offset=".773" stop-color="#9b9b9b"/><stop offset=".846" stop-color="#a4a4a4"/><stop offset=".919" stop-color="#acacac"/><stop offset=".963" stop-color="#b0b0b0"/><stop offset="1" stop-color="#b5b5b5"/></linearGradient><linearGradient id="d35" x2="0" y2="1"><stop offset="0" stop-color="#000000"/><stop offset=".113" stop-color="#242424"/><stop offset=".172" stop-color="#343434"/><stop offset=".23" stop-color="#424242"/><stop offset=".289" stop-color="#4f4f4f"/><stop offset=".362" stop-color="#5e5e5e"/><stop offset=".435" stop-color="#6b6b6b"/><stop offset=".509" stop-color="#777777"/><stop offset=".641" stop-color="#898989"/><stop offset=".714" stop-color="#939393"/><stop offset=".773" stop-color="#9b9b9b"/><stop offset=".846" stop-color="#a3a3a3"/><stop offset=".919" stop-color="#acacac"/><stop offset=".963" stop-color="#b1b1b1"/><stop offset="1" stop-color="#b5b5b5"/></linearGradient><linearGradient id="d36" x2="0" y2="1"><stop offset="0" stop-color="#000000"/><stop offset=".113" stop-color="#242424"/><stop offset=".172" stop-color="#343434"/><stop offset=".23" stop-color="#434343"/><stop offset=".289" stop-color="#4f4f4f"/><stop offset=".362" stop-color="#5d5d5d"/><stop offset=".435" stop-color="#6b6b6b"/><stop offset=".509" stop-color="#777777"/><stop offset=".641" stop-color="#8a8a8a"/><stop offset=".714" stop-color="#939393"/><stop offset=".773" stop-color="#9a9a9a"/><stop offset=".846" stop-color="#a3a3a3"/><stop offset=".919" stop-color="#acacac"/><stop offset=".963" stop-color="#b1b1b1"/><stop offset="1" stop-color="#b4b4b4"/></linearGradient><linearGradient id="d37" x2="0" y2="1"><stop offset="0" stop-color="#000000"/><stop offset=".113" stop-color="#242424"/><stop offset=".172" stop-color="#343434"/><stop offset=".23" stop-color="#424242"/><stop offset=".289" stop-color="#4f4f4f"/><stop offset=".362" stop-color="#5e5e5e"/><stop offset=".435" stop-color="#6a6a6a"/><stop offset=".509" stop-color="#767676"/><stop offset=".641" stop-color="#898989"/><stop offset=".714" stop-color="#939393"/><stop offset=".773" stop-color="#9a9a9a"/><stop offset=".846" stop-color="#a3a3a3"/><stop offset=".919" stop-color="#ababab"/><stop offset=".963" stop-color="#b0b0b0"/><stop offset="1" stop-color="#b4b4b4"/></linearGradient><linearGradient id="d38" x2="0" y2="1"><stop offset="0" stop-color="#000000"/><stop offset=".113" stop-color="#242424"/><stop offset=".172" stop-color="#343434"/><stop offset=".23" stop-color="#424242"/><stop offset=".289" stop-color="#4f4f4f"/><stop offset=".362" stop-color="#5d5d5d"/><stop offset=".435" stop-color="#6a6a6a"/><stop offset=".509" stop-color="#767676"/><stop offset=".641" stop-color="#888888"/><stop offset=".714" stop-color="#919191"/><stop offset=".773" stop-color="#999999"/><stop offset=".846" stop-color="#a1a1a1"/><stop offset=".919" stop-color="#aaaaaa"/><stop offset=".963" stop-color="#afafaf"/><stop offset="1" stop-color="#b4b4b4"/></linearGradient><linearGradient id="d39" x2="0" y2="1"><stop offset="0" stop-color="#000000"/><stop offset=".113" stop-color="#242424"/><stop offset=".172" stop-color="#333333"/><stop offset=".23" stop-color="#414141"/><stop offset=".289" stop-color="#4e4e4e"/><stop offset=".362" stop-color="#5d5d5d"/><stop offset=".435" stop-color="#6a6a6a"/><stop offset=".509" stop-color="#757575"/><stop offset=".641" stop-color="#888888"/><stop offset=".714" stop-color="#919191"/><stop offset=".773" stop-color="#979797"/><stop offset=".846" stop-color="#a1a1a1"/><stop offset=".919" stop-color="#a9a9a9"/><stop offset=".963" stop-color="#afafaf"/><stop offset="1" stop-color="#b3b3b3"/></linearGradient><linearGradient id="d40" x2="0" y2="1"><stop offset="0" stop-color="#000000"/><stop offset=".113" stop-color="#232323"/><stop offset=".172" stop-color="#343434"/><stop offset=".23" stop-color="#424242"/><stop offset=".289" stop-color="#4e4e4e"/><stop offset=".362" stop-color="#5c5c5c"/><stop offset=".435" stop-color="#696969"/><stop offset=".509" stop-color="#747474"/><stop offset=".641" stop-color="#868686"/><stop offset=".714" stop-color="#8f8f8f"/><stop offset=".773" stop-color="#969696"/><stop offset=".846" stop-color="#9e9e9e"/><stop offset=".919" stop-color="#a7a7a7"/><stop offset=".963" stop-color="#acacac"/><stop offset="1" stop-color="#b2b2b2"/></linearGradient><linearGradient id="d41" x2="0" y2="1"><stop offset="0" stop-color="#000000"/><stop offset=".113" stop-color="#242424"/><stop offset=".172" stop-color="#333333"/><stop offset=".23" stop-color="#414141"/><stop offset=".289" stop-color="#4e4e4e"/><stop offset=".362" stop-color="#5c5c5c"/><stop offset=".435" stop-color="#696969"/><stop offset=".509" stop-color="#747474"/><stop offset=".641" stop-color="#858585"/><stop offset=".714" stop-color="#8e8e8e"/><stop offset=".773" stop-color="#949494"/><stop offset=".846" stop-color="#9b9b9b"/><stop offset=".919" stop-color="#a4a4a4"/><stop offset=".963" stop-color="#ababab"/><stop offset="1" stop-color="#b0b0b0"/></linearGradient><linearGradient id="d42" x2="0" y2="1"><stop offset="0" stop-color="#000000"/><stop offset=".113" stop-color="#232323"/><stop offset=".172" stop-color="#333333"/><stop offset=".23" stop-color="#414141"/><stop offset=".289" stop-color="#4d4d4d"/><stop offset=".362" stop-color="#5c5c5c"/><stop offset=".435" stop-color="#686868"/><stop offset=".509" stop-color="#737373"/><stop offset=".641" stop-color="#848484"/><stop offset=".714" stop-color="#8b8b8b"/><stop offset=".773" stop-color="#919191"/><stop offset=".846" stop-color="#999999"/><stop offset=".919" stop-color="#a0a0a0"/><stop offset=".963" stop-color="#a6a6a6"/><stop offset="1" stop-color="#adadad"/></linearGradient><linearGradient id="d43" x2="0" y2="1"><stop offset="0" stop-color="#000000"/><stop offset=".113" stop-color="#232323"/><stop offset=".172" stop-color="#323232"/><stop offset=".23" stop-color="#404040"/><stop offset=".289" stop-color="#4d4d4d"/><stop offset=".362" stop-color="#5b5b5b"/><stop offset=".435" stop-color="#676767"/><stop offset=".509" stop-color="#727272"/><stop offset=".641" stop-color="#828282"/><stop offset=".714" stop-color="#8a8a8a"/><stop offset=".773" stop-color="#8f8f8f"/><stop offset=".846" stop-color="#959595"/><stop offset=".919" stop-color="#9b9b9b"/><stop offset=".963" stop-color="#9f9f9f"/><stop offset="1" stop-color="#a4a4a4"/></linearGradient><linearGradient id="d44" x2="0" y2="1"><stop offset="0" stop-color="#000000"/><stop offset=".113" stop-color="#232323"/><stop offset=".172" stop-color="#333333"/><stop offset=".23" stop-color="#404040"/><stop offset=".289" stop-color="#4d4d4d"/><stop offset=".362" stop-color="#5a5a5a"/><stop offset=".435" stop-color="#666666"/><stop offset=".509" stop-color="#717171"/><stop offset=".641" stop-color="#818181"/><stop offset=".714" stop-color="#888888"/><stop offset=".773" stop-color="#8d8d8d"/><stop offset=".846" stop-color="#919191"/><stop offset=".919" stop-color="#959595"/><stop offset=".963" stop-color="#969696"/><stop offset="1" stop-color="#969696"/></linearGradient><linearGradient id="d45" x2="0" y2="1"><stop offset="0" stop-color="#000000"/><stop offset=".113" stop-color="#232323"/><stop offset=".172" stop-color="#323232"/><stop offset=".23" stop-color="#404040"/><stop offset=".289" stop-color="#4d4d4d"/><stop offset=".362" stop-color="#5a5a5a"/><stop offset=".435" stop-color="#666666"/><stop offset=".509" stop-color="#717171"/><stop offset=".641" stop-color="#7f7f7f"/><stop offset=".714" stop-color="#858585"/><stop offset=".773" stop-color="#8a8a8a"/><stop offset=".846" stop-color="#8e8e8e"/><stop offset=".919" stop-color="#8f8f8f"/><stop offset=".963" stop-color="#8f8f8f"/><stop offset="1" stop-color="#8d8d8d"/></linearGradient><linearGradient id="d46" x2="0" y2="1"><stop offset="0" stop-color="#000000"/><stop offset=".113" stop-color="#222222"/><stop offset=".172" stop-color="#323232"/><stop offset=".23" stop-color="#404040"/><stop offset=".289" stop-color="#4b4b4b"/><stop offset=".362" stop-color="#5a5a5a"/><stop offset=".435" stop-color="#666666"/><stop offset=".509" stop-color="#6f6f6f"/><stop offset=".641" stop-color="#7e7e7e"/><stop offset=".714" stop-color="#848484"/><stop offset=".773" stop-color="#878787"/><stop offset=".846" stop-color="#8a8a8a"/><stop offset=".919" stop-color="#8b8b8b"/><stop offset=".963" stop-color="#898989"/><stop offset="1" stop-color="#868686"/></linearGradient><linearGradient id="d47" x2="0" y2="1"><stop offset="0" stop-color="#000000"/><stop offset=".113" stop-color="#232323"/><stop offset=".172" stop-color="#323232"/><stop offset=".23" stop-color="#404040"/><stop offset=".289" stop-color="#4c4c4c"/><stop offset=".362" stop-color="#595959"/><stop offset=".435" stop-color="#646464"/><stop offset=".509" stop-color="#6f6f6f"/><stop offset=".641" stop-color="#7d7d7d"/><stop offset=".714" stop-color="#828282"/><stop offset=".773" stop-color="#858585"/><stop offset=".846" stop-color="#868686"/><stop offset=".919" stop-color="#858585"/><stop offset=".963" stop-color="#838383"/><stop offset="1" stop-color="#808080"/></linearGradient><linearGradient id="d48" x2="0" y2="1"><stop offset="0" stop-color="#000000"/><stop offset=".113" stop-color="#222222"/><stop offset=".172" stop-color="#313131"/><stop offset=".23" stop-color="#3f3f3f"/><stop offset=".289" stop-color="#4b4b4b"/><stop offset=".362" stop-color="#585858"/><stop offset=".435" stop-color="#646464"/><stop offset=".509" stop-color="#6e6e6e"/><stop offset=".641" stop-color="#7b7b7b"/><stop offset=".714" stop-color="#808080"/><stop offset=".773" stop-color="#828282"/><stop offset=".846" stop-color="#848484"/><stop offset=".919" stop-color="#828282"/><stop offset=".963" stop-color="#7f7f7f"/><stop offset="1" stop-color="#7c7c7c"/></linearGradient><linearGradient id="d49" x2="0" y2="1"><stop offset="0" stop-color="#000000"/><stop offset=".113" stop-color="#232323"/><stop offset=".172" stop-color="#323232"/><stop offset=".23" stop-color="#3f3f3f"/><stop offset=".289" stop-color="#4b4b4b"/><stop offset=".362" stop-color="#585858"/><stop offset=".435" stop-color="#646464"/><stop offset=".509" stop-color="#6d6d6d"/><stop offset=".641" stop-color="#7a7a7a"/><stop offset=".714" stop-color="#7f7f7f"/><stop offset=".773" stop-color="#818181"/><stop offset=".846" stop-color="#818181"/><stop offset=".919" stop-color="#7f7f7f"/><stop offset=".963" stop-color="#7d7d7d"/><stop offset="1" stop-color="#797979"/></linearGradient><linearGradient id="d50" x2="0" y2="1"><stop offset="0" stop-color="#000000"/><stop offset=".113" stop-color="#222222"/><stop offset=".172" stop-color="#313131"/><stop offset=".23" stop-color="#3f3f3f"/><stop offset=".289" stop-color="#4b4b4b"/><stop offset=".362" stop-color="#585858"/><stop offset=".435" stop-color="#636363"/><stop offset=".509" stop-color="#6c6c6c"/><stop offset=".641" stop-color="#797979"/><stop offset=".714" stop-color="#7d7d7d"/><stop offset=".773" stop-color="#808080"/><stop offset=".846" stop-color="#808080"/><stop offset=".919" stop-color="#7e7e7e"/><stop offset=".963" stop-color="#7a7a7a"/><stop offset="1" stop-color="#777777"/></linearGradient><linearGradient id="d51" x2="0" y2="1"><stop offset="0" stop-color="#000000"/><stop offset=".113" stop-color="#222222"/><stop offset=".172" stop-color="#323232"/><stop offset=".23" stop-color="#3e3e3e"/><stop offset=".289" stop-color="#4b4b4b"/><stop offset=".362" stop-color="#585858"/><stop offset=".435" stop-color="#636363"/><stop offset=".509" stop-color="#6d6d6d"/><stop offset=".641" stop-color="#797979"/><stop offset=".714" stop-color="#7d7d7d"/><stop offset=".773" stop-color="#7e7e7e"/><stop offset=".846" stop-color="#7f7f7f"/><stop offset=".919" stop-color="#7b7b7b"/><stop offset=".963" stop-color="#797979"/><stop offset="1" stop-color="#767676"/></linearGradient><linearGradient id="d52" x2="0" y2="1"><stop offset="0" stop-color="#000000"/><stop offset=".113" stop-color="#222222"/><stop offset=".172" stop-color="#313131"/><stop offset=".23" stop-color="#3f3f3f"/><stop offset=".289" stop-color="#4a4a4a"/><stop offset=".362" stop-color="#585858"/><stop offset=".435" stop-color="#636363"/><stop offset=".509" stop-color="#6c6c6c"/><stop offset=".641" stop-color="#787878"/><stop offset=".714" stop-color="#7d7d7d"/><stop offset=".773" stop-color="#7e7e7e"/><stop offset=".846" stop-color="#7e7e7e"/><stop offset=".919" stop-color="#7c7c7c"/><stop offset=".963" stop-color="#787878"/><stop offset="1" stop-color="#747474"/></linearGradient><linearGradient id="d2b" x2="0" y2="1"><stop offset=".016" stop-color="#6e6e6e"/><stop offset=".039" stop-color="#717171"/><stop offset=".055" stop-color="#737373"/><stop offset=".071" stop-color="#757575"/><stop offset=".118" stop-color="#757575"/><stop offset=".26" stop-color="#7b7b7b"/><stop offset=".323" stop-color="#7b7b7b"/><stop offset=".37" stop-color="#808080"/><stop offset=".511" stop-color="#868686"/><stop offset=".59" stop-color="#898989"/><stop offset=".606" stop-color="#8d8d8d"/><stop offset=".669" stop-color="#8d8d8d"/><stop offset=".763" stop-color="#949494"/><stop offset=".873" stop-color="#949494"/><stop offset="1" stop-color="#9b9b9b"/></linearGradient><linearGradient id="d3b" x2="0" y2="1"><stop offset=".013" stop-color="#6f6f6f"/><stop offset=".034" stop-color="#6f6f6f"/><stop offset=".047" stop-color="#6f6f6f"/><stop offset=".06" stop-color="#717171"/><stop offset=".101" stop-color="#757575"/><stop offset=".222" stop-color="#797979"/><stop offset=".275" stop-color="#7b7b7b"/><stop offset=".316" stop-color="#7f7f7f"/><stop offset=".436" stop-color="#868686"/><stop offset=".504" stop-color="#888888"/><stop offset=".517" stop-color="#898989"/><stop offset=".571" stop-color="#8d8d8d"/><stop offset=".651" stop-color="#949494"/><stop offset=".745" stop-color="#959595"/><stop offset=".906" stop-color="#9e9e9e"/><stop offset="1" stop-color="#a2a2a2"/></linearGradient><linearGradient id="d4b" x2="0" y2="1"><stop offset=".012" stop-color="#6f6f6f"/><stop offset=".031" stop-color="#6f6f6f"/><stop offset=".043" stop-color="#6f6f6f"/><stop offset=".055" stop-color="#6f6f6f"/><stop offset=".092" stop-color="#737373"/><stop offset=".203" stop-color="#787878"/><stop offset=".252" stop-color="#7a7a7a"/><stop offset=".289" stop-color="#7e7e7e"/><stop offset=".399" stop-color="#858585"/><stop offset=".46" stop-color="#888888"/><stop offset=".473" stop-color="#898989"/><stop offset=".522" stop-color="#8c8c8c"/><stop offset=".596" stop-color="#919191"/><stop offset=".681" stop-color="#979797"/><stop offset=".829" stop-color="#9e9e9e"/><stop offset="1" stop-color="#a6a6a6"/></linearGradient><linearGradient id="d5b" x2="0" y2="1"><stop offset=".011" stop-color="#6d6d6d"/><stop offset=".029" stop-color="#6f6f6f"/><stop offset=".04" stop-color="#6f6f6f"/><stop offset=".052" stop-color="#707070"/><stop offset=".086" stop-color="#6f6f6f"/><stop offset=".19" stop-color="#787878"/><stop offset=".236" stop-color="#7a7a7a"/><stop offset=".27" stop-color="#7a7a7a"/><stop offset=".374" stop-color="#858585"/><stop offset=".431" stop-color="#888888"/><stop offset=".442" stop-color="#898989"/><stop offset=".488" stop-color="#8d8d8d"/><stop offset=".557" stop-color="#919191"/><stop offset=".638" stop-color="#979797"/><stop offset=".776" stop-color="#9e9e9e"/><stop offset=".983" stop-color="#a9a9a9"/><stop offset="1" stop-color="#aaaaaa"/></linearGradient><linearGradient id="d6b" x2="0" y2="1"><stop offset=".011" stop-color="#6b6b6b"/><stop offset=".027" stop-color="#6c6c6c"/><stop offset=".038" stop-color="#6d6d6d"/><stop offset=".049" stop-color="#6d6d6d"/><stop offset=".082" stop-color="#6f6f6f"/><stop offset=".181" stop-color="#757575"/><stop offset=".225" stop-color="#797979"/><stop offset=".258" stop-color="#7b7b7b"/><stop offset=".356" stop-color="#828282"/><stop offset=".411" stop-color="#878787"/><stop offset=".422" stop-color="#888888"/><stop offset=".466" stop-color="#8b8b8b"/><stop offset=".532" stop-color="#909090"/><stop offset=".608" stop-color="#959595"/><stop offset=".74" stop-color="#9f9f9f"/><stop offset=".937" stop-color="#aaaaaa"/><stop offset="1" stop-color="#acacac"/></linearGradient><linearGradient id="d7b" x2="0" y2="1"><stop offset=".011" stop-color="#686868"/><stop offset=".026" stop-color="#696969"/><stop offset=".037" stop-color="#6a6a6a"/><stop offset=".047" stop-color="#6b6b6b"/><stop offset=".079" stop-color="#6e6e6e"/><stop offset=".173" stop-color="#757575"/><stop offset=".215" stop-color="#787878"/><stop offset=".247" stop-color="#7a7a7a"/><stop offset=".341" stop-color="#828282"/><stop offset=".394" stop-color="#868686"/><stop offset=".404" stop-color="#868686"/><stop offset=".446" stop-color="#898989"/><stop offset=".509" stop-color="#8e8e8e"/><stop offset=".583" stop-color="#949494"/><stop offset=".709" stop-color="#9e9e9e"/><stop offset=".898" stop-color="#aaaaaa"/><stop offset=".993" stop-color="#aeaeae"/><stop offset="1" stop-color="#aeaeae"/></linearGradient><linearGradient id="d8b" x2="0" y2="1"><stop offset=".01" stop-color="#686868"/><stop offset=".025" stop-color="#686868"/><stop offset=".036" stop-color="#686868"/><stop offset=".046" stop-color="#696969"/><stop offset=".076" stop-color="#6b6b6b"/><stop offset=".168" stop-color="#727272"/><stop offset=".209" stop-color="#757575"/><stop offset=".24" stop-color="#787878"/><stop offset=".331" stop-color="#7f7f7f"/><stop offset=".382" stop-color="#838383"/><stop offset=".393" stop-color="#848484"/><stop offset=".433" stop-color="#888888"/><stop offset=".495" stop-color="#8d8d8d"/><stop offset=".566" stop-color="#929292"/><stop offset=".688" stop-color="#9d9d9d"/><stop offset=".872" stop-color="#ababab"/><stop offset=".964" stop-color="#aeaeae"/><stop offset="1" stop-color="#b0b0b0"/></linearGradient><linearGradient id="d9b" x2="0" y2="1"><stop offset=".01" stop-color="#636363"/><stop offset=".025" stop-color="#666666"/><stop offset=".034" stop-color="#666666"/><stop offset=".044" stop-color="#686868"/><stop offset=".074" stop-color="#686868"/><stop offset=".162" stop-color="#707070"/><stop offset=".202" stop-color="#737373"/><stop offset=".231" stop-color="#757575"/><stop offset=".32" stop-color="#7d7d7d"/><stop offset=".369" stop-color="#828282"/><stop offset=".379" stop-color="#838383"/><stop offset=".418" stop-color="#868686"/><stop offset=".477" stop-color="#8b8b8b"/><stop offset=".546" stop-color="#929292"/><stop offset=".664" stop-color="#9b9b9b"/><stop offset=".841" stop-color="#ababab"/><stop offset=".929" stop-color="#b0b0b0"/><stop offset="1" stop-color="#b2b2b2"/></linearGradient><linearGradient id="d10b" x2="0" y2="1"><stop offset=".01" stop-color="#606060"/><stop offset=".024" stop-color="#616161"/><stop offset=".034" stop-color="#626262"/><stop offset=".043" stop-color="#626262"/><stop offset=".072" stop-color="#686868"/><stop offset=".158" stop-color="#6e6e6e"/><stop offset=".197" stop-color="#717171"/><stop offset=".225" stop-color="#747474"/><stop offset=".312" stop-color="#7c7c7c"/><stop offset=".36" stop-color="#808080"/><stop offset=".369" stop-color="#818181"/><stop offset=".407" stop-color="#858585"/><stop offset=".465" stop-color="#8a8a8a"/><stop offset=".532" stop-color="#909090"/><stop offset=".647" stop-color="#9b9b9b"/><stop offset=".82" stop-color="#ababab"/><stop offset=".906" stop-color="#b0b0b0"/><stop offset="1" stop-color="#b4b4b4"/></linearGradient><linearGradient id="d11b" x2="0" y2="1"><stop offset=".009" stop-color="#5e5e5e"/><stop offset=".023" stop-color="#616161"/><stop offset=".033" stop-color="#616161"/><stop offset=".042" stop-color="#616161"/><stop offset=".07" stop-color="#636363"/><stop offset=".155" stop-color="#6b6b6b"/><stop offset=".192" stop-color="#6f6f6f"/><stop offset=".22" stop-color="#717171"/><stop offset=".304" stop-color="#7a7a7a"/><stop offset=".351" stop-color="#7f7f7f"/><stop offset=".361" stop-color="#808080"/><stop offset=".398" stop-color="#838383"/><stop offset=".454" stop-color="#898989"/><stop offset=".52" stop-color="#8f8f8f"/><stop offset=".632" stop-color="#9a9a9a"/><stop offset=".801" stop-color="#a9a9a9"/><stop offset=".885" stop-color="#b2b2b2"/><stop offset="1" stop-color="#b4b4b4"/></linearGradient><linearGradient id="d12b" x2="0" y2="1"><stop offset=".009" stop-color="#5b5b5b"/><stop offset=".023" stop-color="#5a5a5a"/><stop offset=".032" stop-color="#5a5a5a"/><stop offset=".041" stop-color="#5d5d5d"/><stop offset=".069" stop-color="#606060"/><stop offset=".151" stop-color="#686868"/><stop offset=".188" stop-color="#6c6c6c"/><stop offset=".216" stop-color="#707070"/><stop offset=".298" stop-color="#787878"/><stop offset=".344" stop-color="#7d7d7d"/><stop offset=".353" stop-color="#7d7d7d"/><stop offset=".39" stop-color="#828282"/><stop offset=".445" stop-color="#878787"/><stop offset=".509" stop-color="#8e8e8e"/><stop offset=".619" stop-color="#999999"/><stop offset=".784" stop-color="#a9a9a9"/><stop offset=".867" stop-color="#b0b0b0"/><stop offset="1" stop-color="#b6b6b6"/></linearGradient><linearGradient id="d13b" x2="0" y2="1"><stop offset=".009" stop-color="#545454"/><stop offset=".022" stop-color="#575757"/><stop offset=".031" stop-color="#585858"/><stop offset=".04" stop-color="#595959"/><stop offset=".067" stop-color="#5c5c5c"/><stop offset=".148" stop-color="#656565"/><stop offset=".184" stop-color="#6a6a6a"/><stop offset=".211" stop-color="#6d6d6d"/><stop offset=".292" stop-color="#767676"/><stop offset=".337" stop-color="#7b7b7b"/><stop offset=".346" stop-color="#7d7d7d"/><stop offset=".382" stop-color="#808080"/><stop offset=".436" stop-color="#868686"/><stop offset=".499" stop-color="#8d8d8d"/><stop offset=".607" stop-color="#979797"/><stop offset=".769" stop-color="#a8a8a8"/><stop offset=".85" stop-color="#b0b0b0"/><stop offset=".985" stop-color="#b8b8b8"/><stop offset="1" stop-color="#b8b8b8"/></linearGradient><linearGradient id="d14b" x2="0" y2="1"><stop offset=".009" stop-color="#505050"/><stop offset=".022" stop-color="#505050"/><stop offset=".031" stop-color="#515151"/><stop offset=".04" stop-color="#525252"/><stop offset=".066" stop-color="#565656"/><stop offset=".146" stop-color="#626262"/><stop offset=".181" stop-color="#676767"/><stop offset=".208" stop-color="#6a6a6a"/><stop offset=".287" stop-color="#757575"/><stop offset=".331" stop-color="#7a7a7a"/><stop offset=".34" stop-color="#7a7a7a"/><stop offset=".375" stop-color="#7f7f7f"/><stop offset=".428" stop-color="#858585"/><stop offset=".49" stop-color="#8b8b8b"/><stop offset=".596" stop-color="#979797"/><stop offset=".755" stop-color="#a7a7a7"/><stop offset=".835" stop-color="#afafaf"/><stop offset=".967" stop-color="#b8b8b8"/><stop offset="1" stop-color="#b9b9b9"/></linearGradient><linearGradient id="d15b" x2="0" y2="1"><stop offset=".009" stop-color="#3e3e3e"/><stop offset=".022" stop-color="#464646"/><stop offset=".031" stop-color="#494949"/><stop offset=".039" stop-color="#4b4b4b"/><stop offset=".065" stop-color="#505050"/><stop offset=".144" stop-color="#5f5f5f"/><stop offset=".179" stop-color="#646464"/><stop offset=".205" stop-color="#686868"/><stop offset=".284" stop-color="#727272"/><stop offset=".327" stop-color="#787878"/><stop offset=".336" stop-color="#797979"/><stop offset=".371" stop-color="#7d7d7d"/><stop offset=".423" stop-color="#838383"/><stop offset=".485" stop-color="#8a8a8a"/><stop offset=".589" stop-color="#969696"/><stop offset=".746" stop-color="#a6a6a6"/><stop offset=".825" stop-color="#afafaf"/><stop offset=".956" stop-color="#b9b9b9"/><stop offset="1" stop-color="#bababa"/></linearGradient><linearGradient id="d16b" x2="0" y2="1"><stop offset=".009" stop-color="#333333"/><stop offset=".021" stop-color="#3b3b3b"/><stop offset=".03" stop-color="#3e3e3e"/><stop offset=".039" stop-color="#424242"/><stop offset=".064" stop-color="#4c4c4c"/><stop offset=".142" stop-color="#5d5d5d"/><stop offset=".176" stop-color="#636363"/><stop offset=".202" stop-color="#676767"/><stop offset=".279" stop-color="#717171"/><stop offset=".322" stop-color="#767676"/><stop offset=".331" stop-color="#787878"/><stop offset=".365" stop-color="#7c7c7c"/><stop offset=".417" stop-color="#828282"/><stop offset=".477" stop-color="#898989"/><stop offset=".58" stop-color="#949494"/><stop offset=".734" stop-color="#a6a6a6"/><stop offset=".812" stop-color="#aeaeae"/><stop offset=".941" stop-color="#b9b9b9"/><stop offset="1" stop-color="#bbbbbb"/></linearGradient><linearGradient id="d17b" x2="0" y2="1"><stop offset=".008" stop-color="#2e2e2e"/><stop offset=".021" stop-color="#353535"/><stop offset=".03" stop-color="#3b3b3b"/><stop offset=".038" stop-color="#3e3e3e"/><stop offset=".063" stop-color="#484848"/><stop offset=".14" stop-color="#5b5b5b"/><stop offset=".174" stop-color="#606060"/><stop offset=".199" stop-color="#646464"/><stop offset=".275" stop-color="#6f6f6f"/><stop offset=".317" stop-color="#757575"/><stop offset=".326" stop-color="#767676"/><stop offset=".36" stop-color="#7a7a7a"/><stop offset=".411" stop-color="#818181"/><stop offset=".47" stop-color="#888888"/><stop offset=".571" stop-color="#949494"/><stop offset=".724" stop-color="#a5a5a5"/><stop offset=".8" stop-color="#adadad"/><stop offset=".927" stop-color="#bbbbbb"/><stop offset="1" stop-color="#bcbcbc"/></linearGradient><linearGradient id="d18b" x2="0" y2="1"><stop offset=".008" stop-color="#2e2e2e"/><stop offset=".021" stop-color="#363636"/><stop offset=".029" stop-color="#3a3a3a"/><stop offset=".038" stop-color="#3e3e3e"/><stop offset=".063" stop-color="#474747"/><stop offset=".138" stop-color="#595959"/><stop offset=".172" stop-color="#5f5f5f"/><stop offset=".197" stop-color="#636363"/><stop offset=".273" stop-color="#6e6e6e"/><stop offset=".315" stop-color="#737373"/><stop offset=".323" stop-color="#747474"/><stop offset=".357" stop-color="#797979"/><stop offset=".407" stop-color="#7f7f7f"/><stop offset=".466" stop-color="#868686"/><stop offset=".566" stop-color="#939393"/><stop offset=".717" stop-color="#a4a4a4"/><stop offset=".793" stop-color="#acacac"/><stop offset=".919" stop-color="#bababa"/><stop offset="1" stop-color="#bcbcbc"/></linearGradient><linearGradient id="d19b" x2="0" y2="1"><stop offset=".008" stop-color="#353535"/><stop offset=".021" stop-color="#3b3b3b"/><stop offset=".029" stop-color="#3e3e3e"/><stop offset=".037" stop-color="#424242"/><stop offset=".062" stop-color="#494949"/><stop offset=".137" stop-color="#585858"/><stop offset=".17" stop-color="#5e5e5e"/><stop offset=".195" stop-color="#616161"/><stop offset=".269" stop-color="#6c6c6c"/><stop offset=".311" stop-color="#727272"/><stop offset=".319" stop-color="#737373"/><stop offset=".352" stop-color="#777777"/><stop offset=".402" stop-color="#7e7e7e"/><stop offset=".46" stop-color="#868686"/><stop offset=".559" stop-color="#929292"/><stop offset=".709" stop-color="#a3a3a3"/><stop offset=".783" stop-color="#acacac"/><stop offset=".907" stop-color="#bababa"/><stop offset="1" stop-color="#bdbdbd"/></linearGradient><linearGradient id="d20b" x2="0" y2="1"><stop offset=".008" stop-color="#3f3f3f"/><stop offset=".021" stop-color="#434343"/><stop offset=".029" stop-color="#464646"/><stop offset=".037" stop-color="#484848"/><stop offset=".062" stop-color="#4d4d4d"/><stop offset=".136" stop-color="#585858"/><stop offset=".169" stop-color="#5c5c5c"/><stop offset=".193" stop-color="#616161"/><stop offset=".267" stop-color="#6b6b6b"/><stop offset=".309" stop-color="#717171"/><stop offset=".317" stop-color="#727272"/><stop offset=".35" stop-color="#777777"/><stop offset=".399" stop-color="#7d7d7d"/><stop offset=".457" stop-color="#848484"/><stop offset=".555" stop-color="#919191"/><stop offset=".703" stop-color="#a3a3a3"/><stop offset=".777" stop-color="#acacac"/><stop offset=".901" stop-color="#b9b9b9"/><stop offset="1" stop-color="#bebebe"/></linearGradient><linearGradient id="d21b" x2="0" y2="1"><stop offset=".008" stop-color="#4b4b4b"/><stop offset=".02" stop-color="#4b4b4b"/><stop offset=".029" stop-color="#4c4c4c"/><stop offset=".037" stop-color="#4c4c4c"/><stop offset=".061" stop-color="#4f4f4f"/><stop offset=".134" stop-color="#575757"/><stop offset=".167" stop-color="#5c5c5c"/><stop offset=".191" stop-color="#5f5f5f"/><stop offset=".265" stop-color="#6a6a6a"/><stop offset=".305" stop-color="#6f6f6f"/><stop offset=".314" stop-color="#717171"/><stop offset=".346" stop-color="#757575"/><stop offset=".395" stop-color="#7c7c7c"/><stop offset=".452" stop-color="#848484"/><stop offset=".55" stop-color="#909090"/><stop offset=".697" stop-color="#a2a2a2"/><stop offset=".77" stop-color="#aaaaaa"/><stop offset=".892" stop-color="#b8b8b8"/><stop offset=".998" stop-color="#bebebe"/><stop offset="1" stop-color="#bfbfbf"/></linearGradient><linearGradient id="d22b" x2="0" y2="1"><stop offset=".008" stop-color="#4e4e4e"/><stop offset=".02" stop-color="#4e4e4e"/><stop offset=".028" stop-color="#505050"/><stop offset=".036" stop-color="#515151"/><stop offset=".061" stop-color="#515151"/><stop offset=".134" stop-color="#565656"/><stop offset=".166" stop-color="#5a5a5a"/><stop offset=".19" stop-color="#5d5d5d"/><stop offset=".263" stop-color="#686868"/><stop offset=".304" stop-color="#6e6e6e"/><stop offset=".312" stop-color="#6f6f6f"/><stop offset=".344" stop-color="#737373"/><stop offset=".393" stop-color="#7a7a7a"/><stop offset=".449" stop-color="#828282"/><stop offset=".547" stop-color="#8f8f8f"/><stop offset=".692" stop-color="#a1a1a1"/><stop offset=".765" stop-color="#aaaaaa"/><stop offset=".887" stop-color="#b9b9b9"/><stop offset=".992" stop-color="#c0c0c0"/><stop offset="1" stop-color="#bfbfbf"/></linearGradient><linearGradient id="d23b" x2="0" y2="1"><stop offset=".008" stop-color="#505050"/><stop offset=".02" stop-color="#525252"/><stop offset=".028" stop-color="#515151"/><stop offset=".036" stop-color="#515151"/><stop offset=".06" stop-color="#525252"/><stop offset=".133" stop-color="#555555"/><stop offset=".165" stop-color="#595959"/><stop offset=".189" stop-color="#5d5d5d"/><stop offset=".261" stop-color="#676767"/><stop offset=".301" stop-color="#6d6d6d"/><stop offset=".309" stop-color="#6e6e6e"/><stop offset=".342" stop-color="#737373"/><stop offset=".39" stop-color="#7a7a7a"/><stop offset=".446" stop-color="#828282"/><stop offset=".542" stop-color="#8e8e8e"/><stop offset=".687" stop-color="#a1a1a1"/><stop offset=".759" stop-color="#aaaaaa"/><stop offset=".88" stop-color="#b7b7b7"/><stop offset=".984" stop-color="#c0c0c0"/><stop offset="1" stop-color="#c0c0c0"/></linearGradient><linearGradient id="d24b" x2="0" y2="1"><stop offset=".008" stop-color="#505050"/><stop offset=".02" stop-color="#4f4f4f"/><stop offset=".028" stop-color="#4f4f4f"/><stop offset=".036" stop-color="#4f4f4f"/><stop offset=".06" stop-color="#4f4f4f"/><stop offset=".132" stop-color="#545454"/><stop offset=".164" stop-color="#575757"/><stop offset=".188" stop-color="#5a5a5a"/><stop offset=".26" stop-color="#656565"/><stop offset=".3" stop-color="#6c6c6c"/><stop offset=".308" stop-color="#6d6d6d"/><stop offset=".34" stop-color="#727272"/><stop offset=".388" stop-color="#797979"/><stop offset=".444" stop-color="#808080"/><stop offset=".54" stop-color="#8e8e8e"/><stop offset=".684" stop-color="#a0a0a0"/><stop offset=".756" stop-color="#a9a9a9"/><stop offset=".876" stop-color="#b8b8b8"/><stop offset=".98" stop-color="#c0c0c0"/><stop offset="1" stop-color="#c0c0c0"/></linearGradient><linearGradient id="d25b" x2="0" y2="1"><stop offset=".008" stop-color="#2b2b2b"/><stop offset=".02" stop-color="#383838"/><stop offset=".028" stop-color="#424242"/><stop offset=".036" stop-color="#464646"/><stop offset=".06" stop-color="#494949"/><stop offset=".131" stop-color="#505050"/><stop offset=".163" stop-color="#565656"/><stop offset=".187" stop-color="#595959"/><stop offset=".259" stop-color="#656565"/><stop offset=".299" stop-color="#6a6a6a"/><stop offset=".307" stop-color="#6b6b6b"/><stop offset=".339" stop-color="#707070"/><stop offset=".386" stop-color="#777777"/><stop offset=".442" stop-color="#808080"/><stop offset=".538" stop-color="#8d8d8d"/><stop offset=".681" stop-color="#a0a0a0"/><stop offset=".753" stop-color="#a8a8a8"/><stop offset=".872" stop-color="#b7b7b7"/><stop offset=".976" stop-color="#c0c0c0"/><stop offset="1" stop-color="#c1c1c1"/></linearGradient><linearGradient id="d26b" x2="0" y2="1"><stop offset=".008" stop-color="#1d1d1d"/><stop offset=".02" stop-color="#2f2f2f"/><stop offset=".028" stop-color="#303030"/><stop offset=".036" stop-color="#363636"/><stop offset=".059" stop-color="#414141"/><stop offset=".131" stop-color="#4e4e4e"/><stop offset=".163" stop-color="#535353"/><stop offset=".186" stop-color="#575757"/><stop offset=".258" stop-color="#636363"/><stop offset=".297" stop-color="#696969"/><stop offset=".305" stop-color="#6b6b6b"/><stop offset=".337" stop-color="#707070"/><stop offset=".385" stop-color="#777777"/><stop offset=".44" stop-color="#7f7f7f"/><stop offset=".535" stop-color="#8c8c8c"/><stop offset=".678" stop-color="#9f9f9f"/><stop offset=".749" stop-color="#a8a8a8"/><stop offset=".868" stop-color="#b6b6b6"/><stop offset=".971" stop-color="#c1c1c1"/><stop offset="1" stop-color="#c1c1c1"/></linearGradient><linearGradient id="d27b" x2="0" y2="1"><stop offset=".008" stop-color="#1e1e1e"/><stop offset=".02" stop-color="#262626"/><stop offset=".028" stop-color="#2e2e2e"/><stop offset=".036" stop-color="#303030"/><stop offset=".059" stop-color="#3a3a3a"/><stop offset=".13" stop-color="#4c4c4c"/><stop offset=".162" stop-color="#515151"/><stop offset=".186" stop-color="#565656"/><stop offset=".257" stop-color="#616161"/><stop offset=".297" stop-color="#696969"/><stop offset=".304" stop-color="#6a6a6a"/><stop offset=".336" stop-color="#6f6f6f"/><stop offset=".384" stop-color="#767676"/><stop offset=".439" stop-color="#7e7e7e"/><stop offset=".534" stop-color="#8b8b8b"/><stop offset=".676" stop-color="#9e9e9e"/><stop offset=".747" stop-color="#a8a8a8"/><stop offset=".866" stop-color="#b6b6b6"/><stop offset=".969" stop-color="#c1c1c1"/><stop offset="1" stop-color="#c1c1c1"/></linearGradient><linearGradient id="d28b" x2="0" y2="1"><stop offset=".008" stop-color="#1f1f1f"/><stop offset=".02" stop-color="#252525"/><stop offset=".028" stop-color="#292929"/><stop offset=".036" stop-color="#2e2e2e"/><stop offset=".059" stop-color="#373737"/><stop offset=".13" stop-color="#494949"/><stop offset=".162" stop-color="#505050"/><stop offset=".185" stop-color="#545454"/><stop offset=".257" stop-color="#616161"/><stop offset=".296" stop-color="#676767"/><stop offset=".304" stop-color="#696969"/><stop offset=".335" stop-color="#6e6e6e"/><stop offset=".383" stop-color="#757575"/><stop offset=".438" stop-color="#7e7e7e"/><stop offset=".533" stop-color="#8c8c8c"/><stop offset=".675" stop-color="#9e9e9e"/><stop offset=".746" stop-color="#a7a7a7"/><stop offset=".864" stop-color="#b6b6b6"/><stop offset=".967" stop-color="#c1c1c1"/><stop offset="1" stop-color="#c1c1c1"/></linearGradient><linearGradient id="d29b" x2="0" y2="1"><stop offset=".008" stop-color="#222222"/><stop offset=".02" stop-color="#272727"/><stop offset=".028" stop-color="#2a2a2a"/><stop offset=".035" stop-color="#2c2c2c"/><stop offset=".059" stop-color="#353535"/><stop offset=".13" stop-color="#484848"/><stop offset=".161" stop-color="#4e4e4e"/><stop offset=".185" stop-color="#535353"/><stop offset=".256" stop-color="#606060"/><stop offset=".295" stop-color="#676767"/><stop offset=".303" stop-color="#676767"/><stop offset=".335" stop-color="#6d6d6d"/><stop offset=".382" stop-color="#757575"/><stop offset=".437" stop-color="#7d7d7d"/><stop offset=".532" stop-color="#8a8a8a"/><stop offset=".673" stop-color="#9e9e9e"/><stop offset=".744" stop-color="#a7a7a7"/><stop offset=".863" stop-color="#b5b5b5"/><stop offset=".965" stop-color="#c1c1c1"/><stop offset="1" stop-color="#c1c1c1"/></linearGradient><linearGradient id="d30b" x2="0" y2="1"><stop offset=".008" stop-color="#232323"/><stop offset=".02" stop-color="#262626"/><stop offset=".028" stop-color="#292929"/><stop offset=".035" stop-color="#2b2b2b"/><stop offset=".059" stop-color="#333333"/><stop offset=".13" stop-color="#454545"/><stop offset=".161" stop-color="#4d4d4d"/><stop offset=".185" stop-color="#525252"/><stop offset=".256" stop-color="#5f5f5f"/><stop offset=".295" stop-color="#666666"/><stop offset=".303" stop-color="#686868"/><stop offset=".334" stop-color="#6c6c6c"/><stop offset=".382" stop-color="#747474"/><stop offset=".437" stop-color="#7c7c7c"/><stop offset=".531" stop-color="#8a8a8a"/><stop offset=".673" stop-color="#9d9d9d"/><stop offset=".744" stop-color="#a6a6a6"/><stop offset=".862" stop-color="#b5b5b5"/><stop offset=".964" stop-color="#c1c1c1"/><stop offset="1" stop-color="#c1c1c1"/></linearGradient><linearGradient id="d31b" x2="0" y2="1"><stop offset=".008" stop-color="#232323"/><stop offset=".02" stop-color="#272727"/><stop offset=".028" stop-color="#292929"/><stop offset=".035" stop-color="#2c2c2c"/><stop offset=".059" stop-color="#323232"/><stop offset=".13" stop-color="#444444"/><stop offset=".161" stop-color="#4b4b4b"/><stop offset=".185" stop-color="#505050"/><stop offset=".256" stop-color="#5e5e5e"/><stop offset=".295" stop-color="#656565"/><stop offset=".303" stop-color="#666666"/><stop offset=".334" stop-color="#6c6c6c"/><stop offset=".381" stop-color="#737373"/><stop offset=".437" stop-color="#7c7c7c"/><stop offset=".531" stop-color="#8a8a8a"/><stop offset=".672" stop-color="#9d9d9d"/><stop offset=".743" stop-color="#a6a6a6"/><stop offset=".861" stop-color="#b5b5b5"/><stop offset=".963" stop-color="#c1c1c1"/><stop offset="1" stop-color="#c1c1c1"/></linearGradient><linearGradient id="d32b" x2="0" y2="1"><stop offset=".008" stop-color="#242424"/><stop offset=".02" stop-color="#272727"/><stop offset=".028" stop-color="#292929"/><stop offset=".035" stop-color="#2b2b2b"/><stop offset=".059" stop-color="#313131"/><stop offset=".13" stop-color="#444444"/><stop offset=".161" stop-color="#4b4b4b"/><stop offset=".185" stop-color="#505050"/><stop offset=".256" stop-color="#5e5e5e"/><stop offset=".295" stop-color="#646464"/><stop offset=".303" stop-color="#666666"/><stop offset=".334" stop-color="#6b6b6b"/><stop offset=".381" stop-color="#737373"/><stop offset=".436" stop-color="#7b7b7b"/><stop offset=".531" stop-color="#898989"/><stop offset=".672" stop-color="#9c9c9c"/><stop offset=".743" stop-color="#a5a5a5"/><stop offset=".861" stop-color="#b5b5b5"/><stop offset=".963" stop-color="#c1c1c1"/><stop offset="1" stop-color="#c1c1c1"/></linearGradient><linearGradient id="d33b" x2="0" y2="1"><stop offset=".008" stop-color="#242424"/><stop offset=".02" stop-color="#272727"/><stop offset=".028" stop-color="#292929"/><stop offset=".035" stop-color="#2b2b2b"/><stop offset=".059" stop-color="#313131"/><stop offset=".13" stop-color="#424242"/><stop offset=".161" stop-color="#494949"/><stop offset=".185" stop-color="#4e4e4e"/><stop offset=".256" stop-color="#5c5c5c"/><stop offset=".295" stop-color="#646464"/><stop offset=".303" stop-color="#656565"/><stop offset=".334" stop-color="#6b6b6b"/><stop offset=".381" stop-color="#727272"/><stop offset=".436" stop-color="#7b7b7b"/><stop offset=".531" stop-color="#888888"/><stop offset=".672" stop-color="#9c9c9c"/><stop offset=".743" stop-color="#a5a5a5"/><stop offset=".861" stop-color="#b4b4b4"/><stop offset=".963" stop-color="#c1c1c1"/><stop offset="1" stop-color="#c1c1c1"/></linearGradient><linearGradient id="d34b" x2="0" y2="1"><stop offset=".008" stop-color="#232323"/><stop offset=".02" stop-color="#262626"/><stop offset=".028" stop-color="#282828"/><stop offset=".035" stop-color="#2a2a2a"/><stop offset=".059" stop-color="#313131"/><stop offset=".13" stop-color="#434343"/><stop offset=".161" stop-color="#4a4a4a"/><stop offset=".185" stop-color="#4f4f4f"/><stop offset=".256" stop-color="#5d5d5d"/><stop offset=".295" stop-color="#646464"/><stop offset=".303" stop-color="#656565"/><stop offset=".334" stop-color="#6a6a6a"/><stop offset=".381" stop-color="#737373"/><stop offset=".436" stop-color="#7b7b7b"/><stop offset=".531" stop-color="#898989"/><stop offset=".672" stop-color="#9c9c9c"/><stop offset=".743" stop-color="#a5a5a5"/><stop offset=".861" stop-color="#b3b3b3"/><stop offset=".963" stop-color="#c0c0c0"/><stop offset="1" stop-color="#c0c0c0"/></linearGradient><linearGradient id="d35b" x2="0" y2="1"><stop offset=".008" stop-color="#242424"/><stop offset=".02" stop-color="#272727"/><stop offset=".028" stop-color="#292929"/><stop offset=".035" stop-color="#2b2b2b"/><stop offset=".059" stop-color="#313131"/><stop offset=".13" stop-color="#414141"/><stop offset=".161" stop-color="#494949"/><stop offset=".185" stop-color="#4e4e4e"/><stop offset=".256" stop-color="#5c5c5c"/><stop offset=".295" stop-color="#636363"/><stop offset=".303" stop-color="#656565"/><stop offset=".334" stop-color="#6a6a6a"/><stop offset=".381" stop-color="#717171"/><stop offset=".436" stop-color="#7a7a7a"/><stop offset=".531" stop-color="#888888"/><stop offset=".672" stop-color="#9b9b9b"/><stop offset=".743" stop-color="#a5a5a5"/><stop offset=".861" stop-color="#b4b4b4"/><stop offset=".963" stop-color="#c0c0c0"/><stop offset="1" stop-color="#c0c0c0"/></linearGradient><linearGradient id="d36b" x2="0" y2="1"><stop offset=".008" stop-color="#232323"/><stop offset=".02" stop-color="#262626"/><stop offset=".028" stop-color="#282828"/><stop offset=".035" stop-color="#2a2a2a"/><stop offset=".059" stop-color="#303030"/><stop offset=".13" stop-color="#424242"/><stop offset=".161" stop-color="#494949"/><stop offset=".185" stop-color="#4e4e4e"/><stop offset=".256" stop-color="#5c5c5c"/><stop offset=".295" stop-color="#646464"/><stop offset=".303" stop-color="#656565"/><stop offset=".334" stop-color="#6a6a6a"/><stop offset=".381" stop-color="#727272"/><stop offset=".436" stop-color="#7a7a7a"/><stop offset=".531" stop-color="#888888"/><stop offset=".672" stop-color="#9b9b9b"/><stop offset=".743" stop-color="#a4a4a4"/><stop offset=".861" stop-color="#b3b3b3"/><stop offset=".963" stop-color="#c0c0c0"/><stop offset="1" stop-color="#c0c0c0"/></linearGradient><linearGradient id="d37b" x2="0" y2="1"><stop offset=".008" stop-color="#232323"/><stop offset=".02" stop-color="#262626"/><stop offset=".028" stop-color="#292929"/><stop offset=".035" stop-color="#2b2b2b"/><stop offset=".059" stop-color="#313131"/><stop offset=".13" stop-color="#434343"/><stop offset=".161" stop-color="#494949"/><stop offset=".185" stop-color="#4f4f4f"/><stop offset=".256" stop-color="#5d5d5d"/><stop offset=".295" stop-color="#636363"/><stop offset=".303" stop-color="#646464"/><stop offset=".334" stop-color="#6a6a6a"/><stop offset=".381" stop-color="#727272"/><stop offset=".436" stop-color="#7a7a7a"/><stop offset=".531" stop-color="#878787"/><stop offset=".672" stop-color="#9b9b9b"/><stop offset=".743" stop-color="#a4a4a4"/><stop offset=".861" stop-color="#b3b3b3"/><stop offset=".963" stop-color="#c0c0c0"/><stop offset="1" stop-color="#c0c0c0"/></linearGradient><linearGradient id="d38b" x2="0" y2="1"><stop offset=".008" stop-color="#232323"/><stop offset=".02" stop-color="#262626"/><stop offset=".028" stop-color="#282828"/><stop offset=".035" stop-color="#2a2a2a"/><stop offset=".059" stop-color="#303030"/><stop offset=".13" stop-color="#424242"/><stop offset=".161" stop-color="#4a4a4a"/><stop offset=".185" stop-color="#4e4e4e"/><stop offset=".256" stop-color="#5c5c5c"/><stop offset=".295" stop-color="#646464"/><stop offset=".303" stop-color="#656565"/><stop offset=".334" stop-color="#6a6a6a"/><stop offset=".382" stop-color="#717171"/><stop offset=".437" stop-color="#7a7a7a"/><stop offset=".531" stop-color="#888888"/><stop offset=".673" stop-color="#9b9b9b"/><stop offset=".743" stop-color="#a4a4a4"/><stop offset=".861" stop-color="#b3b3b3"/><stop offset=".964" stop-color="#bebebe"/><stop offset="1" stop-color="#bfbfbf"/></linearGradient><linearGradient id="d39b" x2="0" y2="1"><stop offset=".008" stop-color="#222222"/><stop offset=".02" stop-color="#262626"/><stop offset=".028" stop-color="#282828"/><stop offset=".035" stop-color="#2a2a2a"/><stop offset=".059" stop-color="#313131"/><stop offset=".13" stop-color="#444444"/><stop offset=".161" stop-color="#4b4b4b"/><stop offset=".185" stop-color="#505050"/><stop offset=".256" stop-color="#5d5d5d"/><stop offset=".295" stop-color="#636363"/><stop offset=".303" stop-color="#656565"/><stop offset=".335" stop-color="#6b6b6b"/><stop offset=".382" stop-color="#727272"/><stop offset=".437" stop-color="#7a7a7a"/><stop offset=".532" stop-color="#878787"/><stop offset=".673" stop-color="#9a9a9a"/><stop offset=".744" stop-color="#a4a4a4"/><stop offset=".862" stop-color="#b3b3b3"/><stop offset=".965" stop-color="#bfbfbf"/><stop offset="1" stop-color="#bfbfbf"/></linearGradient><linearGradient id="d40b" x2="0" y2="1"><stop offset=".008" stop-color="#222222"/><stop offset=".02" stop-color="#252525"/><stop offset=".028" stop-color="#272727"/><stop offset=".036" stop-color="#2a2a2a"/><stop offset=".059" stop-color="#323232"/><stop offset=".13" stop-color="#444444"/><stop offset=".162" stop-color="#4b4b4b"/><stop offset=".186" stop-color="#505050"/><stop offset=".257" stop-color="#5e5e5e"/><stop offset=".296" stop-color="#656565"/><stop offset=".304" stop-color="#666666"/><stop offset=".336" stop-color="#6a6a6a"/><stop offset=".383" stop-color="#727272"/><stop offset=".439" stop-color="#7a7a7a"/><stop offset=".533" stop-color="#878787"/><stop offset=".676" stop-color="#9a9a9a"/><stop offset=".747" stop-color="#a3a3a3"/><stop offset=".865" stop-color="#b2b2b2"/><stop offset=".968" stop-color="#bdbdbd"/><stop offset="1" stop-color="#bebebe"/></linearGradient><linearGradient id="d41b" x2="0" y2="1"><stop offset=".008" stop-color="#202020"/><stop offset=".02" stop-color="#252525"/><stop offset=".028" stop-color="#282828"/><stop offset=".036" stop-color="#2b2b2b"/><stop offset=".059" stop-color="#323232"/><stop offset=".131" stop-color="#464646"/><stop offset=".163" stop-color="#4d4d4d"/><stop offset=".186" stop-color="#525252"/><stop offset=".258" stop-color="#5f5f5f"/><stop offset=".297" stop-color="#656565"/><stop offset=".305" stop-color="#666666"/><stop offset=".337" stop-color="#6b6b6b"/><stop offset=".385" stop-color="#727272"/><stop offset=".44" stop-color="#7a7a7a"/><stop offset=".535" stop-color="#888888"/><stop offset=".678" stop-color="#9a9a9a"/><stop offset=".749" stop-color="#a3a3a3"/><stop offset=".868" stop-color="#b2b2b2"/><stop offset=".971" stop-color="#bdbdbd"/><stop offset="1" stop-color="#bdbdbd"/></linearGradient><linearGradient id="d42b" x2="0" y2="1"><stop offset=".008" stop-color="#1f1f1f"/><stop offset=".02" stop-color="#242424"/><stop offset=".028" stop-color="#272727"/><stop offset=".036" stop-color="#2a2a2a"/><stop offset=".06" stop-color="#343434"/><stop offset=".131" stop-color="#484848"/><stop offset=".163" stop-color="#4f4f4f"/><stop offset=".187" stop-color="#545454"/><stop offset=".259" stop-color="#5f5f5f"/><stop offset=".298" stop-color="#656565"/><stop offset=".306" stop-color="#676767"/><stop offset=".338" stop-color="#6c6c6c"/><stop offset=".386" stop-color="#727272"/><stop offset=".442" stop-color="#7a7a7a"/><stop offset=".537" stop-color="#878787"/><stop offset=".681" stop-color="#9a9a9a"/><stop offset=".752" stop-color="#a3a3a3"/><stop offset=".872" stop-color="#b2b2b2"/><stop offset=".975" stop-color="#bcbcbc"/><stop offset="1" stop-color="#bcbcbc"/></linearGradient><linearGradient id="d43b" x2="0" y2="1"><stop offset=".008" stop-color="#1a1a1a"/><stop offset=".02" stop-color="#252525"/><stop offset=".028" stop-color="#282828"/><stop offset=".036" stop-color="#2d2d2d"/><stop offset=".06" stop-color="#383838"/><stop offset=".132" stop-color="#4b4b4b"/><stop offset=".164" stop-color="#515151"/><stop offset=".188" stop-color="#555555"/><stop offset=".261" stop-color="#616161"/><stop offset=".301" stop-color="#676767"/><stop offset=".309" stop-color="#686868"/><stop offset=".341" stop-color="#6c6c6c"/><stop offset=".389" stop-color="#737373"/><stop offset=".445" stop-color="#7b7b7b"/><stop offset=".541" stop-color="#878787"/><stop offset=".685" stop-color="#9a9a9a"/><stop offset=".758" stop-color="#a3a3a3"/><stop offset=".878" stop-color="#b2b2b2"/><stop offset=".982" stop-color="#bbbbbb"/><stop offset="1" stop-color="#bbbbbb"/></linearGradient><linearGradient id="d44b" x2="0" y2="1"><stop offset=".008" stop-color="#282828"/><stop offset=".02" stop-color="#282828"/><stop offset=".028" stop-color="#282828"/><stop offset=".036" stop-color="#323232"/><stop offset=".06" stop-color="#3d3d3d"/><stop offset=".133" stop-color="#4d4d4d"/><stop offset=".165" stop-color="#535353"/><stop offset=".189" stop-color="#575757"/><stop offset=".262" stop-color="#616161"/><stop offset=".302" stop-color="#676767"/><stop offset=".31" stop-color="#686868"/><stop offset=".343" stop-color="#6d6d6d"/><stop offset=".391" stop-color="#737373"/><stop offset=".447" stop-color="#7b7b7b"/><stop offset=".544" stop-color="#878787"/><stop offset=".689" stop-color="#9a9a9a"/><stop offset=".762" stop-color="#a3a3a3"/><stop offset=".883" stop-color="#b2b2b2"/><stop offset=".987" stop-color="#bababa"/><stop offset="1" stop-color="#bababa"/></linearGradient><linearGradient id="d45b" x2="0" y2="1"><stop offset=".008" stop-color="#282828"/><stop offset=".02" stop-color="#282828"/><stop offset=".028" stop-color="#323232"/><stop offset=".037" stop-color="#3b3b3b"/><stop offset=".061" stop-color="#414141"/><stop offset=".134" stop-color="#505050"/><stop offset=".167" stop-color="#555555"/><stop offset=".191" stop-color="#585858"/><stop offset=".264" stop-color="#636363"/><stop offset=".305" stop-color="#686868"/><stop offset=".313" stop-color="#696969"/><stop offset=".346" stop-color="#6d6d6d"/><stop offset=".394" stop-color="#747474"/><stop offset=".451" stop-color="#7a7a7a"/><stop offset=".549" stop-color="#888888"/><stop offset=".695" stop-color="#999999"/><stop offset=".769" stop-color="#a3a3a3"/><stop offset=".891" stop-color="#b1b1b1"/><stop offset=".996" stop-color="#b9b9b9"/><stop offset="1" stop-color="#b9b9b9"/></linearGradient><linearGradient id="d46b" x2="0" y2="1"><stop offset=".008" stop-color="#252525"/><stop offset=".02" stop-color="#3b3b3b"/><stop offset=".029" stop-color="#404040"/><stop offset=".037" stop-color="#424242"/><stop offset=".061" stop-color="#4b4b4b"/><stop offset=".135" stop-color="#545454"/><stop offset=".168" stop-color="#585858"/><stop offset=".192" stop-color="#5b5b5b"/><stop offset=".266" stop-color="#646464"/><stop offset=".307" stop-color="#696969"/><stop offset=".315" stop-color="#6a6a6a"/><stop offset=".348" stop-color="#6e6e6e"/><stop offset=".397" stop-color="#747474"/><stop offset=".454" stop-color="#7b7b7b"/><stop offset=".552" stop-color="#878787"/><stop offset=".7" stop-color="#9a9a9a"/><stop offset=".773" stop-color="#a2a2a2"/><stop offset=".896" stop-color="#b2b2b2"/><stop offset="1" stop-color="#b8b8b8"/></linearGradient><linearGradient id="d47b" x2="0" y2="1"><stop offset=".008" stop-color="#434343"/><stop offset=".021" stop-color="#494949"/><stop offset=".029" stop-color="#494949"/><stop offset=".037" stop-color="#4d4d4d"/><stop offset=".062" stop-color="#4f4f4f"/><stop offset=".136" stop-color="#585858"/><stop offset=".17" stop-color="#5b5b5b"/><stop offset=".194" stop-color="#5e5e5e"/><stop offset=".269" stop-color="#656565"/><stop offset=".31" stop-color="#696969"/><stop offset=".318" stop-color="#6a6a6a"/><stop offset=".351" stop-color="#6e6e6e"/><stop offset=".401" stop-color="#747474"/><stop offset=".459" stop-color="#7b7b7b"/><stop offset=".558" stop-color="#878787"/><stop offset=".707" stop-color="#999999"/><stop offset=".781" stop-color="#a3a3a3"/><stop offset=".906" stop-color="#b1b1b1"/><stop offset="1" stop-color="#b6b6b6"/></linearGradient><linearGradient id="d48b" x2="0" y2="1"><stop offset=".008" stop-color="#4d4d4d"/><stop offset=".021" stop-color="#4d4d4d"/><stop offset=".029" stop-color="#505050"/><stop offset=".037" stop-color="#515151"/><stop offset=".062" stop-color="#545454"/><stop offset=".137" stop-color="#5c5c5c"/><stop offset=".171" stop-color="#5e5e5e"/><stop offset=".196" stop-color="#5f5f5f"/><stop offset=".271" stop-color="#666666"/><stop offset=".312" stop-color="#6b6b6b"/><stop offset=".321" stop-color="#6c6c6c"/><stop offset=".354" stop-color="#6f6f6f"/><stop offset=".404" stop-color="#757575"/><stop offset=".462" stop-color="#7c7c7c"/><stop offset=".562" stop-color="#888888"/><stop offset=".712" stop-color="#9a9a9a"/><stop offset=".787" stop-color="#a2a2a2"/><stop offset=".912" stop-color="#b1b1b1"/><stop offset="1" stop-color="#b5b5b5"/></linearGradient><linearGradient id="d49b" x2="0" y2="1"><stop offset=".008" stop-color="#545454"/><stop offset=".021" stop-color="#545454"/><stop offset=".029" stop-color="#545454"/><stop offset=".038" stop-color="#545454"/><stop offset=".063" stop-color="#585858"/><stop offset=".139" stop-color="#5f5f5f"/><stop offset=".173" stop-color="#606060"/><stop offset=".198" stop-color="#626262"/><stop offset=".274" stop-color="#676767"/><stop offset=".316" stop-color="#6b6b6b"/><stop offset=".324" stop-color="#6c6c6c"/><stop offset=".358" stop-color="#6f6f6f"/><stop offset=".409" stop-color="#747474"/><stop offset=".468" stop-color="#7b7b7b"/><stop offset=".569" stop-color="#878787"/><stop offset=".721" stop-color="#999999"/><stop offset=".796" stop-color="#a2a2a2"/><stop offset=".923" stop-color="#b0b0b0"/><stop offset="1" stop-color="#b3b3b3"/></linearGradient><linearGradient id="d50b" x2="0" y2="1"><stop offset=".008" stop-color="#545454"/><stop offset=".021" stop-color="#595959"/><stop offset=".03" stop-color="#5a5a5a"/><stop offset=".038" stop-color="#5c5c5c"/><stop offset=".064" stop-color="#5d5d5d"/><stop offset=".14" stop-color="#616161"/><stop offset=".174" stop-color="#636363"/><stop offset=".2" stop-color="#646464"/><stop offset=".276" stop-color="#686868"/><stop offset=".319" stop-color="#6c6c6c"/><stop offset=".327" stop-color="#6c6c6c"/><stop offset=".361" stop-color="#707070"/><stop offset=".412" stop-color="#767676"/><stop offset=".472" stop-color="#7c7c7c"/><stop offset=".574" stop-color="#878787"/><stop offset=".726" stop-color="#9a9a9a"/><stop offset=".803" stop-color="#a2a2a2"/><stop offset=".93" stop-color="#b1b1b1"/><stop offset="1" stop-color="#b2b2b2"/></linearGradient><linearGradient id="d51b" x2="0" y2="1"><stop offset=".009" stop-color="#5d5d5d"/><stop offset=".022" stop-color="#5c5c5c"/><stop offset=".03" stop-color="#5e5e5e"/><stop offset=".039" stop-color="#5e5e5e"/><stop offset=".065" stop-color="#616161"/><stop offset=".142" stop-color="#646464"/><stop offset=".176" stop-color="#656565"/><stop offset=".202" stop-color="#656565"/><stop offset=".28" stop-color="#696969"/><stop offset=".323" stop-color="#6c6c6c"/><stop offset=".331" stop-color="#6d6d6d"/><stop offset=".366" stop-color="#707070"/><stop offset=".417" stop-color="#757575"/><stop offset=".477" stop-color="#7c7c7c"/><stop offset=".581" stop-color="#888888"/><stop offset=".736" stop-color="#999999"/><stop offset=".813" stop-color="#a2a2a2"/><stop offset=".942" stop-color="#b0b0b0"/><stop offset="1" stop-color="#b1b1b1"/></linearGradient><linearGradient id="d52b" x2="0" y2="1"><stop offset=".009" stop-color="#606060"/><stop offset=".022" stop-color="#626262"/><stop offset=".03" stop-color="#626262"/><stop offset=".039" stop-color="#646464"/><stop offset=".065" stop-color="#646464"/><stop offset=".143" stop-color="#666666"/><stop offset=".178" stop-color="#666666"/><stop offset=".204" stop-color="#656565"/><stop offset=".282" stop-color="#696969"/><stop offset=".325" stop-color="#6c6c6c"/><stop offset=".334" stop-color="#6d6d6d"/><stop offset=".368" stop-color="#717171"/><stop offset=".42" stop-color="#757575"/><stop offset=".481" stop-color="#7c7c7c"/><stop offset=".585" stop-color="#878787"/><stop offset=".741" stop-color="#999999"/><stop offset=".819" stop-color="#a3a3a3"/><stop offset=".949" stop-color="#b0b0b0"/><stop offset="1" stop-color="#b0b0b0"/></linearGradient><clipPath id="cld"><path d="M1206.7,864.3L1205.7,873.5L1203.7,875.4L1201.8,877.5L1199.9,879.6L1198.2,881.8L1194.2,881.8L1191.7,882.5L1189.2,882.9L1186.6,882.9L1184.0,882.7L1181.5,882.2L1178.9,881.6L1176.5,880.8L1174.1,879.8L1171.8,878.7L1169.6,877.4L1167.5,875.9L1165.3,874.5L1163.1,873.0L1160.9,871.6L1158.9,869.9L1157.4,867.9L1156.5,864.3L1138.5,864.3L1137.4,867.7L1135.7,869.4L1133.5,870.7L1131.1,871.8L1128.7,872.8L1126.3,873.8L1124.0,875.0L1121.9,876.3L1119.8,877.6L1117.7,879.0L1115.7,880.4L1113.7,881.8L1111.6,883.3L1109.7,884.9L1107.7,886.5L1105.8,888.1L1103.9,889.8L1102.1,891.6L1100.4,893.4L1098.7,895.3L1097.1,897.2L1095.6,899.2L1094.1,901.2L1092.7,903.3L1091.3,905.5L1090.1,907.6L1088.9,909.8L1087.7,912.1L1086.6,914.3L1085.6,916.6L1084.6,918.9L1083.6,921.2L1082.7,923.6L1081.8,925.9L1081.0,928.3L1080.1,930.7L1079.3,933.1L1078.6,935.5L1077.9,937.9L1077.2,940.3L1076.6,942.7L1076.0,945.2L1075.5,947.6L1075.0,950.1L1074.6,952.6L1074.2,955.1L1073.9,957.6L1073.7,960.1L1073.6,962.6L1073.5,965.1L1073.5,967.6L1073.5,970.1L1073.6,972.6L1073.8,975.1L1074.1,977.6L1074.4,980.1L1074.8,982.6L1075.2,985.1L1075.7,987.6L1076.2,990.0L1076.8,992.5L1077.5,994.9L1078.2,997.3L1079.0,999.7L1079.8,1002.1L1080.6,1004.4L1081.5,1006.8L1082.4,1009.1L1083.3,1011.5L1084.3,1013.8L1085.3,1016.1L1086.4,1018.4L1087.4,1020.7L1088.5,1022.9L1089.7,1025.1L1090.9,1027.3L1092.2,1029.5L1093.5,1031.7L1094.8,1033.8L1096.2,1035.9L1097.7,1037.9L1099.1,1040.0L1100.7,1042.0L1102.2,1043.9L1103.8,1045.9L1105.4,1047.8L1107.1,1049.7L1108.7,1051.6L1110.4,1053.5L1112.1,1055.3L1113.9,1057.1L1115.6,1058.9L1117.4,1060.7L1119.2,1062.4L1121.1,1064.1L1123.0,1065.8L1124.9,1067.4L1126.8,1069.0L1128.8,1070.5L1130.8,1072.1L1132.8,1073.6L1134.9,1075.0L1136.9,1076.5L1139.0,1077.9L1141.1,1079.3L1143.2,1080.6L1145.4,1082.0L1147.5,1083.3L1149.6,1084.6L1151.8,1085.9L1154.0,1087.1L1156.2,1088.3L1158.4,1089.5L1160.6,1090.7L1162.9,1091.8L1165.1,1092.9L1167.4,1093.9L1169.7,1094.9L1172.0,1095.9L1174.4,1096.8L1176.7,1097.7L1179.1,1098.6L1181.4,1099.4L1183.8,1100.2L1186.2,1101.0L1188.6,1101.7L1191.0,1102.4L1193.5,1103.1L1195.9,1103.8L1198.3,1104.4L1200.8,1105.0L1203.2,1105.5L1205.7,1106.0L1208.2,1106.5L1210.6,1107.0L1213.1,1107.4L1215.6,1107.7L1218.1,1108.1L1220.6,1108.4L1223.1,1108.6L1225.6,1108.9L1228.1,1109.1L1230.6,1109.3L1233.1,1109.4L1235.6,1109.5L1238.1,1109.6L1240.6,1109.7L1243.1,1109.8L1245.7,1109.8L1248.2,1109.8L1250.7,1109.8L1253.2,1109.7L1255.7,1109.6L1258.2,1109.4L1260.7,1109.2L1263.2,1108.9L1265.7,1108.6L1268.2,1108.2L1270.6,1107.8L1273.1,1107.3L1275.6,1106.8L1278.0,1106.2L1280.5,1105.6L1282.9,1105.0L1285.3,1104.3L1287.8,1103.6L1290.2,1102.9L1292.6,1102.2L1295.0,1101.4L1297.3,1100.6L1299.7,1099.8L1302.1,1099.0L1304.5,1098.2L1306.8,1097.4L1309.2,1096.5L1311.5,1095.6L1313.9,1094.7L1316.2,1093.8L1318.6,1092.8L1320.9,1091.9L1323.2,1090.9L1325.5,1089.9L1327.8,1088.9L1330.1,1088.0L1332.5,1087.1L1334.8,1086.2L1337.2,1085.4L1339.6,1084.7L1342.1,1084.0L1344.5,1083.5L1347.0,1083.1L1349.5,1082.7L1352.0,1082.6L1354.5,1082.5L1357.0,1082.6L1359.5,1082.7L1362.0,1083.1L1364.5,1083.5L1366.9,1084.0L1369.4,1084.7L1371.8,1085.4L1374.2,1086.2L1376.5,1087.1L1378.9,1088.0L1381.2,1088.9L1383.5,1089.9L1385.8,1090.9L1388.1,1091.9L1390.4,1092.8L1392.8,1093.8L1395.1,1094.7L1397.5,1095.6L1399.8,1096.5L1402.2,1097.4L1404.5,1098.2L1406.9,1099.0L1409.3,1099.8L1411.7,1100.6L1414.0,1101.4L1416.4,1102.2L1418.8,1102.9L1421.2,1103.6L1423.7,1104.3L1426.1,1105.0L1428.5,1105.6L1431.0,1106.2L1433.4,1106.8L1435.9,1107.3L1438.4,1107.8L1440.8,1108.2L1443.3,1108.6L1445.8,1108.9L1448.3,1109.2L1450.8,1109.4L1453.3,1109.6L1455.8,1109.7L1458.3,1109.8L1460.8,1109.8L1463.3,1109.8L1465.9,1109.8L1468.4,1109.7L1470.9,1109.6L1473.4,1109.5L1475.9,1109.4L1478.4,1109.3L1480.9,1109.1L1483.4,1108.9L1485.9,1108.6L1488.4,1108.4L1490.9,1108.1L1493.4,1107.7L1495.9,1107.4L1498.4,1107.0L1500.8,1106.5L1503.3,1106.0L1505.8,1105.5L1508.2,1105.0L1510.7,1104.4L1513.1,1103.8L1515.5,1103.1L1518.0,1102.4L1520.4,1101.7L1522.8,1101.0L1525.2,1100.2L1527.6,1099.4L1529.9,1098.6L1532.3,1097.7L1534.6,1096.8L1537.0,1095.9L1539.3,1094.9L1541.6,1093.9L1543.9,1092.9L1546.1,1091.8L1548.4,1090.7L1550.6,1089.5L1552.8,1088.3L1555.0,1087.1L1557.2,1085.9L1559.4,1084.6L1561.5,1083.3L1563.6,1082.0L1565.8,1080.6L1567.9,1079.3L1570.0,1077.9L1572.1,1076.5L1574.1,1075.0L1576.2,1073.6L1578.2,1072.1L1580.2,1070.5L1582.2,1069.0L1584.1,1067.4L1586.0,1065.8L1587.9,1064.1L1589.8,1062.4L1591.6,1060.7L1593.4,1058.9L1595.1,1057.1L1596.9,1055.3L1598.6,1053.5L1600.3,1051.6L1601.9,1049.7L1603.6,1047.8L1605.2,1045.9L1606.8,1043.9L1608.3,1042.0L1609.9,1040.0L1611.3,1037.9L1612.8,1035.9L1614.2,1033.8L1615.5,1031.7L1616.8,1029.5L1618.1,1027.3L1619.3,1025.1L1620.5,1022.9L1621.6,1020.7L1622.6,1018.4L1623.7,1016.1L1624.7,1013.8L1625.7,1011.5L1626.6,1009.1L1627.5,1006.8L1628.4,1004.4L1629.2,1002.1L1630.0,999.7L1630.8,997.3L1631.5,994.9L1632.2,992.5L1632.8,990.0L1633.3,987.6L1633.8,985.1L1634.2,982.6L1634.6,980.1L1634.9,977.6L1635.2,975.1L1635.4,972.6L1635.5,970.1L1635.5,967.6L1635.5,965.1L1635.4,962.6L1635.3,960.1L1635.1,957.6L1634.8,955.1L1634.4,952.6L1634.0,950.1L1633.5,947.6L1633.0,945.2L1632.4,942.7L1631.8,940.3L1631.1,937.9L1630.4,935.5L1629.7,933.1L1628.9,930.7L1628.0,928.3L1627.2,925.9L1626.3,923.6L1625.4,921.2L1624.4,918.9L1623.4,916.6L1622.4,914.3L1621.3,912.1L1620.1,909.8L1618.9,907.6L1617.7,905.5L1616.3,903.3L1614.9,901.2L1613.4,899.2L1611.9,897.2L1610.3,895.3L1608.6,893.4L1606.9,891.6L1605.1,889.8L1603.2,888.1L1601.3,886.5L1599.3,884.9L1597.4,883.3L1595.3,881.8L1593.3,880.4L1591.3,879.0L1589.2,877.6L1587.1,876.3L1585.0,875.0L1582.7,873.8L1580.3,872.8L1577.9,871.8L1575.5,870.7L1573.3,869.4L1571.6,867.7L1570.5,864.3L1552.5,864.3L1551.6,867.9L1550.1,869.9L1548.1,871.6L1545.9,873.0L1543.7,874.5L1541.5,875.9L1539.4,877.4L1537.2,878.7L1534.9,879.8L1532.5,880.8L1530.1,881.6L1527.5,882.2L1525.0,882.7L1522.4,882.9L1519.8,882.9L1517.3,882.5L1514.8,881.8L1512.5,880.5L1509.1,879.6L1507.2,877.5L1505.3,875.4L1503.3,873.5L1502.3,864.3L1410.4,864.3L1409.3,873.5L1407.5,875.2L1405.8,877.1L1404.1,879.0L1402.5,881.0L1400.9,883.0L1398.4,884.2L1396.3,885.7L1394.2,887.2L1392.1,888.7L1389.9,890.1L1387.8,891.5L1385.6,892.9L1383.4,894.3L1381.2,895.6L1378.9,896.9L1376.6,898.1L1374.3,899.3L1372.0,900.4L1369.6,901.4L1367.2,902.3L1364.8,903.1L1362.3,903.7L1359.7,904.2L1357.1,904.4L1354.5,904.5L1351.9,904.4L1349.3,904.2L1346.7,903.7L1344.2,903.1L1341.8,902.3L1339.4,901.4L1337.0,900.4L1334.7,899.3L1332.4,898.1L1330.1,896.9L1327.8,895.6L1325.6,894.3L1323.4,892.9L1321.2,891.5L1319.1,890.1L1316.9,888.7L1314.8,887.2L1312.7,885.7L1310.6,884.2L1308.5,882.7L1306.5,881.0L1304.9,879.0L1303.2,877.1L1301.5,875.2L1299.7,873.5L1298.6,864.3Z"/></clipPath><clipPath id="ctd"><rect x="1054.4" y="729.1" width="600.2" height="136.4"/></clipPath></defs>
<rect x="1054.4" y="865.5" width="600.2" height="306.6" fill="#c1c1c1"/>
<g clip-path="url(#ctd)"><g filter="url(#jt)"><g id="Td"><rect x="1042.65" y="729.1" width="6.48" height="136.4" fill="url(#d0)"/><rect x="1048.54" y="729.1" width="6.48" height="136.4" fill="url(#d1)"/><rect x="1054.42" y="729.1" width="6.48" height="136.4" fill="url(#d2)"/><rect x="1060.30" y="729.1" width="6.48" height="136.4" fill="url(#d3)"/><rect x="1066.19" y="729.1" width="6.48" height="136.4" fill="url(#d4)"/><rect x="1072.07" y="729.1" width="6.48" height="136.4" fill="url(#d5)"/><rect x="1077.96" y="729.1" width="6.48" height="136.4" fill="url(#d6)"/><rect x="1083.84" y="729.1" width="6.48" height="136.4" fill="url(#d7)"/><rect x="1089.72" y="729.1" width="6.48" height="136.4" fill="url(#d8)"/><rect x="1095.61" y="729.1" width="6.48" height="136.4" fill="url(#d9)"/><rect x="1101.49" y="729.1" width="6.48" height="136.4" fill="url(#d10)"/><rect x="1107.38" y="729.1" width="6.48" height="136.4" fill="url(#d11)"/><rect x="1113.26" y="729.1" width="6.48" height="136.4" fill="url(#d12)"/><rect x="1119.14" y="729.1" width="6.48" height="136.4" fill="url(#d13)"/><rect x="1125.03" y="729.1" width="6.48" height="136.4" fill="url(#d14)"/><rect x="1130.91" y="729.1" width="6.48" height="136.4" fill="url(#d15)"/><rect x="1136.79" y="729.1" width="6.48" height="136.4" fill="url(#d16)"/><rect x="1142.68" y="729.1" width="6.48" height="136.4" fill="url(#d17)"/><rect x="1148.56" y="729.1" width="6.48" height="136.4" fill="url(#d18)"/><rect x="1154.45" y="729.1" width="6.48" height="136.4" fill="url(#d19)"/><rect x="1160.33" y="729.1" width="6.48" height="136.4" fill="url(#d20)"/><rect x="1166.21" y="729.1" width="6.48" height="136.4" fill="url(#d21)"/><rect x="1172.10" y="729.1" width="6.48" height="136.4" fill="url(#d22)"/><rect x="1177.98" y="729.1" width="6.48" height="136.4" fill="url(#d23)"/><rect x="1183.87" y="729.1" width="6.48" height="136.4" fill="url(#d24)"/><rect x="1189.75" y="729.1" width="6.48" height="136.4" fill="url(#d25)"/><rect x="1195.63" y="729.1" width="6.48" height="136.4" fill="url(#d26)"/><rect x="1201.52" y="729.1" width="6.48" height="136.4" fill="url(#d27)"/><rect x="1207.40" y="729.1" width="6.48" height="136.4" fill="url(#d28)"/><rect x="1213.29" y="729.1" width="6.48" height="136.4" fill="url(#d29)"/><rect x="1219.17" y="729.1" width="6.48" height="136.4" fill="url(#d30)"/><rect x="1225.05" y="729.1" width="6.48" height="136.4" fill="url(#d31)"/><rect x="1230.94" y="729.1" width="6.48" height="136.4" fill="url(#d32)"/><rect x="1236.82" y="729.1" width="6.48" height="136.4" fill="url(#d33)"/><rect x="1242.71" y="729.1" width="6.48" height="136.4" fill="url(#d34)"/><rect x="1248.59" y="729.1" width="6.48" height="136.4" fill="url(#d35)"/><rect x="1254.47" y="729.1" width="6.48" height="136.4" fill="url(#d36)"/><rect x="1260.36" y="729.1" width="6.48" height="136.4" fill="url(#d37)"/><rect x="1266.24" y="729.1" width="6.48" height="136.4" fill="url(#d38)"/><rect x="1272.13" y="729.1" width="6.48" height="136.4" fill="url(#d39)"/><rect x="1278.01" y="729.1" width="6.48" height="136.4" fill="url(#d40)"/><rect x="1283.89" y="729.1" width="6.48" height="136.4" fill="url(#d41)"/><rect x="1289.78" y="729.1" width="6.48" height="136.4" fill="url(#d42)"/><rect x="1295.66" y="729.1" width="6.48" height="136.4" fill="url(#d43)"/><rect x="1301.54" y="729.1" width="6.48" height="136.4" fill="url(#d44)"/><rect x="1307.43" y="729.1" width="6.48" height="136.4" fill="url(#d45)"/><rect x="1313.31" y="729.1" width="6.48" height="136.4" fill="url(#d46)"/><rect x="1319.20" y="729.1" width="6.48" height="136.4" fill="url(#d47)"/><rect x="1325.08" y="729.1" width="6.48" height="136.4" fill="url(#d48)"/><rect x="1330.96" y="729.1" width="6.48" height="136.4" fill="url(#d49)"/><rect x="1336.85" y="729.1" width="6.48" height="136.4" fill="url(#d50)"/><rect x="1342.73" y="729.1" width="6.48" height="136.4" fill="url(#d51)"/><rect x="1348.62" y="729.1" width="6.48" height="136.4" fill="url(#d52)"/></g><use href="#Td" transform="translate(2709.00,0) scale(-1,1)"/></g></g>
<g clip-path="url(#cld)"><g filter="url(#jl)"><g id="Ld"><rect x="1054.42" y="863.5" width="6.48" height="127.1" fill="url(#d2b)"/><rect x="1060.30" y="863.5" width="6.48" height="148.9" fill="url(#d3b)"/><rect x="1066.19" y="863.5" width="6.48" height="162.9" fill="url(#d4b)"/><rect x="1072.07" y="863.5" width="6.48" height="174" fill="url(#d5b)"/><rect x="1077.96" y="863.5" width="6.48" height="182.4" fill="url(#d6b)"/><rect x="1083.84" y="863.5" width="6.48" height="190.4" fill="url(#d7b)"/><rect x="1089.72" y="863.5" width="6.48" height="196.1" fill="url(#d8b)"/><rect x="1095.61" y="863.5" width="6.48" height="203.4" fill="url(#d9b)"/><rect x="1101.49" y="863.5" width="6.48" height="208.6" fill="url(#d10b)"/><rect x="1107.38" y="863.5" width="6.48" height="213.5" fill="url(#d11b)"/><rect x="1113.26" y="863.5" width="6.48" height="218.1" fill="url(#d12b)"/><rect x="1119.14" y="863.5" width="6.48" height="222.4" fill="url(#d13b)"/><rect x="1125.03" y="863.5" width="6.48" height="226.5" fill="url(#d14b)"/><rect x="1130.91" y="863.5" width="6.48" height="229.1" fill="url(#d15b)"/><rect x="1136.79" y="863.5" width="6.48" height="232.8" fill="url(#d16b)"/><rect x="1142.68" y="863.5" width="6.48" height="236.3" fill="url(#d17b)"/><rect x="1148.56" y="863.5" width="6.48" height="238.4" fill="url(#d18b)"/><rect x="1154.45" y="863.5" width="6.48" height="241.3" fill="url(#d19b)"/><rect x="1160.33" y="863.5" width="6.48" height="243.1" fill="url(#d20b)"/><rect x="1166.21" y="863.5" width="6.48" height="245.5" fill="url(#d21b)"/><rect x="1172.10" y="863.5" width="6.48" height="246.9" fill="url(#d22b)"/><rect x="1177.98" y="863.5" width="6.48" height="248.9" fill="url(#d23b)"/><rect x="1183.87" y="863.5" width="6.48" height="250" fill="url(#d24b)"/><rect x="1189.75" y="863.5" width="6.48" height="251" fill="url(#d25b)"/><rect x="1195.63" y="863.5" width="6.48" height="252.2" fill="url(#d26b)"/><rect x="1201.52" y="863.5" width="6.48" height="252.9" fill="url(#d27b)"/><rect x="1207.40" y="863.5" width="6.48" height="253.4" fill="url(#d28b)"/><rect x="1213.29" y="863.5" width="6.48" height="253.9" fill="url(#d29b)"/><rect x="1219.17" y="863.5" width="6.48" height="254.1" fill="url(#d30b)"/><rect x="1225.05" y="863.5" width="6.48" height="254.3" fill="url(#d31b)"/><rect x="1230.94" y="863.5" width="6.48" height="254.3" fill="url(#d32b)"/><rect x="1236.82" y="863.5" width="6.48" height="254.3" fill="url(#d33b)"/><rect x="1242.71" y="863.5" width="6.48" height="254.3" fill="url(#d34b)"/><rect x="1248.59" y="863.5" width="6.48" height="254.3" fill="url(#d35b)"/><rect x="1254.47" y="863.5" width="6.48" height="254.3" fill="url(#d36b)"/><rect x="1260.36" y="863.5" width="6.48" height="254.3" fill="url(#d37b)"/><rect x="1266.24" y="863.5" width="6.48" height="254.2" fill="url(#d38b)"/><rect x="1272.13" y="863.5" width="6.48" height="253.9" fill="url(#d39b)"/><rect x="1278.01" y="863.5" width="6.48" height="253.1" fill="url(#d40b)"/><rect x="1283.89" y="863.5" width="6.48" height="252.3" fill="url(#d41b)"/><rect x="1289.78" y="863.5" width="6.48" height="251.3" fill="url(#d42b)"/><rect x="1295.66" y="863.5" width="6.48" height="249.5" fill="url(#d43b)"/><rect x="1301.54" y="863.5" width="6.48" height="248.1" fill="url(#d44b)"/><rect x="1307.43" y="863.5" width="6.48" height="245.9" fill="url(#d45b)"/><rect x="1313.31" y="863.5" width="6.48" height="244.3" fill="url(#d46b)"/><rect x="1319.20" y="863.5" width="6.48" height="241.9" fill="url(#d47b)"/><rect x="1325.08" y="863.5" width="6.48" height="240.1" fill="url(#d48b)"/><rect x="1330.96" y="863.5" width="6.48" height="237.3" fill="url(#d49b)"/><rect x="1336.85" y="863.5" width="6.48" height="235.4" fill="url(#d50b)"/><rect x="1342.73" y="863.5" width="6.48" height="232.5" fill="url(#d51b)"/><rect x="1348.62" y="863.5" width="6.48" height="230.7" fill="url(#d52b)"/></g><use href="#Ld" transform="translate(2709.00,0) scale(-1,1)"/></g></g>
<path d="M1054.4,729.1V1172.1H1655.2" fill="none" stroke="#262626" stroke-width="1.3"/>
<path d="M1053.8,729.1H1655.9" stroke="#000" stroke-width="2.4000000000000004" fill="none"/>
<path d="M1054.4,865.5L1215.9,865.5A68.5,68.5 0 1 0 1289.4,865.5L1419.6,865.5A68.5,68.5 0 1 0 1493.1,865.5L1655.9,865.5" stroke="#000" stroke-width="2.2" fill="none" stroke-linejoin="round"/>
<rect x="1732.8" y="718.6" width="50.4" height="447.0" fill="url(#cbg)" stroke="#1a1a1a" stroke-width="2.2"/><path d="M1777.7,1053.8H1783.2" stroke="#1a1a1a" stroke-width="2"/><path d="M1777.7,942.1H1783.2" stroke="#1a1a1a" stroke-width="2"/><path d="M1777.7,830.4H1783.2" stroke="#1a1a1a" stroke-width="2"/>
</g>
<text x="416.5" y="39.0" font-size="39.5" text-anchor="middle" style="fill:#000">a) t = 1 s</text>
<text x="253.1" y="546.0" font-size="40" text-anchor="middle">-1</text>
<text x="416.5" y="546.0" font-size="40" text-anchor="middle">0</text>
<text x="579.9" y="546.0" font-size="40" text-anchor="middle">1</text>
<text x="111.1" y="69.6" font-size="40" text-anchor="end">1</text>
<text x="111.1" y="151.3" font-size="40" text-anchor="end">0.5</text>
<text x="111.1" y="233.0" font-size="40" text-anchor="end">0</text>
<text x="111.1" y="314.7" font-size="40" text-anchor="end">-0.5</text>
<text x="111.1" y="396.4" font-size="40" text-anchor="end">-1</text>
<text x="111.1" y="478.1" font-size="40" text-anchor="end">-1.5</text>
<text x="416.7" y="593.6" font-size="40.5" text-anchor="middle">x (m)</text>
<text transform="translate(30.7,277.3) rotate(-90)" font-size="40.5" text-anchor="middle">y (m)</text>
<text x="125.5" y="53.6" font-size="50" style="font-weight:normal">×</text><text x="155.4" y="46.8" font-size="40">10</text><text x="195.6" y="26.5" font-size="31">-5</text>
<text x="614.2" y="611.6" font-size="50" style="font-weight:normal">×</text><text x="644.1" y="604.8" font-size="40">10</text><text x="684.3" y="584.5" font-size="31">-5</text>
<text x="1358.0" y="35.6" font-size="39.5" text-anchor="middle" style="fill:#000">b) t = 3 s</text>
<text x="1194.6" y="542.6" font-size="40" text-anchor="middle">-1</text>
<text x="1358.0" y="542.6" font-size="40" text-anchor="middle">0</text>
<text x="1521.4" y="542.6" font-size="40" text-anchor="middle">1</text>
<text x="1052.3" y="66.2" font-size="40" text-anchor="end">1</text>
<text x="1052.3" y="147.9" font-size="40" text-anchor="end">0.5</text>
<text x="1052.3" y="229.6" font-size="40" text-anchor="end">0</text>
<text x="1052.3" y="311.3" font-size="40" text-anchor="end">-0.5</text>
<text x="1052.3" y="393.0" font-size="40" text-anchor="end">-1</text>
<text x="1052.3" y="474.7" font-size="40" text-anchor="end">-1.5</text>
<text x="1358.1" y="590.2" font-size="40.5" text-anchor="middle">x (m)</text>
<text transform="translate(971.9,273.9) rotate(-90)" font-size="40.5" text-anchor="middle">y (m)</text>
<text x="1066.7" y="50.2" font-size="50" style="font-weight:normal">×</text><text x="1096.6" y="43.4" font-size="40">10</text><text x="1136.8" y="23.1" font-size="31">-5</text>
<text x="1555.9" y="608.2" font-size="50" style="font-weight:normal">×</text><text x="1585.8" y="601.4" font-size="40">10</text><text x="1626.0" y="581.1" font-size="31">-5</text>
<text x="410.0" y="718.2" font-size="39.5" text-anchor="middle" style="fill:#000">c) t = 5.5 s</text>
<text x="118.0" y="1222.3" font-size="40" text-anchor="middle">-2</text>
<text x="264.0" y="1222.3" font-size="40" text-anchor="middle">-1</text>
<text x="410.0" y="1222.3" font-size="40" text-anchor="middle">0</text>
<text x="556.0" y="1222.3" font-size="40" text-anchor="middle">1</text>
<text x="702.0" y="1222.3" font-size="40" text-anchor="middle">2</text>
<text x="107.0" y="748.8" font-size="40" text-anchor="end">1</text>
<text x="107.0" y="894.8" font-size="40" text-anchor="end">0</text>
<text x="107.0" y="1040.8" font-size="40" text-anchor="end">-1</text>
<text x="107.0" y="1186.8" font-size="40" text-anchor="end">-2</text>
<text x="410.6" y="1269.9" font-size="40.5" text-anchor="middle">x (m)</text>
<text transform="translate(56.4,955.1) rotate(-90)" font-size="40.5" text-anchor="middle">y (m)</text>
<text x="121.4" y="732.8" font-size="50" style="font-weight:normal">×</text><text x="151.3" y="726.0" font-size="40">10</text><text x="191.5" y="705.7" font-size="31">-5</text>
<text x="606.2" y="1287.9" font-size="50" style="font-weight:normal">×</text><text x="636.1" y="1281.1" font-size="40">10</text><text x="676.3" y="1260.8" font-size="31">-5</text>
<text x="1354.5" y="712.1" font-size="39.5" text-anchor="middle" style="fill:#000">d) t = 8 s</text>
<text x="1081.7" y="1221.4" font-size="40" text-anchor="middle">-2</text>
<text x="1218.1" y="1221.4" font-size="40" text-anchor="middle">-1</text>
<text x="1354.5" y="1221.4" font-size="40" text-anchor="middle">0</text>
<text x="1490.9" y="1221.4" font-size="40" text-anchor="middle">1</text>
<text x="1627.3" y="1221.4" font-size="40" text-anchor="middle">2</text>
<text x="1043.1" y="742.7" font-size="40" text-anchor="end">1</text>
<text x="1043.1" y="879.1" font-size="40" text-anchor="end">0</text>
<text x="1043.1" y="1015.5" font-size="40" text-anchor="end">-1</text>
<text x="1043.1" y="1151.9" font-size="40" text-anchor="end">-2</text>
<text x="1355.0" y="1269.0" font-size="40.5" text-anchor="middle">x (m)</text>
<text transform="translate(993.0,951.6) rotate(-90)" font-size="40.5" text-anchor="middle">y (m)</text>
<text x="1057.5" y="726.7" font-size="50" style="font-weight:normal">×</text><text x="1087.4" y="719.9" font-size="40">10</text><text x="1127.6" y="699.6" font-size="31">-5</text>
<text x="1558.8" y="1287.0" font-size="50" style="font-weight:normal">×</text><text x="1588.7" y="1280.2" font-size="40">10</text><text x="1628.9" y="1259.9" font-size="31">-5</text>
<text x="850.0" y="401.4" font-size="40" text-anchor="start">1</text>
<text x="850.0" y="289.6" font-size="40" text-anchor="start">2</text>
<text x="850.0" y="177.8" font-size="40" text-anchor="start">3</text>
<text x="850.0" y="65.9" font-size="40" text-anchor="start">4</text>
<text x="1799.5" y="399.9" font-size="40" text-anchor="start">1</text>
<text x="1799.5" y="286.4" font-size="40" text-anchor="start">2</text>
<text x="1799.5" y="173.0" font-size="40" text-anchor="start">3</text>
<text x="1799.5" y="59.6" font-size="40" text-anchor="start">4</text>
<text x="846.8" y="1085.3" font-size="40" text-anchor="start">1</text>
<text x="846.8" y="972.0" font-size="40" text-anchor="start">2</text>
<text x="846.8" y="858.6" font-size="40" text-anchor="start">3</text>
<text x="846.8" y="745.2" font-size="40" text-anchor="start">4</text>
<text x="1799.5" y="1067.1" font-size="40" text-anchor="start">1</text>
<text x="1799.5" y="955.4" font-size="40" text-anchor="start">2</text>
<text x="1799.5" y="843.6" font-size="40" text-anchor="start">3</text>
<text x="1799.5" y="731.9" font-size="40" text-anchor="start">4</text>
</svg></body></html>
